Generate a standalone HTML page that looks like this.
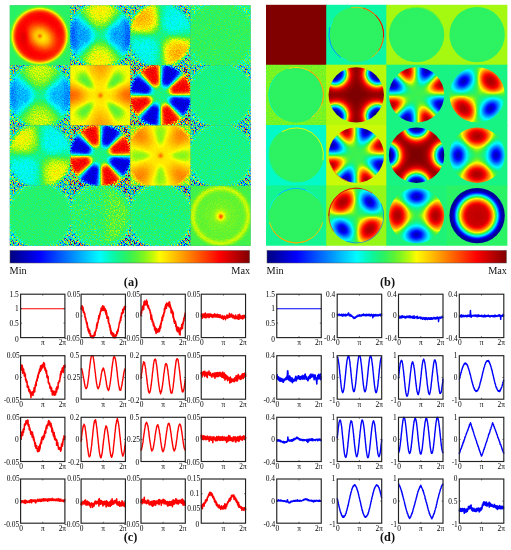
<!DOCTYPE html><html><head><meta charset="utf-8"><title>Mueller matrix</title><style>html,body{margin:0;padding:0;background:#fff}svg{display:block}</style></head><body><svg width="511" height="550" viewBox="0 0 511 550"><defs><filter id="fa" color-interpolation-filters="sRGB" x="0" y="0" width="1" height="1">
<feGaussianBlur in="SourceGraphic" stdDeviation="1.1" result="b"/>
<feColorMatrix in="b" type="matrix" values="0 1 0 0 0 0 0 0 0 0 0 0 0 0 0 0 0 0 0 1" result="a"/>
<feTurbulence type="fractalNoise" baseFrequency="0.8" numOctaves="2" seed="7"/>
<feColorMatrix type="matrix" values="2.4 0 0 0 -0.7 0 0 0 0 0 0 0 0 0 0 0 0 0 0 1" result="n"/>
<feComposite in="a" in2="n" operator="arithmetic" k1="1" k2="0" k3="0" k4="0" result="an"/>
<feComposite in="b" in2="an" operator="arithmetic" k1="0" k2="1" k3="1" k4="0"/>
<feColorMatrix type="matrix" values="1 0 0 0 0 1 0 0 0 0 1 0 0 0 0 0 0 0 0 1"/>
<feComponentTransfer><feFuncR type="table" tableValues="0 0 0 0 0 0 0 0 0 0 0 0 0 0 0 0 0 0 0 0 0 0 0 0 0 0.002 0.01 0.025 0.047 0.077 0.116 0.162 0.218 0.282 0.356 0.439 0.531 0.633 0.745 0.868 1 1 1 1 1 1 1 1 1 1 1 1 1 1 1 1 1 0.938 0.875 0.812 0.75 0.688 0.625 0.562 0.5"/><feFuncG type="table" tableValues="0 0 0 0 0 0 0 0 0 0.062 0.125 0.187 0.25 0.312 0.375 0.437 0.5 0.562 0.625 0.687 0.749 0.81 0.871 0.931 0.99 0.985 0.979 0.973 0.966 0.96 0.955 0.951 0.95 0.951 0.955 0.96 0.966 0.973 0.979 0.985 0.99 0.931 0.871 0.81 0.749 0.687 0.625 0.562 0.5 0.437 0.375 0.312 0.25 0.187 0.125 0.062 0 0 0 0 0 0 0 0 0"/><feFuncB type="table" tableValues="0.5 0.562 0.625 0.688 0.75 0.812 0.875 0.938 1 1 1 1 1 1 1 1 1 1 1 1 1 1 1 1 1 0.902 0.808 0.717 0.631 0.549 0.471 0.398 0.33 0.266 0.208 0.156 0.109 0.069 0.036 0.012 0 0 0 0 0 0 0 0 0 0 0 0 0 0 0 0 0 0 0 0 0 0 0 0 0"/></feComponentTransfer><feGaussianBlur stdDeviation="0.55"/>
</filter><filter id="fb" color-interpolation-filters="sRGB" x="0" y="0" width="1" height="1">
<feGaussianBlur in="SourceGraphic" stdDeviation="1.1" result="b"/>
<feColorMatrix in="b" type="matrix" values="0 1 0 0 0 0 0 0 0 0 0 0 0 0 0 0 0 0 0 1" result="a"/>
<feTurbulence type="fractalNoise" baseFrequency="0.8" numOctaves="2" seed="7"/>
<feColorMatrix type="matrix" values="2.4 0 0 0 -0.7 0 0 0 0 0 0 0 0 0 0 0 0 0 0 1" result="n"/>
<feComposite in="a" in2="n" operator="arithmetic" k1="1" k2="0" k3="0" k4="0" result="an"/>
<feComposite in="b" in2="an" operator="arithmetic" k1="0" k2="1" k3="1" k4="0"/>
<feColorMatrix type="matrix" values="1 0 0 0 0 1 0 0 0 0 1 0 0 0 0 0 0 0 0 1"/>
<feComponentTransfer><feFuncR type="table" tableValues="0 0 0 0 0 0 0 0 0 0 0 0 0 0 0 0 0 0 0 0 0 0 0 0 0 0.002 0.01 0.025 0.047 0.077 0.116 0.162 0.218 0.282 0.356 0.439 0.531 0.633 0.745 0.868 1 1 1 1 1 1 1 1 1 1 1 1 1 1 1 1 1 0.938 0.875 0.812 0.75 0.688 0.625 0.562 0.5"/><feFuncG type="table" tableValues="0 0 0 0 0 0 0 0 0 0.062 0.125 0.187 0.25 0.312 0.375 0.437 0.5 0.562 0.625 0.687 0.749 0.81 0.871 0.931 0.99 0.985 0.979 0.973 0.966 0.96 0.955 0.951 0.95 0.951 0.955 0.96 0.966 0.973 0.979 0.985 0.99 0.931 0.871 0.81 0.749 0.687 0.625 0.562 0.5 0.437 0.375 0.312 0.25 0.187 0.125 0.062 0 0 0 0 0 0 0 0 0"/><feFuncB type="table" tableValues="0.5 0.562 0.625 0.688 0.75 0.812 0.875 0.938 1 1 1 1 1 1 1 1 1 1 1 1 1 1 1 1 1 0.902 0.808 0.717 0.631 0.549 0.471 0.398 0.33 0.266 0.208 0.156 0.109 0.069 0.036 0.012 0 0 0 0 0 0 0 0 0 0 0 0 0 0 0 0 0 0 0 0 0 0 0 0 0"/></feComponentTransfer>
</filter><clipPath id="c1"><rect x="9.80" y="5.30" width="60.50" height="60.00"/></clipPath><clipPath id="c2"><rect x="70.30" y="5.30" width="60.10" height="60.00"/></clipPath><clipPath id="c3"><rect x="130.40" y="5.30" width="60.20" height="60.00"/></clipPath><clipPath id="c4"><rect x="190.60" y="5.30" width="60.00" height="60.00"/></clipPath><clipPath id="c5"><rect x="9.80" y="65.30" width="60.50" height="60.20"/></clipPath><clipPath id="c6"><rect x="70.30" y="65.30" width="60.10" height="60.20"/></clipPath><clipPath id="c7"><rect x="130.40" y="65.30" width="60.20" height="60.20"/></clipPath><clipPath id="c8"><rect x="190.60" y="65.30" width="60.00" height="60.20"/></clipPath><clipPath id="c9"><rect x="9.80" y="125.50" width="60.50" height="60.20"/></clipPath><clipPath id="c10"><rect x="70.30" y="125.50" width="60.10" height="60.20"/></clipPath><clipPath id="c11"><rect x="130.40" y="125.50" width="60.20" height="60.20"/></clipPath><clipPath id="c12"><rect x="190.60" y="125.50" width="60.00" height="60.20"/></clipPath><clipPath id="c13"><rect x="9.80" y="185.70" width="60.50" height="60.10"/></clipPath><clipPath id="c14"><rect x="70.30" y="185.70" width="60.10" height="60.10"/></clipPath><clipPath id="c15"><rect x="130.40" y="185.70" width="60.20" height="60.10"/></clipPath><clipPath id="c16"><rect x="190.60" y="185.70" width="60.00" height="60.10"/></clipPath><clipPath id="cpb"><rect x="266.00" y="4.60" width="241.40" height="241.20"/></clipPath><clipPath id="cb10"><rect x="266.00" y="64.70" width="61.00" height="61.10"/></clipPath><clipPath id="c17"><circle cx="356.25" cy="34.65" r="27.70"/></clipPath><clipPath id="c18"><circle cx="416.55" cy="34.65" r="27.70"/></clipPath><clipPath id="c19"><circle cx="477.10" cy="34.65" r="27.70"/></clipPath><clipPath id="c20"><circle cx="296.10" cy="94.85" r="27.70"/></clipPath><clipPath id="c21"><circle cx="356.25" cy="94.85" r="27.70"/></clipPath><clipPath id="c22"><circle cx="416.55" cy="94.85" r="27.70"/></clipPath><clipPath id="c23"><circle cx="477.10" cy="94.85" r="27.70"/></clipPath><clipPath id="c24"><circle cx="296.10" cy="155.20" r="27.70"/></clipPath><clipPath id="c25"><circle cx="356.25" cy="155.20" r="27.70"/></clipPath><clipPath id="c26"><circle cx="416.55" cy="155.20" r="27.70"/></clipPath><clipPath id="c27"><circle cx="477.10" cy="155.20" r="27.70"/></clipPath><clipPath id="c28"><circle cx="296.10" cy="215.60" r="27.70"/></clipPath><clipPath id="c29"><circle cx="356.25" cy="215.60" r="27.70"/></clipPath><clipPath id="c30"><circle cx="416.55" cy="215.60" r="27.70"/></clipPath><clipPath id="c31"><circle cx="477.10" cy="215.60" r="27.70"/></clipPath><linearGradient id="cb"><stop offset="0.0000" stop-color="#000080"/><stop offset="0.0312" stop-color="#00009f"/><stop offset="0.0625" stop-color="#0000bf"/><stop offset="0.0938" stop-color="#0000df"/><stop offset="0.1250" stop-color="#0000ff"/><stop offset="0.1562" stop-color="#0020ff"/><stop offset="0.1875" stop-color="#0040ff"/><stop offset="0.2188" stop-color="#0060ff"/><stop offset="0.2500" stop-color="#007fff"/><stop offset="0.2812" stop-color="#009fff"/><stop offset="0.3125" stop-color="#00bfff"/><stop offset="0.3438" stop-color="#00deff"/><stop offset="0.3750" stop-color="#00fcff"/><stop offset="0.4062" stop-color="#03face"/><stop offset="0.4375" stop-color="#0cf6a1"/><stop offset="0.4688" stop-color="#1df378"/><stop offset="0.5000" stop-color="#37f254"/><stop offset="0.5312" stop-color="#5bf335"/><stop offset="0.5625" stop-color="#87f61c"/><stop offset="0.5938" stop-color="#befa09"/><stop offset="0.6250" stop-color="#fffc00"/><stop offset="0.6562" stop-color="#ffde00"/><stop offset="0.6875" stop-color="#ffbf00"/><stop offset="0.7188" stop-color="#ff9f00"/><stop offset="0.7500" stop-color="#ff7f00"/><stop offset="0.7812" stop-color="#ff6000"/><stop offset="0.8125" stop-color="#ff4000"/><stop offset="0.8438" stop-color="#ff2000"/><stop offset="0.8750" stop-color="#ff0000"/><stop offset="0.9062" stop-color="#df0000"/><stop offset="0.9375" stop-color="#bf0000"/><stop offset="0.9688" stop-color="#9f0000"/><stop offset="1.0000" stop-color="#800000"/></linearGradient></defs><rect width="511" height="550" fill="#fff"/><rect x="9.80" y="5.30" width="240.80" height="240.50" fill="#4a9a8a"/><g clip-path="url(#c1)"><g transform="translate(7,3)" filter="url(#fa)"><rect width="66" height="66" fill="#7a0300"/><g transform="translate(0,-1) scale(2)"><path stroke="#7c0300" d="M14 2h5M10 3h1M21 3h1M8 4h1M25 5h1M26 6h1M27 7h1M28 8h1M3 9h1M29 10h1M2 11h1M30 12h1M1 14h1M1 15h1M1 19h1M1 20h1M30 22h1M2 23h1M29 24h1M3 25h1M4 26h1M28 26h1M27 27h1M26 28h1M7 29h1M25 29h1M23 30h1M21 31h1M14 32h4"/><path stroke="#7e0300" d="M11 3h1M23 4h1M7 5h1M4 8h1M1 16h1M1 17h1M1 18h1M30 21h1M5 27h1M6 28h1M9 30h1M11 31h1"/><path stroke="#830300" d="M12 3h1M24 5h1M29 11h1M30 14h1M30 20h1M29 23h1M22 30h1"/><path stroke="#890300" d="M13 3h1M8 5h1M25 6h1M26 7h1M4 9h1M10 30h1"/><path stroke="#8f0300" d="M14 3h1M7 6h1M29 12h1M28 24h1M6 27h1M15 31h3"/><path stroke="#930300" d="M15 3h2M21 4h1M23 5h1M6 7h1M2 15h1M2 19h1"/><path stroke="#910300" d="M17 3h1M5 8h1M28 10h1M23 29h1M21 30h1"/><path stroke="#8d0300" d="M18 3h1M3 11h1M2 14h1M2 20h1M29 22h1M5 26h1M7 28h1"/><path stroke="#870300" d="M19 3h1M22 4h1M27 8h1M30 15h1M30 19h1M4 25h1M26 27h1M13 31h1"/><path stroke="#810300" d="M20 3h1M28 9h1M3 10h1M28 25h1M24 29h1M12 31h1"/><path stroke="#800300" d="M9 4h1M6 6h1M5 7h1M2 12h1M30 13h1M2 22h1M3 24h1M20 31h1"/><path stroke="#8b0300" d="M10 4h1M30 16h1M30 17h1M30 18h1M3 23h1M14 31h1M18 31h1"/><path stroke="#990300" d="M11 4h1M2 17h1M29 21h1M3 22h1"/><path stroke="#a50300" d="M12 4h1M25 7h1M29 14h1M17 16h1M16 19h1M18 19h1M29 20h1M5 25h1"/><path stroke="#af0300" d="M13 4h1M10 5h1M6 8h1M14 15h1M18 15h1M15 17h1M20 17h1M14 19h1M15 20h1M4 23h1"/><path stroke="#b70300" d="M14 4h1M23 6h1M18 14h1M21 18h1M13 19h1M21 19h1M14 20h1M20 21h1M15 30h1"/><path stroke="#bb0300" d="M15 4h2M15 13h2M13 14h1M3 15h1M20 15h1M12 16h1M12 17h1M3 19h1M17 22h3M26 25h1M24 27h1M9 28h1M11 29h1"/><path stroke="#b90300" d="M17 4h1M21 5h1M21 17h1M21 20h1M15 21h1M16 30h1"/><path stroke="#b50300" d="M18 4h1M28 12h1M14 14h1M13 15h1M19 15h1M20 16h1M21 29h1M17 30h1"/><path stroke="#ad0300" d="M19 4h1M7 7h1M29 15h1M19 16h1M20 18h1M20 19h1M29 19h1M19 20h1"/><path stroke="#a10300" d="M20 4h1M28 23h1M26 26h1M25 27h1M12 30h1"/><path stroke="#9b0300" d="M9 5h1M3 12h1M29 13h1M4 24h1M27 25h1M24 28h1"/><path stroke="#bf0300" d="M11 5h1M24 7h1M5 10h1M14 13h1M3 16h1M3 18h1M22 19h1M13 20h1M14 21h1M28 21h1M4 22h1M16 22h1M20 22h1"/><path stroke="#cb0300" d="M12 5h1M13 12h1M18 12h1M21 14h1M28 14h1M4 21h1M21 23h1M10 28h1"/><path stroke="#d10300" d="M13 5h1M23 7h1M26 10h1M13 11h1M17 11h1M24 18h1M28 18h1M24 19h1M11 20h1M24 20h1M14 23h1M16 24h1M25 25h1M24 26h1M18 29h1"/><path stroke="#d50300" d="M14 5h1M18 5h1M21 6h1M9 7h1M24 8h1M25 9h1M6 10h1M10 13h1M10 17h1M10 18h1M11 21h1M27 21h1M12 22h1M24 22h1M13 23h1M24 23h1M26 23h1M6 24h1M15 24h1M22 24h2M18 25h2M9 27h1M11 28h1M15 29h3"/><path stroke="#d70300" d="M15 5h3M11 6h1M8 8h1M7 9h1M13 10h4M11 11h1M19 11h1M5 12h1M10 12h1M21 12h1M22 13h1M23 14h1M4 15h1M24 16h1M25 18h1M4 19h1M10 19h1M25 19h1M25 20h3M25 21h2M5 22h1M25 22h2M25 23h1M14 24h1M24 24h2M7 25h1M17 25h1M20 25h5M8 26h1M22 26h2M22 27h1M20 28h1"/><path stroke="#cf0300" d="M19 5h1M10 6h1M5 11h1M14 11h3M19 12h1M28 15h1M23 16h1M28 19h1M12 21h1M13 22h1M23 22h1M27 22h1M5 23h1M22 23h1M17 24h4M23 27h1M13 29h1"/><path stroke="#c70300" d="M20 5h1M8 7h1M6 9h1M27 11h1M14 12h3M12 13h1M19 13h1M11 15h1M22 16h1M11 17h1M12 20h1M13 21h1M17 23h1M20 23h1M7 26h1M12 29h1"/><path stroke="#a70300" d="M22 5h1M8 6h1M15 16h1M18 16h1M15 18h1M19 18h1M19 19h1M3 21h1"/><path stroke="#bd0300" d="M9 6h1M26 9h1M17 13h1M19 14h1M12 15h1M21 16h1M12 18h1M21 21h1M5 24h1M25 26h1"/><path stroke="#db0300" d="M12 6h4M17 6h3M10 7h2M21 7h1M9 8h2M23 8h1M8 9h1M13 9h4M24 9h1M7 10h1M11 10h1M19 10h1M25 10h1M6 11h2M10 11h1M6 12h1M9 12h1M22 12h1M26 12h1M5 13h1M9 13h1M23 13h1M26 13h1M5 14h1M9 14h1M24 14h1M27 14h1M5 15h1M27 15h1M25 16h3M26 17h1M5 20h1M5 21h1M10 21h1M6 23h1M7 24h1M13 24h1M8 25h1M14 25h2M9 26h1M17 26h3M10 27h2M18 27h2M13 28h6"/><path stroke="#dd0300" d="M16 6h1M12 7h3M19 7h2M11 8h2M21 8h2M9 9h4M17 9h2M23 9h1M8 10h3M20 10h1M24 10h1M8 11h2M21 11h1M25 11h1M7 12h1M23 12h1M25 12h1M6 13h1M24 13h2M6 14h1M25 14h2M9 15h1M25 15h2M5 16h1M5 17h1M5 18h1M5 19h1M6 21h1M6 22h1M10 22h1M7 23h1M11 23h1M8 24h1M12 24h1M9 25h1M13 25h1M10 26h1M15 26h2M12 27h6"/><path stroke="#d90300" d="M20 6h1M22 7h1M12 10h1M17 10h2M20 11h1M26 11h1M27 13h1M24 15h1M4 16h1M4 17h1M25 17h1M27 17h1M4 18h1M26 18h2M26 19h2M10 20h1M11 22h1M12 23h1M16 25h1M20 26h2M20 27h2M12 28h1M19 28h1"/><path stroke="#c90300" d="M22 6h1M7 8h1M17 12h1M11 14h1M11 18h1M23 18h1M23 19h1M23 20h1M28 20h1M14 22h1M22 22h1M16 23h1"/><path stroke="#9f0300" d="M24 6h1"/><path stroke="#df0300" d="M15 7h4M13 8h8M19 9h4M21 10h3M22 11h3M8 12h1M24 12h1M7 13h2M7 14h2M6 15h1M6 16h1M9 16h1M6 17h1M6 18h1M6 19h1M6 20h1M7 22h1M8 23h1M10 23h1M9 24h3M10 25h3M11 26h4"/><path stroke="#c10300" d="M25 8h1M4 12h1M18 13h1M28 13h1M12 14h1M3 17h1M22 18h1M12 19h1M22 20h1"/><path stroke="#a30300" d="M26 8h1M28 11h1M18 17h1M17 18h2M17 19h1M8 28h1M22 29h1"/><path stroke="#a90300" d="M5 9h1M3 13h1M16 15h1M14 17h1M19 17h1M15 19h1M17 20h2M19 30h1"/><path stroke="#9d0300" d="M27 9h1M4 10h1M20 30h1"/><path stroke="#b30300" d="M27 10h1M3 14h1M15 14h1M17 14h1M29 17h1M13 18h1M3 20h1M16 21h1M19 21h1M28 22h1M23 28h1M14 30h1"/><path stroke="#b10300" d="M4 11h1M16 14h1M13 16h1M29 16h1M13 17h1M16 18h1M29 18h1M20 20h1M17 21h2M27 24h1M18 30h1"/><path stroke="#d30300" d="M12 11h1M18 11h1M11 12h1M20 12h1M27 12h1M21 13h1M4 14h1M10 14h1M22 14h1M10 15h1M23 15h1M10 16h1M28 16h1M24 17h1M28 17h1M4 20h1M24 21h1M23 23h1M21 24h1M21 28h1M14 29h1"/><path stroke="#cd0300" d="M12 12h1M4 13h1M11 13h1M20 13h1M22 15h1M23 17h1M11 19h1M23 21h1M15 23h1M26 24h1M19 29h1"/><path stroke="#850300" d="M2 13h1M2 21h1M27 26h1M25 28h1M8 29h1M19 31h1"/><path stroke="#c30300" d="M13 13h1M22 17h1M15 22h1M27 23h1M8 27h1M20 29h1"/><path stroke="#c50300" d="M20 14h1M21 15h1M11 16h1M22 21h1M21 22h1M18 23h2M6 25h1M22 28h1"/><path stroke="#e10300" d="M7 15h2M9 17h1M9 18h1M9 19h1M9 20h1M7 21h1M9 21h1M8 22h2M9 23h1"/><path stroke="#ab0300" d="M15 15h1M17 15h1M14 16h1M16 16h1M17 17h1M14 18h1M16 20h1M6 26h1M7 27h1M10 29h1M13 30h1"/><path stroke="#970300" d="M2 16h1M2 18h1M9 29h1"/><path stroke="#e30300" d="M7 16h2M7 17h1M7 18h1M7 19h1M7 20h1M8 21h1"/><path stroke="#e50300" d="M8 17h1M8 19h1M8 20h1"/><path stroke="#e90300" d="M16 17h1"/><path stroke="#e70300" d="M8 18h1"/><path stroke="#950300" d="M11 30h1"/></g></g></g><g clip-path="url(#c2)"><g transform="translate(68,3)" filter="url(#fa)"><rect width="66" height="66" fill="#20a800"/><g transform="translate(0,-1) scale(2)"><path stroke="#20a200" d="M8 1h1M23 1h1M25 2h1M5 3h1M4 4h1M3 5h1M2 6h1M30 7h1M0 9h1M32 11h1M32 22h1M0 24h1M31 25h1M1 26h1M29 28h1M28 29h1M27 30h1M6 31h1M8 32h1M24 32h1M10 33h1M21 33h1"/><path stroke="#209c00" d="M9 1h1M7 2h1M26 3h1M29 6h1M1 8h1M31 9h1M0 10h1M31 24h1M30 26h1M2 27h1M3 28h1M4 29h1M5 30h1M25 31h1M23 32h1M11 33h1"/><path stroke="#308400" d="M10 1h1M31 23h1M30 25h1M24 31h1M22 32h1"/><path stroke="#407200" d="M11 1h1M15 33h2"/><path stroke="#505a00" d="M12 1h1M9 2h1M11 32h1"/><path stroke="#584800" d="M13 1h1M9 31h1"/><path stroke="#684200" d="M14 1h1"/><path stroke="#683c00" d="M15 1h1M17 1h1M10 2h1M8 3h1M22 31h1M19 32h1"/><path stroke="#703c00" d="M16 1h1"/><path stroke="#604800" d="M18 1h1"/><path stroke="#505400" d="M19 1h1M24 3h1"/><path stroke="#406600" d="M20 1h1M27 5h1M21 32h1"/><path stroke="#307e00" d="M21 1h1M8 2h1M25 3h1M5 4h1M4 5h1M3 6h1M1 9h1M32 14h1M32 19h1M0 22h1M2 26h1M6 30h1M13 33h1M18 33h1"/><path stroke="#209600" d="M22 1h1M27 4h1M28 5h1M32 12h1M32 21h1M0 23h1M1 25h1M29 27h1M26 30h1M20 33h1"/><path stroke="#802a00" d="M11 2h1M17 32h1"/><path stroke="#8b1800" d="M12 2h1M11 31h1"/><path stroke="#931600" d="M13 2h1"/><path stroke="#971300" d="M14 2h1M17 2h1"/><path stroke="#971200" d="M15 2h2M13 3h2M17 3h3M13 4h2M17 4h3M13 5h2M17 5h2M14 6h5M14 27h4M13 28h2M17 28h2M13 29h2M17 29h2M13 30h2M17 30h3M13 31h2M17 31h2"/><path stroke="#951400" d="M18 2h1"/><path stroke="#8f1800" d="M19 2h1M20 31h1"/><path stroke="#832400" d="M20 2h1"/><path stroke="#703600" d="M21 2h1M13 32h1"/><path stroke="#504e00" d="M22 2h1M6 4h1M7 30h1"/><path stroke="#307200" d="M23 2h1M31 11h1M0 12h1M32 16h1M32 18h1M3 27h1M10 32h1M17 33h1"/><path stroke="#209000" d="M24 2h1M28 28h1M27 29h1M7 31h1M12 33h1"/><path stroke="#208a00" d="M6 3h1M2 7h1M30 8h1M31 10h1M0 11h1M32 13h1M32 20h1M9 32h1M19 33h1"/><path stroke="#406000" d="M7 3h1M23 31h1"/><path stroke="#811e00" d="M9 3h1"/><path stroke="#8f1400" d="M10 3h1"/><path stroke="#951200" d="M11 3h2M20 3h1M12 4h1M20 4h1M12 5h1M19 5h1M12 6h2M19 6h1M13 7h6M14 26h5M13 27h1M18 27h2M12 28h1M19 28h1M12 29h1M19 29h2M11 30h2M20 30h1"/><path stroke="#991200" d="M15 3h2M15 4h2M15 5h2M15 28h2M15 29h2M15 30h2M15 31h2"/><path stroke="#931200" d="M21 3h1M11 4h1M11 5h1M20 5h1M20 6h1M12 7h1M19 7h1M14 8h5M14 25h4M13 26h1M19 26h1M12 27h1M11 28h1M20 28h1M11 29h1M21 30h1"/><path stroke="#891900" d="M22 3h1"/><path stroke="#703000" d="M23 3h1"/><path stroke="#722400" d="M7 4h1"/><path stroke="#871400" d="M8 4h1"/><path stroke="#8d1200" d="M9 4h1M22 5h1M10 6h1M20 8h1M19 9h1M14 10h4M13 24h1M12 25h1M11 26h1M21 27h1M9 29h1M22 29h1"/><path stroke="#911200" d="M10 4h1M21 4h1M21 5h1M11 6h1M20 7h1M13 8h1M19 8h1M14 9h4M13 25h1M18 25h1M12 26h1M11 27h1M20 27h1M10 29h1M21 29h1M10 30h1"/><path stroke="#8f1200" d="M22 4h1M10 5h1M21 6h1M11 7h1M12 8h1M13 9h1M18 9h1M14 24h5M19 25h1M20 26h1M10 28h1M21 28h1"/><path stroke="#891200" d="M23 4h1M22 6h1M10 7h1M13 23h1M12 24h1M11 25h1M10 26h1M22 27h1M9 28h1M23 29h1"/><path stroke="#7c1e00" d="M24 4h1"/><path stroke="#583c00" d="M25 4h1M6 29h1"/><path stroke="#306c00" d="M26 4h1M28 6h1M32 17h1M0 21h1M29 26h1M4 28h1M5 29h1"/><path stroke="#504200" d="M5 5h1"/><path stroke="#701e00" d="M6 5h1"/><path stroke="#801200" d="M7 5h1M22 8h1M11 10h1M12 11h1M14 12h4M19 22h1M20 23h1M8 27h1M24 28h1"/><path stroke="#851200" d="M8 5h1M22 7h1M10 8h1M11 9h1M12 10h1M13 11h1M18 11h1M14 22h4M12 23h1M20 24h1M21 25h1M9 27h1M23 28h1"/><path stroke="#8b1200" d="M9 5h1M21 7h1M11 8h1M12 9h1M13 10h1M18 10h1M14 23h5M19 24h1M20 25h1M21 26h1M10 27h1M22 28h1"/><path stroke="#871200" d="M23 5h1M9 6h1M21 8h1M20 9h1M19 10h1M14 11h4M19 23h1M8 29h1"/><path stroke="#811200" d="M24 5h1M8 6h1M21 9h1M20 10h1M19 11h1M9 26h1M23 27h1"/><path stroke="#781600" d="M25 5h1"/><path stroke="#583600" d="M26 5h1M5 28h1"/><path stroke="#484200" d="M4 6h1"/><path stroke="#641800" d="M5 6h1"/><path stroke="#721200" d="M6 6h1M7 7h1M15 14h3M12 21h1M11 22h1M10 23h1M9 24h1M25 27h1"/><path stroke="#7a1200" d="M7 6h1M20 11h1M19 12h1M13 21h1M9 25h1M24 27h1"/><path stroke="#831200" d="M23 6h1M9 7h1M13 22h1M18 22h1M11 24h1M10 25h1M22 26h1M8 28h1"/><path stroke="#7c1200" d="M24 6h1M8 7h1M9 8h1M18 21h1M11 23h1M10 24h1M23 26h1"/><path stroke="#741200" d="M25 6h1M8 8h1M9 9h1M13 13h1M18 20h1M23 25h1M24 26h1"/><path stroke="#6c1400" d="M26 6h1"/><path stroke="#503000" d="M27 6h1"/><path stroke="#404e00" d="M3 7h1"/><path stroke="#541e00" d="M4 7h1"/><path stroke="#601200" d="M5 7h1M6 8h1M7 9h1M8 10h1M21 12h1M20 13h1M13 16h1M13 17h1M13 18h1M23 23h1M24 24h1M25 25h1M26 26h1"/><path stroke="#6a1200" d="M6 7h1M7 8h1M8 9h1M9 10h1M10 11h1M11 12h1M12 13h1M13 14h1M14 15h1M15 16h2M15 17h2M17 18h1M18 19h1M19 20h1M20 21h1M21 22h1M22 23h1M23 24h1M24 25h1M25 26h1M26 27h1"/><path stroke="#7e1200" d="M23 7h1M10 9h1M13 12h1M18 12h1M14 21h4M12 22h1M21 24h1M22 25h1M7 28h1"/><path stroke="#761200" d="M24 7h1M23 8h1M10 10h1M11 11h1M12 12h1M18 13h1M14 20h4M19 21h1M20 22h1M21 23h1M22 24h1"/><path stroke="#6c1200" d="M25 7h1M18 14h1M15 15h3M15 18h2"/><path stroke="#641200" d="M26 7h1M25 8h1M24 9h1M23 10h1M18 15h1M18 16h1M18 17h1M18 18h1"/><path stroke="#5a1500" d="M27 7h1"/><path stroke="#483c00" d="M28 7h1"/><path stroke="#307800" d="M29 7h1M32 15h1M1 24h1M14 33h1"/><path stroke="#306600" d="M2 8h1M30 9h1M31 22h1"/><path stroke="#442400" d="M3 8h1"/><path stroke="#4e1200" d="M4 8h1M5 9h1M8 12h1M11 15h1M11 16h1M11 17h1M11 18h1M10 20h1M7 22h1M6 23h1M26 24h1M27 25h1"/><path stroke="#561200" d="M5 8h1M6 9h1M8 11h1M22 12h1M20 14h1M23 22h1M7 23h1M26 25h1"/><path stroke="#6e1200" d="M24 8h1M23 9h1M22 10h1M21 11h1M20 12h1M19 13h1M14 19h1"/><path stroke="#5a1200" d="M26 8h1M25 9h1M24 10h1M19 16h1M19 17h1M19 18h1M12 19h1"/><path stroke="#501200" d="M27 8h1M6 10h1M7 11h1M23 12h1M10 13h1M11 19h1M21 20h1M9 21h1M24 22h1M25 23h1"/><path stroke="#481900" d="M28 8h1"/><path stroke="#384e00" d="M29 8h1"/><path stroke="#383c00" d="M2 9h1M1 11h1M30 23h1"/><path stroke="#421400" d="M3 9h1"/><path stroke="#461200" d="M4 9h1M26 11h1M6 12h1M8 13h1M24 13h1M22 14h1M10 15h1M10 16h1M10 17h1M10 18h1M8 20h1M23 20h1M6 21h1M25 21h1M5 23h1M27 24h1"/><path stroke="#781200" d="M22 9h1M21 10h1M14 13h4M8 26h1M7 27h1"/><path stroke="#521200" d="M26 9h1M25 10h1M24 11h1M11 14h1M20 15h1M20 16h1M20 17h1M20 18h1M22 21h1"/><path stroke="#481200" d="M27 9h1M5 10h1M25 12h1M23 13h1M10 14h1M21 15h1M21 16h1M21 17h1M21 18h1M10 19h1M9 20h1M7 21h1M24 21h1M6 22h1M26 23h1"/><path stroke="#421200" d="M28 9h1M27 10h1M5 12h1M26 13h1M7 14h2M23 14h3M9 15h1M22 15h1M22 16h1M22 17h1M22 18h1M8 19h2M23 19h2M6 20h1M25 20h1M26 21h1M5 22h1M27 23h1"/><path stroke="#402400" d="M29 9h1"/><path stroke="#306000" d="M1 10h1"/><path stroke="#381e00" d="M2 10h1"/><path stroke="#3c1200" d="M3 10h1M28 10h1M4 11h1M27 13h1M27 14h1M27 15h1M27 16h1M27 17h1M27 18h1M27 19h1M27 20h1M27 21h1M4 22h1M28 23h1"/><path stroke="#401200" d="M4 10h1M27 11h1M5 13h1M6 14h1M26 14h1M6 15h3M23 15h4M9 16h1M9 17h1M6 18h4M23 18h3M6 19h2M25 19h2M5 20h1M26 20h1M5 21h1M4 23h1M3 24h1M28 24h1"/><path stroke="#581200" d="M7 10h1M23 11h1M12 15h1M12 16h1M12 17h1M12 18h1M11 20h1M10 21h1M24 23h1M25 24h1"/><path stroke="#4a1200" d="M26 10h1M6 11h1M7 12h1M24 12h1M9 13h1M21 19h1M22 20h1M25 22h1"/><path stroke="#3a1500" d="M29 10h1"/><path stroke="#384200" d="M30 10h1"/><path stroke="#361400" d="M2 11h1"/><path stroke="#381200" d="M3 11h1M28 22h1"/><path stroke="#441200" d="M5 11h1M26 12h1M6 13h2M25 13h1M9 14h1M22 19h1M7 20h1M24 20h1M26 22h1M4 24h1"/><path stroke="#5e1200" d="M9 11h1M12 14h1M19 19h1M22 22h1M8 23h1M7 24h1M6 25h1M5 26h1"/><path stroke="#621200" d="M22 11h1M19 14h1M13 15h1"/><path stroke="#4c1200" d="M25 11h1M22 13h1M21 14h1M8 21h1M23 21h1M5 24h1M4 25h1"/><path stroke="#3a1200" d="M28 11h1M4 12h1M4 13h1M4 14h1M4 15h1M4 16h1M4 17h1M4 18h1M4 19h1M4 20h1M4 21h1M3 23h1"/><path stroke="#361200" d="M29 11h1M3 12h1M28 12h1M28 13h1M28 14h1M28 15h1M28 16h1M28 17h1M28 18h1M28 19h1M28 20h1M28 21h1M3 22h1"/><path stroke="#382a00" d="M30 11h1"/><path stroke="#302a00" d="M1 12h1M31 15h1M31 18h1"/><path stroke="#321200" d="M2 12h1M29 12h1M29 13h1M2 21h1M29 21h1"/><path stroke="#541200" d="M9 12h1M21 13h1M20 19h1M8 22h1M6 24h1M5 25h1"/><path stroke="#5c1200" d="M10 12h1M11 13h1M19 15h1M20 20h1M21 21h1M9 22h1"/><path stroke="#3e1200" d="M27 12h1M5 14h1M5 15h1M5 16h4M23 16h4M5 17h4M23 17h4M5 18h1M26 18h1M5 19h1M27 22h1"/><path stroke="#321800" d="M30 12h1"/><path stroke="#305400" d="M31 12h1M0 20h1M1 23h1"/><path stroke="#305a00" d="M0 13h1M30 24h1"/><path stroke="#301e00" d="M1 13h1"/><path stroke="#301200" d="M2 13h1M2 14h1M29 14h1M29 15h1M29 16h1M29 17h1M29 18h1M2 19h1M29 19h1M2 20h1M29 20h1"/><path stroke="#341200" d="M3 13h1M3 14h1M3 15h1M3 16h1M3 17h1M3 18h1M3 19h1M3 20h1M3 21h1M29 22h1"/><path stroke="#301400" d="M30 13h1"/><path stroke="#304200" d="M31 13h1M0 15h1M0 18h1"/><path stroke="#304e00" d="M0 14h1M31 21h1"/><path stroke="#2e1600" d="M1 14h1"/><path stroke="#701200" d="M14 14h1M15 19h3M13 20h1M8 25h1M7 26h1M6 27h1"/><path stroke="#2e1200" d="M30 14h1M2 15h1M30 15h1M2 16h1M30 16h1M2 17h1M30 17h1M2 18h1M30 18h1M30 19h1"/><path stroke="#303000" d="M31 14h1M31 19h1"/><path stroke="#2e1300" d="M1 15h1M1 16h1M1 18h1"/><path stroke="#303c00" d="M0 16h1M0 17h1M31 20h1"/><path stroke="#681200" d="M14 16h1M17 16h1M14 17h1M17 17h1M14 18h1M8 24h1M7 25h1"/><path stroke="#302400" d="M31 16h1M31 17h1"/><path stroke="#2c1200" d="M1 17h1"/><path stroke="#304800" d="M0 19h1"/><path stroke="#2e1500" d="M1 19h1"/><path stroke="#661200" d="M13 19h1M12 20h1M11 21h1M10 22h1M9 23h1M6 26h1"/><path stroke="#301900" d="M1 20h1"/><path stroke="#301300" d="M30 20h1"/><path stroke="#322400" d="M1 21h1"/><path stroke="#321700" d="M30 21h1"/><path stroke="#383600" d="M1 22h1"/><path stroke="#341300" d="M2 22h1"/><path stroke="#342400" d="M30 22h1"/><path stroke="#381800" d="M2 23h1"/><path stroke="#381300" d="M29 23h1"/><path stroke="#383000" d="M2 24h1"/><path stroke="#3c1e00" d="M29 24h1"/><path stroke="#385400" d="M2 25h1"/><path stroke="#441e00" d="M3 25h1"/><path stroke="#481500" d="M28 25h1"/><path stroke="#403c00" d="M29 25h1"/><path stroke="#404200" d="M3 26h1"/><path stroke="#541700" d="M4 26h1"/><path stroke="#581300" d="M27 26h1"/><path stroke="#482a00" d="M28 26h1"/><path stroke="#503600" d="M4 27h1"/><path stroke="#661500" d="M5 27h1"/><path stroke="#582400" d="M27 27h1"/><path stroke="#405a00" d="M28 27h1M26 29h1"/><path stroke="#741600" d="M6 28h1"/><path stroke="#781300" d="M25 28h1"/><path stroke="#642400" d="M26 28h1"/><path stroke="#405400" d="M27 28h1"/><path stroke="#7a1800" d="M7 29h1"/><path stroke="#811500" d="M24 29h1"/><path stroke="#683000" d="M25 29h1"/><path stroke="#782a00" d="M8 30h1M10 31h1M14 32h1"/><path stroke="#8b1600" d="M9 30h1"/><path stroke="#8d1400" d="M22 30h1"/><path stroke="#7e1e00" d="M23 30h1"/><path stroke="#604200" d="M24 30h1M12 32h1"/><path stroke="#406c00" d="M25 30h1M8 31h1"/><path stroke="#931400" d="M12 31h1"/><path stroke="#951300" d="M19 31h1"/><path stroke="#812400" d="M21 31h1M16 32h1"/><path stroke="#802400" d="M15 32h1"/><path stroke="#783000" d="M18 32h1"/><path stroke="#584e00" d="M20 32h1"/></g></g></g><g clip-path="url(#c3)"><g transform="translate(128,3)" filter="url(#fa)"><rect width="66" height="66" fill="#20a800"/><g transform="translate(0,-1) scale(2)"><path stroke="#20a200" d="M8 1h1M23 1h1M25 2h1M5 3h1M4 4h1M3 5h1M2 6h1M30 7h1M0 9h1M32 11h1M32 23h1M0 24h1M31 25h1M1 26h1M2 27h1M29 28h1M28 29h1M27 30h1M6 31h1M8 32h1M24 32h1M10 33h1M21 33h2"/><path stroke="#209c00" d="M9 1h1M7 2h1M26 3h1M29 6h1M1 8h1M31 9h1M0 10h1M32 22h1M30 26h1M3 28h1M4 29h1M5 30h1M25 31h1M11 33h1"/><path stroke="#308a00" d="M10 1h1M19 33h1"/><path stroke="#407200" d="M11 1h1"/><path stroke="#505a00" d="M12 1h1M28 27h1M26 29h1M23 31h1"/><path stroke="#584e00" d="M13 1h1M20 32h1"/><path stroke="#584200" d="M14 1h1"/><path stroke="#583c00" d="M15 1h1"/><path stroke="#503c00" d="M16 1h2"/><path stroke="#484800" d="M18 1h1M3 26h1"/><path stroke="#405400" d="M19 1h1M7 30h1"/><path stroke="#306600" d="M20 1h1M27 5h1M28 6h1"/><path stroke="#307e00" d="M21 1h1M25 3h1M4 5h1M31 23h1M30 25h1M6 30h1M24 31h1M18 33h1"/><path stroke="#209000" d="M22 1h1M24 2h1M6 3h1M2 7h1M32 21h1M29 27h1M26 30h1M7 31h1M9 32h1M12 33h1"/><path stroke="#308400" d="M8 2h1M5 4h1M3 6h1M1 9h1M31 10h1M32 20h1M0 22h1M2 26h1M22 32h1M13 33h1"/><path stroke="#506000" d="M9 2h1"/><path stroke="#684200" d="M10 2h1M1 11h1"/><path stroke="#802a00" d="M11 2h1M1 12h1"/><path stroke="#8b1e00" d="M12 2h1"/><path stroke="#891600" d="M13 2h1"/><path stroke="#811300" d="M14 2h1"/><path stroke="#761200" d="M15 2h1M2 16h2M12 16h1M18 18h1M17 19h1"/><path stroke="#6c1200" d="M16 2h1M16 3h1M16 4h1M16 5h1M16 6h1M16 7h1M16 14h1M16 15h1M16 16h2M2 17h1M13 17h4M15 18h1"/><path stroke="#661300" d="M17 2h1"/><path stroke="#621400" d="M18 2h1"/><path stroke="#5e1800" d="M19 2h1"/><path stroke="#581e00" d="M20 2h1M11 31h1"/><path stroke="#503000" d="M21 2h1M26 5h1M27 6h1"/><path stroke="#404e00" d="M22 2h1M24 3h1M31 12h1"/><path stroke="#307200" d="M23 2h1M29 7h1M32 15h1M0 21h1M4 28h1M5 29h1M10 32h1M15 33h3"/><path stroke="#406600" d="M7 3h1M2 8h1M32 17h1M29 26h1M25 30h1M21 32h1"/><path stroke="#703c00" d="M8 3h1M24 30h1M22 31h1"/><path stroke="#911e00" d="M9 3h1"/><path stroke="#9f1400" d="M10 3h1"/><path stroke="#9d1200" d="M11 3h1M12 6h1M12 9h1M12 10h1M11 11h1M2 12h2M10 12h1M5 13h4M22 21h1M28 21h1M20 23h1M20 29h1"/><path stroke="#971200" d="M12 3h1M13 7h1M13 8h1M13 9h1M13 10h1M2 13h1M7 14h3M28 20h1M20 21h1"/><path stroke="#8f1200" d="M13 3h1M13 12h1M12 13h1M3 14h1M11 14h1M21 19h1M27 19h1M20 20h1M19 21h1M18 22h1M18 28h1"/><path stroke="#851200" d="M14 3h1M14 4h1M3 15h2M11 15h1M21 18h1M25 18h1M17 23h1M17 24h1M17 25h1"/><path stroke="#781200" d="M15 3h1M15 4h1M15 13h1M4 16h2"/><path stroke="#661200" d="M17 3h1M17 4h1M17 5h1M17 6h1M17 13h1M30 15h1M21 16h3M2 18h3M15 21h1M15 22h1M15 23h1M15 24h1M15 25h1M14 31h1"/><path stroke="#621200" d="M18 3h1M18 4h1M18 5h1M17 9h1M17 10h1M17 11h1M18 13h1M19 14h1M29 14h2M20 15h1M24 15h3M8 18h4M2 19h3M13 20h1M14 21h1M14 26h1M14 27h1M13 31h1"/><path stroke="#601200" d="M19 3h1M18 6h1M18 7h1M27 14h2M21 15h3M5 19h2M12 19h1M2 20h1M14 22h1M14 24h1M14 25h1M13 28h1M13 29h1M13 30h1"/><path stroke="#5e1200" d="M20 3h1M19 4h1M19 5h1M19 6h1M18 8h1M18 9h1M18 12h1M19 13h1M28 13h2M20 14h1M25 14h2M7 19h2M11 19h1M3 20h3M12 20h1M2 21h1M13 21h1M14 23h1M13 26h1M13 27h1M12 29h1M12 30h1"/><path stroke="#5c1200" d="M21 3h1M20 4h2M20 5h1M20 6h1M19 7h1M19 8h1M18 10h1M18 11h1M19 12h1M27 12h3M20 13h1M25 13h3M21 14h4M9 19h2M6 20h2M11 20h1M3 21h3M12 21h1M13 22h1M13 24h1M13 25h1M12 26h1M12 27h1M12 28h1M11 29h1M11 30h1"/><path stroke="#581800" d="M22 3h1"/><path stroke="#502a00" d="M23 3h1M1 21h1M8 30h1M10 31h1"/><path stroke="#585400" d="M6 4h1M3 7h1M27 28h1"/><path stroke="#882a00" d="M7 4h1M3 8h1M28 26h1M25 29h1"/><path stroke="#a31400" d="M8 4h1"/><path stroke="#a51200" d="M9 4h1M9 5h1M10 6h1M10 7h1M10 8h1M10 9h1M3 10h2M9 10h1M5 11h4M24 22h3M23 23h1M27 23h2M22 24h1M21 25h1M21 26h1M22 28h1M23 29h1"/><path stroke="#a31200" d="M10 4h1M10 5h1M11 7h1M11 8h1M10 10h1M4 11h1M9 11h1M6 12h2M23 22h1M27 22h1M22 23h1M21 24h1M21 27h1M21 28h1M22 29h1"/><path stroke="#9f1200" d="M11 4h1M12 7h1M12 8h1M11 10h1M4 12h1M9 12h1M23 21h1M27 21h1M21 22h1M20 24h1M20 28h1M21 30h1"/><path stroke="#991200" d="M12 4h1M3 13h1M10 13h1M22 20h1M27 20h1M19 23h1M19 27h1M19 28h1"/><path stroke="#911200" d="M13 4h1M4 14h1M26 19h1M18 26h1M18 27h1"/><path stroke="#5a1200" d="M22 4h2M21 5h3M21 6h2M20 7h2M20 8h2M19 9h2M28 9h1M19 10h1M27 10h2M19 11h1M25 11h5M20 12h1M24 12h3M21 13h4M8 20h3M6 21h3M11 21h1M3 22h5M12 22h1M3 23h3M12 23h2M4 24h1M12 24h1M11 25h2M10 26h2M10 27h2M9 28h3M9 29h2M10 30h1"/><path stroke="#561800" d="M24 4h1M28 8h1M4 26h1"/><path stroke="#483c00" d="M25 4h1M30 10h1M31 13h1M1 22h1M4 27h1"/><path stroke="#306c00" d="M26 4h1M31 11h1M32 16h1M8 31h1"/><path stroke="#209600" d="M27 4h1M28 5h1M32 12h1M0 23h1M31 24h1M1 25h1M23 32h1M20 33h1"/><path stroke="#604800" d="M5 5h1M4 6h1M31 21h1"/><path stroke="#971e00" d="M6 5h1M4 7h1M29 24h1"/><path stroke="#a71200" d="M7 5h2M8 6h2M9 7h1M4 8h1M9 8h1M4 9h2M9 9h1M5 10h4M24 23h3M23 24h1M26 24h3M22 25h1M27 25h1M22 26h1M27 26h1M22 27h2M23 28h3"/><path stroke="#a11200" d="M11 5h1M11 6h1M11 9h1M3 11h1M10 11h1M5 12h1M8 12h1M24 21h3M22 22h1M28 22h2M21 23h1M20 25h1M20 26h1M20 27h1M21 29h1"/><path stroke="#9b1200" d="M12 5h1M12 11h1M11 12h1M4 13h1M9 13h1M23 20h4M21 21h1M29 21h1M20 22h1M19 24h1M19 25h1M19 26h1M20 30h1"/><path stroke="#931200" d="M13 5h1M13 11h1M5 14h1M10 14h1M22 19h4M30 20h1M18 23h1M18 24h1M18 25h1M19 30h1"/><path stroke="#871200" d="M14 5h1M14 12h1M13 13h1M12 14h1M5 15h1M22 18h3"/><path stroke="#7a1200" d="M15 5h1M15 6h1M15 12h1M14 14h1M13 15h1M6 16h3M10 16h2"/><path stroke="#581200" d="M24 5h1M23 6h3M22 7h5M22 8h6M21 9h7M20 10h7M20 11h5M21 12h3M9 21h2M8 22h4M6 23h6M5 24h7M4 25h7M5 26h5M6 27h4M7 28h2M8 29h1"/><path stroke="#581500" d="M25 5h1"/><path stroke="#9b1e00" d="M5 6h1"/><path stroke="#a91200" d="M6 6h2M5 7h4M5 8h4M6 9h3M24 24h2M23 25h4M23 26h4M24 27h3"/><path stroke="#951200" d="M13 6h1M12 12h1M11 13h1M6 14h1M21 20h1M29 20h1M19 22h1M19 29h1"/><path stroke="#891200" d="M14 6h1M6 15h1M10 15h1M20 19h1M30 19h1M19 20h1M18 21h1M18 31h1"/><path stroke="#581400" d="M26 6h1M27 7h1M29 10h1"/><path stroke="#8b1200" d="M14 7h1M14 8h1M14 11h1M7 15h3M29 19h1M18 30h1"/><path stroke="#7c1200" d="M15 7h1M15 8h1M15 9h1M15 11h1M9 16h1M19 18h1M18 19h1M17 20h1"/><path stroke="#641200" d="M17 7h1M17 8h1M17 12h1M18 14h1M19 15h1M27 15h3M5 18h3M12 18h1M13 19h1M14 20h1M14 28h1M14 29h1M14 30h1"/><path stroke="#483600" d="M28 7h1M2 24h1M5 28h1"/><path stroke="#6a1200" d="M16 8h1M16 9h1M16 10h1M16 11h1M16 12h1M16 13h1M17 15h1M18 16h1M28 16h3M3 17h10M14 18h1M15 19h1M15 30h1M15 31h1"/><path stroke="#404800" d="M29 8h1M9 31h1"/><path stroke="#208a00" d="M30 8h1M0 11h1M28 28h1M27 29h1"/><path stroke="#704200" d="M2 9h1"/><path stroke="#a11500" d="M3 9h1"/><path stroke="#8d1200" d="M14 9h1M14 10h1M2 14h1M28 19h1M18 29h1"/><path stroke="#522400" d="M29 9h1"/><path stroke="#406000" d="M30 9h1M1 10h1M0 13h1M31 22h1"/><path stroke="#8f2400" d="M2 10h1"/><path stroke="#7e1200" d="M15 10h1M17 30h1M17 31h1"/><path stroke="#9d1500" d="M2 11h1"/><path stroke="#542400" d="M30 11h1"/><path stroke="#307800" d="M0 12h1M32 14h1M32 19h1M1 24h1M3 27h1M14 33h1"/><path stroke="#5a1800" d="M30 12h1"/><path stroke="#871e00" d="M1 13h1"/><path stroke="#811200" d="M14 13h1M13 14h1M12 15h1M20 18h1M28 18h1M19 19h1M18 20h1M17 28h1"/><path stroke="#5e1300" d="M30 13h1"/><path stroke="#208400" d="M32 13h1"/><path stroke="#505400" d="M0 14h1M30 24h1"/><path stroke="#871800" d="M1 14h1"/><path stroke="#741200" d="M15 14h1M14 15h1M13 16h1M20 17h7"/><path stroke="#681200" d="M17 14h1M18 15h1M19 16h2M24 16h4M13 18h1M14 19h1M15 20h1M15 26h1M15 27h1M15 28h1M15 29h1"/><path stroke="#583000" d="M31 14h1"/><path stroke="#584800" d="M0 15h1"/><path stroke="#801500" d="M1 15h1"/><path stroke="#831200" d="M2 15h1M26 18h2M17 22h1M17 26h1M17 27h1"/><path stroke="#701200" d="M15 15h1M14 16h1M18 17h1M17 18h1M16 20h1M16 29h1M16 30h1M16 31h1"/><path stroke="#5c2400" d="M31 15h1"/><path stroke="#504200" d="M0 16h1M0 17h1"/><path stroke="#741300" d="M1 16h1"/><path stroke="#6e1200" d="M15 16h1M17 17h1M16 18h1M16 19h1"/><path stroke="#602400" d="M31 16h1M15 32h1"/><path stroke="#6a1300" d="M1 17h1"/><path stroke="#721200" d="M19 17h1M27 17h4M16 21h1M16 22h1M16 23h1M16 24h1M16 25h1M16 26h1M16 27h1M16 28h1"/><path stroke="#681e00" d="M31 17h1"/><path stroke="#484200" d="M0 18h1M6 29h1M12 32h1"/><path stroke="#661400" d="M1 18h1"/><path stroke="#801200" d="M29 18h2M17 21h1M17 29h1"/><path stroke="#702400" d="M31 18h1"/><path stroke="#406c00" d="M32 18h1"/><path stroke="#484e00" d="M0 19h1"/><path stroke="#601600" d="M1 19h1"/><path stroke="#702a00" d="M31 19h1"/><path stroke="#405a00" d="M0 20h1M1 23h1M2 25h1M11 32h1"/><path stroke="#5c1e00" d="M1 20h1"/><path stroke="#683600" d="M31 20h1"/><path stroke="#951600" d="M30 21h1"/><path stroke="#5a1300" d="M2 22h1"/><path stroke="#8d1e00" d="M30 22h1"/><path stroke="#561e00" d="M2 23h1"/><path stroke="#a11300" d="M29 23h1M22 30h1"/><path stroke="#783600" d="M30 23h1"/><path stroke="#581300" d="M3 24h1"/><path stroke="#541e00" d="M3 25h1M7 29h1"/><path stroke="#a51400" d="M28 25h1"/><path stroke="#783c00" d="M29 25h1"/><path stroke="#561600" d="M5 27h1"/><path stroke="#932400" d="M27 27h1"/><path stroke="#561700" d="M6 28h1"/><path stroke="#912400" d="M26 28h1"/><path stroke="#a31500" d="M24 29h1"/><path stroke="#581700" d="M9 30h1"/><path stroke="#951e00" d="M23 30h1"/><path stroke="#5e1400" d="M12 31h1"/><path stroke="#911300" d="M19 31h1"/><path stroke="#931700" d="M20 31h1"/><path stroke="#8b2400" d="M21 31h1"/><path stroke="#503600" d="M13 32h1"/><path stroke="#582a00" d="M14 32h1"/><path stroke="#622400" d="M16 32h1"/><path stroke="#682a00" d="M17 32h1"/><path stroke="#683000" d="M18 32h1"/><path stroke="#683c00" d="M19 32h1"/></g></g></g><g clip-path="url(#c4)"><g transform="translate(188,3)" filter="url(#fa)"><rect width="66" height="66" fill="#741200"/><g transform="translate(0,-1) scale(2)"><path stroke="#584200" d="M0 1h9M24 1h9M0 2h7M26 2h7M0 3h6M27 3h6M0 4h4M28 4h5M0 5h3M29 5h4M0 6h3M30 6h3M0 7h2M31 7h2M0 8h1M31 8h2M0 9h1M32 9h1M32 10h1M32 23h1M0 24h1M32 24h1M0 25h1M32 25h1M0 26h2M31 26h2M0 27h2M30 27h3M0 28h3M29 28h4M0 29h4M28 29h5M0 30h5M27 30h6M0 31h7M26 31h7M0 32h8M24 32h9M0 33h10M22 33h11"/><path stroke="#583c00" d="M9 1h1M22 1h2M7 2h1M25 2h1M6 3h1M26 3h1M4 4h1M27 4h1M3 5h1M28 5h1M29 6h1M2 7h1M30 7h1M1 8h1M31 9h1M0 10h1M32 11h1M32 12h1M32 22h1M0 23h1M31 24h1M1 25h1M31 25h1M30 26h1M2 27h1M3 28h1M4 29h1M5 30h1M7 31h1M25 31h1M8 32h1M23 32h1M10 33h2M20 33h2"/><path stroke="#603600" d="M10 1h1M8 2h1M5 4h1M4 5h1M3 6h1M30 8h1M1 9h1M31 10h1M32 13h1M32 20h1M0 22h1M1 24h1M2 26h1M28 28h1M27 29h1M6 30h1M24 31h1M22 32h1M13 33h1M19 33h1"/><path stroke="#603000" d="M11 1h1M21 1h1M23 2h1M25 3h1M29 7h1M2 8h1M0 12h1M32 14h1M32 15h1M32 19h1M0 21h1M31 23h1M30 25h1M3 27h1M4 28h1M5 29h1M8 31h1M10 32h1M14 33h5"/><path stroke="#682a00" d="M12 1h1M9 2h1M27 5h1M3 7h1M30 9h1M0 20h1M31 22h1M1 23h1M2 25h1M23 31h1M11 32h1"/><path stroke="#682400" d="M13 1h1M19 1h1M22 2h1M24 3h1M6 4h1M5 5h1M4 6h1M31 12h1M0 14h1M0 15h1M0 19h1M30 24h1M28 27h1M27 28h1M26 29h1M7 30h1M20 32h1"/><path stroke="#6a1e00" d="M14 1h1M10 2h1M2 9h1M6 29h1"/><path stroke="#6c1e00" d="M15 1h3M8 3h1M25 4h1M30 10h1M31 13h1M1 22h1M2 24h1M29 25h1M4 27h1M5 28h1M24 30h1M22 31h1M19 32h1"/><path stroke="#6a2400" d="M18 1h1M29 8h1M1 11h1M0 16h1M0 17h1M0 18h1M31 21h1M3 26h1M9 31h1M12 32h1"/><path stroke="#602a00" d="M20 1h1M7 3h1M26 4h1M28 6h1M1 10h1M31 11h1M0 13h1M32 16h1M32 17h1M32 18h1M29 26h1M25 30h1M21 32h1"/><path stroke="#701900" d="M11 2h1M7 4h1M31 14h1M31 19h1M1 21h1M25 29h1M17 32h1"/><path stroke="#721500" d="M12 2h1M5 6h1M1 20h1M30 22h1M29 24h1M7 29h1M23 30h1M11 31h1"/><path stroke="#741300" d="M13 2h1M18 2h1M10 3h1M8 4h1M25 5h1M28 8h1M3 9h1M2 11h1M30 12h1M1 15h1M1 16h1M1 17h1M1 18h1M30 21h1M5 27h1M24 29h1M12 31h1M20 31h1"/><path stroke="#741400" d="M19 2h1M22 3h1M1 14h1M1 19h1M6 28h1M9 30h1"/><path stroke="#721600" d="M20 2h1M9 3h1M6 5h1M4 7h1M1 13h1M31 16h1M31 17h1M2 23h1M27 27h1"/><path stroke="#6e1e00" d="M21 2h1M28 7h1M1 12h1M31 20h1M30 23h1M13 32h1"/><path stroke="#583600" d="M24 2h1M0 11h1M32 21h1M29 27h1M26 30h1M9 32h1M12 33h1"/><path stroke="#701800" d="M23 3h1M27 6h1M3 8h1M2 10h1M28 26h1M8 30h1M14 32h3"/><path stroke="#721400" d="M24 4h1M4 26h1"/><path stroke="#6e1800" d="M26 5h1M10 31h1M18 32h1"/><path stroke="#721700" d="M29 9h1M30 11h1M31 15h1M31 18h1M3 25h1M26 28h1M21 31h1"/></g></g></g><g clip-path="url(#c5)"><g transform="translate(7,63)" filter="url(#fa)"><rect width="66" height="66" fill="#20a800"/><g transform="translate(0,-1) scale(2)"><path stroke="#20a200" d="M9 1h1M23 1h1M7 2h1M25 2h1M4 4h1M28 4h1M3 5h1M29 5h1M1 8h1M31 8h1M0 10h1M32 10h1M0 23h1M32 23h1M1 25h1M2 27h1M30 27h1M3 28h1M29 28h1M4 29h1M28 29h1M5 30h1M27 30h1M6 31h1M26 31h1M8 32h1M24 32h1M10 33h1M22 33h1"/><path stroke="#209000" d="M10 1h1M22 1h1M5 4h1M27 4h1M4 5h1M3 6h1M29 6h1M31 9h1M32 22h1M2 26h1M30 26h1M9 32h1M23 32h1M12 33h1M20 33h1"/><path stroke="#307800" d="M11 1h1M21 1h1M30 8h1M1 10h1M0 13h1M28 28h1M27 29h1M10 32h1M22 32h1M14 33h1M18 33h1"/><path stroke="#406600" d="M12 1h1M20 1h1"/><path stroke="#505400" d="M13 1h1M19 1h1"/><path stroke="#584800" d="M14 1h1M18 1h1M22 2h1M24 3h1M12 32h1"/><path stroke="#604200" d="M15 1h1M20 32h1"/><path stroke="#683c00" d="M16 1h1"/><path stroke="#603c00" d="M17 1h1"/><path stroke="#208a00" d="M8 2h1M24 2h1M28 5h1M0 12h1M1 24h1M31 24h1"/><path stroke="#406c00" d="M9 2h1M23 2h1M16 33h2"/><path stroke="#584e00" d="M10 2h1"/><path stroke="#703000" d="M11 2h1M21 2h1M10 31h1M22 31h1"/><path stroke="#801e00" d="M12 2h1M20 2h1"/><path stroke="#891800" d="M13 2h1M19 2h1"/><path stroke="#8d1500" d="M14 2h1"/><path stroke="#8f1300" d="M15 2h3"/><path stroke="#8d1400" d="M18 2h1"/><path stroke="#209600" d="M6 3h1M26 3h1M1 9h1M32 11h1M0 22h1M7 31h1M25 31h1"/><path stroke="#307200" d="M7 3h1M25 3h1M31 10h1M32 13h1M0 20h1M8 31h1M24 31h1"/><path stroke="#504800" d="M8 3h1M6 29h1M26 29h1"/><path stroke="#702a00" d="M9 3h1M23 3h1"/><path stroke="#851700" d="M10 3h1"/><path stroke="#8b1200" d="M11 3h1M11 4h1M21 4h1M11 5h1M21 5h1M12 6h1M20 6h1M12 7h1M20 7h1M13 8h3M17 8h3M14 25h5M13 26h1M19 26h1M12 27h1M20 27h1M11 29h1M21 29h1M11 30h1M21 30h1"/><path stroke="#8d1200" d="M12 3h1M20 3h2M12 4h1M20 4h1M12 5h1M20 5h1M13 6h1M19 6h1M13 7h3M17 7h3M16 8h1M14 26h5M13 27h1M19 27h1M12 28h1M20 28h1M12 29h1M20 29h1M12 30h1M20 30h1"/><path stroke="#8f1200" d="M13 3h7M13 4h7M13 5h7M14 6h5M16 7h1M14 27h5M13 28h7M13 29h7M13 30h7M13 31h7"/><path stroke="#851600" d="M22 3h1"/><path stroke="#406000" d="M6 4h1M26 4h1"/><path stroke="#603600" d="M7 4h1"/><path stroke="#7c1800" d="M8 4h1"/><path stroke="#851200" d="M9 4h1M23 4h1M10 6h1M22 6h1M20 9h1M19 10h1M14 23h5M13 24h1M11 26h1M21 26h1M22 27h1M9 29h1M23 29h1"/><path stroke="#891200" d="M10 4h1M22 4h1M11 6h1M21 6h1M14 9h5M15 24h4M13 25h1M19 25h1M12 26h1M20 26h1M11 27h1M21 27h1M11 28h1M21 28h1M10 29h1M22 29h1M10 30h1M22 30h1"/><path stroke="#7e1800" d="M24 4h1"/><path stroke="#603000" d="M25 4h1"/><path stroke="#405a00" d="M5 5h1M27 5h1M4 6h1M28 6h1M7 30h1M11 32h1"/><path stroke="#602a00" d="M6 5h1"/><path stroke="#781400" d="M7 5h1"/><path stroke="#801200" d="M8 5h1M24 5h1M11 9h1M21 9h1M12 10h1M20 10h1M13 11h1M19 11h1M14 22h5M9 27h1M23 27h1"/><path stroke="#831200" d="M9 5h1M23 5h1M10 7h1M22 7h1M11 8h1M21 8h1M12 9h1M13 10h1M15 11h3M13 23h1M19 23h1M12 24h1M20 24h1M10 27h1M9 28h1M23 28h1"/><path stroke="#871200" d="M10 5h1M22 5h1M11 7h1M21 7h1M12 8h1M20 8h1M13 9h1M19 9h1M14 10h5M14 24h1M19 24h1M12 25h1M20 25h1M10 28h1M22 28h1"/><path stroke="#781300" d="M25 5h1"/><path stroke="#682a00" d="M26 5h1"/><path stroke="#582400" d="M5 6h1"/><path stroke="#6e1300" d="M6 6h1"/><path stroke="#741200" d="M7 6h1M15 20h3M9 25h1M23 25h1M8 26h1M24 26h1"/><path stroke="#7c1200" d="M8 6h1M24 6h1M9 7h1M14 12h5M10 25h1M22 25h1M23 26h1"/><path stroke="#811200" d="M9 6h1M23 6h1M14 11h1M18 11h1M11 25h1M21 25h1M10 26h1M22 26h1"/><path stroke="#761200" d="M25 6h1M8 7h1M24 7h1M14 13h5M13 21h1M19 21h1M12 22h1M11 23h1M21 23h1M10 24h1M22 24h1"/><path stroke="#6e1200" d="M26 6h1M7 7h1M14 14h1M18 14h1M15 19h3M20 21h1M21 22h1M22 23h1M23 24h1"/><path stroke="#5e2400" d="M27 6h1"/><path stroke="#209c00" d="M2 7h1M30 7h1M0 11h1M31 25h1M11 33h1M21 33h1"/><path stroke="#306600" d="M3 7h1M29 7h1M0 14h1M32 14h1M0 19h1M31 23h1M30 25h1"/><path stroke="#502a00" d="M4 7h1M28 7h1"/><path stroke="#601300" d="M5 7h1M27 7h1"/><path stroke="#681200" d="M6 7h1M26 7h1M7 8h1M25 8h1M8 9h1M24 9h1M9 10h1M23 10h1M22 11h1M19 14h1M14 15h1M18 15h1"/><path stroke="#7e1200" d="M23 7h1M10 8h1M22 8h1M13 22h1M19 22h1M12 23h1M20 23h1M11 24h1M21 24h1M8 28h1M24 28h1"/><path stroke="#701200" d="M25 7h1M8 8h1M24 8h1M9 9h1M23 9h1M10 10h1M22 10h1M11 11h1M13 13h1M19 13h1M15 14h3"/><path stroke="#307e00" d="M2 8h1M32 21h1M29 27h1M4 28h1M5 29h1M19 33h1"/><path stroke="#403c00" d="M3 8h1"/><path stroke="#501400" d="M4 8h1"/><path stroke="#581200" d="M5 8h1M27 8h1M6 9h1M26 9h1M7 10h1M25 10h1M24 11h1M20 15h1M20 17h1M12 19h1M10 21h1M22 21h1"/><path stroke="#601200" d="M6 8h1M26 8h1M7 9h1M25 9h1M8 10h1M24 10h1M13 15h1M19 15h1M13 16h1M19 16h1M13 17h1M19 17h1M13 18h1M19 18h1"/><path stroke="#781200" d="M9 8h1M23 8h1M10 9h1M22 9h1M13 12h1M20 22h1M7 28h1M25 28h1"/><path stroke="#521400" d="M28 8h1"/><path stroke="#403600" d="M29 8h1"/><path stroke="#385400" d="M2 9h1M31 11h1M3 26h1"/><path stroke="#461e00" d="M3 9h1"/><path stroke="#4a1200" d="M4 9h1M6 12h1M26 12h1M8 13h1M24 13h1M10 19h1M22 19h1M9 20h1M23 20h1M5 23h1M27 23h1"/><path stroke="#501200" d="M5 9h1M27 9h1M8 12h1M24 12h1M21 15h1M11 19h1M21 19h1M7 22h1M25 22h1M6 23h1M26 23h1"/><path stroke="#4c1200" d="M28 9h1M5 10h1M27 10h1M6 11h1M26 11h1M7 12h1M25 12h1M10 14h1M22 14h1M7 21h1M25 21h1M6 22h1M26 22h1"/><path stroke="#461800" d="M29 9h1"/><path stroke="#384e00" d="M30 9h1M1 22h1"/><path stroke="#403000" d="M2 10h1M30 10h1"/><path stroke="#421200" d="M3 10h1M29 10h1M4 11h1M28 11h1M5 15h1M27 15h1M5 16h1M27 16h1M5 17h1M27 17h1M5 18h1M27 18h1M5 19h1M4 22h1M28 22h1M29 23h1"/><path stroke="#461200" d="M4 10h1M28 10h1M5 12h1M27 12h1M6 14h3M25 14h2M9 15h1M23 15h2M6 19h4M23 19h4M6 20h1M26 20h1M5 22h1M27 22h1"/><path stroke="#521200" d="M6 10h1M26 10h1M7 11h1M25 11h1M10 13h1M22 13h1M11 14h1M21 14h1M9 21h1M23 21h1"/><path stroke="#7a1200" d="M11 10h1M21 10h1M12 11h1M20 11h1M19 12h1M14 21h5M9 26h1M8 27h1M24 27h1"/><path stroke="#305a00" d="M1 11h1M32 15h1M0 16h1M0 18h1"/><path stroke="#3c1e00" d="M2 11h1"/><path stroke="#401200" d="M3 11h1M29 11h1M4 12h1M28 12h1M4 13h1M28 13h1M28 14h1M28 19h1M4 20h1M28 20h1M4 21h1M28 21h1M3 23h1"/><path stroke="#481200" d="M5 11h1M27 11h1M6 13h2M25 13h2M9 14h1M23 14h2M10 15h1M22 15h1M10 16h1M22 16h1M10 17h1M22 17h1M10 18h1M22 18h1M7 20h2M24 20h2M6 21h1M26 21h1M4 24h1M28 24h1"/><path stroke="#561200" d="M8 11h1M12 15h1M12 16h1M20 16h1M12 17h1M12 18h1M20 18h1M11 20h1M21 20h1M7 23h1M25 23h1M26 24h1"/><path stroke="#5e1200" d="M9 11h1M23 11h1"/><path stroke="#661200" d="M10 11h1M11 12h1M21 12h1M12 13h1M20 13h1M13 14h1M14 16h1M18 16h1M14 17h1M18 17h1M14 18h1M18 18h1"/><path stroke="#721200" d="M21 11h1M12 12h1M20 12h1M14 20h1M18 20h1M7 27h1M25 27h1"/><path stroke="#3e1800" d="M30 11h1"/><path stroke="#384200" d="M1 12h1M30 24h1"/><path stroke="#3c1400" d="M2 12h1"/><path stroke="#3c1200" d="M3 12h1M29 12h1M3 13h1M29 13h1M29 14h1M3 20h1M29 20h1M3 21h1M29 21h1"/><path stroke="#541200" d="M9 12h1M23 12h1M8 22h1M24 22h1M6 24h1M5 25h1M27 25h1"/><path stroke="#5c1200" d="M10 12h1M22 12h1M12 14h1M20 14h1M8 23h1M24 23h1M7 24h1M25 24h1M6 25h1M26 25h1M5 26h1M27 26h1"/><path stroke="#3c1300" d="M30 12h1"/><path stroke="#383c00" d="M31 12h1"/><path stroke="#208400" d="M32 12h1"/><path stroke="#383000" d="M1 13h1"/><path stroke="#3a1200" d="M2 13h1M30 13h1M3 14h1M3 15h1M29 15h1M3 16h1M29 16h1M3 17h1M29 17h1M3 18h1M29 18h1M3 19h1M29 19h1M2 20h1M30 20h1M2 21h1M30 21h1"/><path stroke="#441200" d="M5 13h1M27 13h1M5 14h1M27 14h1M6 15h3M25 15h2M6 16h4M23 16h4M6 17h4M23 17h4M6 18h4M23 18h4M27 19h1M5 20h1M27 20h1M5 21h1M27 21h1M4 23h1M28 23h1"/><path stroke="#4e1200" d="M9 13h1M23 13h1M11 15h1M11 16h1M21 16h1M11 17h1M21 17h1M11 18h1M21 18h1M10 20h1M22 20h1M8 21h1M24 21h1M5 24h1M27 24h1M4 25h1M28 25h1"/><path stroke="#5a1200" d="M11 13h1M21 13h1M20 19h1M9 22h1M23 22h1"/><path stroke="#382a00" d="M31 13h1M1 20h1"/><path stroke="#382400" d="M1 14h1M31 20h1"/><path stroke="#381200" d="M2 14h1M30 14h1M2 15h1M30 15h1M2 16h1M30 16h1M2 17h1M30 17h1M2 18h1M30 18h1M2 19h1M30 19h1"/><path stroke="#3e1200" d="M4 14h1M4 15h1M28 15h1M4 16h1M28 16h1M4 17h1M28 17h1M4 18h1M28 18h1M4 19h1M3 22h1M29 22h1"/><path stroke="#381e00" d="M31 14h1M1 15h1M1 19h1M31 19h1"/><path stroke="#306000" d="M0 15h1M32 19h1"/><path stroke="#6c1200" d="M15 15h3M14 19h1M18 19h1M13 20h1M19 20h1M12 21h1M11 22h1M10 23h1M9 24h1M8 25h1M24 25h1M7 26h1M25 26h1M6 27h1M26 27h1"/><path stroke="#381800" d="M31 15h1M31 16h1M1 18h1"/><path stroke="#381900" d="M1 16h1M1 17h1M31 18h1"/><path stroke="#6a1200" d="M15 16h3M15 17h3M15 18h3"/><path stroke="#305400" d="M32 16h1M0 17h1M32 17h1M32 18h1"/><path stroke="#381700" d="M31 17h1"/><path stroke="#641200" d="M13 19h1M19 19h1M9 23h1M23 23h1M8 24h1M24 24h1M7 25h1M25 25h1M6 26h1M26 26h1"/><path stroke="#621200" d="M12 20h1M20 20h1M11 21h1M21 21h1M10 22h1M22 22h1"/><path stroke="#306c00" d="M32 20h1M1 23h1M2 25h1"/><path stroke="#308400" d="M0 21h1M3 27h1M6 30h1M26 30h1M13 33h1"/><path stroke="#383600" d="M1 21h1M31 21h1"/><path stroke="#3c1800" d="M2 22h1"/><path stroke="#3c1700" d="M30 22h1"/><path stroke="#384800" d="M31 22h1M2 24h1"/><path stroke="#402a00" d="M2 23h1"/><path stroke="#3e2400" d="M30 23h1"/><path stroke="#441600" d="M3 24h1"/><path stroke="#441500" d="M29 24h1"/><path stroke="#482a00" d="M3 25h1M29 25h1"/><path stroke="#521e00" d="M4 26h1M28 26h1"/><path stroke="#405400" d="M29 26h1"/><path stroke="#484800" d="M4 27h1"/><path stroke="#601800" d="M5 27h1"/><path stroke="#621900" d="M27 27h1"/><path stroke="#484200" d="M28 27h1"/><path stroke="#504200" d="M5 28h1M27 28h1"/><path stroke="#6c1800" d="M6 28h1M26 28h1"/><path stroke="#702400" d="M7 29h1"/><path stroke="#801300" d="M8 29h1M24 29h1"/><path stroke="#721e00" d="M25 29h1"/><path stroke="#683000" d="M8 30h1M24 30h1"/><path stroke="#801900" d="M9 30h1"/><path stroke="#811800" d="M23 30h1"/><path stroke="#485a00" d="M25 30h1"/><path stroke="#504e00" d="M9 31h1M23 31h1"/><path stroke="#811e00" d="M11 31h1M21 31h1"/><path stroke="#8b1500" d="M12 31h1M20 31h1"/><path stroke="#683600" d="M13 32h1"/><path stroke="#782a00" d="M14 32h1M18 32h1"/><path stroke="#7c2400" d="M15 32h1"/><path stroke="#7e2400" d="M16 32h2"/><path stroke="#703600" d="M19 32h1"/><path stroke="#505a00" d="M21 32h1"/><path stroke="#407200" d="M15 33h1"/></g></g></g><g clip-path="url(#c6)"><g transform="translate(68,63)" filter="url(#fa)"><rect width="66" height="66" fill="#9b0500"/><g transform="translate(0,-1) scale(2)"><path stroke="#9d0500" d="M3 1h3M27 1h2M4 2h2M26 2h2M5 3h3M24 3h4M0 4h1M23 4h1M31 4h2M0 5h2M22 5h1M30 5h3M0 6h3M10 6h1M30 6h2M2 7h1M30 7h1M2 8h1M11 8h1M29 9h1M28 10h1M5 11h1M7 12h1M13 13h1M11 14h2M19 14h2M13 21h1M4 23h1M3 24h1M2 25h1M29 25h1M2 26h1M1 27h2M30 27h2M0 28h3M30 28h3M0 29h1M9 29h1M31 29h2M8 30h1M24 30h1M32 30h1M4 31h3M25 31h3M3 32h3M26 32h3M3 33h2M27 33h3"/><path stroke="#9f0500" d="M6 1h1M25 1h2M6 2h2M24 2h2M8 3h1M23 3h1M9 4h1M32 6h1M0 7h2M31 7h2M1 8h1M30 8h2M2 9h1M3 10h1M19 10h1M13 12h1M18 13h1M23 13h1M13 14h1M21 14h1M12 19h1M19 19h1M13 20h1M18 20h1M22 20h1M18 21h1M24 21h1M13 22h1M26 22h1M19 23h1M2 24h1M12 24h1M29 24h1M1 25h1M20 25h1M30 25h1M0 26h2M30 26h3M0 27h1M21 27h1M32 27h1M22 29h1M23 30h1M7 31h1M24 31h1M6 32h2M25 32h1M5 33h2M25 33h2"/><path stroke="#a10500" d="M7 1h1M24 1h1M8 2h1M23 2h1M22 4h1M10 5h1M21 6h1M11 7h1M0 8h1M20 8h1M32 8h1M1 9h1M12 9h1M30 9h2M29 10h1M13 11h1M27 11h1M6 12h1M14 12h1M18 12h1M25 12h1M8 13h1M14 13h4M10 14h1M18 14h1M12 15h1M19 15h2M12 18h1M11 19h1M13 19h1M18 19h1M20 19h1M9 20h1M14 20h1M7 21h1M14 21h4M5 22h1M18 22h1M3 23h1M28 23h1M30 24h1M0 25h1M31 25h2M11 26h1M10 28h1M9 30h1M8 31h1M23 31h1M8 32h1M24 32h1M7 33h1M24 33h1"/><path stroke="#a30500" d="M8 1h1M23 1h1M9 2h1M9 3h1M22 3h1M21 5h1M20 7h1M12 8h1M0 9h1M19 9h1M32 9h1M2 10h1M13 10h1M18 10h1M4 11h1M14 11h5M15 12h3M24 13h1M9 14h1M14 14h4M22 14h1M10 15h2M13 15h2M17 15h2M21 15h1M11 16h3M18 16h4M11 17h3M18 17h3M11 18h1M13 18h2M18 18h4M10 19h1M14 19h4M21 19h1M15 20h3M23 20h1M25 21h1M14 22h4M27 22h1M13 23h2M18 23h1M29 23h1M1 24h1M19 24h1M31 24h1M12 25h1M20 26h1M11 27h1M21 28h1M10 29h1M22 30h1M9 31h1M23 32h1M8 33h1"/><path stroke="#a50500" d="M9 1h1M22 2h1M10 3h1M10 4h1M21 4h1M11 6h1M20 6h1M19 8h1M13 9h1M18 9h1M1 10h1M14 10h4M30 10h1M3 11h1M28 11h1M5 12h1M26 12h1M7 13h1M23 14h1M15 15h2M22 15h1M10 16h1M14 16h1M17 16h1M10 17h1M14 17h1M21 17h1M10 18h1M17 18h1M9 19h1M22 19h1M8 20h1M6 21h1M4 22h1M2 23h1M15 23h3M0 24h1M13 24h2M18 24h1M32 24h1M19 25h1M12 26h1M20 27h1M11 28h1M21 29h1M10 30h1M22 31h1M9 32h1M23 33h1"/><path stroke="#a90500" d="M10 1h1M21 1h1M21 2h1M11 3h1M11 4h1M20 4h1M12 6h1M19 6h1M13 7h1M14 8h1M17 8h1M32 10h1M2 11h1M30 11h1M4 12h1M6 13h1M24 14h1M23 15h1M9 16h1M9 17h1M8 19h1M25 20h1M5 21h1M3 22h1M29 22h1M0 23h1M31 23h1M14 25h4M13 26h1M18 26h1M19 27h1M12 28h1M20 29h1M11 30h1M21 31h1M10 32h1M21 32h1M10 33h1"/><path stroke="#ab0500" d="M11 1h1M11 2h1M20 2h1M20 3h1M12 5h1M19 5h1M13 6h1M14 7h1M18 7h1M15 8h2M1 11h1M28 12h1M26 13h1M7 14h1M8 15h1M23 16h1M23 17h1M8 18h1M23 18h1M24 19h1M6 20h1M4 21h1M27 21h1M2 22h1M32 23h1M14 26h2M17 26h1M13 27h1M18 27h1M19 28h1M12 29h1M20 30h1M11 31h1M20 31h1M11 32h1M21 33h1"/><path stroke="#af0500" d="M12 1h1M19 1h1M19 2h1M13 3h1M19 3h1M13 4h1M14 5h1M18 5h1M15 6h3M32 11h1M2 12h1M30 12h1M4 13h1M27 13h1M6 14h1M7 15h1M24 16h1M24 18h1M25 19h1M5 20h1M3 21h1M0 22h1M31 22h1M15 27h2M14 28h1M17 28h1M13 29h1M18 29h1M13 30h1M19 31h1M12 32h1M19 32h1M12 33h1M19 33h1"/><path stroke="#b10500" d="M13 1h1M18 1h1M13 2h1M18 2h1M18 3h1M14 4h1M17 4h2M15 5h3M1 12h1M31 12h1M28 13h1M26 14h1M25 15h1M7 16h1M15 16h1M7 17h1M24 17h1M7 18h1M6 19h1M27 20h1M2 21h1M29 21h1M32 22h1M15 28h2M14 29h1M17 29h1M14 30h1M18 30h1M13 31h1M18 31h1M13 32h1M18 32h1M13 33h1M18 33h1"/><path stroke="#b30500" d="M14 1h4M14 2h4M14 3h4M15 4h2M0 12h1M32 12h1M3 13h1M5 14h1M6 15h1M25 18h1M26 19h1M4 20h1M1 21h1M30 21h1M15 29h2M15 30h3M14 31h4M14 32h4M14 33h4"/><path stroke="#ad0500" d="M20 1h1M12 2h1M12 3h1M12 4h1M19 4h1M13 5h1M14 6h1M18 6h1M15 7h3M0 11h1M31 11h1M3 12h1M29 12h1M5 13h1M25 14h1M24 15h1M8 16h1M8 17h1M7 19h1M26 20h1M28 21h1M1 22h1M30 22h1M16 26h1M14 27h1M17 27h1M13 28h1M18 28h1M19 29h1M12 30h1M19 30h1M12 31h1M20 32h1M11 33h1M20 33h1"/><path stroke="#a70500" d="M22 1h1M10 2h1M21 3h1M11 5h1M20 5h1M12 7h1M19 7h1M13 8h1M18 8h1M14 9h4M0 10h1M31 10h1M29 11h1M27 12h1M25 13h1M8 14h1M9 15h1M22 16h1M17 17h1M22 17h1M9 18h1M15 18h2M22 18h1M23 19h1M7 20h1M24 20h1M26 21h1M28 22h1M1 23h1M30 23h1M15 24h3M13 25h1M18 25h1M19 26h1M12 27h1M20 28h1M11 29h1M21 30h1M10 31h1M22 32h1M9 33h1M22 33h1"/><path stroke="#990500" d="M6 4h2M24 4h2M4 5h1M27 5h1M28 6h1M3 7h1M3 8h1M28 9h1M24 12h1M19 13h1M22 13h1M12 20h1M21 20h1M19 22h1M25 22h1M12 23h1M3 25h1M11 25h1M3 26h1M21 26h1M3 27h1M28 27h1M4 28h1M5 29h1M8 29h1M23 29h1M26 29h1"/><path stroke="#970500" d="M5 5h1M23 5h1M4 6h1M22 6h1M10 7h1M28 7h1M28 8h1M27 10h1M6 11h1M19 12h1M12 13h1M11 20h1M20 20h1M19 21h1M23 21h1M5 23h1M4 24h1M20 24h1M28 25h1M28 26h1M9 28h1M27 28h1M6 29h2M24 29h2"/><path stroke="#950500" d="M6 5h1M8 5h1M26 5h1M9 6h1M27 6h1M4 7h1M21 8h1M4 9h1M11 9h1M12 11h1M25 11h1M8 12h1M10 13h1M20 13h2M12 21h1M7 22h1M12 22h1M26 23h1M27 24h1M10 26h1M4 27h1M22 27h1M5 28h1"/><path stroke="#930500" d="M7 5h1M24 5h2M5 6h1M27 7h1M4 8h1M27 9h1M5 10h1M20 10h1M12 12h1M11 13h1M9 21h1M24 22h1M11 24h1M4 25h1M4 26h1M27 27h1M8 28h1M23 28h1M26 28h1"/><path stroke="#8f0500" d="M6 6h1M8 6h1M23 6h1M5 7h1M24 11h1M20 12h1M11 21h1M20 23h1M25 23h1M5 24h1M10 25h1M22 26h1M26 27h1"/><path stroke="#8d0500" d="M7 6h1M24 6h2M9 7h1M26 7h1M5 8h1M5 9h1M21 9h1M6 10h1M11 10h1M20 11h1M9 12h1M11 12h1M10 21h1M21 21h1M8 22h1M20 22h1M26 24h1M5 25h1M5 26h1M6 27h1M23 27h1"/><path stroke="#910500" d="M26 6h1M22 7h1M10 8h1M27 8h1M26 10h1M7 11h1M23 12h1M20 21h1M22 21h1M6 23h1M21 25h1M27 25h1M27 26h1M5 27h1M9 27h1M6 28h2M24 28h2"/><path stroke="#890500" d="M6 7h1M8 7h1M23 7h1M9 8h1M7 10h1M23 11h1M10 12h1M21 12h1M24 23h1M6 24h1M10 24h1M22 25h1M7 27h1"/><path stroke="#870500" d="M7 7h1M24 7h2M6 8h1M6 9h1M22 9h1M25 9h1M21 10h1M24 10h1M9 22h1M21 22h2M8 23h1M21 23h1M25 24h1M6 25h1M9 25h1M6 26h1M8 26h1M23 26h1M25 26h1"/><path stroke="#830500" d="M7 8h1M24 8h1M8 9h1M23 9h2M9 10h1M22 10h2M9 23h1M22 23h1M8 24h2M23 24h1M7 25h2M24 25h1"/><path stroke="#850500" d="M8 8h1M23 8h1M25 8h1M7 9h1M9 9h1M8 10h1M10 10h1M9 11h2M21 11h2M10 22h1M10 23h1M23 23h1M7 24h1M22 24h1M24 24h1M23 25h1M25 25h1M7 26h1M24 26h1"/><path stroke="#8b0500" d="M22 8h1M26 8h1M10 9h1M26 9h1M25 10h1M8 11h1M11 11h1M22 12h1M11 22h1M23 22h1M7 23h1M11 23h1M21 24h1M26 25h1M9 26h1M26 26h1M8 27h1M24 27h2"/><path stroke="#b70500" d="M0 13h2M30 13h2M4 14h1M5 15h1M26 15h1M6 16h1M6 17h1M26 18h1M27 19h1M2 20h1M29 20h1"/><path stroke="#b50500" d="M2 13h1M29 13h1M27 14h1M25 16h1M25 17h1M6 18h1M5 19h1M3 20h1M28 20h1M0 21h1M31 21h2"/><path stroke="#b90500" d="M32 13h1M3 14h1M28 14h1M26 16h1M26 17h1M5 18h1M4 19h1M0 20h2M30 20h2"/><path stroke="#bd0500" d="M0 14h1M31 14h2M28 15h1M16 16h1M27 16h1M27 17h1M4 18h1M1 19h2M29 19h2"/><path stroke="#bb0500" d="M1 14h2M29 14h2M4 15h1M27 15h1M5 16h1M5 17h1M27 18h1M3 19h1M28 19h1M32 20h1"/><path stroke="#c10500" d="M0 15h1M31 15h2M3 16h1M28 16h2M3 17h1M28 17h1M0 18h3M29 18h4"/><path stroke="#bf0500" d="M1 15h3M29 15h2M4 16h1M4 17h1M15 17h1M3 18h1M28 18h1M0 19h1M31 19h2"/><path stroke="#c30500" d="M0 16h3M30 16h3M0 17h3M29 17h4"/><path stroke="#d30500" d="M16 17h1"/></g></g></g><g clip-path="url(#c7)"><g transform="translate(128,63)" filter="url(#fa)"><rect width="66" height="66" fill="#10ea00"/><g transform="translate(0,-1) scale(2)"><path stroke="#10de00" d="M11 1h1M23 2h1M29 7h1M0 12h1M32 19h1M1 24h1M3 27h1M14 33h1M18 33h1"/><path stroke="#20cc00" d="M12 1h1M9 2h1M21 32h1"/><path stroke="#40b400" d="M13 1h1M31 12h1"/><path stroke="#509c00" d="M14 1h1M10 2h1M3 26h1"/><path stroke="#509000" d="M15 1h1"/><path stroke="#308a00" d="M16 1h1"/><path stroke="#209600" d="M17 1h1M0 16h1"/><path stroke="#10a800" d="M18 1h1"/><path stroke="#10c000" d="M19 1h1"/><path stroke="#10d800" d="M20 1h1M26 4h1M2 8h1M32 15h1M32 18h1M4 28h1M5 29h1M8 31h1M10 32h1M15 33h3"/><path stroke="#10e400" d="M21 1h1M8 2h1M25 3h1M5 4h1M4 5h1M3 6h1M1 9h1M31 10h1M32 14h1M32 20h1M0 22h1M31 23h1M30 25h1M2 26h1M28 28h1M27 29h1M6 30h1M24 31h1M22 32h1M13 33h1M19 33h1"/><path stroke="#906000" d="M11 2h1"/><path stroke="#b03c00" d="M12 2h1"/><path stroke="#bf2400" d="M13 2h1M1 19h1"/><path stroke="#bd1800" d="M14 2h1"/><path stroke="#a31600" d="M15 2h1"/><path stroke="#681500" d="M16 2h1"/><path stroke="#341800" d="M17 2h1"/><path stroke="#1c1e00" d="M18 2h1"/><path stroke="#103000" d="M19 2h1M22 3h1M11 31h1"/><path stroke="#104e00" d="M20 2h1M2 10h1"/><path stroke="#107e00" d="M21 2h1M31 20h1"/><path stroke="#10b400" d="M22 2h1"/><path stroke="#20d200" d="M7 3h1M30 9h1M32 16h1M25 30h1"/><path stroke="#609600" d="M8 3h1M30 10h1"/><path stroke="#a04800" d="M9 3h1"/><path stroke="#cb1e00" d="M10 3h1M29 10h1"/><path stroke="#d71000" d="M11 3h1"/><path stroke="#d70f00" d="M12 3h1M9 4h1M12 4h1M9 5h1M13 5h1M10 6h1M13 6h1M13 7h1M11 8h1M12 10h2M28 10h1M26 11h2M24 12h2M23 13h1M28 13h2M25 14h3M6 19h3M2 20h3M9 20h1M8 21h1M6 22h1M4 23h2M18 24h1M20 24h1M18 25h1M20 25h1M18 26h1M21 26h1M21 27h1M19 28h1M22 28h1M19 29h1M22 29h2M19 30h1"/><path stroke="#d50f00" d="M13 3h1M13 4h1M9 6h1M10 7h1M14 8h1M11 9h1M14 9h1M27 10h1M25 11h1M28 14h2M23 15h2M5 19h1M9 19h1M7 22h1M19 23h1M4 24h1M18 27h1M22 27h1M18 28h1"/><path stroke="#c90f00" d="M14 3h1M22 15h1M29 15h1"/><path stroke="#a90f00" d="M15 3h1M15 11h1M13 12h1M17 22h1M6 25h1"/><path stroke="#6a0f00" d="M16 3h1M19 18h1"/><path stroke="#320f00" d="M17 3h1M30 18h1M23 23h1"/><path stroke="#1a0f00" d="M18 3h1M23 7h1M23 18h1M30 19h1M11 23h1M8 27h1M14 27h1"/><path stroke="#120f00" d="M19 3h1M19 4h1M23 5h1M22 7h1M18 8h1M21 8h1M4 9h1M5 10h1M20 10h1M7 11h1M8 12h1M2 13h1M5 14h2M24 19h2M28 20h2M24 22h1M12 23h1M26 23h1M11 24h1M27 24h1M10 26h1M9 27h1M13 27h1M13 28h1"/><path stroke="#100f00" d="M20 3h1M20 4h3M19 5h4M19 6h4M19 7h3M19 8h2M18 9h3M3 10h2M19 10h1M3 11h4M3 12h5M3 13h7M7 14h3M23 19h1M23 20h5M23 21h7M25 22h5M27 23h2M12 24h2M28 24h1M11 25h3M11 26h3M10 27h3M9 28h4M9 29h4M11 30h2"/><path stroke="#101400" d="M21 3h1M29 23h1"/><path stroke="#106c00" d="M23 3h1"/><path stroke="#10ba00" d="M24 3h1M3 7h1M0 14h1M30 24h1M28 27h1M11 32h1"/><path stroke="#30ba00" d="M6 4h1M26 29h1"/><path stroke="#806000" d="M7 4h1"/><path stroke="#c71e00" d="M8 4h1"/><path stroke="#d90f00" d="M10 4h2M10 5h3M11 6h2M11 7h2M12 8h2M12 9h2M28 11h2M26 12h4M24 13h4M23 14h2M5 20h4M2 21h6M3 22h3M3 23h1M19 24h1M19 25h1M19 26h2M19 27h2M20 28h2M20 29h2M20 30h2"/><path stroke="#cb0f00" d="M14 4h1M8 6h1M25 10h1M12 11h1M6 18h1M10 20h1M7 23h1M21 24h1M17 26h1M24 28h1"/><path stroke="#ad0f00" d="M15 4h1M11 11h1M21 15h1M27 16h1M11 20h1"/><path stroke="#680f00" d="M16 4h1M16 5h1M12 13h1M21 22h1M22 23h1"/><path stroke="#300f00" d="M17 4h1M25 6h1M8 10h1M17 11h1M29 18h1M21 19h1M15 24h1"/><path stroke="#180f00" d="M18 4h1M8 11h1M10 13h1M6 15h1M22 19h1M29 19h1M23 22h1M27 25h1M9 26h1M14 26h1"/><path stroke="#101300" d="M23 4h1"/><path stroke="#103600" d="M24 4h1M29 24h1"/><path stroke="#109000" d="M25 4h1"/><path stroke="#30a800" d="M5 5h1"/><path stroke="#884200" d="M6 5h1"/><path stroke="#c51200" d="M7 5h1"/><path stroke="#d30f00" d="M8 5h1M14 7h1M10 8h1M26 10h1M23 12h1M22 13h1M25 15h1M3 19h2M9 21h1M6 23h1M21 25h1M23 28h1M18 29h1"/><path stroke="#cf0f00" d="M14 5h1M9 7h1M24 11h1M27 15h1M8 22h1M18 23h1M17 24h1M18 31h1"/><path stroke="#af0f00" d="M15 5h1M21 23h1M7 24h1"/><path stroke="#2c0f00" d="M17 5h1M24 7h1M9 11h1M28 18h1M21 21h1M22 22h1M7 27h1"/><path stroke="#160f00" d="M18 5h1M24 5h1M22 8h1M5 9h1M9 12h1M2 14h1M7 15h1M9 15h1M27 19h2M22 21h1M26 24h1"/><path stroke="#1e1e00" d="M25 5h1"/><path stroke="#207200" d="M26 5h1"/><path stroke="#10d200" d="M27 5h1M1 10h1M32 17h1"/><path stroke="#20a800" d="M4 6h1"/><path stroke="#503c00" d="M5 6h1"/><path stroke="#8f1000" d="M6 6h1"/><path stroke="#b50f00" d="M7 6h1M15 7h1M25 16h1M18 22h1"/><path stroke="#d10f00" d="M14 6h1M27 9h1M14 10h1M22 14h1M26 15h1M8 18h1M2 19h1M20 23h1M5 24h1M22 26h1M18 30h1"/><path stroke="#b30f00" d="M15 6h1M22 16h1M20 22h1"/><path stroke="#660f00" d="M16 6h1M16 12h1M12 16h1M20 17h1M29 17h2M14 20h1M23 24h1M24 25h1M25 26h1"/><path stroke="#280f00" d="M17 6h1M23 8h1M27 18h1M8 26h1"/><path stroke="#140f00" d="M18 6h1M23 6h1M18 7h1M21 9h1M6 10h1M18 10h1M3 14h2M8 15h1M26 19h1M22 20h1M13 23h1M25 23h1M14 24h1M10 25h1M14 25h1M8 28h1M13 29h1M13 30h1"/><path stroke="#1c0f00" d="M24 6h1M17 9h1M7 10h1M19 11h2M5 15h1M24 18h1M14 23h1M24 23h1M7 28h1M14 28h1"/><path stroke="#4e1800" d="M26 6h1M1 16h1"/><path stroke="#507200" d="M27 6h1"/><path stroke="#20d800" d="M28 6h1M31 11h1M0 21h1"/><path stroke="#204200" d="M4 7h1"/><path stroke="#3a1000" d="M5 7h1"/><path stroke="#620f00" d="M6 7h1M16 8h1M11 12h1M27 17h1M13 20h1"/><path stroke="#930f00" d="M7 7h1M21 12h1M5 17h1M16 26h1"/><path stroke="#bb0f00" d="M8 7h1M15 10h1M14 11h1M24 27h1"/><path stroke="#640f00" d="M16 7h1M17 13h1M28 17h1M19 19h1"/><path stroke="#240f00" d="M17 7h1M22 9h1M18 11h1M2 15h1M22 18h1M26 18h1M9 25h1M14 31h1"/><path stroke="#4e0f00" d="M25 7h1M2 16h1"/><path stroke="#7e0f00" d="M26 7h1M14 13h1"/><path stroke="#9d1e00" d="M27 7h1"/><path stroke="#607e00" d="M28 7h1"/><path stroke="#106000" d="M3 8h1M31 19h1M10 31h1"/><path stroke="#181300" d="M4 8h1"/><path stroke="#220f00" d="M5 8h1M3 15h1M12 22h1M26 25h1M14 30h1"/><path stroke="#380f00" d="M6 8h1M11 14h1"/><path stroke="#600f00" d="M7 8h1M8 9h1M9 10h1M10 11h1M16 11h1M26 17h1"/><path stroke="#970f00" d="M8 8h1M7 17h1M11 18h1M16 24h1"/><path stroke="#c10f00" d="M9 8h1M3 18h1M23 26h1M17 29h1"/><path stroke="#b90f00" d="M15 8h1M21 14h1M24 16h1"/><path stroke="#200f00" d="M17 8h1M10 14h1M25 18h1M10 24h1M14 29h1"/><path stroke="#4c0f00" d="M24 8h1M17 12h1M20 19h1M6 27h1M15 31h1"/><path stroke="#800f00" d="M25 8h1M12 20h1M8 24h1"/><path stroke="#ab0f00" d="M26 8h1M28 16h1"/><path stroke="#c30f00" d="M27 8h1M10 19h1M10 21h1M5 25h1"/><path stroke="#b82a00" d="M28 8h1"/><path stroke="#50a200" d="M29 8h1"/><path stroke="#109600" d="M2 9h1M12 32h1"/><path stroke="#101e00" d="M3 9h1M2 11h1M30 21h1M9 30h1"/><path stroke="#1e0f00" d="M6 9h1M17 10h1M21 10h1M4 15h1M25 24h1"/><path stroke="#340f00" d="M7 9h1M19 12h1M11 13h1M9 16h1M14 22h1M15 23h1M15 25h1"/><path stroke="#9d0f00" d="M9 9h1"/><path stroke="#c70f00" d="M10 9h1M26 9h1M30 15h1M5 18h1M6 24h1M17 27h1"/><path stroke="#bf0f00" d="M15 9h1M21 13h1M2 18h1M19 22h1M17 30h1"/><path stroke="#5e0f00" d="M16 9h1M12 15h1M21 17h1M25 17h1"/><path stroke="#4a0f00" d="M23 9h1M3 16h1M12 21h1M7 26h1M15 30h1"/><path stroke="#830f00" d="M24 9h1M9 23h1"/><path stroke="#b10f00" d="M25 9h1M26 16h1"/><path stroke="#d31000" d="M28 9h1M30 14h1"/><path stroke="#984e00" d="M29 9h1"/><path stroke="#a50f00" d="M10 10h1M12 12h1M30 16h1M5 26h1"/><path stroke="#cd0f00" d="M11 10h1M28 15h1M7 18h1M9 18h1M4 25h1M17 25h1M23 27h1"/><path stroke="#5c0f00" d="M16 10h1M15 21h1"/><path stroke="#480f00" d="M22 10h1M20 12h1M4 16h1M8 25h1"/><path stroke="#870f00" d="M23 10h1M13 13h1M16 22h1"/><path stroke="#b70f00" d="M24 10h1M10 18h1M8 23h1"/><path stroke="#109c00" d="M1 11h1M9 31h1"/><path stroke="#c50f00" d="M13 11h1M22 12h1M4 18h1M17 23h1M22 25h1M17 28h1"/><path stroke="#440f00" d="M21 11h1M5 16h1M20 20h1M13 21h1M9 24h1"/><path stroke="#8d0f00" d="M22 11h1M15 12h1M16 29h1"/><path stroke="#bd0f00" d="M23 11h1M23 16h1M9 22h1M17 31h1"/><path stroke="#985400" d="M30 11h1M1 21h1"/><path stroke="#106600" d="M1 12h1"/><path stroke="#101000" d="M2 12h1M10 30h1"/><path stroke="#260f00" d="M10 12h1M21 20h1"/><path stroke="#9b0f00" d="M14 12h1M21 16h1M8 17h2M19 21h1"/><path stroke="#400f00" d="M18 12h1M6 16h1M10 16h1M10 23h1"/><path stroke="#c02a00" d="M30 12h1"/><path stroke="#10cc00" d="M0 13h1M31 22h1M29 26h1"/><path stroke="#103c00" d="M1 13h1M30 22h1"/><path stroke="#760f00" d="M15 13h1M19 15h1"/><path stroke="#6c0f00" d="M16 13h1M13 14h1M18 14h1M13 15h1M15 20h1M20 21h1"/><path stroke="#5a0f00" d="M18 13h2M24 17h1"/><path stroke="#8b0f00" d="M20 13h1M20 15h1M16 30h1M16 31h1"/><path stroke="#d11600" d="M30 13h1"/><path stroke="#608a00" d="M31 13h1M1 22h1"/><path stroke="#182a00" d="M1 14h1"/><path stroke="#540f00" d="M12 14h1M11 16h1"/><path stroke="#700f00" d="M14 14h1M19 16h1M16 20h1"/><path stroke="#6e0f00" d="M15 14h3M14 15h5M13 16h6M13 17h7M13 18h6M14 19h5M19 20h1"/><path stroke="#7a0f00" d="M19 14h1M18 20h1M16 21h1M6 26h1"/><path stroke="#990f00" d="M20 14h1M24 26h1"/><path stroke="#806c00" d="M31 14h1"/><path stroke="#10a200" d="M0 15h1M31 21h1"/><path stroke="#261e00" d="M1 15h1"/><path stroke="#2a0f00" d="M10 15h1M13 22h1"/><path stroke="#460f00" d="M11 15h1M15 22h1M15 29h1"/><path stroke="#885400" d="M31 15h1"/><path stroke="#3a0f00" d="M7 16h1M25 25h1M15 26h1"/><path stroke="#360f00" d="M8 16h1M24 24h1"/><path stroke="#810f00" d="M20 16h1M11 17h1"/><path stroke="#a70f00" d="M29 16h1M22 24h1"/><path stroke="#804800" d="M31 16h1"/><path stroke="#409600" d="M0 17h1"/><path stroke="#891800" d="M1 17h1"/><path stroke="#8f0f00" d="M2 17h1M16 28h1"/><path stroke="#910f00" d="M3 17h2M10 17h1M16 23h1M16 27h1"/><path stroke="#950f00" d="M6 17h1M18 21h1M16 25h1M25 27h1"/><path stroke="#740f00" d="M12 17h1M17 20h1"/><path stroke="#580f00" d="M22 17h2"/><path stroke="#504800" d="M31 17h1"/><path stroke="#409c00" d="M0 18h1"/><path stroke="#b31800" d="M1 18h1"/><path stroke="#7c0f00" d="M12 18h1M7 25h1"/><path stroke="#560f00" d="M20 18h1"/><path stroke="#3c0f00" d="M21 18h1M26 26h1"/><path stroke="#284e00" d="M31 18h1"/><path stroke="#40ae00" d="M0 19h1"/><path stroke="#a30f00" d="M11 19h1"/><path stroke="#850f00" d="M12 19h1"/><path stroke="#720f00" d="M13 19h1"/><path stroke="#30c600" d="M0 20h1"/><path stroke="#b83600" d="M1 20h1M2 23h1"/><path stroke="#121200" d="M30 20h1"/><path stroke="#890f00" d="M11 21h1M17 21h1M10 22h1"/><path stroke="#520f00" d="M14 21h1"/><path stroke="#d11700" d="M2 22h1"/><path stroke="#3e0f00" d="M11 22h1M15 27h1"/><path stroke="#30c000" d="M1 23h1M2 25h1M23 31h1"/><path stroke="#107800" d="M30 23h1"/><path stroke="#707800" d="M2 24h1"/><path stroke="#d11500" d="M3 24h1"/><path stroke="#a84200" d="M3 25h1M21 31h1"/><path stroke="#9f0f00" d="M23 25h1"/><path stroke="#141900" d="M28 25h1"/><path stroke="#108400" d="M29 25h1"/><path stroke="#a82400" d="M4 26h1"/><path stroke="#261200" d="M27 26h1"/><path stroke="#185a00" d="M28 26h1"/><path stroke="#507e00" d="M4 27h1"/><path stroke="#701e00" d="M5 27h1"/><path stroke="#641100" d="M26 27h1"/><path stroke="#304800" d="M27 27h1"/><path stroke="#307e00" d="M5 28h1"/><path stroke="#2c2400" d="M6 28h1"/><path stroke="#420f00" d="M15 28h1"/><path stroke="#b31200" d="M25 28h1"/><path stroke="#704800" d="M26 28h1"/><path stroke="#20b400" d="M27 28h1"/><path stroke="#108a00" d="M6 29h1"/><path stroke="#183000" d="M7 29h1"/><path stroke="#121100" d="M8 29h1"/><path stroke="#c71800" d="M24 29h1"/><path stroke="#805a00" d="M25 29h1"/><path stroke="#10ae00" d="M7 30h1"/><path stroke="#105a00" d="M8 30h1"/><path stroke="#d31500" d="M22 30h1"/><path stroke="#b03600" d="M23 30h1"/><path stroke="#708400" d="M24 30h1M19 32h1"/><path stroke="#121900" d="M12 31h1"/><path stroke="#161100" d="M13 31h1"/><path stroke="#d11400" d="M19 31h1"/><path stroke="#c72400" d="M20 31h1"/><path stroke="#707e00" d="M22 31h1"/><path stroke="#107200" d="M13 32h1"/><path stroke="#205a00" d="M14 32h1"/><path stroke="#384e00" d="M15 32h1"/><path stroke="#684e00" d="M16 32h1"/><path stroke="#805400" d="M17 32h1"/><path stroke="#806600" d="M18 32h1"/><path stroke="#40a800" d="M20 32h1"/></g></g></g><g clip-path="url(#c8)"><g transform="translate(188,63)" filter="url(#fa)"><rect width="66" height="66" fill="#6e0f00"/><g transform="translate(0,-1) scale(2)"><path stroke="#209c00" d="M0 1h8M25 1h8M0 2h6M26 2h7M0 3h5M28 3h5M0 4h4M29 4h4M0 5h3M30 5h3M0 6h2M30 6h3M0 7h1M31 7h2M0 8h1M32 8h1M32 9h1M32 24h1M0 25h1M32 25h1M0 26h1M31 26h2M0 27h2M31 27h2M0 28h3M30 28h3M0 29h3M29 29h4M0 30h5M28 30h5M0 31h6M27 31h6M0 32h7M25 32h8M0 33h9M23 33h10"/><path stroke="#209600" d="M8 1h1M23 1h2M6 2h1M25 2h1M5 3h1M27 3h1M4 4h1M28 4h1M3 5h1M29 5h1M2 6h1M1 7h1M30 7h1M1 8h1M31 8h1M0 9h1M32 10h1M32 11h1M32 23h1M0 24h1M31 25h1M1 26h1M2 27h1M30 27h1M29 28h1M3 29h1M28 29h1M27 30h1M6 31h1M26 31h1M7 32h2M24 32h1M9 33h2M22 33h1"/><path stroke="#209000" d="M9 1h1M7 2h1M26 3h1M29 6h1M31 9h1M0 10h1M32 22h1M0 23h1M3 28h1M4 29h1M5 30h1M25 31h1M11 33h1M21 33h1"/><path stroke="#308400" d="M10 1h1M24 2h1M6 3h1M0 11h1M32 21h1M29 27h1M26 30h1M7 31h1M9 32h1M12 33h1M20 33h1"/><path stroke="#406c00" d="M11 1h1M29 7h1M32 14h1M0 21h1M31 23h1M30 25h1M3 27h1M14 33h1M18 33h1"/><path stroke="#485a00" d="M12 1h1M30 9h1M0 20h1M29 26h1M21 32h1"/><path stroke="#504800" d="M13 1h1M22 2h1M24 3h1M5 5h1M4 6h1M31 12h1M0 19h1M30 24h1M28 27h1M27 28h1M7 30h1"/><path stroke="#503c00" d="M14 1h1M10 2h1M29 8h1M2 9h1M0 17h1M31 21h1"/><path stroke="#583600" d="M15 1h2M25 4h1M30 10h1M31 13h1M1 22h1M4 27h1M6 29h1"/><path stroke="#583c00" d="M17 1h1M8 3h1M12 32h1"/><path stroke="#504200" d="M18 1h1M1 11h1M0 15h1M0 16h1M0 18h1M3 26h1M9 31h1M20 32h1"/><path stroke="#484e00" d="M19 1h1M6 4h1M0 14h1M26 29h1M23 31h1M11 32h1"/><path stroke="#406000" d="M20 1h1M7 3h1M26 4h1M28 6h1M1 10h1M31 11h1M0 13h1M32 15h1M32 16h1M32 18h1M8 31h1"/><path stroke="#307200" d="M21 1h1M25 3h1M0 12h1M32 20h1M1 24h1M6 30h1M24 31h1M22 32h1M13 33h1"/><path stroke="#308a00" d="M22 1h1M27 4h1M28 5h1M2 7h1M32 12h1M31 24h1M1 25h1M30 26h1M23 32h1"/><path stroke="#307e00" d="M8 2h1M5 4h1M3 6h1M30 8h1M1 9h1M0 22h1M2 26h1M27 29h1"/><path stroke="#405a00" d="M9 2h1M27 5h1M32 17h1M25 30h1"/><path stroke="#602a00" d="M11 2h1M23 3h1M7 4h1M26 5h1M27 6h1M3 8h1M1 12h1M30 23h1M18 32h1"/><path stroke="#681800" d="M12 2h1M1 20h1M2 23h1M7 29h1M23 30h1"/><path stroke="#6c1400" d="M13 2h1M28 8h1M30 12h1M1 19h1M6 28h1"/><path stroke="#6c1100" d="M14 2h1M27 7h1M29 10h1M1 16h1M1 17h1"/><path stroke="#6e1000" d="M15 2h2M21 3h1M23 4h1M7 5h1M4 8h1M30 13h1M29 23h1M3 24h1M27 26h1M25 28h1M8 29h1M22 30h1M19 31h1"/><path stroke="#6e1100" d="M17 2h1M26 6h1M2 22h1M28 25h1M24 29h1M12 31h1"/><path stroke="#6c1200" d="M18 2h1M10 3h1M25 5h1M1 18h1M30 21h1"/><path stroke="#6a1600" d="M19 2h1M22 3h1M1 14h1"/><path stroke="#661e00" d="M20 2h1M9 3h1M6 5h1M4 7h1M29 9h1M1 13h1M31 15h1M31 18h1M3 25h1M26 28h1"/><path stroke="#583000" d="M21 2h1M28 7h1M2 24h1M29 25h1M5 28h1M24 30h1M22 31h1M19 32h1"/><path stroke="#406600" d="M23 2h1M2 8h1M32 19h1M4 28h1M5 29h1M10 32h1M15 33h3"/><path stroke="#6c1300" d="M8 4h1M3 9h1M2 11h1M1 15h1M5 27h1M9 30h1M20 31h1"/><path stroke="#6a1800" d="M24 4h1"/><path stroke="#307800" d="M4 5h1M31 10h1M32 13h1M28 28h1M19 33h1"/><path stroke="#681e00" d="M5 6h1M31 16h1M31 17h1M27 27h1M21 31h1"/><path stroke="#485400" d="M3 7h1M31 22h1M1 23h1M2 25h1"/><path stroke="#642400" d="M2 10h1M28 26h1M25 29h1M17 32h1"/><path stroke="#641e00" d="M30 11h1M15 32h2"/><path stroke="#602400" d="M31 14h1"/><path stroke="#622400" d="M31 19h1M1 21h1M8 30h1M10 31h1M14 32h1"/><path stroke="#603000" d="M31 20h1M13 32h1"/><path stroke="#681900" d="M30 22h1"/><path stroke="#6a1700" d="M29 24h1M11 31h1"/><path stroke="#6a1500" d="M4 26h1"/></g></g></g><g clip-path="url(#c9)"><g transform="translate(7,123)" filter="url(#fa)"><rect width="66" height="66" fill="#20a800"/><g transform="translate(0,-1) scale(2)"><path stroke="#20a200" d="M9 1h1M23 1h1M7 2h1M25 2h1M28 4h1M1 8h1M31 8h1M0 10h1M32 10h1M0 23h1M2 27h1M30 27h1M3 28h1M5 30h1M27 30h1M6 31h1M26 31h1M8 32h1M24 32h1M10 33h1M22 33h1"/><path stroke="#209600" d="M10 1h1M22 1h1M5 4h1M27 4h1M3 6h1M29 6h1M1 9h1M31 9h1M11 33h1M21 33h1"/><path stroke="#308400" d="M11 1h1M31 24h1M6 30h1"/><path stroke="#406c00" d="M12 1h1M6 4h1M3 7h1M0 14h1M32 20h1M24 31h1"/><path stroke="#405a00" d="M13 1h1M19 1h1M1 11h1M31 11h1M32 15h1M0 16h1M0 18h1"/><path stroke="#504e00" d="M14 1h1"/><path stroke="#504800" d="M15 1h1"/><path stroke="#504200" d="M16 1h1"/><path stroke="#484800" d="M17 1h1"/><path stroke="#484e00" d="M18 1h1"/><path stroke="#306c00" d="M20 1h1M29 7h1M8 31h1M14 33h1M18 33h1"/><path stroke="#307e00" d="M21 1h1M7 3h1M2 8h1M30 8h1M1 10h1M0 21h1M32 21h1M3 27h1M29 27h1M26 30h1"/><path stroke="#209000" d="M8 2h1M24 2h1M4 5h1M28 5h1M0 22h1M32 22h1M2 26h1M7 31h1M25 31h1"/><path stroke="#307200" d="M9 2h1M23 2h1M0 20h1M28 28h1M10 32h1"/><path stroke="#505400" d="M10 2h1M8 3h1M25 30h1M21 32h1"/><path stroke="#683600" d="M11 2h1"/><path stroke="#782400" d="M12 2h1"/><path stroke="#7c1800" d="M13 2h1"/><path stroke="#7a1700" d="M14 2h1"/><path stroke="#741500" d="M15 2h1"/><path stroke="#6c1400" d="M16 2h1"/><path stroke="#661400" d="M17 2h1"/><path stroke="#601600" d="M18 2h1"/><path stroke="#5c1800" d="M19 2h1"/><path stroke="#562400" d="M20 2h1"/><path stroke="#483600" d="M21 2h1M25 4h1"/><path stroke="#404e00" d="M22 2h1M24 3h1M1 22h1M3 26h1"/><path stroke="#209c00" d="M6 3h1M26 3h1M2 7h1M30 7h1M0 11h1M32 11h1M32 23h1M1 25h1M31 25h1M29 28h1M4 29h1M28 29h1"/><path stroke="#783000" d="M9 3h1M6 5h1M4 7h1"/><path stroke="#891900" d="M10 3h1"/><path stroke="#8f1300" d="M11 3h1"/><path stroke="#8b1200" d="M12 3h1M13 6h1M13 7h1M13 8h1M13 9h1M13 10h1M12 12h1M3 13h1M11 13h1M7 14h3M22 20h2M27 20h1M21 21h1M30 21h1M20 22h1M19 23h1M19 24h1M19 25h1M19 26h1M19 27h1M20 30h1"/><path stroke="#851200" d="M13 3h1M14 8h1M14 9h1M14 10h1M13 12h1M12 13h1M3 14h1M11 14h1M22 19h1M25 19h2M18 23h1M18 24h1M18 25h1M19 31h1"/><path stroke="#801200" d="M14 3h1M14 4h1M4 15h1M11 15h1M30 19h1M18 29h1M18 30h1"/><path stroke="#761200" d="M15 3h1M15 4h1M15 13h1M4 16h3M11 16h1M17 29h1M17 30h1M17 31h1"/><path stroke="#6c1200" d="M16 3h1M16 4h1M16 5h1M16 6h1M16 7h1M16 8h1M16 9h1M16 10h1M16 11h1M16 12h1M16 13h1M16 14h1M16 15h1M15 16h3M15 17h4M16 18h1M16 19h1M16 20h1M16 21h1M16 22h1M16 23h1M16 24h1M16 25h1M16 26h1M16 27h1M16 28h1M16 29h1M16 30h1M16 31h1"/><path stroke="#661200" d="M17 3h1M17 4h1M17 5h1M17 6h1M17 7h1M20 16h1M24 16h4M2 18h3M13 18h1M14 19h1M15 20h1M15 28h1M15 29h1M15 30h1M15 31h1"/><path stroke="#621200" d="M18 3h1M18 4h1M18 5h1M17 10h1M17 11h1M27 15h3M8 18h2M11 18h1M2 19h2M13 19h1M14 20h1M15 22h1M15 23h1M15 24h1M14 29h1M14 30h1M14 31h1"/><path stroke="#601200" d="M19 3h1M18 6h1M18 7h1M18 13h1M19 14h1M29 14h2M20 15h1M25 15h2M10 18h1M4 19h2M12 19h1M13 20h1M14 21h1M14 27h1M14 28h1M13 31h1"/><path stroke="#5c1200" d="M20 3h1M20 4h1M20 5h1M19 6h1M19 7h1M19 8h1M18 10h1M18 11h1M27 13h3M25 14h2M9 19h3M5 20h2M12 20h1M2 21h2M13 21h1M14 23h1M14 24h1M13 26h1M13 27h1M12 29h1M12 30h1"/><path stroke="#5a1200" d="M21 3h1M21 4h2M21 5h1M20 6h2M20 7h1M20 8h1M19 9h1M19 10h1M19 11h1M29 11h1M19 12h1M27 12h3M20 13h1M25 13h2M21 14h4M7 20h3M11 20h1M4 21h4M12 21h1M3 22h2M13 22h1M13 23h1M13 24h1M13 25h1M12 26h1M12 27h1M11 28h2M11 29h1M10 30h2"/><path stroke="#561900" d="M22 3h1"/><path stroke="#502a00" d="M23 3h1M26 5h1M27 6h1M31 13h1M3 25h1M8 30h1M10 31h1"/><path stroke="#307800" d="M25 3h1M31 10h1M0 13h1M32 13h1M4 28h1M5 29h1M27 29h1M13 33h1M19 33h1"/><path stroke="#683c00" d="M7 4h1M3 8h1M30 24h1M28 27h1M27 28h1"/><path stroke="#8b1e00" d="M8 4h1M25 29h1"/><path stroke="#931200" d="M9 4h2M10 5h1M11 6h1M11 7h1M11 8h1M11 9h1M10 10h1M4 11h2M9 11h1M6 12h3M24 22h4M22 23h2M28 23h2M22 24h1M21 25h1M21 26h1M21 27h1M22 28h1M22 29h1M22 30h1"/><path stroke="#911200" d="M11 4h1M11 5h1M12 7h1M12 8h1M11 10h1M3 11h1M10 11h1M4 12h2M9 12h1M24 21h3M22 22h2M28 22h2M21 23h1M21 24h1M20 26h1M21 28h1M21 29h1"/><path stroke="#8d1200" d="M12 4h1M12 5h1M12 11h1M11 12h1M4 13h1M10 13h1M24 20h3M29 21h1M20 23h1M20 29h1"/><path stroke="#871200" d="M13 4h1M4 14h1M23 19h2M21 20h1M29 20h2M20 21h1M19 22h1M19 29h1M19 30h1"/><path stroke="#5e1200" d="M19 4h1M19 5h1M18 8h1M18 9h1M18 12h1M19 13h1M30 13h1M20 14h1M27 14h2M21 15h4M6 19h3M2 20h3M14 22h1M14 25h1M14 26h1M13 28h1M13 29h1M13 30h1"/><path stroke="#581200" d="M23 4h1M22 5h3M22 6h4M21 7h6M21 8h7M20 9h9M20 10h10M20 11h9M20 12h7M21 13h4M10 20h1M8 21h4M5 22h8M3 23h10M4 24h9M4 25h9M5 26h7M6 27h6M7 28h4M8 29h3"/><path stroke="#541800" d="M24 4h1M5 27h1"/><path stroke="#306600" d="M26 4h1M32 14h1M1 23h1M2 25h1"/><path stroke="#406000" d="M5 5h1M27 5h1M4 6h1M28 6h1M0 15h1M0 19h1M32 19h1"/><path stroke="#931500" d="M7 5h1"/><path stroke="#951200" d="M8 5h2M9 6h2M9 7h2M10 8h1M4 9h2M9 9h2M4 10h3M8 10h2M6 11h3M24 23h4M23 24h1M27 24h2M22 25h1M28 25h1M22 26h1M22 27h2M23 28h2M23 29h2"/><path stroke="#891200" d="M13 5h1M13 11h1M2 13h1M5 14h2M10 14h1M28 20h1M19 28h1"/><path stroke="#811200" d="M14 5h1M14 12h1M13 13h1M12 14h1M5 15h3M21 19h1M29 19h1M18 22h1M18 28h1"/><path stroke="#781200" d="M15 5h1M15 6h1M14 14h1M13 15h1M7 16h4M20 18h1M29 18h2M17 21h1M17 27h1M17 28h1"/><path stroke="#561400" d="M25 5h1"/><path stroke="#782a00" d="M5 6h1M24 30h1M22 31h1"/><path stroke="#951300" d="M6 6h1M5 7h1"/><path stroke="#971200" d="M7 6h2M6 7h3M5 8h5M6 9h3M7 10h1M24 24h3M23 25h5M23 26h5M24 27h3M25 28h1"/><path stroke="#8f1200" d="M12 6h1M12 9h1M12 10h1M11 11h1M3 12h1M10 12h1M5 13h5M22 21h2M27 21h2M21 22h1M20 24h1M20 25h1M20 27h1M20 28h1M21 30h1"/><path stroke="#831200" d="M14 6h1M14 7h1M14 11h1M2 14h1M8 15h3M27 19h2M20 20h1M19 21h1M18 26h1M18 27h1"/><path stroke="#561300" d="M26 6h1M27 7h1"/><path stroke="#7a1200" d="M15 7h1M15 8h1M15 9h1M15 11h1M15 12h1M27 18h2M19 19h1M18 20h1M17 22h1M17 23h1M17 24h1M17 25h1M17 26h1"/><path stroke="#503000" d="M28 7h1M30 10h1M13 32h1"/><path stroke="#911500" d="M4 8h1"/><path stroke="#641200" d="M17 8h1M17 9h1M17 12h1M17 13h1M18 14h1M19 15h1M30 15h1M21 16h3M5 18h3M12 18h1M15 21h1M15 25h1M15 26h1M15 27h1"/><path stroke="#561500" d="M28 8h1M3 24h1"/><path stroke="#483c00" d="M29 8h1M31 12h1M5 28h1M12 32h1"/><path stroke="#505a00" d="M2 9h1"/><path stroke="#871e00" d="M3 9h1"/><path stroke="#541e00" d="M29 9h1M4 26h1M7 29h1"/><path stroke="#405400" d="M30 9h1M32 16h1M0 17h1M7 30h1M11 32h1"/><path stroke="#703600" d="M2 10h1"/><path stroke="#931300" d="M3 10h1"/><path stroke="#7c1200" d="M15 10h1M14 13h1M13 14h1M12 15h1M21 18h1M24 18h3"/><path stroke="#851e00" d="M2 11h1"/><path stroke="#561e00" d="M30 11h1"/><path stroke="#208a00" d="M0 12h1M32 12h1M1 24h1M30 26h1M9 32h1M23 32h1M12 33h1M20 33h1"/><path stroke="#604200" d="M1 12h1M26 29h1"/><path stroke="#8b1400" d="M2 12h1"/><path stroke="#5a1400" d="M30 12h1"/><path stroke="#703000" d="M1 13h1"/><path stroke="#742400" d="M1 14h1"/><path stroke="#721200" d="M15 14h1M14 15h1M13 16h1"/><path stroke="#681200" d="M17 14h1M18 15h1M19 16h1M28 16h3M14 18h1M15 19h1"/><path stroke="#5a1e00" d="M31 14h1"/><path stroke="#741e00" d="M1 15h1"/><path stroke="#7e1200" d="M2 15h2M22 18h2M20 19h1M19 20h1M18 21h1M18 31h1"/><path stroke="#6e1200" d="M15 15h1M14 16h1M19 17h12M17 18h1"/><path stroke="#6a1200" d="M17 15h1M18 16h1M2 17h13M15 18h1"/><path stroke="#601800" d="M31 15h1"/><path stroke="#6e1900" d="M1 16h1"/><path stroke="#741200" d="M2 16h2M12 16h1M19 18h1M18 19h1M17 20h1"/><path stroke="#641800" d="M31 16h1"/><path stroke="#661900" d="M1 17h1"/><path stroke="#6a1700" d="M31 17h1"/><path stroke="#485400" d="M32 17h1M32 18h1"/><path stroke="#621800" d="M1 18h1"/><path stroke="#701200" d="M18 18h1M17 19h1"/><path stroke="#721900" d="M31 18h1"/><path stroke="#5c1e00" d="M1 19h1"/><path stroke="#761e00" d="M31 19h1"/><path stroke="#582400" d="M1 20h1"/><path stroke="#762400" d="M31 20h1"/><path stroke="#503600" d="M1 21h1"/><path stroke="#683000" d="M31 21h1M19 32h1"/><path stroke="#581700" d="M2 22h1"/><path stroke="#8b1600" d="M30 22h1"/><path stroke="#584800" d="M31 22h1"/><path stroke="#522400" d="M2 23h1"/><path stroke="#802400" d="M30 23h1M29 25h1"/><path stroke="#406600" d="M31 23h1M30 25h1M15 33h3"/><path stroke="#484200" d="M2 24h1M4 27h1M6 29h1"/><path stroke="#911400" d="M29 24h1"/><path stroke="#8d1800" d="M28 26h1"/><path stroke="#584e00" d="M29 26h1"/><path stroke="#911700" d="M27 27h1"/><path stroke="#541900" d="M6 28h1"/><path stroke="#8f1800" d="M26 28h1"/><path stroke="#561700" d="M9 30h1"/><path stroke="#8f1600" d="M23 30h1"/><path stroke="#404800" d="M9 31h1"/><path stroke="#581800" d="M11 31h1"/><path stroke="#5c1300" d="M12 31h1"/><path stroke="#891300" d="M20 31h1"/><path stroke="#871900" d="M21 31h1"/><path stroke="#604800" d="M23 31h1"/><path stroke="#5a2400" d="M14 32h1"/><path stroke="#601e00" d="M15 32h1"/><path stroke="#641e00" d="M16 32h1"/><path stroke="#6a1e00" d="M17 32h1"/><path stroke="#6e2400" d="M18 32h1"/><path stroke="#603c00" d="M20 32h1"/><path stroke="#407200" d="M22 32h1"/></g></g></g><g clip-path="url(#c10)"><g transform="translate(68,123)" filter="url(#fa)"><rect width="66" height="66" fill="#10ea00"/><g transform="translate(0,-1) scale(2)"><path stroke="#10e400" d="M11 1h1M8 2h1M23 2h1M25 3h1M5 4h1M4 5h1M3 6h1M29 7h1M1 9h1M32 14h1M32 19h1M32 20h1M0 22h1M31 23h1M30 25h1M2 26h1M28 28h1M27 29h1M7 31h1M24 31h1M9 32h1M22 32h1M12 33h1M19 33h1"/><path stroke="#20d200" d="M12 1h1M9 2h1M0 21h1M16 33h2"/><path stroke="#30c000" d="M13 1h1M6 4h1M31 12h1"/><path stroke="#40a800" d="M14 1h1"/><path stroke="#409c00" d="M15 1h1"/><path stroke="#309c00" d="M16 1h1"/><path stroke="#20a800" d="M17 1h1"/><path stroke="#10b400" d="M18 1h1"/><path stroke="#10cc00" d="M19 1h1M1 10h1M0 13h1M31 22h1M8 31h1"/><path stroke="#10de00" d="M20 1h1M26 4h1M27 5h1M28 6h1M31 11h1M0 12h1M32 15h1M32 18h1M1 24h1M6 30h1M13 33h1M18 33h1"/><path stroke="#50a200" d="M10 2h1M0 19h1"/><path stroke="#806c00" d="M11 2h1"/><path stroke="#a84200" d="M12 2h1"/><path stroke="#b82a00" d="M13 2h1"/><path stroke="#b71e00" d="M14 2h1"/><path stroke="#9b1800" d="M15 2h1"/><path stroke="#621800" d="M16 2h1"/><path stroke="#301e00" d="M17 2h1"/><path stroke="#182400" d="M18 2h1"/><path stroke="#103c00" d="M19 2h1M22 3h1"/><path stroke="#106000" d="M20 2h1M3 8h1M1 12h1M13 32h1"/><path stroke="#109000" d="M21 2h1"/><path stroke="#10c600" d="M22 2h1M24 3h1"/><path stroke="#20d800" d="M7 3h1M30 9h1M3 27h1"/><path stroke="#509c00" d="M8 3h1M31 13h1M20 32h1"/><path stroke="#984e00" d="M9 3h1"/><path stroke="#c72400" d="M10 3h1"/><path stroke="#d71100" d="M11 3h1M29 11h1"/><path stroke="#d70f00" d="M12 3h1M12 4h1M9 5h1M10 6h1M13 6h1M10 7h1M13 7h1M11 8h1M13 8h1M12 10h2M28 10h1M26 11h2M24 12h2M23 13h1M29 13h1M25 14h3M23 15h1M7 19h2M2 20h4M9 20h1M8 21h1M6 22h1M4 23h2M18 24h1M18 25h1M20 25h1M18 26h1M21 26h1M21 27h1M19 28h1M22 28h1M19 29h1M22 29h1M19 30h1"/><path stroke="#d30f00" d="M13 3h1M8 5h1M10 8h1M14 8h1M14 10h1M26 10h1M23 12h1M22 14h1M25 15h1M4 19h1M9 21h1M6 23h1M19 23h1M21 25h1M23 28h1M18 29h1M18 30h1"/><path stroke="#c90f00" d="M14 3h1M30 15h1M6 18h1M10 20h1M17 27h1M24 28h1"/><path stroke="#a50f00" d="M15 3h1M17 22h1M21 23h1M5 26h1"/><path stroke="#640f00" d="M16 3h1M16 4h1M21 17h1M23 17h1M13 20h1"/><path stroke="#300f00" d="M17 3h1M28 18h1M24 24h1"/><path stroke="#1a0f00" d="M18 3h1M23 7h1M17 9h1M8 11h1M19 11h1M10 13h1M5 15h1M29 19h1M24 23h1M8 27h1M14 27h1"/><path stroke="#120f00" d="M19 3h1M19 4h1M23 5h1M18 7h1M22 7h1M18 8h1M21 8h1M5 10h1M18 10h1M20 10h1M8 12h1M4 14h2M9 14h1M24 19h2M22 20h1M28 20h2M24 22h1M12 23h1M26 23h1M11 24h1M27 24h1M10 26h1M9 27h1M13 27h1M13 28h1M8 29h1"/><path stroke="#101000" d="M20 3h1M2 12h1"/><path stroke="#101900" d="M21 3h1M9 30h1"/><path stroke="#107e00" d="M23 3h1M30 23h1"/><path stroke="#806600" d="M7 4h1M2 24h1"/><path stroke="#c52400" d="M8 4h1"/><path stroke="#d71000" d="M9 4h1"/><path stroke="#d90f00" d="M10 4h2M10 5h3M11 6h2M11 7h2M12 8h1M12 9h2M28 11h1M26 12h4M24 13h5M23 14h2M6 20h3M2 21h6M3 22h3M3 23h1M19 24h1M19 25h1M19 26h2M19 27h2M20 28h2M20 29h2M20 30h2"/><path stroke="#d50f00" d="M13 4h1M13 5h1M9 6h1M11 9h1M14 9h1M27 10h1M25 11h1M22 13h1M28 14h2M24 15h1M5 19h2M9 19h1M7 22h1M4 24h1M20 24h1M18 27h1M22 27h1M18 28h1M23 29h1"/><path stroke="#cb0f00" d="M14 4h1M10 9h1M25 10h1M22 15h1M29 15h1M7 18h1M9 18h1"/><path stroke="#a70f00" d="M15 4h1M9 9h1"/><path stroke="#2c0f00" d="M17 4h1M24 7h1M17 11h1M10 12h1M27 18h1M13 22h1M23 23h1M7 27h1"/><path stroke="#180f00" d="M18 4h1M5 9h1M9 12h1M6 15h1M22 19h1M28 19h1M9 26h1M14 26h1"/><path stroke="#100f00" d="M20 4h3M19 5h4M19 6h4M19 7h3M19 8h2M18 9h3M3 10h2M19 10h1M3 11h4M3 12h5M2 13h8M6 14h3M23 19h1M23 20h5M23 21h7M25 22h5M27 23h2M12 24h2M28 24h1M11 25h3M11 26h3M10 27h3M9 28h4M9 29h4M10 30h3"/><path stroke="#101700" d="M23 4h1"/><path stroke="#104800" d="M24 4h1M2 10h1M8 30h1M10 31h1"/><path stroke="#10a200" d="M25 4h1"/><path stroke="#30ae00" d="M5 5h1"/><path stroke="#884800" d="M6 5h1"/><path stroke="#c71300" d="M7 5h1"/><path stroke="#cd0f00" d="M14 5h1M8 6h1M12 11h1M28 15h1M7 23h1M18 23h1M20 23h1M17 26h1M23 27h1"/><path stroke="#ab0f00" d="M15 5h1M12 12h2M30 16h1M11 20h1M6 25h1"/><path stroke="#620f00" d="M16 5h1M17 13h1M22 17h1M19 19h1"/><path stroke="#2a0f00" d="M17 5h1M10 15h1"/><path stroke="#160f00" d="M18 5h1M22 8h1M6 10h1M7 15h1M9 15h1M27 19h1M23 22h1M13 23h1M26 24h1M14 25h1M27 25h1M13 30h1M13 31h1"/><path stroke="#161000" d="M24 5h1"/><path stroke="#202a00" d="M25 5h1"/><path stroke="#208a00" d="M26 5h1M0 16h1"/><path stroke="#20ae00" d="M4 6h1M27 28h1"/><path stroke="#583c00" d="M5 6h1"/><path stroke="#951000" d="M6 6h1"/><path stroke="#bb0f00" d="M7 6h1M23 26h1"/><path stroke="#cf0f00" d="M14 6h1M27 9h1M11 10h1M24 11h1M27 15h1M8 18h1M4 25h1M17 25h1M22 26h1"/><path stroke="#ad0f00" d="M15 6h1M29 16h1"/><path stroke="#600f00" d="M16 6h1M16 12h1M12 15h1"/><path stroke="#260f00" d="M17 6h1M5 8h1M21 21h1M22 22h1M14 31h1"/><path stroke="#140f00" d="M18 6h1M23 6h1M4 9h1M21 9h1M7 11h1M2 14h2M8 15h1M26 19h1M22 21h1M25 23h1M14 24h1M10 25h1M8 28h1M13 29h1"/><path stroke="#1c0f00" d="M24 6h1M17 10h1M20 11h1M4 15h1M23 18h1M11 23h1M25 24h1M7 28h1"/><path stroke="#2e0f00" d="M25 6h1M8 16h2M21 19h1"/><path stroke="#4a2400" d="M26 6h1"/><path stroke="#408400" d="M27 6h1"/><path stroke="#10ba00" d="M3 7h1M28 27h1"/><path stroke="#204200" d="M4 7h1"/><path stroke="#401000" d="M5 7h1"/><path stroke="#6a0f00" d="M6 7h1M7 8h1M16 13h1M18 14h1M20 17h1M26 17h2M19 18h1"/><path stroke="#9b0f00" d="M7 7h1M16 25h1"/><path stroke="#bf0f00" d="M8 7h1M21 13h1M3 18h1M10 19h1M9 22h1M17 31h1"/><path stroke="#d10f00" d="M9 7h1M14 7h1M26 15h1M2 19h2M8 22h1M5 24h1M17 24h1M18 31h1"/><path stroke="#b10f00" d="M15 7h1M7 24h1"/><path stroke="#5c0f00" d="M16 7h1M22 23h1M23 24h1M24 25h1"/><path stroke="#220f00" d="M17 7h1M6 9h1M18 11h1M2 15h1"/><path stroke="#4e0f00" d="M25 7h1M15 30h1"/><path stroke="#7c0f00" d="M26 7h1M11 17h1M6 26h1"/><path stroke="#952400" d="M27 7h1"/><path stroke="#509600" d="M28 7h1"/><path stroke="#10d800" d="M2 8h1M32 16h1M32 17h1M14 33h1"/><path stroke="#1a1300" d="M4 8h1"/><path stroke="#3e0f00" d="M6 8h1M15 26h1"/><path stroke="#a10f00" d="M8 8h1M21 16h1"/><path stroke="#c50f00" d="M9 8h1M26 9h1M5 18h1M17 29h1"/><path stroke="#b50f00" d="M15 8h1M24 10h1"/><path stroke="#5a0f00" d="M16 8h1M21 22h1"/><path stroke="#1e0f00" d="M17 8h1M7 10h1M21 10h1M14 28h1"/><path stroke="#280f00" d="M23 8h1M26 18h1M8 26h1"/><path stroke="#4c0f00" d="M24 8h1M12 21h1M6 27h1"/><path stroke="#7e0f00" d="M25 8h1M7 25h1"/><path stroke="#a90f00" d="M26 8h1M15 11h1M20 22h1"/><path stroke="#c10f00" d="M27 8h1M23 16h1M4 18h1M22 25h1M17 30h1"/><path stroke="#a83600" d="M28 8h1"/><path stroke="#40b400" d="M29 8h1M2 25h1M23 31h1"/><path stroke="#109600" d="M2 9h1"/><path stroke="#101e00" d="M3 9h1M2 11h1"/><path stroke="#3a0f00" d="M7 9h1M11 14h1M21 18h1M15 23h1M15 25h1"/><path stroke="#6c0f00" d="M8 9h1M9 10h1M13 15h1M28 17h2M15 20h1"/><path stroke="#b90f00" d="M15 9h1M15 10h1M22 16h1M25 16h1"/><path stroke="#560f00" d="M16 9h1M18 13h2M12 14h1M20 18h1"/><path stroke="#240f00" d="M22 9h1M22 18h1M25 18h1M21 20h1M12 22h1M9 25h1M14 30h1"/><path stroke="#4a0f00" d="M23 9h1M20 19h1M15 22h1M7 26h1M15 29h1"/><path stroke="#810f00" d="M24 9h1M8 24h1"/><path stroke="#af0f00" d="M25 9h1M10 10h1M21 15h1M28 16h1"/><path stroke="#d11200" d="M28 9h1"/><path stroke="#906000" d="M29 9h1"/><path stroke="#360f00" d="M8 10h1M30 18h1M15 24h1"/><path stroke="#540f00" d="M16 10h1M14 21h1"/><path stroke="#460f00" d="M22 10h1M11 15h1M9 24h1M15 28h1"/><path stroke="#850f00" d="M23 10h1M20 16h1M9 23h1"/><path stroke="#c32400" d="M29 10h1"/><path stroke="#50a800" d="M30 10h1"/><path stroke="#109c00" d="M1 11h1M0 15h1M7 30h1"/><path stroke="#320f00" d="M9 11h1M19 12h1"/><path stroke="#6e0f00" d="M10 11h1M15 14h3M14 15h5M13 16h6M13 17h7M30 17h1M13 18h6M14 19h5"/><path stroke="#b70f00" d="M11 11h1M26 16h1M8 23h1M24 27h1"/><path stroke="#c70f00" d="M13 11h1M6 24h1M21 24h1M17 28h1"/><path stroke="#bd0f00" d="M14 11h1M23 11h1M21 14h1M24 16h1M2 18h1M19 22h1"/><path stroke="#580f00" d="M16 11h1"/><path stroke="#420f00" d="M21 11h1M10 23h1M15 27h1"/><path stroke="#8b0f00" d="M22 11h1M20 13h1M4 17h2M11 21h1M10 22h1"/><path stroke="#906600" d="M30 11h1"/><path stroke="#700f00" d="M11 12h1M12 13h1M13 14h2M13 19h1M16 20h1"/><path stroke="#9d0f00" d="M14 12h1M20 14h1M22 24h1"/><path stroke="#8f0f00" d="M15 12h1M20 15h1M7 17h1M9 17h1M16 31h1"/><path stroke="#480f00" d="M17 12h1M2 16h1M13 21h1M8 25h1"/><path stroke="#3c0f00" d="M18 12h1M5 16h1M10 16h1"/><path stroke="#440f00" d="M20 12h1M3 16h1"/><path stroke="#910f00" d="M21 12h1M8 17h1M24 26h1M16 30h1"/><path stroke="#c30f00" d="M22 12h1M10 21h1M17 23h1M5 25h1"/><path stroke="#b83000" d="M30 12h1M23 30h1"/><path stroke="#103600" d="M1 13h1M29 24h1"/><path stroke="#380f00" d="M11 13h1M6 16h1M14 22h1M26 26h1"/><path stroke="#890f00" d="M13 13h1M2 17h2M16 22h1"/><path stroke="#800f00" d="M14 13h1M12 20h1"/><path stroke="#780f00" d="M15 13h1M19 15h1M18 20h1"/><path stroke="#cd1e00" d="M30 13h1"/><path stroke="#10ae00" d="M0 14h1M11 32h1"/><path stroke="#162400" d="M1 14h1"/><path stroke="#200f00" d="M10 14h1M3 15h1M24 18h1M14 23h1M10 24h1M26 25h1M14 29h1"/><path stroke="#7a0f00" d="M19 14h1M12 18h1M16 21h1"/><path stroke="#d11100" d="M30 14h1"/><path stroke="#707800" d="M31 14h1M1 22h1M19 32h1"/><path stroke="#241900" d="M1 15h1"/><path stroke="#806000" d="M31 15h1"/><path stroke="#481500" d="M1 16h1"/><path stroke="#400f00" d="M4 16h1M20 20h1M11 22h1"/><path stroke="#340f00" d="M7 16h1M29 18h1M25 25h1"/><path stroke="#520f00" d="M11 16h1"/><path stroke="#660f00" d="M12 16h1M24 17h1"/><path stroke="#720f00" d="M19 16h1M12 17h1M17 20h1"/><path stroke="#b30f00" d="M27 16h1M10 18h1M18 22h1"/><path stroke="#785400" d="M31 16h1"/><path stroke="#408a00" d="M0 17h1"/><path stroke="#851400" d="M1 17h1"/><path stroke="#8d0f00" d="M6 17h1M25 27h1"/><path stroke="#870f00" d="M10 17h1M17 21h1"/><path stroke="#680f00" d="M25 17h1M14 20h1M19 20h1"/><path stroke="#504e00" d="M31 17h1"/><path stroke="#509000" d="M0 18h1"/><path stroke="#b31600" d="M1 18h1"/><path stroke="#930f00" d="M11 18h1M18 21h1M16 29h1"/><path stroke="#285400" d="M31 18h1"/><path stroke="#c31e00" d="M1 19h1"/><path stroke="#9f0f00" d="M11 19h1M16 24h1"/><path stroke="#830f00" d="M12 19h1"/><path stroke="#1c1000" d="M30 19h1"/><path stroke="#106600" d="M31 19h1"/><path stroke="#30ba00" d="M0 20h1M26 29h1"/><path stroke="#c02a00" d="M1 20h1M2 23h1"/><path stroke="#141400" d="M30 20h1"/><path stroke="#108400" d="M31 20h1M29 25h1M12 32h1"/><path stroke="#a04800" d="M1 21h1"/><path stroke="#5e0f00" d="M15 21h1M20 21h1M25 26h1"/><path stroke="#950f00" d="M19 21h1M16 28h1"/><path stroke="#102400" d="M30 21h1M11 31h1"/><path stroke="#10a800" d="M31 21h1"/><path stroke="#d51300" d="M2 22h1M22 30h1"/><path stroke="#104200" d="M30 22h1"/><path stroke="#40ae00" d="M1 23h1"/><path stroke="#990f00" d="M16 23h1M16 26h1"/><path stroke="#101500" d="M29 23h1"/><path stroke="#d51100" d="M3 24h1M19 31h1"/><path stroke="#10c000" d="M30 24h1"/><path stroke="#b03000" d="M3 25h1"/><path stroke="#970f00" d="M23 25h1M16 27h1"/><path stroke="#121900" d="M28 25h1"/><path stroke="#608400" d="M3 26h1"/><path stroke="#b31e00" d="M4 26h1"/><path stroke="#221200" d="M27 26h1"/><path stroke="#185a00" d="M28 26h1"/><path stroke="#10d200" d="M29 26h1M5 29h1M10 32h1M15 33h1"/><path stroke="#606c00" d="M4 27h1"/><path stroke="#741700" d="M5 27h1"/><path stroke="#5e1100" d="M26 27h1"/><path stroke="#304200" d="M27 27h1"/><path stroke="#20cc00" d="M4 28h1M25 30h1"/><path stroke="#306600" d="M5 28h1"/><path stroke="#2e1900" d="M6 28h1"/><path stroke="#af1200" d="M25 28h1"/><path stroke="#684200" d="M26 28h1"/><path stroke="#107800" d="M6 29h1"/><path stroke="#142400" d="M7 29h1"/><path stroke="#c91800" d="M24 29h1"/><path stroke="#885400" d="M25 29h1"/><path stroke="#707e00" d="M24 30h1"/><path stroke="#108a00" d="M9 31h1"/><path stroke="#121400" d="M12 31h1"/><path stroke="#500f00" d="M15 31h1"/><path stroke="#cb1e00" d="M20 31h1"/><path stroke="#b03c00" d="M21 31h1"/><path stroke="#807200" d="M22 31h1"/><path stroke="#204800" d="M14 32h1"/><path stroke="#404200" d="M15 32h1"/><path stroke="#703c00" d="M16 32h1"/><path stroke="#904800" d="M17 32h1"/><path stroke="#905a00" d="M18 32h1"/><path stroke="#30c600" d="M21 32h1"/></g></g></g><g clip-path="url(#c11)"><g transform="translate(128,123)" filter="url(#fa)"><rect width="66" height="66" fill="#704200"/><g transform="translate(0,-1) scale(2)"><path stroke="#783c00" d="M8 1h1M6 2h1M28 4h1M1 7h1M31 8h1M0 9h1M32 10h1M2 28h1M3 29h1M4 30h1M9 33h1"/><path stroke="#882a00" d="M9 1h1M0 10h1M10 33h1"/><path stroke="#951700" d="M10 1h1"/><path stroke="#9b0c00" d="M11 1h1"/><path stroke="#9d0700" d="M12 1h1"/><path stroke="#9d0500" d="M13 1h1M12 2h1M19 2h1M12 3h1M13 7h1M18 9h1M15 12h2M1 13h2M29 13h2M0 14h1M6 14h1M9 15h1M11 16h1M11 17h1M21 18h1M8 19h1M0 20h1M5 20h1M27 20h1M31 20h1M19 28h1M12 30h1M12 31h1M19 32h1"/><path stroke="#9b0500" d="M14 1h1M17 1h2M13 2h1M19 3h1M19 4h1M19 5h1M14 10h1M17 11h1M1 14h1M5 14h1M26 14h1M31 14h1M0 15h1M23 15h1M21 16h1M21 17h1M0 18h1M10 18h1M0 19h1M24 19h1M31 19h1M1 20h4M28 20h3M15 22h2M18 25h1M13 27h1M19 29h1M19 30h1M19 31h1M13 32h1M18 32h1"/><path stroke="#990500" d="M15 1h2M18 2h1M13 3h1M13 6h1M18 8h1M15 11h1M2 14h1M4 14h1M27 14h1M30 14h1M8 15h1M31 15h1M0 16h1M10 16h1M0 17h1M22 18h1M31 18h1M1 19h1M7 19h1M25 19h1M17 23h1M14 24h1M18 26h1M13 28h1M13 31h1M14 32h1M17 32h1"/><path stroke="#9d0600" d="M19 1h1M0 13h1"/><path stroke="#9d0900" d="M20 1h1"/><path stroke="#991000" d="M21 1h1"/><path stroke="#8f1e00" d="M22 1h1"/><path stroke="#803000" d="M23 1h1M32 23h1M0 24h1M1 26h1M22 33h1"/><path stroke="#902a00" d="M7 2h1M26 3h1M1 8h1M6 31h1"/><path stroke="#a11200" d="M8 2h1"/><path stroke="#a70700" d="M9 2h1"/><path stroke="#a50500" d="M10 2h1M21 3h1M11 4h1M20 6h1M12 7h1M12 8h1M19 9h1M19 10h1M1 11h1M19 11h1M3 12h1M12 12h1M28 12h1M6 13h2M11 13h1M20 13h2M25 13h1M15 15h2M14 16h1M14 17h1M17 18h1M8 20h3M21 20h3M5 21h1M11 21h2M20 21h1M26 21h2M2 22h1M12 22h1M19 22h1M29 22h1M19 23h1M19 24h1M12 26h1M20 28h1M11 29h1M21 31h1"/><path stroke="#a10500" d="M11 2h1M20 4h1M19 7h1M13 9h1M18 10h1M1 12h1M14 12h1M30 12h2M4 13h1M14 13h4M27 13h1M13 14h1M24 14h1M11 15h2M19 15h3M12 16h1M12 17h1M19 17h1M12 18h1M20 18h1M9 19h2M12 19h1M19 19h1M22 19h1M6 20h1M18 20h1M25 20h1M3 21h1M14 21h1M17 21h1M29 21h1M14 22h1M18 23h1M13 25h1M12 28h1M20 30h1M11 31h1M11 32h1"/><path stroke="#970500" d="M14 2h1M17 2h1M18 3h1M13 4h1M13 5h1M18 7h1M14 9h1M17 10h1M16 11h1M3 14h1M28 14h2M1 15h1M24 15h1M22 16h1M31 16h1M10 17h1M31 17h1M1 18h1M9 18h1M6 19h1M26 19h1M30 19h1M15 23h1M14 25h1M18 27h1M13 29h1M13 30h1M18 31h1M15 32h2"/><path stroke="#950500" d="M15 2h2M14 3h1M18 4h1M18 5h1M18 6h1M14 8h1M2 15h1M7 15h1M25 15h1M30 15h1M1 16h1M1 17h1M22 17h1M23 18h1M30 18h1M2 19h1M5 19h1M27 19h1M29 19h1M16 23h1M17 24h1M14 26h1M18 28h1M18 30h1M14 31h1M17 31h1"/><path stroke="#9f0500" d="M20 2h1M20 3h1M12 4h1M12 5h1M19 6h1M13 8h1M14 11h1M17 12h1M3 13h1M28 13h1M31 13h1M7 14h1M25 14h1M10 15h1M22 15h1M20 16h1M20 17h1M11 18h1M23 19h1M26 20h1M1 21h2M15 21h2M30 21h2M17 22h1M14 23h1M18 24h1M13 26h1M19 27h1M12 29h1M20 31h1M12 32h1M20 32h1"/><path stroke="#a30500" d="M21 2h1M11 3h1M20 5h1M12 6h1M19 8h1M13 10h1M13 11h1M18 11h1M2 12h1M13 12h1M18 12h2M29 12h1M5 13h1M12 13h2M18 13h2M26 13h1M8 14h5M14 14h10M13 15h2M17 15h2M13 16h1M18 16h2M13 17h1M18 17h1M13 18h2M18 18h2M11 19h1M13 19h6M20 19h2M7 20h1M11 20h7M19 20h2M24 20h1M4 21h1M13 21h1M18 21h2M28 21h1M1 22h1M13 22h1M18 22h1M30 22h1M13 23h1M13 24h1M19 25h1M19 26h1M12 27h1M20 29h1M11 30h1M21 32h1"/><path stroke="#a70500" d="M22 2h1M10 3h1M21 4h1M11 5h1M20 7h1M12 9h1M12 10h1M2 11h1M12 11h1M20 11h1M30 11h1M4 12h1M11 12h1M20 12h1M27 12h1M8 13h3M22 13h3M17 16h1M15 18h1M6 21h2M10 21h1M21 21h1M25 21h1M3 22h1M20 22h1M28 22h1M1 23h1M12 23h1M12 24h1M12 25h1M20 26h1M20 27h1M11 28h1M21 30h1M10 31h1"/><path stroke="#a70b00" d="M23 2h1"/><path stroke="#971e00" d="M24 2h1"/><path stroke="#803600" d="M25 2h1M5 3h1M2 6h1M30 27h1M26 31h1"/><path stroke="#9f1800" d="M6 3h1M2 7h1"/><path stroke="#b10800" d="M7 3h1M2 8h1"/><path stroke="#b10500" d="M8 3h1M23 4h1M9 5h1M22 6h1M22 7h1M2 9h1M22 9h1M29 9h1M4 10h1M9 10h1M22 10h1M7 11h1M24 11h2M5 23h2M8 23h1M23 23h2M26 23h1M3 24h1M22 24h1M28 24h1M2 25h1M22 27h1M23 29h1M8 30h1"/><path stroke="#ad0500" d="M9 3h1M22 4h1M10 6h1M21 7h1M21 8h1M21 9h1M2 10h1M21 10h1M29 10h1M4 11h1M10 11h1M22 11h1M27 11h1M15 16h1M6 22h4M23 22h3M10 23h1M28 23h1M21 24h1M30 24h1M21 25h1M21 26h1M21 27h1M10 28h1M22 29h1M9 30h1M23 31h1"/><path stroke="#910500" d="M15 3h2M14 4h1M14 5h1M14 6h1M17 8h1M16 10h1M3 15h2M27 15h2M2 16h1M23 16h1M2 17h1M9 17h1M7 18h1M24 18h1M29 18h1M15 24h1M17 25h1M17 26h1M14 28h1M14 29h1M17 30h1"/><path stroke="#930500" d="M17 3h1M14 7h1M17 9h1M15 10h1M5 15h2M26 15h1M29 15h1M9 16h1M30 16h1M30 17h1M2 18h1M8 18h1M3 19h2M28 19h1M14 27h1M18 29h1M14 30h1M15 31h2"/><path stroke="#a90500" d="M22 3h1M10 4h1M21 5h1M11 6h1M11 7h1M20 8h1M20 9h1M20 10h1M3 11h1M11 11h1M29 11h1M5 12h1M10 12h1M21 12h1M26 12h1M17 17h1M16 18h1M8 21h2M22 21h3M4 22h1M11 22h1M21 22h1M27 22h1M2 23h1M11 23h1M20 23h1M30 23h1M20 24h1M20 25h1M11 27h1M21 29h1M10 30h1M22 31h1"/><path stroke="#af0500" d="M23 3h1M9 4h1M22 5h1M10 7h1M10 8h1M10 9h1M3 10h1M10 10h1M28 10h1M5 11h2M8 11h2M23 11h1M26 11h1M4 23h1M9 23h1M22 23h1M27 23h1M2 24h1M10 24h1M29 24h1M10 25h1M10 26h1M10 27h1M22 28h1M9 29h1M23 30h1"/><path stroke="#b10600" d="M24 3h1"/><path stroke="#ab0f00" d="M25 3h1"/><path stroke="#784200" d="M27 3h1M29 5h1M0 25h1M23 33h1"/><path stroke="#883000" d="M4 4h1M3 5h1M30 7h1M31 25h1M29 28h1M28 29h1M27 30h1M24 32h1"/><path stroke="#a91300" d="M5 4h1M29 27h1M26 30h1"/><path stroke="#b70600" d="M6 4h1M3 7h1"/><path stroke="#b50500" d="M7 4h1M24 4h1M8 5h1M23 6h1M9 7h1M9 8h1M29 8h1M4 9h1M23 9h1M6 10h2M24 10h2M5 24h1M8 24h1M24 24h1M26 24h1M3 25h1M9 25h1M23 25h1M28 25h1M9 26h1M23 27h1M23 28h1M24 29h1M7 30h1"/><path stroke="#b30500" d="M8 4h1M23 5h1M9 6h1M22 8h1M3 9h1M9 9h1M28 9h1M5 10h1M8 10h1M23 10h1M26 10h2M7 23h1M25 23h1M4 24h1M9 24h1M23 24h1M27 24h1M22 25h1M29 25h1M22 26h1M9 27h1M9 28h1M8 29h1M24 30h1"/><path stroke="#8f0500" d="M15 4h1M17 4h1M17 5h1M17 6h1M17 7h1M15 9h1M3 16h1M8 16h1M24 16h1M29 16h1M23 17h1M29 17h1M3 18h4M25 18h4M16 24h1M15 25h1M17 27h1M17 28h1M17 29h1M15 30h2"/><path stroke="#8d0500" d="M16 4h1M15 5h2M15 6h2M15 7h2M15 8h2M16 9h1M4 16h4M25 16h4M3 17h1M5 17h4M24 17h3M28 17h1M16 25h1M15 26h2M15 27h2M15 28h2M15 29h2"/><path stroke="#b70500" d="M25 4h1M7 5h1M24 5h1M8 6h1M8 7h1M23 7h1M3 8h2M8 8h1M23 8h1M28 8h1M5 9h1M7 9h2M24 9h1M26 9h2M6 24h2M25 24h1M4 25h1M8 25h1M27 25h1M3 26h1M23 26h1M8 27h1M8 28h1M24 28h1M7 29h1"/><path stroke="#b50900" d="M26 4h1"/><path stroke="#992400" d="M27 4h1"/><path stroke="#ad1000" d="M4 5h1"/><path stroke="#bb0500" d="M5 5h1M26 5h1M4 6h3M25 6h3M5 7h3M25 7h3M6 8h1M25 8h2M5 26h3M25 26h2M4 27h4M25 27h3M5 28h2M26 28h2"/><path stroke="#b90500" d="M6 5h1M25 5h1M7 6h1M24 6h1M4 7h1M24 7h1M28 7h1M5 8h1M7 8h1M24 8h1M27 8h1M6 9h1M25 9h1M16 16h1M5 25h3M24 25h3M4 26h1M8 26h1M24 26h1M27 26h2M24 27h1M28 27h1M7 28h1M25 28h1M6 29h1M25 29h2"/><path stroke="#ab0500" d="M10 5h1M21 6h1M11 8h1M11 9h1M11 10h1M30 10h1M21 11h1M28 11h1M6 12h4M22 12h4M5 22h1M10 22h1M22 22h1M26 22h1M3 23h1M21 23h1M29 23h1M11 24h1M11 25h1M11 26h1M21 28h1M10 29h1M22 30h1M9 31h1"/><path stroke="#b90800" d="M27 5h1"/><path stroke="#9b1e00" d="M28 5h1M25 31h1"/><path stroke="#ab1200" d="M3 6h1"/><path stroke="#b70800" d="M28 6h1"/><path stroke="#952400" d="M29 6h1"/><path stroke="#b10b00" d="M29 7h1"/><path stroke="#a31400" d="M30 8h1"/><path stroke="#a31100" d="M1 9h1"/><path stroke="#ad0700" d="M30 9h1"/><path stroke="#8d2400" d="M31 9h1"/><path stroke="#a90700" d="M1 10h1"/><path stroke="#9d1200" d="M31 10h1"/><path stroke="#971500" d="M0 11h1"/><path stroke="#a30800" d="M31 11h1"/><path stroke="#802a00" d="M32 11h1"/><path stroke="#9d0b00" d="M0 12h1"/><path stroke="#8d1e00" d="M32 12h1"/><path stroke="#951200" d="M32 13h1"/><path stroke="#990b00" d="M32 14h1"/><path stroke="#990900" d="M32 15h1"/><path stroke="#990700" d="M32 16h1M32 17h1"/><path stroke="#8b0500" d="M4 17h1M27 17h1"/><path stroke="#bd0500" d="M15 17h1"/><path stroke="#db0500" d="M16 17h1"/><path stroke="#990800" d="M32 18h1"/><path stroke="#990a00" d="M32 19h1M13 33h1"/><path stroke="#970d00" d="M32 20h1"/><path stroke="#9d0800" d="M0 21h1"/><path stroke="#931500" d="M32 21h1"/><path stroke="#9b0e00" d="M0 22h1"/><path stroke="#a10600" d="M31 22h1"/><path stroke="#892400" d="M32 22h1"/><path stroke="#911e00" d="M0 23h1"/><path stroke="#a10b00" d="M31 23h1"/><path stroke="#a70a00" d="M1 24h1"/><path stroke="#991900" d="M31 24h1"/><path stroke="#9b1800" d="M1 25h1"/><path stroke="#ab0a00" d="M30 25h1"/><path stroke="#ad0d00" d="M2 26h1"/><path stroke="#b50600" d="M29 26h1M25 30h1"/><path stroke="#991e00" d="M30 26h1M5 30h1"/><path stroke="#932400" d="M2 27h1"/><path stroke="#b50800" d="M3 27h1"/><path stroke="#9d1e00" d="M3 28h1"/><path stroke="#b90700" d="M4 28h1M5 29h1"/><path stroke="#af0e00" d="M28 28h1M27 29h1"/><path stroke="#9f1e00" d="M4 29h1"/><path stroke="#b30900" d="M6 30h1"/><path stroke="#a51100" d="M7 31h1"/><path stroke="#af0600" d="M8 31h1"/><path stroke="#ad0a00" d="M24 31h1"/><path stroke="#783600" d="M7 32h1"/><path stroke="#912400" d="M8 32h1"/><path stroke="#9f1000" d="M9 32h1"/><path stroke="#a30700" d="M10 32h1"/><path stroke="#a30a00" d="M22 32h1"/><path stroke="#991800" d="M23 32h1"/><path stroke="#911800" d="M11 33h1"/><path stroke="#970f00" d="M12 33h1"/><path stroke="#9b0800" d="M14 33h1"/><path stroke="#9b0700" d="M15 33h1M17 33h1"/><path stroke="#9b0600" d="M16 33h1"/><path stroke="#9b0900" d="M18 33h1"/><path stroke="#990c00" d="M19 33h1"/><path stroke="#951400" d="M20 33h1"/><path stroke="#8b2400" d="M21 33h1"/></g></g></g><g clip-path="url(#c12)"><g transform="translate(188,123)" filter="url(#fa)"><rect width="66" height="66" fill="#6c1200"/><g transform="translate(0,-1) scale(2)"><path stroke="#10b400" d="M0 1h9M24 1h9M0 2h7M26 2h7M0 3h6M27 3h6M0 4h4M28 4h5M0 5h3M29 5h4M0 6h3M30 6h3M0 7h2M31 7h2M0 8h1M31 8h2M0 9h1M32 9h1M32 10h1M32 24h1M0 25h1M32 25h1M0 26h1M31 26h2M0 27h2M30 27h3M0 28h3M30 28h3M0 29h4M29 29h4M0 30h5M28 30h5M0 31h6M26 31h7M0 32h8M25 32h8M0 33h10M23 33h10"/><path stroke="#10ae00" d="M9 1h1M23 1h1M7 2h1M25 2h1M4 4h1M3 5h1M30 7h1M1 8h1M0 10h1M32 11h1M32 23h1M0 24h1M31 25h1M1 26h1M29 28h1M28 29h1M27 30h1M6 31h1M24 32h1M10 33h1M22 33h1"/><path stroke="#209c00" d="M10 1h1M0 11h1M31 24h1M23 32h1"/><path stroke="#308400" d="M11 1h1M23 2h1M0 12h1M32 20h1M1 24h1M19 33h1"/><path stroke="#307200" d="M12 1h1M9 2h1M27 5h1M28 6h1M1 10h1M31 11h1M0 13h1M32 15h1M32 18h1M4 28h1M5 29h1M10 32h1M14 33h1M17 33h1"/><path stroke="#406000" d="M13 1h1M22 2h1M24 3h1M0 14h1M31 22h1M1 23h1M2 25h1M29 26h1M25 30h1M21 32h1"/><path stroke="#485400" d="M14 1h1M18 1h1M31 12h1M0 15h1M0 19h1M30 24h1M28 27h1M26 29h1M23 31h1M11 32h1"/><path stroke="#504800" d="M15 1h2M25 4h1M0 16h1M0 17h1M31 21h1M3 26h1M20 32h1"/><path stroke="#484e00" d="M17 1h1M10 2h1M8 3h1M29 8h1M2 9h1M1 11h1M0 18h1M27 28h1M7 30h1"/><path stroke="#406600" d="M19 1h1M6 4h1M3 7h1M0 20h1"/><path stroke="#307800" d="M20 1h1M7 3h1M26 4h1M2 8h1M32 19h1M0 21h1M3 27h1M18 33h1"/><path stroke="#209000" d="M21 1h1M31 10h1M32 13h1M0 22h1M29 27h1M26 30h1M9 32h1M12 33h1"/><path stroke="#20a200" d="M22 1h1M24 2h1M6 3h1M28 5h1M2 7h1M32 12h1M0 23h1M1 25h1M30 26h1M4 29h1M25 31h1M11 33h1"/><path stroke="#209600" d="M8 2h1M5 4h1M4 5h1M3 6h1M30 8h1M1 9h1M32 21h1M7 31h1M20 33h1"/><path stroke="#583600" d="M11 2h1M23 3h1M7 4h1M26 5h1M27 6h1M3 8h1M1 12h1M31 20h1M2 24h1M29 25h1M4 27h1M5 28h1M24 30h1M19 32h1"/><path stroke="#622400" d="M12 2h1M5 6h1M1 13h1M31 18h1M28 26h1M25 29h1M17 32h1"/><path stroke="#661800" d="M13 2h1M1 14h1"/><path stroke="#6a1600" d="M14 2h1M1 15h1"/><path stroke="#6a1400" d="M15 2h2M1 16h1M1 17h1M30 21h1M20 31h1"/><path stroke="#6a1500" d="M17 2h1M26 6h1M27 7h1M29 10h1M1 18h1M5 27h1M6 28h1M9 30h1"/><path stroke="#681800" d="M18 2h1M8 4h1M28 8h1M3 9h1M30 12h1M1 19h1M7 29h1M11 31h1"/><path stroke="#661e00" d="M19 2h1M22 3h1M1 20h1M30 22h1M2 23h1M27 27h1M26 28h1M21 31h1"/><path stroke="#602a00" d="M20 2h1M9 3h1M2 10h1M31 19h1M1 21h1M18 32h1"/><path stroke="#504200" d="M21 2h1M30 10h1M1 22h1M9 31h1"/><path stroke="#681700" d="M10 3h1M25 5h1M2 11h1M4 26h1"/><path stroke="#6a1300" d="M21 3h1M7 5h1M4 8h1M2 22h1M28 25h1M24 29h1"/><path stroke="#308a00" d="M25 3h1M2 26h1M28 28h1M27 29h1"/><path stroke="#20ae00" d="M26 3h1M2 27h1"/><path stroke="#6c1300" d="M23 4h1M30 13h1M3 24h1M12 31h1"/><path stroke="#641e00" d="M24 4h1M31 16h1M31 17h1M3 25h1M15 32h2"/><path stroke="#20a800" d="M27 4h1M29 6h1M31 9h1M32 22h1M3 28h1M5 30h1M8 32h1M21 33h1"/><path stroke="#405a00" d="M5 5h1M4 6h1"/><path stroke="#602400" d="M6 5h1M4 7h1M29 9h1M30 11h1M31 15h1M8 30h1M10 31h1M14 32h1"/><path stroke="#503c00" d="M28 7h1M31 13h1M6 29h1M12 32h1"/><path stroke="#307e00" d="M29 7h1M32 14h1M31 23h1M30 25h1M6 30h1M24 31h1M22 32h1M13 33h1"/><path stroke="#406c00" d="M30 9h1M32 16h1M32 17h1M8 31h1M15 33h2"/><path stroke="#583000" d="M31 14h1M30 23h1M22 31h1M13 32h1"/><path stroke="#681900" d="M29 24h1M23 30h1"/></g></g></g><g clip-path="url(#c13)"><g transform="translate(7,183)" filter="url(#fa)"><rect width="66" height="66" fill="#720f00"/><g transform="translate(0,-1) scale(2)"><path stroke="#209c00" d="M0 1h9M24 1h9M0 2h7M26 2h7M0 3h5M28 3h5M0 4h4M29 4h4M0 5h3M30 5h3M0 6h2M31 6h2M0 7h2M31 7h2M0 8h1M32 8h1M0 9h1M32 9h1M0 25h1M32 25h1M0 26h1M32 26h1M0 27h2M31 27h2M0 28h3M30 28h3M0 29h4M29 29h4M0 30h5M28 30h5M0 31h6M27 31h6M0 32h7M26 32h7M0 33h9M24 33h9"/><path stroke="#209600" d="M9 1h1M23 1h1M7 2h1M25 2h1M5 3h1M27 3h1M4 4h1M28 4h1M3 5h1M29 5h1M2 6h1M30 6h1M1 8h1M31 8h1M0 10h1M32 10h1M0 24h1M32 24h1M1 26h1M31 26h1M2 27h1M30 27h1M6 31h1M26 31h1M7 32h1M25 32h1M9 33h2M22 33h2"/><path stroke="#308a00" d="M10 1h1M22 1h1M8 2h1M24 2h1M5 4h1M27 4h1M4 5h1M28 5h1M3 6h1M29 6h1M1 9h1M31 9h1M11 33h1M21 33h1"/><path stroke="#307e00" d="M11 1h1M21 1h1M32 12h1M2 26h1M30 26h1M9 32h1M23 32h1"/><path stroke="#406c00" d="M12 1h1M9 2h1M23 2h1M32 13h1M4 28h1M5 29h1M13 33h1M19 33h1"/><path stroke="#405a00" d="M13 1h1M5 5h1M27 5h1M28 6h1M0 19h1M31 23h1M2 25h1M30 25h1"/><path stroke="#504e00" d="M14 1h1M18 1h1M24 3h1M32 16h1M32 17h1M32 18h1"/><path stroke="#504800" d="M15 1h1M17 1h1M3 26h1M7 30h1M25 30h1M11 32h1M21 32h1"/><path stroke="#504200" d="M16 1h1M1 22h1M29 26h1"/><path stroke="#485a00" d="M19 1h1M1 11h1M0 15h1M15 33h1M17 33h1"/><path stroke="#406600" d="M20 1h1M6 4h1M3 7h1M29 7h1M0 20h1M28 28h1M27 29h1"/><path stroke="#484e00" d="M10 2h1M22 2h1M8 3h1M30 9h1M0 16h1M0 17h1"/><path stroke="#583600" d="M11 2h1M21 2h1M7 4h1M25 4h1M29 8h1M30 24h1M4 27h1M28 27h1M5 28h1M26 29h1M12 32h1"/><path stroke="#662400" d="M12 2h1M20 2h1M1 20h1M3 25h1M8 30h1M24 30h1M10 31h1"/><path stroke="#6c1800" d="M13 2h1M19 2h1M10 3h1M22 3h1M8 4h1M29 9h1M30 11h1M1 19h1M31 19h1M7 29h1M15 32h2"/><path stroke="#6e1500" d="M14 2h1M18 2h1M31 16h1M31 18h1M11 31h1"/><path stroke="#701300" d="M15 2h1M17 2h1M7 5h1M4 8h1M28 8h1M2 22h1M30 22h1M27 27h1M26 28h1"/><path stroke="#701200" d="M16 2h1M25 5h1M2 12h1M3 24h1M9 30h1M23 30h1"/><path stroke="#209000" d="M6 3h1M26 3h1M2 7h1M30 7h1M0 11h1M32 11h1M0 23h1M32 23h1M1 25h1M31 25h1M3 28h1M29 28h1M4 29h1M28 29h1M5 30h1M27 30h1M8 32h1M24 32h1"/><path stroke="#307800" d="M7 3h1M2 8h1M30 8h1M0 21h1M1 24h1M31 24h1M12 33h1M20 33h1"/><path stroke="#603000" d="M9 3h1M4 7h1M2 10h1M30 10h1M1 21h1M27 28h1M20 32h1"/><path stroke="#721100" d="M11 3h1M26 6h1M27 7h1"/><path stroke="#721000" d="M21 3h1M9 4h1M23 4h1M3 10h1M29 10h1M2 21h1M12 31h1M20 31h1"/><path stroke="#602a00" d="M23 3h1M6 5h1M26 5h1M5 6h1M27 6h1M28 7h1M1 13h1M31 13h1M31 21h1"/><path stroke="#307200" d="M25 3h1M1 10h1M32 21h1M3 27h1M6 30h1"/><path stroke="#6c1900" d="M24 4h1M1 15h1M17 32h1"/><path stroke="#406000" d="M26 4h1M4 6h1M0 14h1M32 14h1M32 20h1M1 23h1M8 31h1M24 31h1M10 32h1M22 32h1M14 33h1M18 33h1"/><path stroke="#701100" d="M6 6h1M5 7h1M30 12h1M29 24h1"/><path stroke="#583c00" d="M3 8h1M1 12h1M31 12h1M2 24h1M6 29h1M9 31h1M23 31h1"/><path stroke="#485400" d="M2 9h1M31 11h1M32 15h1M0 18h1M32 19h1M16 33h1"/><path stroke="#6a1e00" d="M3 9h1M2 11h1M31 14h1M30 23h1M14 32h1M18 32h1"/><path stroke="#407200" d="M31 10h1M0 13h1M29 27h1M26 30h1"/><path stroke="#308400" d="M0 12h1M0 22h1M32 22h1M7 31h1M25 31h1"/><path stroke="#681e00" d="M1 14h1M31 20h1M2 23h1M29 25h1"/><path stroke="#6e1700" d="M31 15h1M1 18h1M4 26h1M25 29h1"/><path stroke="#6e1600" d="M1 16h1M1 17h1M28 26h1"/><path stroke="#6e1400" d="M31 17h1M21 31h1"/><path stroke="#584200" d="M31 22h1"/><path stroke="#701400" d="M5 27h1M6 28h1"/><path stroke="#682400" d="M22 31h1"/><path stroke="#642400" d="M13 32h1M19 32h1"/></g></g></g><g clip-path="url(#c14)"><g transform="translate(68,183)" filter="url(#fa)"><rect width="66" height="66" fill="#682400"/><g transform="translate(0,-1) scale(2)"><path stroke="#00cc00" d="M0 1h9M24 1h9M0 2h7M25 2h8M0 3h5M27 3h6M0 4h4M28 4h5M0 5h3M29 5h4M0 6h2M30 6h3M0 7h2M31 7h2M0 8h1M31 8h2M0 9h1M32 9h1M32 10h1M32 24h1M0 25h1M32 25h1M0 26h1M31 26h2M0 27h2M31 27h2M0 28h3M30 28h3M0 29h3M29 29h4M0 30h5M28 30h5M0 31h6M27 31h6M0 32h7M25 32h8M0 33h9M23 33h10"/><path stroke="#10c600" d="M9 1h1M7 2h1M26 3h1M27 4h1M29 6h1M1 8h1M31 9h1M32 11h1M0 24h1M31 25h1M1 26h1M28 29h1M27 30h1M6 31h1M24 32h1M22 33h1"/><path stroke="#10b400" d="M10 1h1M2 7h1M30 8h1M31 10h1M32 13h1M32 21h1M0 23h1M3 28h1M4 29h1M23 32h1M11 33h1"/><path stroke="#20a200" d="M11 1h1M23 2h1M29 7h1M32 14h1M28 28h1M27 29h1M7 31h1M12 33h1"/><path stroke="#308a00" d="M12 1h1M9 2h1M2 8h1M32 17h1M1 24h1M6 30h1M18 33h1"/><path stroke="#307800" d="M13 1h1M6 4h1M31 12h1M4 28h1M25 30h1M15 33h2"/><path stroke="#406c00" d="M14 1h1M5 5h1M4 6h1M29 8h1M0 20h1M30 24h1M28 27h1"/><path stroke="#406600" d="M15 1h1M17 1h1M10 2h1M25 4h1M30 10h1M0 14h1M1 23h1M2 25h1M26 29h1M23 31h1"/><path stroke="#406000" d="M16 1h1M8 3h1M31 21h1M27 28h1M11 32h1"/><path stroke="#407200" d="M18 1h1M21 32h1"/><path stroke="#308400" d="M19 1h1M1 10h1M0 21h1M3 27h1M14 33h1"/><path stroke="#209600" d="M20 1h1M27 5h1M28 6h1M31 11h1M0 12h1M32 15h1M32 19h1M2 26h1M19 33h1"/><path stroke="#10ae00" d="M21 1h1M8 2h1M5 4h1M0 11h1M1 25h1M29 27h1"/><path stroke="#10c000" d="M22 1h1M24 2h1M28 5h1M0 10h1M32 12h1M32 22h1M30 26h1M2 27h1M10 33h1M21 33h1"/><path stroke="#10cc00" d="M23 1h1M5 3h1M4 4h1M3 5h1M2 6h1M30 7h1M32 23h1M30 27h1M29 28h1M3 29h1M26 31h1M7 32h1M9 33h1"/><path stroke="#504800" d="M11 2h1M31 14h1M1 22h1M30 23h1M29 25h1M24 30h1M12 32h1"/><path stroke="#583600" d="M12 2h1M24 4h1M6 5h1M4 7h1M2 10h1M31 16h1M31 17h1M28 26h1M25 29h1M13 32h1M18 32h1"/><path stroke="#602a00" d="M13 2h2M18 2h1M10 3h1M8 4h1M25 5h1M26 6h1M27 7h1M29 10h1M30 12h1M1 20h1M2 23h1M29 24h1M3 25h1M23 30h1M21 31h1M16 32h1"/><path stroke="#642400" d="M15 2h1M3 9h1M2 11h1M7 29h1M11 31h1"/><path stroke="#662400" d="M16 2h1M11 3h1M21 3h1M23 4h1M7 5h1M4 8h1M30 13h1M1 15h1M1 16h1M1 17h1M1 18h1M1 19h1M30 21h1M2 22h1M4 26h1M5 27h1M6 28h1M9 30h1M20 31h1"/><path stroke="#602400" d="M17 2h1M1 14h1"/><path stroke="#603000" d="M19 2h1M22 3h1M5 6h1M28 8h1M1 13h1M1 21h1M30 22h1M27 27h1M26 28h1M8 30h1M10 31h1M14 32h2M17 32h1"/><path stroke="#584200" d="M20 2h1M3 8h1M29 9h1M30 11h1M1 12h1M31 19h1M4 27h1M22 31h1M19 32h1"/><path stroke="#405a00" d="M21 2h1M28 7h1M2 9h1M1 11h1M31 13h1M0 15h1M0 19h1"/><path stroke="#307e00" d="M22 2h1M24 3h1M0 13h1M31 22h1M29 26h1M5 29h1M10 32h1M17 33h1"/><path stroke="#10ba00" d="M6 3h1M31 24h1M5 30h1M25 31h1M8 32h1"/><path stroke="#309000" d="M7 3h1M30 9h1M32 16h1M32 18h1M13 33h1"/><path stroke="#583c00" d="M9 3h1M31 15h1M31 18h1M2 24h1M5 28h1"/><path stroke="#6a2400" d="M17 3h3M16 4h1M22 4h1M16 5h1M24 5h1M16 6h1M25 6h1M16 7h1M26 7h1M16 8h1M27 8h1M16 9h1M16 10h1M16 11h1M16 12h1M29 12h1M16 13h1M16 14h1M16 15h1M30 15h1M16 16h1M30 16h1M16 17h1M30 17h1M16 18h1M30 18h1M16 19h1M30 19h1M16 20h1M16 21h1M16 22h1M29 22h1M16 23h1M16 24h1M28 24h1M16 25h1M16 26h1M16 27h1M26 27h1M16 28h1M25 28h1M16 29h1M16 30h1M18 31h1"/><path stroke="#485400" d="M23 3h1M26 5h1M27 6h1M0 16h1M0 18h1M7 30h1M20 32h1"/><path stroke="#20ae00" d="M25 3h1M3 6h1M26 30h1M20 33h1"/><path stroke="#504200" d="M7 4h1M6 29h1"/><path stroke="#6c2400" d="M17 4h1M21 4h1M17 5h1M23 5h1M17 6h1M17 7h1M17 8h1M17 9h1M17 10h1M28 10h1M17 11h1M17 12h1M17 13h1M29 13h1M17 14h1M17 15h1M17 16h1M17 17h1M17 18h1M17 19h1M17 20h1M17 21h1M29 21h1M17 22h1M17 23h1M17 24h1M17 25h1M27 25h1M17 26h1M17 27h1M17 28h1M24 28h1M17 29h1M23 29h1M17 30h2M20 30h2"/><path stroke="#6e2400" d="M18 4h3M18 5h1M18 6h1M24 6h1M18 7h1M25 7h1M18 8h1M26 8h1M18 9h1M27 9h1M18 10h1M18 11h1M28 11h1M18 12h1M18 13h1M18 14h1M29 14h1M18 15h1M18 16h1M18 17h1M18 18h1M18 19h1M18 20h1M29 20h1M18 21h1M18 22h1M18 23h1M28 23h1M18 24h1M18 25h1M18 26h1M26 26h1M18 27h1M25 27h1M18 28h1M18 29h1M22 29h1M19 30h1"/><path stroke="#209c00" d="M26 4h1M0 22h1M31 23h1M30 25h1M9 32h1"/><path stroke="#20a800" d="M4 5h1M1 9h1M32 20h1"/><path stroke="#702400" d="M19 5h1M22 5h1M19 6h1M19 7h1M19 8h1M19 9h1M19 10h1M27 10h1M19 11h1M19 12h1M28 12h1M19 13h1M19 14h1M19 15h1M29 15h1M19 16h1M29 16h1M19 17h1M29 17h1M19 18h1M29 18h1M19 19h1M29 19h1M19 20h1M19 21h1M19 22h1M28 22h1M19 23h1M19 24h1M27 24h1M19 25h1M19 26h1M19 27h1M19 28h1M23 28h1M19 29h1M21 29h1"/><path stroke="#722400" d="M20 5h2M20 6h1M23 6h1M20 7h1M24 7h1M20 8h1M25 8h1M20 9h1M26 9h1M20 10h1M20 11h1M27 11h1M20 12h1M20 13h1M28 13h1M20 14h1M20 15h1M20 16h1M20 17h1M20 18h1M20 19h1M20 20h1M20 21h1M28 21h1M20 22h1M20 23h1M27 23h1M20 24h1M20 25h1M26 25h1M20 26h1M25 26h1M20 27h1M24 27h1M20 28h1M22 28h1M20 29h1"/><path stroke="#742400" d="M21 6h2M21 7h3M21 8h4M21 9h5M21 10h6M21 11h6M21 12h7M21 13h7M21 14h8M21 15h8M21 16h8M21 17h8M21 18h8M21 19h8M21 20h8M21 21h7M21 22h7M21 23h6M21 24h6M21 25h5M21 26h4M21 27h3M21 28h1"/><path stroke="#307200" d="M3 7h1M8 31h1"/><path stroke="#484e00" d="M0 17h1"/><path stroke="#504e00" d="M31 20h1M3 26h1M9 31h1"/><path stroke="#209000" d="M24 31h1M22 32h1"/></g></g></g><g clip-path="url(#c15)"><g transform="translate(128,183)" filter="url(#fa)"><rect width="66" height="66" fill="#6c1700"/><g transform="translate(0,-1) scale(2)"><path stroke="#00cc00" d="M0 1h9M24 1h9M0 2h7M26 2h7M0 3h5M27 3h6M0 4h4M28 4h5M0 5h3M29 5h4M0 6h2M30 6h3M0 7h2M31 7h2M0 8h1M31 8h2M0 9h1M32 9h1M32 10h1M32 24h1M0 25h1M32 25h1M0 26h1M31 26h2M0 27h2M31 27h2M0 28h3M30 28h3M0 29h4M29 29h4M0 30h5M28 30h5M0 31h6M27 31h6M0 32h7M25 32h8M0 33h9M23 33h10"/><path stroke="#10c600" d="M9 1h1M7 2h1M26 3h1M29 6h1M30 7h1M1 8h1M31 9h1M0 10h1M32 11h1M0 24h1M31 25h1M1 26h1M29 28h1M28 29h1M27 30h1M6 31h1M24 32h1M22 33h1"/><path stroke="#10b400" d="M10 1h1M0 11h1M31 24h1M1 25h1M4 29h1M25 31h1M11 33h1"/><path stroke="#20a200" d="M11 1h1M7 31h1"/><path stroke="#308a00" d="M12 1h1M9 2h1M27 5h1M2 8h1M31 11h1M32 15h1M6 30h1M24 31h1M22 32h1M13 33h1"/><path stroke="#407200" d="M13 1h1M31 22h1M29 26h1M8 31h1"/><path stroke="#406600" d="M14 1h1M1 23h1M2 25h1"/><path stroke="#406000" d="M15 1h1M17 1h1M10 2h1M8 3h1M29 8h1M0 19h1M30 24h1M28 27h1"/><path stroke="#405a00" d="M16 1h1M25 4h1M1 11h1M0 15h1M26 29h1M23 31h1M11 32h1"/><path stroke="#406c00" d="M18 1h1M5 5h1M4 6h1M31 12h1M0 14h1M0 20h1M25 30h1M21 32h1"/><path stroke="#307e00" d="M19 1h1M0 13h1M5 29h1M14 33h1"/><path stroke="#209000" d="M20 1h1M31 23h1"/><path stroke="#20ae00" d="M21 1h1M1 9h1M31 10h1"/><path stroke="#10c000" d="M22 1h1M24 2h1M27 4h1M28 5h1M32 22h1M2 27h1M10 33h1"/><path stroke="#10cc00" d="M23 1h1M25 2h1M5 3h1M4 4h1M3 5h1M2 6h1M32 23h1M30 27h1M26 31h1M7 32h1M9 33h1"/><path stroke="#10ae00" d="M8 2h1M5 4h1M3 6h1M30 8h1M32 21h1M23 32h1"/><path stroke="#504200" d="M11 2h1M1 22h1"/><path stroke="#603000" d="M12 2h1M6 5h1M4 7h1M2 10h1M31 15h1M31 19h1M1 21h1M13 32h1"/><path stroke="#662400" d="M13 2h1M28 8h1M30 22h1M3 25h1M27 27h1M26 28h1M15 32h2"/><path stroke="#681e00" d="M14 2h1M18 2h1M10 3h1M8 4h1M25 5h1M3 9h1M30 12h1M1 14h1M2 23h1M29 24h1M23 30h1M21 31h1"/><path stroke="#6a1e00" d="M15 2h3M26 6h1M27 7h1M29 10h1M2 11h1M1 19h1M7 29h1M11 31h1"/><path stroke="#602a00" d="M19 2h1M22 3h1M24 4h1M5 6h1M1 13h1M31 16h1M31 17h1M31 18h1M28 26h1M25 29h1M8 30h1M10 31h1M14 32h1M18 32h1"/><path stroke="#583600" d="M20 2h1M9 3h1M29 9h1M30 11h1M5 28h1M22 31h1M19 32h1"/><path stroke="#485400" d="M21 2h1M30 10h1M0 16h1M0 18h1M31 21h1M27 28h1M7 30h1"/><path stroke="#307800" d="M22 2h1M24 3h1M6 4h1M4 28h1M10 32h1M15 33h1M17 33h1"/><path stroke="#209c00" d="M23 2h1M29 7h1M32 14h1M32 20h1M0 22h1M2 26h1M28 28h1M27 29h1M9 32h1M12 33h1"/><path stroke="#10ba00" d="M6 3h1M2 7h1M32 12h1M0 23h1M30 26h1M3 28h1M5 30h1M8 32h1M21 33h1"/><path stroke="#309000" d="M7 3h1M28 6h1M32 19h1M1 24h1M30 25h1"/><path stroke="#6c1800" d="M11 3h1M4 8h1M2 22h1M28 25h1M24 29h1"/><path stroke="#6a1800" d="M21 3h1M1 15h1M30 21h1M4 26h1"/><path stroke="#504800" d="M23 3h1M26 5h1M27 6h1M3 26h1M9 31h1"/><path stroke="#20a800" d="M25 3h1M4 5h1M32 13h1M29 27h1M26 30h1M20 33h1"/><path stroke="#584200" d="M7 4h1M31 20h1M6 29h1M12 32h1"/><path stroke="#6c1900" d="M23 4h1M7 5h1M30 13h1M1 16h1M1 17h1M1 18h1M5 27h1M6 28h1M9 30h1M20 31h1"/><path stroke="#209600" d="M26 4h1M0 12h1M19 33h1"/><path stroke="#307200" d="M3 7h1M16 33h1"/><path stroke="#504e00" d="M28 7h1M31 13h1M20 32h1"/><path stroke="#583c00" d="M3 8h1M1 12h1M31 14h1M30 23h1M2 24h1M29 25h1M4 27h1M24 30h1"/><path stroke="#485a00" d="M2 9h1"/><path stroke="#308400" d="M30 9h1M1 10h1M32 16h1M32 17h1M32 18h1M0 21h1M3 27h1M18 33h1"/><path stroke="#681700" d="M16 16h1"/><path stroke="#484e00" d="M0 17h1"/><path stroke="#661700" d="M15 17h1"/><path stroke="#581700" d="M16 17h1"/><path stroke="#682400" d="M1 20h1"/><path stroke="#642400" d="M17 32h1"/></g></g></g><g clip-path="url(#c16)"><g transform="translate(188,183)" filter="url(#fa)"><rect width="66" height="66" fill="#7e0800"/><g transform="translate(0,-1) scale(2)"><path stroke="#800800" d="M14 1h4M10 2h1M21 2h1M8 3h1M23 3h1M25 4h1M26 5h1M28 7h1M29 8h1M2 9h1M30 10h1M1 11h1M31 12h1M31 13h1M0 15h1M0 16h1M0 17h1M0 18h1M0 19h1M31 21h1M1 22h1M30 24h1M3 26h1M28 27h1M27 28h1M26 29h1M7 30h1M9 31h1M23 31h1M11 32h1M20 32h1"/><path stroke="#810800" d="M11 2h1M20 2h1M9 3h1M7 4h1M27 6h1M3 8h1M1 12h1M31 14h1M31 20h1M30 23h1M2 24h1M29 25h1M4 27h1M5 28h1M6 29h1M24 30h1M12 32h1M19 32h1"/><path stroke="#830800" d="M12 2h1M6 5h1M5 6h1M4 7h1M29 9h1M2 10h1M30 11h1M1 13h1M31 15h1M31 19h1M1 21h1M22 31h1M13 32h1"/><path stroke="#870800" d="M13 2h1M13 5h6M11 6h1M21 6h1M9 7h1M23 7h1M24 8h1M28 8h1M15 9h3M25 9h1M6 10h1M12 10h9M11 11h11M5 12h1M10 12h5M18 12h5M27 12h1M9 13h4M20 13h3M27 13h1M1 14h1M4 14h1M9 14h3M21 14h3M4 15h1M8 15h4M21 15h3M4 16h1M8 16h3M21 16h3M28 16h1M8 17h3M21 17h3M28 17h1M4 18h1M8 18h3M21 18h3M4 19h1M9 19h3M21 19h3M1 20h1M4 20h1M9 20h3M20 20h4M9 21h4M19 21h4M27 21h1M5 22h1M10 22h6M17 22h6M30 22h1M2 23h1M11 23h11M26 23h1M6 24h1M13 24h7M3 25h1M7 25h1M8 26h1M9 27h1M22 27h1M27 27h1M11 28h1M20 28h1M26 28h1M15 29h3M15 32h2"/><path stroke="#890800" d="M14 2h1M18 2h1M10 3h1M8 4h1M12 5h1M19 5h1M25 5h1M10 6h1M3 9h1M26 10h1M2 11h1M5 11h1M15 12h3M30 12h1M4 13h1M13 13h2M18 13h2M12 14h1M19 14h2M12 15h1M20 15h1M28 15h1M11 16h1M20 16h1M11 17h1M20 17h1M11 18h1M20 18h1M28 18h1M1 19h1M12 19h1M20 19h1M28 19h1M12 20h2M19 20h1M13 21h6M16 22h1M27 22h1M5 23h1M26 24h1M29 24h1M25 25h1M24 26h1M23 27h1M21 28h1M7 29h1M13 29h2M18 29h1M23 30h1M21 31h1"/><path stroke="#8b0800" d="M15 2h3M20 5h1M22 6h1M26 6h1M8 7h1M27 7h1M7 8h1M6 9h1M29 10h1M27 11h1M15 13h3M13 14h1M18 14h1M28 14h1M1 15h1M19 15h1M12 16h1M12 17h1M12 18h1M19 19h1M14 20h1M18 20h1M28 20h1M4 21h1M4 26h1M10 28h1M19 29h1M11 31h1"/><path stroke="#850800" d="M19 2h1M22 3h1M24 4h1M12 6h9M10 7h13M8 8h16M7 9h8M18 9h7M7 10h5M21 10h5M6 11h5M22 11h5M6 12h4M23 12h4M5 13h4M23 13h4M5 14h4M24 14h4M5 15h3M24 15h4M5 16h3M24 16h4M31 16h1M4 17h4M24 17h4M31 17h1M5 18h3M24 18h4M31 18h1M5 19h4M24 19h4M5 20h4M24 20h4M5 21h4M23 21h4M6 22h4M23 22h4M6 23h5M22 23h4M7 24h6M20 24h6M8 25h17M9 26h15M28 26h1M10 27h12M12 28h8M25 29h1M8 30h1M10 31h1M14 32h1M17 32h2"/><path stroke="#8f0800" d="M11 3h1M15 4h3M23 4h1M11 5h1M9 6h1M24 7h1M26 9h1M5 10h1M28 13h1M30 13h1M15 14h3M18 15h1M3 16h1M13 16h1M3 17h1M3 18h1M13 18h1M18 19h1M16 20h1M28 21h1M2 22h1M4 22h1M28 25h1M20 29h1M20 31h1"/><path stroke="#950800" d="M12 3h1M19 4h1M10 5h1M24 5h1M7 7h1M6 8h1M2 13h1M17 15h1M29 15h2M29 16h1M18 17h1M29 17h1M14 18h1M29 18h1M15 19h1M30 19h1M2 21h1M28 22h1M4 23h1M27 24h1M4 25h1M26 27h1M23 28h1M25 28h1M8 29h1M10 30h1M14 30h1M18 30h1M13 31h1"/><path stroke="#970800" d="M13 3h1M19 3h1M12 4h1M22 4h1M8 5h1M22 5h1M8 6h1M25 6h1M25 7h2M27 8h1M4 9h2M3 13h1M29 14h1M15 15h2M14 16h1M30 16h1M30 17h1M30 18h1M16 19h1M29 19h1M3 21h1M29 22h1M3 23h1M5 25h1M6 26h1M7 27h1M7 28h1M10 29h1M13 30h1M19 30h1M14 31h1M17 31h2"/><path stroke="#990800" d="M14 3h5M10 4h2M20 4h2M9 5h1M23 5h1M7 6h1M24 6h1M6 7h1M5 8h1M26 8h1M27 9h1M4 10h1M28 10h1M3 11h1M28 11h1M3 12h1M29 12h1M29 13h1M2 14h1M2 15h1M2 16h1M2 17h1M14 17h1M2 18h1M2 19h1M2 20h1M29 20h1M29 21h1M3 22h1M28 23h1M4 24h1M28 24h1M27 25h1M5 26h1M26 26h1M6 27h1M25 27h1M8 28h1M24 28h1M9 29h1M22 29h2M11 30h2M20 30h2M15 31h2"/><path stroke="#930800" d="M20 3h1M13 4h1M28 9h1M3 10h1M27 10h1M4 11h1M29 11h1M28 12h1M3 14h1M30 14h1M18 16h1M18 18h1M17 19h1M3 20h1M30 20h1M27 26h1M21 29h1M15 30h3M22 30h1M19 31h1"/><path stroke="#8d0800" d="M21 3h1M7 5h1M4 8h1M25 8h1M4 12h1M14 14h1M13 15h1M1 16h1M19 16h1M1 17h1M19 17h1M1 18h1M19 18h1M13 19h1M15 20h1M17 20h1M30 21h1M27 23h1M6 25h1M7 26h1M5 27h1M8 27h1M6 28h1M22 28h1M12 29h1M9 30h1"/><path stroke="#910800" d="M9 4h1M14 4h1M18 4h1M21 5h1M6 6h1M23 6h1M5 7h1M2 12h1M3 15h1M14 15h1M13 17h1M3 19h1M14 19h1M29 23h1M3 24h1M5 24h1M26 25h1M25 26h1M24 27h1M9 28h1M11 29h1M24 29h1M12 31h1"/><path stroke="#9f0800" d="M15 16h1"/><path stroke="#a30800" d="M16 16h1"/><path stroke="#9b0800" d="M17 16h1"/><path stroke="#af0800" d="M15 17h1"/><path stroke="#ed0800" d="M16 17h1"/><path stroke="#a90800" d="M17 17h1"/><path stroke="#a50800" d="M15 18h1"/><path stroke="#cf0800" d="M16 18h1"/><path stroke="#a10800" d="M17 18h1"/></g></g></g><g clip-path="url(#cpb)"><rect x="266.00" y="4.60" width="61.00" height="60.90" fill="#800000"/><rect x="326.20" y="4.60" width="60.90" height="60.90" fill="#0bf7a4"/><rect x="386.30" y="4.60" width="61.30" height="60.90" fill="#a5f810"/><rect x="446.80" y="4.60" width="61.40" height="60.90" fill="#a5f810"/><g clip-path="url(#cb10)"><g filter="url(#fb)"><rect x="263.00" y="61.70" width="66.20" height="66.30" fill="#880900"/></g></g><rect x="326.20" y="64.70" width="60.90" height="61.10" fill="#b7f90b"/><rect x="386.30" y="64.70" width="61.30" height="61.10" fill="#18f483"/><rect x="446.80" y="64.70" width="61.40" height="61.10" fill="#18f483"/><rect x="266.00" y="125.00" width="61.00" height="61.20" fill="#03f9c8"/><rect x="326.20" y="125.00" width="60.90" height="61.20" fill="#cafa06"/><rect x="386.30" y="125.00" width="61.30" height="61.20" fill="#18f483"/><rect x="446.80" y="125.00" width="61.40" height="61.20" fill="#18f483"/><rect x="266.00" y="185.40" width="61.00" height="61.20" fill="#12f590"/><rect x="326.20" y="185.40" width="60.90" height="61.20" fill="#94f717"/><rect x="386.30" y="185.40" width="61.30" height="61.20" fill="#1ef377"/><rect x="446.80" y="185.40" width="61.40" height="61.20" fill="#2af365"/><g clip-path="url(#c17)"><g transform="translate(325,3)" filter="url(#fb)"><rect width="62" height="64" fill="#7c0100"/><g transform="translate(0,-1) scale(2)"></g></g></g><path d="M332.48 20.93A27.45 27.45 0 0 0 346.86 60.44" fill="none" stroke="#00eeff" stroke-width="0.80" stroke-linecap="round"/><path d="M329.74 27.55A27.45 27.45 0 0 0 340.51 57.14" fill="none" stroke="#007fff" stroke-width="0.80" stroke-linecap="round"/><path d="M371.99 57.14A27.45 27.45 0 0 0 351.48 7.62" fill="none" stroke="#ffb200" stroke-width="0.80" stroke-linecap="round"/><path d="M378.74 50.39A27.45 27.45 0 0 0 363.35 8.14" fill="none" stroke="#ff3800" stroke-width="0.80" stroke-linecap="round"/><path d="M383.60 37.04A27.45 27.45 0 0 0 375.66 15.24" fill="none" stroke="#d10000" stroke-width="0.80" stroke-linecap="round"/><g clip-path="url(#c18)"><g transform="translate(385,3)" filter="url(#fb)"><rect width="64" height="64" fill="#7c0100"/><g transform="translate(0,-1) scale(2)"></g></g></g><path d="M442.34 25.26A27.45 27.45 0 0 0 407.16 8.86" fill="none" stroke="#83f61e" stroke-width="0.80" stroke-linecap="round"/><g clip-path="url(#c19)"><g transform="translate(446,3)" filter="url(#fb)"><rect width="62" height="64" fill="#7c0100"/><g transform="translate(0,-1) scale(2)"></g></g></g><g clip-path="url(#c20)"><g transform="translate(265,64)" filter="url(#fb)"><rect width="62" height="62" fill="#7c0100"/><g transform="translate(0,-1) scale(2)"></g></g></g><path d="M278.46 73.82A27.45 27.45 0 0 0 280.36 117.34" fill="none" stroke="#06f8ba" stroke-width="0.80" stroke-linecap="round"/><path d="M311.82 117.29A27.40 27.40 0 0 0 289.01 68.38" fill="none" stroke="#ffda00" stroke-width="0.90" stroke-linecap="round"/><path d="M321.85 104.22A27.40 27.40 0 0 0 309.80 71.12" fill="none" stroke="#ff9400" stroke-width="0.90" stroke-linecap="round"/><g clip-path="url(#c21)"><g transform="translate(325,64)" filter="url(#fb)"><rect width="62" height="62" fill="#f70100"/><g transform="translate(0,-1) scale(2)"><path stroke="#d50100" d="M0 1h1M10 1h1M12 6h1M19 9h1M22 12h1M30 21h1M12 26h1"/><path stroke="#bf0100" d="M1 1h1M19 7h1M3 20h1M7 20h1M11 24h1M19 25h1M10 30h1M9 31h1M29 31h1"/><path stroke="#a70100" d="M2 1h1M22 31h1M28 31h1"/><path stroke="#8f0100" d="M3 1h1M24 11h1M21 23h1M20 25h1"/><path stroke="#7c0100" d="M4 1h1M0 6h1M4 21h1M25 21h1M30 24h1M0 25h1M0 26h1M24 31h1"/><path stroke="#700100" d="M5 1h2M25 1h1M7 10h1M23 22h1"/><path stroke="#7e0100" d="M7 1h1M0 7h1M29 29h1"/><path stroke="#970100" d="M8 1h1M10 8h1M30 23h1M0 28h1"/><path stroke="#b90100" d="M9 1h1M29 1h1M30 2h1M11 4h1M19 6h1M26 12h1M30 22h1M19 26h1"/><path stroke="#e50100" d="M11 1h1M12 9h1M28 13h1M2 19h1M8 19h1M22 19h1M30 20h1"/><path stroke="#f10100" d="M12 1h1M13 3h1M17 4h1M17 8h1M3 14h1M7 14h1M23 14h1M27 14h1M28 18h1M30 19h1M11 20h1M17 24h1M17 28h1M13 29h1"/><path stroke="#fb0100" d="M14 1h1M16 1h1M15 3h1M15 4h1M15 8h1M15 9h1M16 10h1M14 11h1M13 12h1M17 12h1M12 13h1M18 13h1M11 14h1M19 14h1M0 15h2M10 15h1M21 15h1M30 15h1M2 16h2M7 16h2M22 16h2M27 16h2M0 17h1M10 17h1M20 17h1M30 17h1M11 18h1M19 18h1M18 19h1M17 20h1M14 21h1M16 22h1M15 23h1M15 24h1M15 28h1M15 29h1M16 30h1M14 31h1"/><path stroke="#fd0100" d="M15 1h1M15 2h1M15 10h1M16 11h1M14 12h1M13 13h1M17 13h1M12 14h1M18 14h1M11 15h1M20 15h1M1 16h1M9 16h1M21 16h1M29 16h2M11 17h1M19 17h1M12 18h1M18 18h1M13 19h1M17 19h1M14 20h1M16 20h1M16 21h1M15 22h1M15 30h1M16 31h1"/><path stroke="#f90100" d="M17 1h1M14 2h1M16 2h1M16 3h1M15 5h1M15 6h1M15 7h1M14 9h1M16 9h1M14 10h1M17 11h1M0 14h1M10 14h1M20 14h1M2 15h1M8 15h2M22 15h1M28 15h2M4 16h3M24 16h3M1 17h2M9 17h1M21 17h2M29 17h1M20 18h1M12 19h1M13 20h1M17 21h1M14 22h1M16 23h1M15 25h1M15 26h1M15 27h1M16 29h1M14 30h1M17 31h1"/><path stroke="#f30100" d="M18 1h1M17 3h1M13 9h1M12 11h1M11 12h1M30 13h1M8 14h1M28 14h1M2 18h1M8 18h1M22 18h1M0 19h1M10 19h1M19 20h1M12 21h1M13 23h1M12 31h1"/><path stroke="#e90100" d="M19 1h1M12 2h1M13 6h1M18 9h1M11 11h1M0 12h1M10 12h1M22 13h1M20 20h1M13 26h1M19 31h1"/><path stroke="#d90100" d="M20 1h1M11 2h1M4 19h1M6 19h1M24 19h1M29 20h1M0 21h1M0 31h1"/><path stroke="#c10100" d="M21 1h1M0 2h1M11 8h1M29 11h1M27 12h1M1 21h1M0 22h1"/><path stroke="#9f0100" d="M22 1h1M30 3h1M1 10h1M20 24h1M10 29h1M21 30h1M8 31h1"/><path stroke="#830100" d="M23 1h1M0 5h1M10 7h1M4 11h1M25 11h1M6 21h1M27 21h1M4 31h1"/><path stroke="#720100" d="M24 1h1M21 3h1M21 24h1"/><path stroke="#780100" d="M26 1h1M10 5h1M10 6h1M10 26h1M10 27h1M25 31h1"/><path stroke="#890100" d="M27 1h1M30 4h1M9 9h1M3 21h1M0 24h1"/><path stroke="#a10100" d="M28 1h1M1 2h1M23 11h1"/><path stroke="#d10100" d="M30 1h1M19 3h1M8 12h1M22 20h1"/><path stroke="#810100" d="M2 2h1M1 3h1M10 4h1M5 11h1M26 11h1M10 25h1"/><path stroke="#640100" d="M3 2h1M9 3h1M28 22h1M27 30h1"/><path stroke="#4c0100" d="M4 2h1M21 5h1M5 10h1M27 22h1M9 28h1"/><path stroke="#3e0100" d="M5 2h1M3 3h1M28 9h1M8 29h1"/><path stroke="#3a0100" d="M6 2h1M29 6h1M29 7h1M28 28h1"/><path stroke="#460100" d="M7 2h1M29 5h1M1 6h1M1 7h1M8 8h1M2 9h1M5 22h1M1 26h1M22 29h1"/><path stroke="#620100" d="M8 2h1M2 29h1"/><path stroke="#8d0100" d="M9 2h1M0 8h1M27 11h1M22 22h1M29 22h1"/><path stroke="#bb0100" d="M10 2h1M19 5h1M4 12h1M6 12h1M27 20h1M29 21h1M11 28h1"/><path stroke="#f50100" d="M13 2h1M14 5h1M14 6h1M17 9h1M13 10h1M18 11h1M19 12h1M0 13h1M10 13h1M20 13h1M2 14h1M22 14h1M29 14h1M1 18h1M9 18h1M29 18h1M20 19h1M18 21h1M13 22h1M17 23h1M14 26h1M17 29h1M13 30h1M18 31h1"/><path stroke="#ed0100" d="M18 2h1M13 4h1M12 10h1M9 13h1M29 13h1M5 14h1M25 14h2M24 18h1M1 19h1M21 19h1M13 28h1"/><path stroke="#df0100" d="M19 2h1M20 11h1M1 12h1M9 12h1M27 13h1M23 19h1M21 20h1M19 22h1M19 30h1"/><path stroke="#c30100" d="M20 2h1M23 20h1M9 21h1M10 22h1M1 31h1"/><path stroke="#990100" d="M21 2h1M29 2h1M1 22h1"/><path stroke="#6c0100" d="M22 2h1M30 6h1M9 8h1M28 10h1"/><path stroke="#4a0100" d="M23 2h1M9 4h1M4 10h1M26 10h1M22 24h1M29 27h1"/><path stroke="#3c0100" d="M24 2h2M29 26h1M27 29h1"/><path stroke="#480100" d="M26 2h1M29 8h1M7 9h1M25 22h1M23 23h1"/><path stroke="#5c0100" d="M27 2h1M2 3h1M29 4h1M21 25h1"/><path stroke="#7a0100" d="M28 2h1M29 3h1M5 21h1M26 21h1M30 27h1M5 31h2"/><path stroke="#a90100" d="M0 3h1M20 3h1M0 9h1M9 10h1"/><path stroke="#260100" d="M4 3h1M22 6h1M7 8h1M27 9h1M3 23h1M2 24h1M26 29h1"/><path stroke="#1a0100" d="M5 3h1M27 4h1M8 5h1M8 27h1M6 29h1"/><path stroke="#180100" d="M6 3h1M24 3h2M28 6h1M23 7h1M28 26h1"/><path stroke="#1e0100" d="M7 3h1M2 6h1M8 6h1M5 23h1M28 24h1M2 26h1M27 28h1M5 29h1"/><path stroke="#380100" d="M8 3h1M28 23h1M29 25h1"/><path stroke="#9b0100" d="M10 3h1M30 9h1M23 21h1M28 21h1"/><path stroke="#c90100" d="M11 3h1M19 8h1M23 12h1M28 20h1M21 21h1M20 22h1"/><path stroke="#e30100" d="M12 3h1M18 8h1M23 13h1M28 19h1M12 23h1M12 29h1"/><path stroke="#e70100" d="M18 3h1M30 12h1M2 13h1M8 13h1M0 20h1M10 20h1M11 21h1M18 23h1M18 29h1M11 31h1"/><path stroke="#420100" d="M22 3h1M26 22h1M7 23h1M8 24h1M3 29h1M6 30h1M25 30h1"/><path stroke="#240100" d="M23 3h1M25 9h1M22 26h1M28 27h1M3 28h1M7 29h1"/><path stroke="#220100" d="M26 3h1M22 5h1M5 9h1M27 23h1M7 24h1M22 27h1M8 28h1"/><path stroke="#360100" d="M27 3h1M28 4h1M22 7h1"/><path stroke="#540100" d="M28 3h1M9 7h1M1 8h1M1 27h1"/><path stroke="#950100" d="M0 4h1M7 21h1M10 24h1M3 31h1"/><path stroke="#660100" d="M1 4h1M8 9h1M29 9h1"/><path stroke="#400100" d="M2 4h1M9 5h1M2 23h1M9 27h1"/><path stroke="#200100" d="M3 4h1M8 4h1M28 5h1M28 8h1M4 9h1M26 9h1M25 23h1"/><path stroke="#0e0100" d="M4 4h1M7 4h1M23 6h1M27 24h1M26 28h1"/><path stroke="#060100" d="M5 4h2M25 4h1M27 6h1M6 7h1M24 7h1M27 7h1M24 25h1M27 25h1M27 26h1"/><path stroke="#db0100" d="M12 4h1M18 6h1M10 11h1M5 13h1M25 13h2M9 20h1M11 22h1M18 26h1M11 30h1"/><path stroke="#e10100" d="M18 4h1M19 10h1M21 12h1M3 13h1M7 13h1M18 24h1M18 28h1"/><path stroke="#c50100" d="M19 4h1M0 10h1M3 12h1M7 12h1M0 30h1M21 31h1"/><path stroke="#910100" d="M20 4h1M20 7h1M3 11h1M27 31h1"/><path stroke="#560100" d="M21 4h1"/><path stroke="#280100" d="M22 4h1M2 5h1M2 8h1M23 24h1M23 29h1"/><path stroke="#120100" d="M23 4h1M7 7h1M3 24h1M3 27h1M4 28h1"/><path stroke="#080100" d="M24 4h1M7 5h1M3 6h1M7 6h1M4 24h2M26 24h1M3 25h1M7 26h1M7 27h1M5 28h2M25 28h1"/><path stroke="#0c0100" d="M26 4h1M27 5h1M25 8h1M23 26h1M23 27h1M27 27h1"/><path stroke="#520100" d="M1 5h1M27 10h1M6 22h1M9 25h1M4 30h1M23 30h1"/><path stroke="#100100" d="M3 5h1M27 8h1M6 24h1M7 25h1M7 28h1"/><path stroke="#040100" d="M4 5h1M24 5h1M26 5h1M24 6h1M4 7h1M4 25h1M6 25h1M4 27h1M24 27h1M26 27h1"/><path stroke="#020100" d="M5 5h2M25 5h1M4 6h1M6 6h1M26 6h1M5 7h1M25 7h2M5 25h1M25 25h2M4 26h1M6 26h1M24 26h1M26 26h1M5 27h2M25 27h1"/><path stroke="#b10100" d="M11 5h1M21 10h1M8 11h1M5 20h1M25 20h1M22 21h1M11 27h1"/><path stroke="#d70100" d="M12 5h1M12 7h1M30 11h1M5 19h1M25 19h2M10 21h1M12 25h1M12 27h1M10 31h1"/><path stroke="#eb0100" d="M13 5h1M13 7h1M19 11h1M20 12h1M4 18h3M25 18h2M9 19h1M29 19h1M19 21h1M12 22h1M13 25h1M13 27h1M12 30h1"/><path stroke="#ef0100" d="M17 5h1M17 6h1M17 7h1M13 8h1M18 10h1M1 13h1M21 13h1M4 14h1M6 14h1M24 14h1M3 18h1M7 18h1M23 18h1M27 18h1M18 22h1M13 24h1M17 25h1M17 26h1M17 27h1M18 30h1"/><path stroke="#dd0100" d="M18 5h1M18 7h1M12 8h1M11 10h1M0 11h1M29 12h1M4 13h1M6 13h1M24 13h1M3 19h1M7 19h1M27 19h1M1 20h1M20 21h1M12 24h1M18 25h1M18 27h1M12 28h1M20 31h1"/><path stroke="#850100" d="M20 5h1M20 6h1M8 22h1M9 23h1M20 26h1M0 27h1M10 28h1M7 31h1"/><path stroke="#0a0100" d="M23 5h1M3 7h1M4 8h2M26 8h1M25 24h1M3 26h1M24 28h1"/><path stroke="#760100" d="M30 5h1M21 8h1M2 10h1M23 10h1M21 29h1"/><path stroke="#000100" d="M5 6h1M25 6h1M5 26h1M25 26h1"/><path stroke="#440100" d="M9 6h1M4 22h1M29 24h1M1 25h1M9 26h1M2 28h1M5 30h1M24 30h1"/><path stroke="#af0100" d="M11 6h1M10 9h1M11 26h1"/><path stroke="#500100" d="M21 6h1M3 22h1M1 24h1M21 26h1"/><path stroke="#1c0100" d="M2 7h1M4 23h1M26 23h1M2 25h1M8 26h1M24 29h2"/><path stroke="#2c0100" d="M8 7h1M23 8h1M2 27h1M22 28h1"/><path stroke="#b50100" d="M11 7h1M6 20h1M20 23h1"/><path stroke="#600100" d="M21 7h1M8 23h1M29 23h1M29 28h1"/><path stroke="#160100" d="M28 7h1M24 8h1M23 25h1M28 25h1"/><path stroke="#6e0100" d="M30 7h1M22 9h1M2 22h1M1 23h1M30 25h1M30 26h1"/><path stroke="#140100" d="M3 8h1M6 8h1M24 24h1M23 28h1"/><path stroke="#a30100" d="M20 8h1M2 21h1M30 29h1"/><path stroke="#4e0100" d="M22 8h1M23 9h1M25 10h1M21 27h1M7 30h1M26 30h1"/><path stroke="#800100" d="M30 8h1M28 30h1M26 31h1"/><path stroke="#740100" d="M1 9h1M22 30h1"/><path stroke="#2a0100" d="M3 9h1M6 23h1M8 25h1M4 29h1"/><path stroke="#300100" d="M6 9h1M24 23h1"/><path stroke="#cf0100" d="M11 9h1M28 12h1"/><path stroke="#b70100" d="M20 9h1M22 11h1M5 12h1M25 12h1M24 20h1"/><path stroke="#930100" d="M21 9h1M22 10h1M29 10h1M20 28h1M9 30h1"/><path stroke="#340100" d="M24 9h1"/><path stroke="#580100" d="M3 10h1M24 22h1"/><path stroke="#5a0100" d="M6 10h1M21 28h1M28 29h1"/><path stroke="#8b0100" d="M8 10h1M6 11h1M30 28h1M23 31h1"/><path stroke="#c70100" d="M10 10h1M1 11h1M9 11h1M19 24h1M19 28h1M20 30h1"/><path stroke="#cd0100" d="M20 10h1M21 11h1M2 20h1M8 20h1M11 23h1"/><path stroke="#5e0100" d="M24 10h1"/><path stroke="#bd0100" d="M30 10h1M24 12h1M19 27h1M30 30h1"/><path stroke="#ab0100" d="M2 11h1M8 21h1M10 23h1"/><path stroke="#9d0100" d="M7 11h1M29 30h1"/><path stroke="#ff0100" d="M15 11h1M15 12h2M14 13h3M13 14h5M12 15h8M0 16h1M10 16h11M12 17h7M13 18h5M14 19h3M15 20h1M15 21h1M15 31h1"/><path stroke="#a50100" d="M28 11h1M9 22h1M0 23h1M1 30h1"/><path stroke="#d30100" d="M2 12h1M19 23h1M19 29h1M30 31h1"/><path stroke="#b30100" d="M4 20h1M26 20h1M11 25h1"/><path stroke="#870100" d="M24 21h1M20 27h1M1 29h1M2 30h1"/><path stroke="#680100" d="M7 22h1M22 23h1M9 24h1"/><path stroke="#ad0100" d="M21 22h1M0 29h1M20 29h1M2 31h1"/><path stroke="#320100" d="M22 25h1"/><path stroke="#6a0100" d="M1 28h1M9 29h1M3 30h1M8 30h1"/><path stroke="#cb0100" d="M11 29h1"/></g></g></g><g clip-path="url(#c22)"><g transform="translate(385,64)" filter="url(#fb)"><rect width="64" height="62" fill="#810100"/><g transform="translate(0,-1) scale(2)"><path stroke="#7a0100" d="M0 1h1M1 2h1M2 3h1M25 6h1M24 7h1M23 8h1M22 9h1M10 11h1M16 11h1M17 12h2M19 18h1M12 20h1M14 20h1M15 23h1"/><path stroke="#890100" d="M1 1h1M2 2h1M15 3h1M15 4h1M15 5h1M15 6h1M14 11h1M10 17h1M16 22h1"/><path stroke="#9b0100" d="M2 1h1M31 2h1M24 15h1M30 15h2M9 18h1M8 22h1M5 25h1M26 28h1"/><path stroke="#ab0100" d="M3 1h1M14 3h1M31 3h1M14 6h1M11 9h1M23 14h1M8 21h1M20 23h1M17 24h1M3 26h1"/><path stroke="#bd0100" d="M4 1h1M31 4h1M7 5h1M23 12h1M25 14h1M29 14h1M6 18h1M2 26h1M17 28h1"/><path stroke="#cd0100" d="M5 1h1M7 4h1M13 4h1M31 5h1M5 23h1M21 25h1M25 30h1M18 31h1"/><path stroke="#dd0100" d="M6 1h1M12 2h1M28 8h1M27 13h1M2 19h1M24 30h1"/><path stroke="#e90100" d="M7 1h1M11 1h1M26 12h1M29 12h1M1 20h1M19 27h1M22 28h1M19 29h1"/><path stroke="#f10100" d="M8 1h1M9 3h1M11 3h1M31 8h1M29 9h1M30 11h1M3 20h1M0 21h1M3 22h1M1 23h1M20 27h1M20 30h1"/><path stroke="#f50100" d="M9 1h1M9 2h2M10 3h1M10 4h1M31 9h1M29 10h3M27 11h2M2 21h2M0 22h2M20 28h1M21 29h1M21 30h1M21 31h2"/><path stroke="#f30100" d="M10 1h1M11 4h1M30 9h1M28 10h1M29 11h1M1 21h1M4 21h1M2 22h1M0 23h1M21 28h1M20 29h1M22 30h1"/><path stroke="#d90100" d="M12 1h1M7 3h1M6 21h1M1 25h1M18 28h1M23 28h1"/><path stroke="#c30100" d="M13 1h1M27 14h1M2 18h1M7 19h1M7 21h1M19 24h1"/><path stroke="#a70100" d="M14 1h1M9 8h1M13 9h1M3 17h2"/><path stroke="#870100" d="M15 1h1M15 2h1M15 7h1M11 11h1M20 12h1M11 18h1M11 19h1M18 20h1M22 23h1M23 24h1M24 25h1M25 26h1M26 27h1"/><path stroke="#680100" d="M16 1h1M1 3h1M27 3h1M16 7h1M21 20h1"/><path stroke="#4a0100" d="M17 1h1M4 7h1M8 12h1M13 24h1M28 26h1"/><path stroke="#300100" d="M18 1h1M6 10h1M6 13h1M24 21h1M27 24h1M30 26h1M7 28h1M13 28h1"/><path stroke="#1c0100" d="M19 1h1M23 3h1M2 8h1M0 12h1M12 27h1M12 29h1"/><path stroke="#100100" d="M20 1h1M23 1h1M22 3h1M0 8h1M2 9h1M4 10h1M3 12h1M28 20h1M27 22h1M29 23h1M11 27h1M9 28h1M8 30h1"/><path stroke="#0a0100" d="M21 1h2M20 3h2M20 4h1M0 9h1M0 10h1M2 10h1M2 11h1M27 21h1M29 21h1M29 22h1M31 22h1M31 23h1M10 28h1M9 30h2"/><path stroke="#1a0100" d="M24 1h1M20 6h1M0 7h1M31 20h1M29 24h1M10 26h1M7 30h1"/><path stroke="#280100" d="M25 1h1M18 3h1M18 5h1M0 6h1M25 19h1M30 19h1M8 27h1"/><path stroke="#380100" d="M26 1h1M18 7h1M26 18h1M28 18h1M13 30h1"/><path stroke="#480100" d="M27 1h1M17 2h1M0 4h1M23 6h1M22 7h1M23 21h1M5 29h1"/><path stroke="#5a0100" d="M28 1h1M25 17h1M29 17h1M10 23h1M5 28h1"/><path stroke="#6c0100" d="M29 1h1M16 8h1M20 10h1M10 13h1M22 17h1M9 23h1M6 26h1"/><path stroke="#7c0100" d="M30 1h1M29 2h1M28 3h1M27 4h1M26 5h1M21 10h1M20 11h1M11 12h1M16 12h1M12 14h1M11 15h2M25 16h5M19 17h1M14 19h1M19 19h1M15 21h1M15 22h1"/><path stroke="#8b0100" d="M31 1h1M30 2h1M3 3h1M4 4h1M10 10h1M20 14h1M21 15h1"/><path stroke="#6a0100" d="M0 2h1M28 2h1M17 10h1M8 15h1M21 18h1M8 24h1M7 25h1"/><path stroke="#9d0100" d="M3 2h1M30 3h1M12 10h1M7 17h1M18 22h2M7 23h1M21 23h1M25 27h1"/><path stroke="#af0100" d="M4 2h1M30 4h1M25 28h1"/><path stroke="#c10100" d="M5 2h1M30 5h1M8 6h1M11 8h1M26 8h1M24 10h1M26 14h1M28 14h1M20 24h1M3 25h1"/><path stroke="#d30100" d="M6 2h1M8 5h1M25 13h1M30 13h1M0 19h1M18 26h1M24 29h1"/><path stroke="#e30100" d="M7 2h1M11 6h1M27 9h1M0 25h1M19 26h1M23 29h1"/><path stroke="#ed0100" d="M8 2h1M11 2h1M9 4h1M11 5h1M26 11h1M31 11h1M28 12h1M2 20h1M2 23h1M0 24h1M21 27h1M19 28h1M20 31h1"/><path stroke="#c70100" d="M13 2h1M6 3h1M13 6h1M24 13h1M3 18h2M7 20h1M4 24h1"/><path stroke="#a90100" d="M14 2h1M7 6h1M8 7h1M26 7h1M23 10h1M22 12h1M22 13h1M8 18h1M2 27h1M27 30h1"/><path stroke="#660100" d="M16 2h1M16 3h1M2 4h1M26 4h1M16 6h1M21 9h1M9 11h1M7 15h1M23 17h1M21 19h1M14 23h1M31 30h1"/><path stroke="#2c0100" d="M18 2h1M18 6h1M2 7h1M19 7h1M31 19h1M10 25h1"/><path stroke="#180100" d="M19 2h1M1 12h1M5 12h1M26 22h1M31 25h1M11 26h1M9 27h1M12 28h1"/><path stroke="#0c0100" d="M20 2h1M22 2h1M21 4h1M1 9h1M3 10h1M1 11h1M4 11h1M30 21h1M28 22h1M30 23h1M11 28h1M9 29h1M8 31h1M10 31h1"/><path stroke="#080100" d="M21 2h1M1 10h1M3 11h1M28 21h1M30 22h1M10 29h1M9 31h1"/><path stroke="#140100" d="M23 2h1M19 3h1M1 8h1M2 12h1M26 20h1M30 24h1M7 31h1"/><path stroke="#220100" d="M24 2h1M21 6h1M1 7h1M4 13h1M12 26h1M12 30h1"/><path stroke="#320100" d="M25 2h1M1 6h1M22 6h1M13 27h1"/><path stroke="#440100" d="M26 2h1M17 3h1M1 5h1M18 8h1M6 9h1M6 14h1M31 18h1M23 19h1M6 28h1M31 28h1"/><path stroke="#580100" d="M27 2h1M0 3h1M8 14h1M26 17h3M23 22h1M14 25h1M26 25h1M14 31h1"/><path stroke="#9f0100" d="M4 3h1M29 4h1M14 8h1M22 14h1M25 15h1M29 15h1M0 17h1M9 20h1M6 24h1"/><path stroke="#b30100" d="M5 3h1M29 5h1M13 8h1M7 18h1M8 19h1M8 20h1M17 25h1M0 28h1M17 31h1"/><path stroke="#e70100" d="M8 3h1M31 7h1M26 10h1M5 20h1M5 21h1M1 24h1"/><path stroke="#e10100" d="M12 3h1M12 5h1M10 6h1M25 11h1M25 12h1M31 12h1M3 19h1M19 31h1"/><path stroke="#cb0100" d="M13 3h1M13 5h1M28 7h1M6 22h1M23 27h1"/><path stroke="#2e0100" d="M24 3h1M5 9h1M0 13h1M24 20h1M12 25h1M5 31h1"/><path stroke="#400100" d="M25 3h1M2 6h1M20 8h1M30 18h1M26 24h1M30 27h1M4 31h1"/><path stroke="#540100" d="M26 3h1M18 9h1M22 19h1M24 23h1M25 24h1M31 29h1"/><path stroke="#8d0100" d="M29 3h1M28 4h1M5 5h1M9 9h1M12 11h1M21 11h1M20 13h1M10 20h1M17 21h1M19 21h1M16 23h1"/><path stroke="#560100" d="M1 4h1M17 8h1M20 9h1M22 20h1M13 23h1M6 27h1M14 30h1"/><path stroke="#780100" d="M3 4h1M4 5h1M5 6h1M9 10h1M20 17h1M13 20h1M20 20h1M15 24h1"/><path stroke="#a10100" d="M5 4h1M10 9h1M22 11h1M26 15h3M1 17h1M6 17h1M9 19h1M17 23h1M22 24h1M24 26h1"/><path stroke="#b70100" d="M6 4h1M28 6h1M23 11h1M31 14h1M6 23h1M1 27h1M17 30h1M27 31h1"/><path stroke="#df0100" d="M8 4h1M30 7h1M4 19h1M5 22h1M2 24h1M21 26h1M22 27h1"/><path stroke="#e50100" d="M12 4h1M9 5h1M29 8h1M30 12h1M0 20h1M3 23h1M20 26h1M19 30h1M24 31h1"/><path stroke="#ad0100" d="M14 4h1M14 5h1M25 8h1M12 9h1M24 9h1M18 23h1M26 29h1"/><path stroke="#640100" d="M16 4h1M3 5h1M16 5h1M25 5h1M18 10h1M9 14h1M0 15h1M11 22h1M13 22h1M30 29h1"/><path stroke="#420100" d="M17 4h1M17 5h1M1 14h1M23 20h1M10 24h1"/><path stroke="#240100" d="M18 4h1M6 11h1M6 12h1M2 13h1M29 19h1M28 24h1M7 29h1"/><path stroke="#120100" d="M19 4h1M21 5h1M4 12h1M29 20h1M26 21h1M11 30h1"/><path stroke="#160100" d="M22 4h1M19 5h1M3 9h1M5 11h1M30 20h1M28 23h1M8 29h1M11 31h1"/><path stroke="#260100" d="M23 4h1M3 8h1M5 13h1M11 25h1M9 26h1M31 26h1M12 31h1"/><path stroke="#3a0100" d="M24 4h1M3 7h1M7 11h1M11 24h1M9 25h1M8 26h1M5 30h1"/><path stroke="#500100" d="M25 4h1M19 9h1M8 11h1M23 18h1M11 23h1M8 25h1M14 27h1M14 28h1M3 31h1"/><path stroke="#360100" d="M0 5h1M7 12h1M27 18h1M28 25h1M13 26h1M6 29h1"/><path stroke="#520100" d="M2 5h1M9 24h1M7 26h1M14 26h1M30 28h1M14 29h1"/><path stroke="#a50100" d="M6 5h1M27 6h1M14 7h1M2 17h1M5 17h1M1 28h1M28 31h1"/><path stroke="#ef0100" d="M10 5h1M27 10h1M27 12h1M4 20h1M22 29h1M23 31h1"/><path stroke="#0e0100" d="M20 5h1M0 11h1M27 20h1M31 21h1M31 24h1M10 27h1M11 29h1"/><path stroke="#200100" d="M22 5h1M4 9h1M3 13h1M26 19h1M28 19h1M30 25h1M6 31h1"/><path stroke="#340100" d="M23 5h1M21 7h1M4 8h1M24 19h1M31 27h1M13 29h1"/><path stroke="#4c0100" d="M24 5h1M17 7h1M21 8h1M8 13h1M4 30h1"/><path stroke="#8f0100" d="M27 5h1M6 6h1M7 7h1M8 8h1M14 10h1M13 11h1M22 15h1M9 17h1M18 21h1"/><path stroke="#a30100" d="M28 5h1M23 25h1M0 29h1"/><path stroke="#4e0100" d="M3 6h1M7 14h1M12 23h1M29 27h1"/><path stroke="#620100" d="M4 6h1M24 6h1M19 10h1M1 15h1M6 15h1M29 28h1M2 31h1"/><path stroke="#d50100" d="M9 6h1M11 7h1M3 24h1M19 25h1M0 26h1M18 29h1"/><path stroke="#db0100" d="M12 6h1M31 6h1M26 13h1M28 13h1M5 19h1M6 20h1M4 23h1"/><path stroke="#460100" d="M17 6h1M5 8h1M7 10h1M0 14h1M24 18h1M27 25h1"/><path stroke="#1e0100" d="M19 6h1M5 10h1M27 19h1M25 20h1M25 21h1M27 23h1M8 28h1"/><path stroke="#910100" d="M26 6h1M22 10h1M10 18h1M10 19h1M0 30h1"/><path stroke="#c50100" d="M29 6h1M25 9h1M5 18h1M0 27h1M24 28h1"/><path stroke="#d10100" d="M30 6h1M27 8h1M24 12h1M6 19h1M18 30h1"/><path stroke="#5e0100" d="M5 7h1M9 12h1M2 15h1M4 15h2M30 17h1M14 24h1"/><path stroke="#760100" d="M6 7h1M7 8h1M8 9h1M16 10h1M11 13h1M11 14h1M10 15h1M11 21h1M15 25h1M15 26h1M15 27h1M15 28h1M15 29h1M15 30h1M15 31h1M31 31h1"/><path stroke="#bf0100" d="M9 7h1M13 7h1M12 8h1M1 18h1M25 29h1"/><path stroke="#cf0100" d="M10 7h1M12 7h1M24 11h1M31 13h1M2 25h1M22 26h1"/><path stroke="#2a0100" d="M20 7h1M1 13h1M25 22h1M26 23h1M29 25h1M6 30h1"/><path stroke="#600100" d="M23 7h1M22 8h1M17 9h1M8 10h1M24 17h1M31 17h1M22 21h1M12 22h1M28 27h1M3 30h1"/><path stroke="#930100" d="M25 7h1M24 8h1M23 9h1M21 14h1M16 24h1M1 29h1"/><path stroke="#bb0100" d="M27 7h1M0 18h1M18 24h1M17 27h1M26 30h1"/><path stroke="#d70100" d="M29 7h1M26 9h1M25 10h1M29 13h1M1 19h1M20 25h1M18 27h1M25 31h1"/><path stroke="#5c0100" d="M6 8h1M7 9h1M9 13h1M3 15h1M22 18h1M27 26h1M4 29h1"/><path stroke="#b90100" d="M10 8h1M23 13h1M30 14h1M22 25h1M17 26h1M23 26h1M17 29h1"/><path stroke="#850100" d="M15 8h1M15 9h1M13 12h1M20 15h1M17 20h1M16 21h1M21 22h1M27 28h1M28 29h1M29 30h1M30 31h1"/><path stroke="#3e0100" d="M19 8h1M7 13h1M2 14h1M5 14h1M25 18h1M24 22h1M13 25h1M7 27h1"/><path stroke="#eb0100" d="M30 8h1M28 9h1M4 22h1M23 30h1"/><path stroke="#970100" d="M14 9h1M11 10h1M21 12h1M8 17h1M3 27h1M16 30h1M28 30h1"/><path stroke="#700100" d="M16 9h1M18 11h1M10 12h1M12 21h1M10 22h1M22 22h1M25 25h1M26 26h1M4 28h1M3 29h1"/><path stroke="#990100" d="M13 10h1M21 13h1M4 26h1M16 26h1M16 27h1M16 28h1M16 29h1M27 29h1"/><path stroke="#830100" d="M15 10h1M12 12h1M14 12h1M19 13h1M19 14h1M11 17h1M20 21h1M9 22h1M8 23h1M7 24h1M6 25h1M5 26h1M4 27h1M3 28h1M2 29h1"/><path stroke="#720100" d="M17 11h1M9 15h1M21 17h1M20 18h1M20 19h1M27 27h1M2 30h1M1 31h1"/><path stroke="#740100" d="M19 11h1M14 21h1M21 21h1M28 28h1M29 29h1M30 30h1"/><path stroke="#800100" d="M15 12h1M13 13h1M15 13h1M14 14h2M17 14h1M15 15h3M9 16h11M14 17h1M16 17h1M13 18h1M17 18h1M12 19h1M18 19h1"/><path stroke="#7e0100" d="M19 12h1M12 13h1M16 13h3M13 14h1M16 14h1M13 15h2M20 16h5M30 16h2M15 17h1M17 17h2M14 18h2M18 18h1M13 19h1M15 19h1M15 20h1"/><path stroke="#3c0100" d="M3 14h2M29 18h1M25 23h1M12 24h1M29 26h1M13 31h1"/><path stroke="#6e0100" d="M10 14h1M13 21h1M14 22h1M23 23h1M24 24h1M5 27h1"/><path stroke="#b50100" d="M24 14h1M7 22h1M5 24h1M21 24h1M24 27h1"/><path stroke="#950100" d="M23 15h1M9 21h1M17 22h1M20 22h1M16 25h1M2 28h1M16 31h1M29 31h1"/><path stroke="#b10100" d="M19 23h1M4 25h1"/><path stroke="#c90100" d="M18 25h1M1 26h1M26 31h1"/></g></g></g><g clip-path="url(#c23)"><g transform="translate(446,64)" filter="url(#fb)"><rect width="62" height="62" fill="#640100"/><g transform="translate(0,-1) scale(2)"><path stroke="#660100" d="M0 1h2M7 1h1M0 2h1M8 2h1M9 3h1M0 7h1M0 8h1M1 9h1M2 10h1M13 11h1M4 14h1M10 14h1M20 18h1M17 21h1M28 22h1M29 23h1M30 24h1M17 27h1M21 29h1M22 30h1M30 30h1M23 31h2M29 31h2"/><path stroke="#680100" d="M8 1h1M9 2h1M10 3h1M0 9h1M1 10h1M2 11h1M28 21h1M29 22h1M30 23h1M20 29h1M21 30h1M22 31h1"/><path stroke="#6a0100" d="M9 1h1M10 2h1M11 3h1M13 4h1M0 10h1M2 12h1M27 18h1M28 20h1M29 21h1M30 22h1M21 31h1"/><path stroke="#6c0100" d="M10 1h1M12 3h1M14 7h1M14 8h1M1 11h1M12 13h1M23 17h2M19 18h1M18 19h1M28 19h1M30 21h1M17 28h1M19 29h1M20 30h1"/><path stroke="#700100" d="M11 1h1M14 6h1M14 10h1M0 12h2M6 15h1M8 15h1M21 17h1M30 20h1M16 23h1M19 30h1M19 31h1"/><path stroke="#740100" d="M12 1h1M14 11h1M0 13h2M2 14h1M4 15h1M10 15h1M20 17h1M27 17h1M30 19h1M16 21h1M16 27h1M17 29h1M18 30h1M18 31h1"/><path stroke="#780100" d="M13 1h1M14 3h1M14 12h1M14 13h1M0 14h2M11 15h1M18 17h1M28 17h1M30 18h1M16 20h1M17 30h1M17 31h1"/><path stroke="#7c0100" d="M14 1h1M0 15h2M14 15h1M16 17h1M30 17h1M16 30h1M16 31h1"/><path stroke="#800100" d="M15 1h1M15 2h1M15 3h1M15 4h1M15 5h1M15 6h1M15 7h1M15 8h1M15 9h1M15 10h1M15 11h1M15 12h1M15 13h1M15 14h1M15 15h1M0 16h2M14 16h17M15 17h1M15 18h1M15 30h1M15 31h1"/><path stroke="#870100" d="M16 1h1M16 15h1M30 15h1M14 17h1M14 31h1"/><path stroke="#910100" d="M17 1h1M16 12h1M29 14h1M0 18h1M13 31h1"/><path stroke="#990100" d="M18 1h1M16 5h1M26 15h1M0 19h1M12 31h1"/><path stroke="#9f0100" d="M19 1h1M16 6h1M30 12h1M22 15h1M0 20h1M11 31h1"/><path stroke="#a50100" d="M20 1h1M18 3h1M30 11h1M28 13h1M8 17h1M2 19h1M0 21h1M14 23h1M14 25h1M12 29h1M10 31h1"/><path stroke="#ab0100" d="M21 1h1M19 3h1M30 10h1M28 12h1M12 19h1M2 20h1M0 22h1M9 31h1"/><path stroke="#af0100" d="M22 1h1M20 3h1M30 9h1M17 11h1M28 11h1M20 14h1M1 22h1M0 23h1M8 31h1"/><path stroke="#b10100" d="M23 1h1M30 1h1M22 2h1M21 3h1M30 8h1M29 9h1M28 10h1M26 14h1M2 22h1M1 23h1M0 24h1M9 29h1M8 30h1M0 31h1M7 31h1"/><path stroke="#b30100" d="M24 1h1M28 1h2M30 2h1M30 3h1M17 5h1M30 6h1M30 7h1M10 18h1M13 21h1M0 25h1M0 26h1M13 27h1M0 28h1M0 29h1M0 30h2M1 31h3M5 31h2"/><path stroke="#b50100" d="M25 1h3M23 2h1M28 2h2M22 3h1M29 3h1M30 4h1M30 5h1M29 7h1M29 8h1M28 9h1M27 13h1M4 18h1M3 19h1M2 23h1M1 24h1M1 25h1M0 27h1M12 28h1M1 29h1M8 29h1M2 30h1M6 30h2M4 31h1"/><path stroke="#620100" d="M3 2h4M2 3h2M7 3h1M1 4h2M12 4h1M1 5h1M1 6h1M2 7h1M2 8h1M27 19h1M28 24h1M29 25h1M29 26h1M29 27h1M28 28h2M23 29h2M27 29h2M25 30h3"/><path stroke="#6e0100" d="M11 2h1M14 9h1M0 11h1M13 12h1M2 13h1M3 14h1M11 14h1M7 15h1M22 17h1M25 17h1M17 20h1M29 20h1M16 24h1M16 25h1M18 29h1M20 31h1"/><path stroke="#720100" d="M12 2h1M13 3h1M14 5h1M13 13h1M12 14h1M5 15h1M9 15h1M26 17h1M18 18h1M28 18h1M17 19h1M29 19h1M16 22h1M16 26h1"/><path stroke="#760100" d="M13 2h1M14 4h1M13 14h1M3 15h1M19 17h1M17 18h1M29 18h1M16 28h1"/><path stroke="#7a0100" d="M14 2h1M14 14h1M2 15h1M12 15h2M17 17h1M29 17h1M16 18h1M16 19h1M16 29h1"/><path stroke="#890100" d="M16 2h1M16 14h1M17 15h1M29 15h1M0 17h2M14 30h1"/><path stroke="#930100" d="M17 2h1M16 4h1M17 14h1M27 15h1M11 17h1M1 18h1M14 20h1M13 30h1"/><path stroke="#9b0100" d="M18 2h1M17 3h1M17 13h1M29 13h1M18 14h1M28 14h1M21 15h1M10 17h1M2 18h1M1 19h1M14 21h1M14 27h1M13 29h1M12 30h1"/><path stroke="#a30100" d="M19 2h1M16 7h1M16 8h1M17 12h1M29 12h1M19 14h1M1 20h1M11 30h1"/><path stroke="#a90100" d="M20 2h1M29 11h1M3 18h1M1 21h1M11 29h1M10 30h1"/><path stroke="#ad0100" d="M21 2h1M29 10h1M2 21h1M10 29h1M9 30h1"/><path stroke="#b70100" d="M24 2h4M23 3h1M28 3h1M18 4h1M29 4h1M29 5h1M29 6h1M28 8h1M18 12h1M19 13h1M2 24h1M1 26h1M1 27h1M1 28h1M2 29h1M7 29h1M3 30h3"/><path stroke="#600100" d="M4 3h3M3 4h2M7 4h1M2 5h2M2 6h1M3 8h1M3 9h1M13 10h1M12 12h1M11 13h1M5 14h1M9 14h1M19 19h1M18 20h1M17 22h1M27 23h1M27 24h1M28 25h1M17 26h1M28 26h1M27 27h2M22 28h2M26 28h2M25 29h2"/><path stroke="#8d0100" d="M16 3h1M16 13h1M18 15h1M28 15h1"/><path stroke="#b90100" d="M24 3h4M28 4h1M28 5h1M28 6h1M28 7h1M17 10h1M21 14h1M25 14h1M2 25h1M2 26h1M2 27h1M2 28h2M3 29h4"/><path stroke="#5e0100" d="M5 4h2M8 4h1M4 5h2M3 6h2M13 6h1M3 7h1M3 12h1M21 18h1M25 18h1M27 25h1M26 26h2M25 27h2M19 28h1M21 28h1M24 28h2"/><path stroke="#5c0100" d="M9 4h1M11 4h1M6 5h1M5 6h1M4 7h1M3 10h1M3 11h1M6 14h1M8 14h1M27 20h1M27 22h1M26 25h1M25 26h1M24 27h1M20 28h1"/><path stroke="#5a0100" d="M10 4h1M4 13h1M7 14h1M27 21h1M17 23h1M17 24h1M17 25h1M18 27h1"/><path stroke="#a70100" d="M17 4h1M18 13h1M27 14h1M6 17h2M11 18h1M13 20h1M14 24h1M13 28h1"/><path stroke="#bf0100" d="M19 4h1M24 5h2M26 6h1M26 7h1M27 12h1M22 14h1M4 25h1M5 26h1M6 27h1M10 28h1"/><path stroke="#c30100" d="M20 4h1M17 8h1M27 11h1M13 23h1M4 24h1M13 25h1M7 27h1"/><path stroke="#c10100" d="M21 4h1M25 6h1M17 7h1M17 9h1M27 10h1M23 14h2M3 21h1"/><path stroke="#bd0100" d="M22 4h1M24 4h2M26 5h1M27 6h1M27 7h1M5 18h1M9 18h1M3 20h1M3 22h1M13 22h1M4 26h1M4 27h2M9 28h1M11 28h1"/><path stroke="#bb0100" d="M23 4h1M26 4h2M27 5h1M17 6h1M27 8h1M27 9h1M11 19h1M12 20h1M3 23h1M3 24h1M3 25h1M3 26h1M13 26h1M3 27h1M4 28h5"/><path stroke="#560100" d="M7 5h1M12 5h1M12 11h1M10 13h1M23 18h1M26 19h1M18 21h1"/><path stroke="#4e0100" d="M8 5h1M26 23h1"/><path stroke="#480100" d="M9 5h2M26 21h1M26 22h1"/><path stroke="#4c0100" d="M11 5h1M12 6h1M9 13h1M25 19h1M26 20h1M18 22h1"/><path stroke="#c50100" d="M18 5h1M18 11h1M20 13h1M26 13h1M6 18h3M4 19h1M13 24h1M12 27h1"/><path stroke="#cf0100" d="M19 5h1M18 6h1M18 10h1M26 12h1M21 13h1M25 13h1M5 19h1M4 20h1M12 26h1M11 27h1"/><path stroke="#d50100" d="M20 5h2M26 10h1M26 11h1"/><path stroke="#d10100" d="M22 5h1M26 9h1"/><path stroke="#c70100" d="M23 5h1M26 8h1"/><path stroke="#520100" d="M6 6h1M5 7h1M11 12h1M19 20h1M25 25h1"/><path stroke="#440100" d="M7 6h1M12 7h1M5 8h1M11 11h1M10 12h1M7 13h2M19 21h1M18 23h1M25 24h1M23 26h1"/><path stroke="#380100" d="M8 6h1M5 11h1M25 23h1M20 26h1"/><path stroke="#340100" d="M9 6h2M11 10h1M21 20h1M25 21h1M19 22h1M25 22h1"/><path stroke="#3e0100" d="M11 6h1M25 20h1"/><path stroke="#db0100" d="M19 6h1M25 12h1M7 19h2M5 20h1M10 20h1M12 23h1M12 24h1M11 26h1"/><path stroke="#e30100" d="M20 6h2M19 7h1M25 10h1M25 11h1M24 12h1M6 20h1M5 22h1M11 25h1"/><path stroke="#e10100" d="M22 6h1M25 9h1M19 10h1M21 12h1M5 21h1M9 26h2"/><path stroke="#d90100" d="M23 6h1M18 8h1M25 8h1M23 13h1M6 19h1M11 21h1M6 25h1"/><path stroke="#cd0100" d="M24 6h1M25 7h1M11 20h1M4 23h1M8 27h1"/><path stroke="#400100" d="M6 7h1M12 8h1M5 12h1M23 19h1M24 25h1M19 26h1"/><path stroke="#300100" d="M7 7h1M6 8h1M10 11h1M20 21h1M24 24h1"/><path stroke="#240100" d="M8 7h1M24 23h1"/><path stroke="#200100" d="M9 7h1M10 10h1M21 21h1M20 22h1M24 22h1M23 24h1"/><path stroke="#260100" d="M10 7h1M6 9h1M24 21h1M22 25h1"/><path stroke="#320100" d="M11 7h1M24 20h1M23 25h1"/><path stroke="#580100" d="M13 7h1M4 8h1M13 8h1M13 9h1M22 18h1M24 18h1M26 24h1M23 27h1"/><path stroke="#d70100" d="M18 7h1M18 9h1M19 11h1M20 12h1M22 13h1M24 13h1M5 24h1M12 25h1M7 26h1"/><path stroke="#eb0100" d="M20 7h1M24 9h1M6 23h1M8 25h1"/><path stroke="#ed0100" d="M21 7h2M20 10h1M24 10h1M21 11h1M9 21h1M6 22h1M10 22h1M7 24h1M9 25h1"/><path stroke="#e70100" d="M23 7h1M19 8h1M24 8h1M19 9h1M22 12h2M10 21h1M11 23h1"/><path stroke="#dd0100" d="M24 7h1"/><path stroke="#1e0100" d="M7 8h1"/><path stroke="#160100" d="M8 8h1M7 9h1M7 10h1M23 23h1M21 24h2"/><path stroke="#140100" d="M9 8h1M9 10h1M21 22h1M23 22h1"/><path stroke="#1a0100" d="M10 8h1M10 9h1M22 21h2"/><path stroke="#2a0100" d="M11 8h1M6 11h1M23 20h1M20 25h1"/><path stroke="#ef0100" d="M20 8h1M23 8h1M20 9h1M22 11h2M7 21h1M10 23h1M10 24h1"/><path stroke="#f10100" d="M21 8h2M23 9h1M21 10h1M23 10h1M8 21h1M7 22h1M7 23h1M8 24h2"/><path stroke="#500100" d="M4 9h1M4 12h1M5 13h1M18 26h1M19 27h1M22 27h1"/><path stroke="#3a0100" d="M5 9h1M22 26h1"/><path stroke="#0e0100" d="M8 9h1M8 10h1M21 23h2"/><path stroke="#0c0100" d="M9 9h1M22 22h1"/><path stroke="#2c0100" d="M11 9h1M22 20h1M19 24h1"/><path stroke="#420100" d="M12 9h1M22 19h1M24 19h1M20 20h1M18 24h1"/><path stroke="#a10100" d="M16 9h1M23 15h2M5 17h1M9 17h1M14 22h1M14 26h1"/><path stroke="#f30100" d="M21 9h1M22 10h1M9 22h1M8 23h1"/><path stroke="#f50100" d="M22 9h1M8 22h1M9 23h1"/><path stroke="#4a0100" d="M4 10h1M12 10h1M4 11h1M21 19h1M20 27h2"/><path stroke="#360100" d="M5 10h1M6 12h1M9 12h1M19 25h1M21 26h1"/><path stroke="#220100" d="M6 10h1M9 11h1M21 25h1"/><path stroke="#9d0100" d="M16 10h1M25 15h1M4 17h1M12 18h1M13 19h1"/><path stroke="#1c0100" d="M7 11h2M20 23h1M20 24h1"/><path stroke="#970100" d="M16 11h1M30 13h1M20 15h1"/><path stroke="#e50100" d="M20 11h1M9 20h1M11 22h1M6 24h1M7 25h1"/><path stroke="#e90100" d="M24 11h1M7 20h2M6 21h1M11 24h1M10 25h1"/><path stroke="#2e0100" d="M7 12h2M19 23h1"/><path stroke="#c90100" d="M19 12h1M10 19h1M12 21h1M5 25h1M6 26h1"/><path stroke="#460100" d="M6 13h1M18 25h1"/><path stroke="#8f0100" d="M30 14h1M19 15h1M2 17h1M12 17h1M14 19h1M14 29h1"/><path stroke="#810100" d="M2 16h2M10 16h4M15 19h1M15 20h1M15 21h1M15 27h1M15 28h1M15 29h1"/><path stroke="#830100" d="M4 16h6M15 22h1M15 23h1M15 24h1M15 25h1M15 26h1"/><path stroke="#950100" d="M3 17h1M13 18h1M14 28h1"/><path stroke="#8b0100" d="M13 17h1M14 18h1"/><path stroke="#d30100" d="M9 19h1M4 21h1M4 22h1M12 22h1M9 27h2"/><path stroke="#540100" d="M20 19h1M24 26h1"/><path stroke="#df0100" d="M5 23h1M8 26h1"/></g></g></g><g clip-path="url(#c24)"><g transform="translate(265,124)" filter="url(#fb)"><rect width="62" height="62" fill="#7c0100"/><g transform="translate(0,-1) scale(2)"></g></g></g><path d="M323.08 159.96A27.40 27.40 0 0 0 282.40 131.47" fill="none" stroke="#f4fc00" stroke-width="0.90" stroke-linecap="round"/><path d="M269.12 150.44A27.40 27.40 0 0 0 300.86 182.18" fill="none" stroke="#06f8ba" stroke-width="0.90" stroke-linecap="round"/><g clip-path="url(#c25)"><g transform="translate(325,124)" filter="url(#fb)"><rect width="62" height="62" fill="#800100"/><g transform="translate(0,-1) scale(2)"><path stroke="#8f0100" d="M1 1h1M2 2h1M27 5h1M26 6h1M14 10h1M12 11h2M10 18h1M16 23h1M29 31h1"/><path stroke="#9f0100" d="M2 1h1M29 4h1M12 10h1M24 15h1M2 17h1M4 17h2M9 19h1M9 20h1M7 23h1M6 24h1M16 27h1M16 28h1M16 29h1"/><path stroke="#b10100" d="M3 1h1M29 5h1M7 6h1M8 7h1M8 20h1M4 25h1"/><path stroke="#c10100" d="M4 1h1M13 2h1M12 8h1M29 14h1M4 18h1M7 21h1M19 24h1M17 27h1M17 28h1"/><path stroke="#d10100" d="M5 1h1M7 4h1M24 11h1M0 19h1M2 25h1M18 31h1"/><path stroke="#e10100" d="M6 1h1M27 9h1M25 11h1M27 13h1M2 24h1M19 26h1"/><path stroke="#eb0100" d="M7 1h1M11 2h1M8 3h1M30 8h1M26 12h1M29 12h1M2 20h1M4 20h1M21 27h1M19 29h1"/><path stroke="#f30100" d="M8 1h1M10 2h1M9 3h1M30 9h1M28 10h1M29 11h1M20 30h1M22 31h1"/><path stroke="#f50100" d="M9 1h1M9 2h1M10 3h1M10 4h1M29 10h2M27 11h2M2 21h2M0 22h3M0 23h1M20 28h1M20 29h2M21 30h1M21 31h1"/><path stroke="#f10100" d="M10 1h1M11 4h1M10 5h1M30 11h1M27 12h1M1 21h1M4 21h1M3 22h1M1 23h1M21 28h1M22 30h1"/><path stroke="#e70100" d="M11 1h1M26 10h1M30 12h1M1 20h1M3 23h1M19 30h1M23 30h1"/><path stroke="#d50100" d="M12 1h1M10 7h1M29 7h1M26 9h1M30 13h1M1 19h1M0 26h1M18 26h1M18 30h1"/><path stroke="#bd0100" d="M13 1h1M6 4h1M13 7h1M23 13h1M30 14h1M20 24h1M2 26h1M17 26h1"/><path stroke="#a10100" d="M14 1h1M3 2h1M28 5h1M14 7h1M22 11h1M30 15h1M3 17h1M17 23h1M28 31h1"/><path stroke="#830100" d="M15 1h1M15 2h1M15 3h1M15 4h1M15 5h1M15 6h1M15 7h1M14 12h1M19 13h1M25 16h4M11 17h1M17 20h1M9 22h1M5 26h1M4 27h1M3 28h1M2 29h1M1 30h1M0 31h1"/><path stroke="#640100" d="M16 1h1M25 5h1M16 7h1M6 8h1M7 9h1M21 9h1M9 14h1M24 17h1M30 17h1M21 19h1M21 20h1"/><path stroke="#480100" d="M17 1h1M1 5h1M23 6h1M17 7h1M24 18h1M29 27h1M5 29h1"/><path stroke="#2e0100" d="M18 1h1M24 3h1M6 13h1M10 25h1M7 28h1M5 31h1"/><path stroke="#1c0100" d="M19 1h1M3 13h1M25 20h1M25 21h1M30 25h1M10 26h1M8 28h1M12 28h1"/><path stroke="#0e0100" d="M20 1h1M1 9h1M3 10h1M3 12h1M30 21h1M27 22h1M29 23h1M8 30h1"/><path stroke="#0a0100" d="M21 1h2M20 3h2M0 9h1M2 10h1M1 11h2M28 21h1M28 22h1M30 23h1M9 30h2"/><path stroke="#100100" d="M23 1h1M22 3h1M19 4h1M2 12h1M4 12h1M27 20h1M26 21h1M10 27h1M9 28h1M11 29h1"/><path stroke="#1a0100" d="M24 1h1M19 6h1M3 9h1M5 11h1M30 20h1M27 23h1M11 26h1M7 30h1"/><path stroke="#280100" d="M25 1h1M23 4h1M18 6h1M19 7h2M6 11h1M29 19h1M9 26h1M8 27h1M6 30h1M12 31h1"/><path stroke="#380100" d="M26 1h1M24 22h1M13 29h1"/><path stroke="#4a0100" d="M27 1h1M21 8h1"/><path stroke="#5a0100" d="M28 1h1M17 9h1M22 21h1M13 23h1M5 28h1M14 30h1"/><path stroke="#6c0100" d="M29 1h1M2 4h1M16 9h1M9 11h1M8 24h1M6 26h1M27 27h1M28 28h1"/><path stroke="#7c0100" d="M30 1h1M29 2h1M28 3h1M27 4h1M20 11h1M16 12h1M11 15h2M0 16h8M19 17h1M14 19h1M14 20h1M15 23h1M15 24h1M15 25h1M15 26h1M15 30h1M15 31h1"/><path stroke="#6e0100" d="M0 2h1M1 3h1M18 11h1M10 13h1M10 14h1M22 17h1M21 21h1M9 23h1M5 27h1M29 29h1"/><path stroke="#b50100" d="M4 2h1M28 6h1M17 25h1M0 28h1"/><path stroke="#c70100" d="M5 2h1M13 5h1M9 7h1M26 14h1M28 14h1M21 25h1"/><path stroke="#d70100" d="M6 2h1M11 7h1M25 10h1M5 19h1M6 20h1M6 21h1M3 24h1"/><path stroke="#e50100" d="M7 2h1M10 6h2M29 8h1M5 21h1M22 28h1"/><path stroke="#ef0100" d="M8 2h1M9 4h1M29 9h1M27 10h1M26 11h1M28 12h1M3 20h1M0 21h1M20 27h1M19 28h1M20 31h1"/><path stroke="#d90100" d="M12 2h1M8 5h1M25 13h1M29 13h1M2 19h1M18 27h1M18 29h1M24 30h1"/><path stroke="#a30100" d="M14 2h1M22 14h1M29 15h1M8 18h1M0 29h1M27 30h1"/><path stroke="#620100" d="M16 2h1M24 6h1M9 12h1M7 15h1M29 17h1M12 22h1M14 24h1M2 31h1"/><path stroke="#440100" d="M17 2h1M2 6h1M23 19h1M10 24h1M13 25h1M28 26h1M6 28h1"/><path stroke="#2a0100" d="M18 2h1M0 13h1M25 19h1M27 24h1M11 25h1M30 26h1"/><path stroke="#180100" d="M19 2h1M22 4h1M20 6h1M1 8h1M0 12h1M5 12h1M29 24h1"/><path stroke="#0c0100" d="M20 2h1M22 2h1M21 4h1M20 5h1M0 11h1M4 11h1M29 21h1M11 28h1M9 29h1M8 31h1M10 31h1"/><path stroke="#080100" d="M21 2h1M20 4h1M0 10h2M3 11h1M27 21h1M29 22h2M10 28h1M10 29h1M9 31h1"/><path stroke="#160100" d="M23 2h1M29 20h1M9 27h1M11 31h1"/><path stroke="#220100" d="M24 2h1M18 4h1M5 10h1M7 29h1"/><path stroke="#340100" d="M25 2h1M21 7h1M5 9h1M13 28h1M6 29h1"/><path stroke="#460100" d="M26 2h1M22 7h1M30 18h1"/><path stroke="#580100" d="M27 2h1M2 5h1M8 14h1M2 15h1M4 15h2M14 26h1M28 27h1M14 29h1"/><path stroke="#6a0100" d="M28 2h1M3 5h1M20 10h1M21 18h1M22 22h1M14 23h1M7 25h1M26 26h1"/><path stroke="#8b0100" d="M30 2h1M11 11h1M9 17h1M16 22h1"/><path stroke="#5e0100" d="M0 3h1M16 4h1M9 13h1M0 15h1M26 17h3M22 18h1M14 25h1M30 29h1"/><path stroke="#910100" d="M3 3h1M25 7h1M10 10h1M22 10h1M8 17h1M10 19h1M20 22h1M28 30h1"/><path stroke="#a50100" d="M4 3h1M27 6h1M25 15h1M20 23h1"/><path stroke="#b90100" d="M5 3h1M23 11h1M24 14h1M1 27h1"/><path stroke="#cb0100" d="M6 3h1M24 13h1M6 22h1M1 26h1"/><path stroke="#dd0100" d="M7 3h1M3 19h1M5 22h1M4 23h1M18 28h1"/><path stroke="#ed0100" d="M11 3h1M11 5h1M4 22h1M2 23h1M0 24h1M22 29h1M23 31h1"/><path stroke="#df0100" d="M12 3h1M12 5h1M30 7h1M26 13h1M28 13h1M23 29h1"/><path stroke="#c50100" d="M13 3h1M13 6h1M11 8h1M25 9h1M7 20h1M0 27h1M23 27h1"/><path stroke="#a70100" d="M14 3h1M5 4h1M14 5h1M14 6h1M26 7h1M10 9h1M13 9h1M26 15h3M1 28h1M26 29h1"/><path stroke="#600100" d="M16 3h1M16 5h1M16 6h1M23 7h1M22 8h1M18 10h2M25 17h1M3 30h1"/><path stroke="#400100" d="M17 3h1M25 3h1M17 6h1M3 7h1M18 8h1M25 18h1M27 25h1M13 31h1"/><path stroke="#260100" d="M18 3h1M1 7h1M6 12h1M1 13h1M29 25h1M12 26h1"/><path stroke="#140100" d="M19 3h1M4 10h1M1 12h1M26 20h1M26 22h1M8 29h1M7 31h1"/><path stroke="#1e0100" d="M23 3h1M0 7h1M4 13h1M12 29h1"/><path stroke="#540100" d="M26 3h1M20 9h1M9 24h1"/><path stroke="#680100" d="M27 3h1M4 6h1M16 8h1M8 10h1M8 15h1M23 17h1M25 25h1"/><path stroke="#8d0100" d="M29 3h1M28 4h1M21 11h1M20 13h1M20 14h1M21 15h1M10 20h1M17 21h2"/><path stroke="#9d0100" d="M30 3h1M14 8h1M11 10h1M1 17h1M5 25h1M16 26h1M16 30h1"/><path stroke="#4c0100" d="M0 4h1M24 5h1M5 8h1M6 9h1M7 14h1M24 23h1M25 24h1M30 28h1M4 30h1"/><path stroke="#5c0100" d="M1 4h1M1 15h1M6 15h1M10 23h1M29 28h1M4 29h1M14 31h1"/><path stroke="#7e0100" d="M3 4h1M4 5h1M5 6h1M6 7h1M7 8h1M8 9h1M9 10h1M19 12h1M16 13h3M12 14h1M16 14h2M13 15h1M8 16h3M17 17h2M14 18h1M18 18h1M13 19h1M15 21h1M15 22h1"/><path stroke="#930100" d="M4 4h1M24 8h1M23 9h1M22 15h1M26 28h1M1 29h1M27 29h1M0 30h1"/><path stroke="#e30100" d="M8 4h1M12 4h1M25 12h1M0 20h1M5 20h1M0 25h1M20 26h1M19 31h1M24 31h1"/><path stroke="#c90100" d="M13 4h1M8 6h1M28 7h1M27 14h1M4 24h1M18 25h1M22 26h1M25 30h1"/><path stroke="#a90100" d="M14 4h1M23 10h1M2 27h1M25 28h1"/><path stroke="#3c0100" d="M17 4h1M24 4h1M0 5h1M27 18h1M9 25h1M30 27h1M13 30h1"/><path stroke="#500100" d="M25 4h1M17 8h1M18 9h1M23 22h1M3 31h1"/><path stroke="#660100" d="M26 4h1M5 7h1M17 10h1M11 22h1M13 22h1M23 23h1M24 24h1"/><path stroke="#ad0100" d="M30 4h1M24 9h1M22 13h1M19 23h1M3 26h1M24 27h1"/><path stroke="#950100" d="M5 5h1M9 9h1M14 9h1M9 21h1M17 22h1M21 23h1M16 24h1M25 27h1M2 28h1"/><path stroke="#ab0100" d="M6 5h1M25 8h1M22 12h1M8 21h1M18 23h1M17 24h1"/><path stroke="#c30100" d="M7 5h1M29 6h1M24 10h1M25 14h1M3 18h1M3 25h1M26 31h1"/><path stroke="#e90100" d="M9 5h1M28 9h1M1 24h1M19 27h1"/><path stroke="#3e0100" d="M17 5h1M20 8h1M7 11h1M7 13h1M1 14h1M26 18h1M28 18h1M23 20h1M11 24h1M7 27h1M4 31h1"/><path stroke="#240100" d="M18 5h1M4 9h1M5 13h1M26 19h1M28 19h1M25 22h1M26 23h1M12 30h1"/><path stroke="#120100" d="M19 5h1M21 5h1M0 8h1M2 9h1M28 20h1M28 23h1M30 24h1M11 27h1M11 30h1"/><path stroke="#200100" d="M22 5h1M21 6h1M2 8h1M2 13h1M27 19h1M28 24h1M12 27h1M6 31h1"/><path stroke="#360100" d="M23 5h1M1 6h1M6 10h1M3 14h2M24 19h1M25 23h1M29 26h1M13 27h1"/><path stroke="#7a0100" d="M26 5h1M25 6h1M24 7h1M23 8h1M22 9h1M21 10h1M19 18h1M19 19h1M12 20h2M15 27h1M15 28h1M15 29h1"/><path stroke="#bf0100" d="M30 5h1M10 8h1M26 8h1M23 12h1M2 18h1M5 18h1M7 19h1M24 28h1M17 29h1"/><path stroke="#2c0100" d="M0 6h1M3 8h1M30 19h1M24 20h1M24 21h1"/><path stroke="#560100" d="M3 6h1M8 11h1M3 15h1M27 26h1M6 27h1M14 27h1M14 28h1"/><path stroke="#970100" d="M6 6h1M21 14h1M7 17h1M9 18h1M3 27h1"/><path stroke="#db0100" d="M9 6h1M12 6h1M28 8h1M4 19h1M1 25h1M21 26h1M22 27h1"/><path stroke="#300100" d="M22 6h1M28 25h1"/><path stroke="#cf0100" d="M30 6h1M12 7h1M27 8h1"/><path stroke="#320100" d="M2 7h1M18 7h1M12 25h1"/><path stroke="#520100" d="M4 7h1M23 18h1M22 19h1M22 20h1M11 23h2M8 25h1M26 25h1M7 26h1"/><path stroke="#990100" d="M7 7h1M8 8h1M13 10h1M21 12h1M19 22h1M22 24h1M16 25h1M23 25h1M4 26h1M24 26h1"/><path stroke="#bb0100" d="M27 7h1M1 18h1M18 24h1M25 29h1M17 30h1"/><path stroke="#3a0100" d="M4 8h1M19 8h1M7 12h1M2 14h1M5 14h1M26 24h1M8 26h1M13 26h1M5 30h1"/><path stroke="#af0100" d="M9 8h1M11 9h2M23 14h1M7 18h1M8 19h1M21 24h1"/><path stroke="#b30100" d="M13 8h1M7 22h1M22 25h1M23 26h1M27 31h1"/><path stroke="#810100" d="M15 8h1M15 9h1M15 10h1M13 13h2M14 14h1M18 14h1M18 15h2M22 16h3M29 16h2M12 17h2M12 18h1M16 18h1M16 19h2M11 20h1M16 20h1M10 21h1"/><path stroke="#4e0100" d="M19 9h1M7 10h1M8 12h1M8 13h1M13 24h1"/><path stroke="#720100" d="M16 10h1M19 11h1M10 12h1M20 18h1M10 22h1M2 30h1M1 31h1"/><path stroke="#890100" d="M14 11h1M19 21h1"/><path stroke="#780100" d="M16 11h1M17 12h2M11 13h1M11 14h1M20 17h1"/><path stroke="#700100" d="M17 11h1M9 15h1M20 19h1M12 21h2M14 22h1M4 28h1M3 29h1M30 30h1"/><path stroke="#850100" d="M12 12h2M19 14h1M11 18h1M18 20h1M16 21h1M8 23h1M7 24h1M6 25h1"/><path stroke="#870100" d="M20 12h1M20 15h1M10 17h1M11 19h1"/><path stroke="#d30100" d="M24 12h1M19 25h2M23 28h1M25 31h1"/><path stroke="#9b0100" d="M21 13h1M23 15h1M0 17h1M6 17h1M8 22h1M18 22h1M16 31h1"/><path stroke="#420100" d="M0 14h1M6 14h1M29 18h1M23 21h1M12 24h1"/><path stroke="#760100" d="M10 15h1M20 20h1M11 21h1M14 21h1"/><path stroke="#740100" d="M21 17h1"/><path stroke="#b70100" d="M0 18h1M6 18h1M6 23h1M5 24h1M26 30h1M17 31h1"/><path stroke="#cd0100" d="M6 19h1M5 23h1M24 29h1"/></g></g></g><path d="M330.46 164.59A27.45 27.45 0 0 0 346.86 180.99" fill="none" stroke="#ff7f00" stroke-width="0.80" stroke-linecap="round"/><g clip-path="url(#c26)"><g transform="translate(385,124)" filter="url(#fb)"><rect width="64" height="62" fill="#ff0100"/><g transform="translate(0,-1) scale(2)"><path stroke="#fd0100" d="M4 1h1M4 2h1M27 2h1M4 3h1M4 4h1M0 5h5M26 5h6M12 13h7M12 14h1M18 14h1M18 15h1M18 16h1M18 17h1M12 18h1M18 18h1M12 19h7M4 27h1M26 27h2M4 28h1M4 29h1M4 30h1M27 30h1M4 31h1"/><path stroke="#f90100" d="M5 1h1M5 2h1M5 3h1M5 4h1M25 5h1M0 6h5M6 6h1M25 6h1M27 6h5M6 7h1M24 7h2M10 11h2M20 11h1M13 12h6M20 12h1M11 13h1M11 14h1M19 16h1M19 17h1M11 18h1M11 19h1M14 20h4M20 20h1M10 21h2M19 21h2M6 25h1M24 25h1M3 26h2M6 26h1M25 26h3M25 27h1M5 28h1M5 29h1M5 30h1M5 31h1"/><path stroke="#f50100" d="M6 1h1M6 2h1M6 3h1M6 4h1M24 5h1M7 6h1M3 7h1M23 7h1M27 7h2M6 8h1M8 8h1M25 8h1M7 9h1M9 9h1M8 10h1M11 10h1M20 10h1M9 11h1M13 11h2M17 11h1M21 12h1M10 13h1M10 14h1M20 16h1M10 19h1M21 20h1M9 21h1M14 21h4M11 22h1M21 23h1M23 23h1M6 24h1M22 24h1M4 25h1M23 25h1M27 25h1M7 26h1M24 27h1M6 29h1M6 30h1M6 31h1"/><path stroke="#e70100" d="M7 1h1M7 2h1M28 8h1M31 8h1M14 10h1M16 10h1M24 10h1M23 11h1M9 14h1M9 18h1M19 23h1M25 23h1M10 24h1M27 24h1M9 25h1M7 30h1M7 31h1"/><path stroke="#d30100" d="M8 1h1M8 2h1M14 9h1M5 10h1M7 12h1M8 14h1M8 30h1M8 31h1"/><path stroke="#a90100" d="M9 1h1M28 10h1M7 15h1M10 27h1M9 31h1"/><path stroke="#6e0100" d="M10 1h1M18 6h1M31 11h1M3 21h1M13 26h1"/><path stroke="#3a0100" d="M11 1h1M26 17h1"/><path stroke="#180100" d="M12 1h1M0 13h1M27 15h1M27 17h1M31 19h1M12 31h1"/><path stroke="#0a0100" d="M13 1h1M3 16h1"/><path stroke="#040100" d="M14 1h1M17 1h1M17 2h1M14 3h1M16 3h1M1 14h1M0 15h1M2 15h1M28 16h1M31 16h1M0 17h1M2 17h1M1 18h1M29 18h2M15 29h2M17 30h1M17 31h1"/><path stroke="#020100" d="M15 1h2M14 2h1M16 2h1M15 3h1M1 15h1M29 15h2M0 16h1M2 16h1M29 16h1M1 17h1M29 17h2M14 30h1M16 30h1M14 31h3"/><path stroke="#100100" d="M18 1h1M16 4h1M28 14h1M1 19h1M29 19h2"/><path stroke="#240100" d="M19 1h1M18 4h1M27 14h1"/><path stroke="#4e0100" d="M20 1h1M5 15h1M5 17h1"/><path stroke="#890100" d="M21 1h1M20 5h1M19 6h1M5 20h1M15 25h1"/><path stroke="#bf0100" d="M22 1h1M10 6h1M11 7h1M7 19h1M22 31h1"/><path stroke="#df0100" d="M23 1h1M23 3h1M20 8h1M22 14h1M22 18h1M7 21h1M26 23h1M23 31h1"/><path stroke="#ef0100" d="M24 1h1M24 2h1M24 3h1M23 6h1M9 8h1M26 8h1M12 10h1M21 14h1M21 18h1M18 22h1M23 22h1M20 23h1M24 30h1M24 31h1"/><path stroke="#f70100" d="M25 1h1M25 2h1M25 3h1M25 4h1M6 5h1M24 6h1M4 7h2M7 7h1M26 7h1M7 8h1M23 8h2M8 9h1M22 9h2M9 10h2M21 10h2M12 11h1M18 11h2M21 11h1M10 12h1M20 13h1M20 14h1M11 15h1M20 15h1M11 16h1M11 17h1M20 17h1M20 18h1M20 19h1M10 20h1M12 21h2M18 21h1M21 21h1M9 22h2M20 22h3M8 23h2M22 23h1M7 24h2M23 24h2M5 25h1M7 25h1M25 25h2M0 26h3M24 26h1M28 26h4M6 27h1M6 28h1M25 28h1M25 29h1M25 30h1M25 31h1"/><path stroke="#fb0100" d="M26 1h1M26 2h1M26 3h1M26 4h1M5 5h1M5 6h1M26 6h1M11 12h2M19 12h1M19 13h1M19 14h1M12 15h1M19 15h1M12 16h1M12 17h1M19 18h1M19 19h1M11 20h3M18 20h2M5 26h1M0 27h4M5 27h1M28 27h4M26 28h1M26 29h1M26 30h1M26 31h1"/><path stroke="#a70100" d="M9 2h1M12 7h1M31 10h1M26 11h1M7 17h1M9 30h1"/><path stroke="#6a0100" d="M10 2h1M20 4h1M5 19h1M19 27h1M10 30h1"/><path stroke="#340100" d="M11 2h1M17 5h1M0 12h1M2 12h1M31 20h1"/><path stroke="#160100" d="M12 2h1M17 4h1M2 13h1M3 14h1M27 16h1M14 28h1M12 30h1"/><path stroke="#060100" d="M13 2h1M17 3h1M29 14h2M28 15h1M31 15h1M28 17h1M31 17h1M0 18h1M2 18h1M14 29h1M13 30h1"/><path stroke="#000100" d="M15 2h1M1 16h1M30 16h1M15 30h1"/><path stroke="#0c0100" d="M18 2h1M13 3h1M3 17h1M28 18h1M31 18h1M18 30h1"/><path stroke="#200100" d="M19 2h1M27 18h1M13 28h1M19 30h1"/><path stroke="#4a0100" d="M20 2h1M5 16h1M20 30h1"/><path stroke="#850100" d="M21 2h1M14 7h1M6 18h1M12 26h1M21 30h1"/><path stroke="#bd0100" d="M22 2h1M23 15h1M23 17h1M25 21h1M17 24h1M9 28h1M22 30h1"/><path stroke="#dd0100" d="M23 2h1M21 7h1M4 9h1M18 9h1M23 12h1M6 22h1M13 23h1M11 24h1M9 26h1M23 30h1"/><path stroke="#e90100" d="M7 3h1M23 5h1M8 6h1M3 8h1M21 8h1M11 9h1M25 9h1M17 10h1M7 22h1M15 22h2M23 27h1M7 29h1"/><path stroke="#d50100" d="M8 3h1M10 7h1M3 9h1M17 9h1M24 21h1M15 23h1M27 23h1M19 24h1"/><path stroke="#ad0100" d="M9 3h1M20 6h1M15 8h2M24 19h1M5 21h1"/><path stroke="#720100" d="M10 3h1"/><path stroke="#3e0100" d="M11 3h1M28 12h1"/><path stroke="#1c0100" d="M12 3h1M13 4h1M31 13h1"/><path stroke="#120100" d="M18 3h1M14 4h1M1 13h1M15 28h1"/><path stroke="#280100" d="M19 3h1M15 5h1M3 13h1M29 20h1"/><path stroke="#540100" d="M20 3h1M11 4h1M16 6h1M1 21h1M30 21h1"/><path stroke="#8d0100" d="M21 3h1M10 28h1"/><path stroke="#c30100" d="M22 3h1M25 11h1M24 20h1M13 24h1M10 26h1M22 29h1"/><path stroke="#eb0100" d="M7 4h1M22 7h1M27 8h1M7 10h1M13 10h1M9 13h1M21 16h1M9 19h1M22 20h1M8 21h1M14 22h1M17 22h1M6 23h1M11 23h1M4 24h1M21 24h1M8 26h1"/><path stroke="#db0100" d="M8 4h1M25 10h1M8 13h1M22 15h1M22 17h1M8 19h1M23 20h1M8 28h1"/><path stroke="#bb0100" d="M9 4h1M13 8h1M23 16h1M21 27h1"/><path stroke="#870100" d="M10 4h1M27 11h1M25 13h1M6 14h1M21 31h1"/><path stroke="#300100" d="M12 4h1M4 18h1M15 27h1"/><path stroke="#0e0100" d="M15 4h1M31 14h1M3 15h1M13 29h1M18 31h1"/><path stroke="#400100" d="M19 4h1M3 20h1"/><path stroke="#9f0100" d="M21 4h1M25 20h1M26 21h1"/><path stroke="#cb0100" d="M22 4h1M9 5h1M26 10h1M8 16h1M8 17h1M28 23h1M31 23h1"/><path stroke="#e30100" d="M23 4h1M9 16h1M9 17h1M8 20h1M5 23h1M12 23h1M0 24h1M2 24h1M28 24h1M31 24h1M22 26h1M8 27h1"/><path stroke="#f10100" d="M24 4h1M7 5h1M8 7h1M10 9h1M19 10h1M23 10h1M9 12h1M10 16h1M9 20h1M22 21h1M12 22h1M24 23h1M5 24h1M9 24h1M0 25h3M29 25h2M23 26h1M7 27h1M24 29h1"/><path stroke="#e10100" d="M8 5h1M22 6h1M12 9h1M26 9h1M6 10h1M7 11h1M18 23h1M1 24h1M20 24h1M29 24h2M21 25h1M23 29h1"/><path stroke="#a30100" d="M10 5h1M18 25h1M11 26h1M21 28h1"/><path stroke="#760100" d="M11 5h1M26 20h1M10 29h1"/><path stroke="#520100" d="M12 5h1M15 6h1M27 20h1"/><path stroke="#3c0100" d="M13 5h1M31 12h1M26 15h1M17 27h1"/><path stroke="#2e0100" d="M14 5h1M29 12h2"/><path stroke="#2a0100" d="M16 5h1M18 28h1"/><path stroke="#440100" d="M18 5h1M26 18h1M13 27h1"/><path stroke="#600100" d="M19 5h1M29 11h2M4 20h1M14 26h1"/><path stroke="#b70100" d="M21 5h1"/><path stroke="#d70100" d="M22 5h1M25 22h1M14 23h1M16 23h1M8 29h1"/><path stroke="#d90100" d="M9 6h1M11 8h1M13 9h1M27 9h1M24 11h1M22 16h1M4 23h1M17 23h1M10 25h1M22 27h1"/><path stroke="#9d0100" d="M11 6h1M29 10h2M24 18h1M28 22h1"/><path stroke="#7c0100" d="M12 6h1M6 15h1M6 17h1"/><path stroke="#660100" d="M13 6h1M0 11h1M2 11h1M25 17h1M17 26h1"/><path stroke="#580100" d="M14 6h1M27 12h1M5 18h1M26 19h1"/><path stroke="#5c0100" d="M17 6h1M26 13h1M15 26h2"/><path stroke="#cd0100" d="M21 6h1M1 9h1M29 9h2M8 15h1M5 22h1M9 27h1M22 28h1"/><path stroke="#f30100" d="M0 7h3M29 7h3M5 8h1M22 8h1M21 9h1M24 9h1M15 11h2M22 11h1M21 13h1M10 15h1M10 17h1M10 18h1M21 19h1M8 22h1M19 22h1M7 23h1M10 23h1M25 24h1M3 25h1M8 25h1M28 25h1M31 25h1M24 28h1"/><path stroke="#e50100" d="M9 7h1M0 8h3M10 8h1M29 8h2M5 9h1M19 9h1M15 10h1M8 12h1M22 13h1M9 15h1M22 19h1M23 21h1M24 22h1M3 24h1M23 28h1"/><path stroke="#930100" d="M13 7h1M24 17h1M17 25h1M19 26h1"/><path stroke="#800100" d="M15 7h1"/><path stroke="#810100" d="M16 7h1"/><path stroke="#8b0100" d="M17 7h1M4 21h1M16 25h1"/><path stroke="#9b0100" d="M18 7h1M1 10h1M6 13h1M31 22h1M13 25h1"/><path stroke="#b10100" d="M19 7h1M14 8h1M24 13h1M7 18h1M27 22h1"/><path stroke="#c90100" d="M20 7h1M12 8h1M6 21h1M0 23h1M2 23h1"/><path stroke="#ed0100" d="M4 8h1M6 9h1M20 9h1M18 10h1M8 11h1M22 12h1M21 15h1M21 17h1M13 22h1M26 24h1M22 25h1M7 28h1"/><path stroke="#b50100" d="M17 8h1M5 11h1M6 12h1M15 24h2"/><path stroke="#c10100" d="M18 8h1M4 10h1M7 13h1"/><path stroke="#d10100" d="M19 8h1M16 9h1M28 9h1M31 9h1M23 13h1M8 18h1M21 26h1"/><path stroke="#cf0100" d="M0 9h1M2 9h1M15 9h1M6 11h1M23 19h1M7 20h1M3 23h1M12 24h1M20 25h1"/><path stroke="#a10100" d="M0 10h1M2 10h1M24 14h1"/><path stroke="#af0100" d="M3 10h1M6 20h1M12 25h1M9 29h1"/><path stroke="#b90100" d="M27 10h1M4 22h1M14 24h1M19 25h1"/><path stroke="#5e0100" d="M1 11h1"/><path stroke="#7a0100" d="M3 11h1"/><path stroke="#950100" d="M4 11h1M24 15h1M0 22h1M2 22h1"/><path stroke="#700100" d="M28 11h1M5 13h1M25 18h1M20 28h1"/><path stroke="#2c0100" d="M1 12h1M0 20h1M2 20h1M19 29h1"/><path stroke="#480100" d="M3 12h1M4 13h1M26 14h1"/><path stroke="#680100" d="M4 12h1M25 15h1"/><path stroke="#8f0100" d="M5 12h1M1 22h1M14 25h1"/><path stroke="#c70100" d="M24 12h1M23 14h1M29 23h1M18 24h1"/><path stroke="#a50100" d="M25 12h1M7 16h1M3 22h1"/><path stroke="#7e0100" d="M26 12h1M27 21h1M11 27h1"/><path stroke="#380100" d="M27 13h1M26 16h1M12 28h1M11 31h1"/><path stroke="#1e0100" d="M28 13h1M12 29h1"/><path stroke="#140100" d="M29 13h2M3 18h1M0 19h1M2 19h1M16 28h1M18 29h1"/><path stroke="#080100" d="M0 14h1M2 14h1M17 29h1M13 31h1"/><path stroke="#320100" d="M4 14h1M27 19h1M16 27h1"/><path stroke="#5a0100" d="M5 14h1M0 21h1M2 21h1M12 27h1M11 28h1"/><path stroke="#b30100" d="M7 14h1M20 26h1"/><path stroke="#740100" d="M25 14h1"/><path stroke="#260100" d="M4 15h1M4 17h1M1 20h1M30 20h1"/><path stroke="#220100" d="M4 16h1M3 19h1M19 31h1"/><path stroke="#780100" d="M6 16h1M18 26h1"/><path stroke="#910100" d="M24 16h1M29 22h2M20 27h1M21 29h1"/><path stroke="#620100" d="M25 16h1M31 21h1"/><path stroke="#c50100" d="M23 18h1M26 22h1M1 23h1M30 23h1M11 25h1"/><path stroke="#420100" d="M4 19h1M11 29h1"/><path stroke="#970100" d="M6 19h1"/><path stroke="#830100" d="M25 19h1"/><path stroke="#1a0100" d="M28 19h1M17 28h1"/><path stroke="#360100" d="M28 20h1M14 27h1M11 30h1"/><path stroke="#640100" d="M28 21h1"/><path stroke="#560100" d="M29 21h1M20 29h1"/><path stroke="#4c0100" d="M18 27h1M20 31h1"/><path stroke="#460100" d="M19 28h1"/><path stroke="#6c0100" d="M10 31h1"/></g></g></g><g clip-path="url(#c27)"><g transform="translate(446,124)" filter="url(#fb)"><rect width="62" height="62" fill="#800100"/><g transform="translate(0,-1) scale(2)"><path stroke="#830100" d="M1 1h1M29 1h1M2 2h1M28 2h1M3 3h1M23 8h1M22 9h1M20 11h1M19 12h1M15 17h1M4 28h1M26 28h1M3 29h1M27 29h1M2 30h1M28 30h1M29 31h1"/><path stroke="#870100" d="M2 1h1M28 1h1M3 2h1M25 5h1M6 6h1M16 18h1M6 26h1M24 26h1M3 30h1M27 30h1M28 31h1"/><path stroke="#8b0100" d="M3 1h1M27 1h1M5 4h1M25 4h1M13 13h1M15 14h1M17 19h1M7 25h1M6 27h1M25 28h1M3 31h1M27 31h1"/><path stroke="#910100" d="M4 1h1M26 1h1M6 4h1M23 7h1M14 19h1M8 24h1M6 28h1M24 28h1M26 31h1"/><path stroke="#950100" d="M5 1h1M6 3h1M7 6h1M8 8h1M14 13h1M16 13h1M15 19h1M19 21h1M10 22h1M9 23h1M7 26h1M6 29h1M24 29h1M5 31h1M25 31h1"/><path stroke="#9b0100" d="M6 1h1M24 1h1M9 9h1M10 10h1M6 31h1M24 31h1"/><path stroke="#a10100" d="M7 1h1M23 1h1M8 4h1M15 20h1M8 25h1M7 31h1M23 31h1"/><path stroke="#a70100" d="M8 1h1M22 1h1M22 2h1M8 5h1M18 21h1M8 26h1M8 27h1M8 31h1M22 31h1"/><path stroke="#ad0100" d="M9 1h1M21 1h1M21 2h1M9 8h1M11 22h1M21 24h1M21 30h1M9 31h1M21 31h1"/><path stroke="#b10100" d="M10 1h1M20 1h1M10 2h1M20 2h1M10 3h1M13 21h1M17 21h1M20 23h1M9 28h1M10 30h1M20 30h1M10 31h1M20 31h1"/><path stroke="#b50100" d="M11 1h1M19 1h1M20 9h1M19 10h1M13 11h1M20 29h1M11 31h1"/><path stroke="#b90100" d="M12 1h1M18 1h1M9 5h1M9 7h1M15 21h1M21 25h1M12 31h1M18 31h1"/><path stroke="#bb0100" d="M13 1h1M17 1h1M12 2h1M18 2h1M11 3h1M19 3h1M21 5h1M21 7h1M14 11h1M9 27h1M12 30h1M18 30h1"/><path stroke="#bd0100" d="M14 1h3M13 2h1M17 2h1M9 6h1M15 11h2M12 22h1M9 26h1M21 27h1M11 29h1M13 31h2M16 31h2"/><path stroke="#970100" d="M25 1h1M24 3h1M7 5h1M23 5h1M23 6h1M22 8h1M11 11h1M15 13h1M21 23h1M23 26h1M7 27h1"/><path stroke="#7e0100" d="M0 2h1M30 2h1M1 3h1M29 3h1M2 4h1M28 4h1M3 5h1M27 5h1M26 6h1M14 16h1M16 16h1M27 27h1M2 28h1M28 28h1M1 29h1M29 29h1M0 30h1M30 30h1"/><path stroke="#8d0100" d="M4 2h1M26 2h1M6 5h1M24 5h1M17 13h1M12 20h1M23 25h1M24 27h1M4 30h1M26 30h1"/><path stroke="#930100" d="M5 2h1M25 2h1M24 4h1M12 12h1M18 12h1M16 19h1M11 21h1M22 24h1M5 30h1M25 30h1"/><path stroke="#990100" d="M6 2h1M24 2h1M7 4h1M23 4h1M19 11h1M13 20h1M17 20h1M20 22h1M23 27h1M7 28h1M23 28h1M6 30h1M24 30h1"/><path stroke="#9f0100" d="M7 2h1M23 2h1M17 12h1M14 20h1M16 20h1M7 30h1M23 30h1"/><path stroke="#a50100" d="M8 2h1M22 3h1M22 7h1M15 12h1M12 21h1M8 30h1M22 30h1"/><path stroke="#ab0100" d="M9 2h1M9 3h1M21 3h1M22 6h1M18 11h1M9 29h1M21 29h1M9 30h1"/><path stroke="#b70100" d="M11 2h1M19 2h1M17 11h1M14 21h1M16 21h1M9 25h1M11 30h1M19 30h1M19 31h1"/><path stroke="#bf0100" d="M14 2h3M10 4h1M20 4h1M21 6h1M18 22h1M21 26h1M19 29h1M13 30h1M17 30h1M15 31h1"/><path stroke="#890100" d="M27 2h1M4 3h1M26 3h1M24 6h1M14 14h1M16 14h1M15 18h1M13 19h1M5 28h1M4 29h1M26 29h1"/><path stroke="#7c0100" d="M0 3h1M30 3h1M1 4h1M29 4h1M2 5h1M28 5h1M4 6h1M5 7h1M25 7h1M18 14h1M13 15h1M17 15h1M13 17h1M17 17h1M5 25h1M25 25h1M4 26h1M26 26h1M3 27h1M1 28h1M29 28h1M0 29h1M30 29h1"/><path stroke="#8f0100" d="M5 3h1M25 3h1M7 7h1M18 20h1M5 29h1M25 29h1M4 31h1"/><path stroke="#9d0100" d="M7 3h1M23 3h1M21 9h1M20 10h1M13 12h1M7 29h1M23 29h1"/><path stroke="#a30100" d="M8 3h1M22 4h1M8 7h1M14 12h1M16 12h1M22 25h1M8 28h1M22 28h1M8 29h1M22 29h1"/><path stroke="#c50100" d="M12 3h1M18 3h1M10 8h1M11 23h1M20 24h1"/><path stroke="#cd0100" d="M13 3h1M17 3h1M11 4h1M19 4h1M10 7h1M13 10h1M17 10h1M14 22h1M20 25h1M20 27h1"/><path stroke="#d10100" d="M14 3h1M16 3h1M20 6h1M20 26h1M19 28h1M13 29h1M17 29h1"/><path stroke="#d30100" d="M15 3h1M14 10h3M12 23h1"/><path stroke="#b30100" d="M20 3h1M10 9h1M11 10h1M21 28h1M10 29h1"/><path stroke="#850100" d="M27 3h1M4 4h1M26 4h1M5 5h1M21 10h1M15 15h1M14 18h1M5 27h1M25 27h1M2 31h1"/><path stroke="#7a0100" d="M0 4h1M30 4h1M1 5h1M29 5h1M3 6h1M27 6h1M4 7h1M26 7h1M6 8h1M24 8h1M12 14h1M13 16h1M17 16h1M12 18h1M18 18h1M4 25h1M26 25h1M3 26h1M27 26h1M1 27h2M28 27h2M0 28h1M30 28h1"/><path stroke="#af0100" d="M9 4h1M21 4h1M21 8h1M19 22h1M10 23h1"/><path stroke="#d70100" d="M12 4h1M11 8h1M12 9h1M15 29h2"/><path stroke="#df0100" d="M13 4h1M17 4h1M11 6h1M19 6h1M19 7h1M11 26h1M19 26h1"/><path stroke="#e30100" d="M14 4h1M16 4h1M12 5h1M12 8h1M18 8h1M15 23h1M17 28h1"/><path stroke="#e50100" d="M15 4h1M18 5h1M14 9h3M12 27h1M18 27h1"/><path stroke="#d90100" d="M18 4h1M11 5h1M19 5h1M19 8h1M18 9h1"/><path stroke="#780100" d="M0 5h1M30 5h1M2 6h1M28 6h2M3 7h1M27 7h1M23 9h1M11 13h1M19 13h1M19 19h1M6 24h1M24 24h1M27 25h1M2 26h1M28 26h1M0 27h1M30 27h1"/><path stroke="#cb0100" d="M10 5h1M20 5h1M10 25h1M10 27h1"/><path stroke="#eb0100" d="M13 5h1M17 5h1M13 8h1M17 8h1M13 27h1"/><path stroke="#ef0100" d="M14 5h3M13 6h1M17 6h1M13 7h1M14 8h3M15 24h1M13 25h1M17 25h1M13 26h1M17 26h1M14 27h1M16 27h1"/><path stroke="#a90100" d="M22 5h1M8 6h1M12 11h1M9 24h1M22 26h1M22 27h1"/><path stroke="#760100" d="M0 6h2M30 6h1M2 7h1M28 7h1M4 8h2M25 8h2M7 9h1M22 10h1M21 11h1M10 12h1M20 12h1M12 15h1M18 15h1M18 16h1M12 17h1M18 17h1M11 19h1M23 23h1M3 25h1M28 25h1M0 26h2M29 26h2"/><path stroke="#cf0100" d="M10 6h1M20 7h1M15 22h2M10 26h1M11 28h1"/><path stroke="#e70100" d="M12 6h1M14 28h3"/><path stroke="#f10100" d="M14 6h1M17 7h1M15 27h1"/><path stroke="#f30100" d="M15 6h2M14 7h1M16 7h1M14 25h3M14 26h3"/><path stroke="#e90100" d="M18 6h1M12 7h1M18 7h1M13 24h1M17 24h1M12 25h1M18 25h1M12 26h1M18 26h1"/><path stroke="#720100" d="M0 7h1M30 7h1M2 8h1M28 8h1M11 14h1M11 18h1M19 18h1M9 21h1M21 21h1M8 22h1M22 22h1M2 24h1M28 24h1M0 25h1M30 25h1"/><path stroke="#740100" d="M1 7h1M29 7h1M3 8h1M27 8h1M8 10h1M9 11h1M19 14h1M12 16h1M10 20h1M20 20h1M7 23h1M3 24h3M25 24h3M1 25h2M29 25h1"/><path stroke="#dd0100" d="M11 7h1M13 23h1M17 23h1M11 25h1M19 25h1"/><path stroke="#f50100" d="M15 7h1"/><path stroke="#810100" d="M24 7h1M7 8h1M8 9h1M9 10h1M10 11h1M11 12h1M12 13h1M18 13h1M17 14h1M16 15h1M1 31h1"/><path stroke="#700100" d="M0 8h2M29 8h2M3 9h1M6 9h1M24 9h1M27 9h1M19 15h1M19 17h1M0 24h2M29 24h2"/><path stroke="#c70100" d="M20 8h1M11 9h1M19 23h1"/><path stroke="#6c0100" d="M0 9h1M4 9h2M25 9h2M30 9h1M10 13h1M20 19h1M0 23h2M6 23h1M29 23h2"/><path stroke="#6e0100" d="M1 9h2M28 9h2M20 13h1M11 15h1M11 16h1M19 16h1M11 17h1M2 23h2M24 23h1M27 23h2"/><path stroke="#e10100" d="M13 9h1M17 9h1M14 23h1M16 23h1M12 24h1M18 24h1M13 28h1"/><path stroke="#c90100" d="M19 9h1M13 22h1M17 22h1M12 29h1M18 29h1"/><path stroke="#6a0100" d="M0 10h3M7 10h1M23 10h1M28 10h3M10 19h1M1 22h2M28 22h2M4 23h2M25 23h2"/><path stroke="#680100" d="M3 10h1M27 10h1M22 11h1M21 12h1M0 22h1M23 22h1M30 22h1"/><path stroke="#620100" d="M4 10h1M6 10h1M24 10h1M1 12h1M29 12h1M20 15h1M0 20h2M29 20h2M8 21h1"/><path stroke="#5e0100" d="M5 10h1M25 10h1M28 12h1M0 14h2M29 14h2M0 15h1M30 15h1M0 16h1M10 16h1M30 16h1M0 17h1M30 17h1M0 18h2M29 18h2M2 20h1M4 22h1M6 22h1M26 22h1"/><path stroke="#c30100" d="M12 10h1M18 10h1M10 24h1M20 28h1M15 30h1"/><path stroke="#600100" d="M26 10h1M2 12h1M0 13h2M29 13h2M10 15h1M20 16h1M10 17h1M20 17h1M0 19h2M29 19h2M24 22h1"/><path stroke="#660100" d="M0 11h3M8 11h1M28 11h3M9 12h1M20 14h1M21 20h1M0 21h2M29 21h2M3 22h1M7 22h1M27 22h1"/><path stroke="#5c0100" d="M3 11h1M27 11h1M21 13h1M1 15h1M29 15h1M1 16h1M1 17h1M28 20h1M5 22h1M25 22h1"/><path stroke="#540100" d="M4 11h1M21 14h1M28 19h1M8 20h1M22 20h1"/><path stroke="#4e0100" d="M5 11h1M25 11h1M27 12h1M28 14h1M21 15h1M21 17h1M2 18h1M3 20h1M6 21h1M24 21h1"/><path stroke="#520100" d="M6 11h1M24 11h1M26 11h1M9 14h1M21 18h1"/><path stroke="#5a0100" d="M7 11h1M23 11h1M9 13h1M29 16h1M29 17h1M21 19h1M3 21h1M27 21h1"/><path stroke="#640100" d="M0 12h1M30 12h1M10 14h1M10 18h1M20 18h1M9 20h1M2 21h1M22 21h1M28 21h1"/><path stroke="#500100" d="M3 12h1M2 14h1M9 18h1M4 21h1M26 21h1"/><path stroke="#440100" d="M4 12h1M3 13h1M8 19h1M7 20h1M23 20h1"/><path stroke="#3c0100" d="M5 12h1M25 12h1M22 14h1M22 18h1M6 20h1M24 20h1"/><path stroke="#3e0100" d="M6 12h1"/><path stroke="#460100" d="M7 12h1M8 13h1M28 16h1M22 19h1"/><path stroke="#560100" d="M8 12h1M28 13h1M2 19h1M7 21h1M23 21h1"/><path stroke="#580100" d="M22 12h1M2 13h1M9 19h1"/><path stroke="#480100" d="M23 12h1M22 13h1M28 15h1M2 16h1M28 17h1"/><path stroke="#400100" d="M24 12h1M27 19h1M4 20h1M26 20h1"/><path stroke="#420100" d="M26 12h1M27 13h1M3 19h1"/><path stroke="#340100" d="M4 13h1M8 15h1M22 16h1M7 19h1"/><path stroke="#2c0100" d="M5 13h2M24 13h2"/><path stroke="#360100" d="M7 13h1M22 15h1M22 17h1M27 18h1M23 19h1"/><path stroke="#380100" d="M23 13h1M27 14h1M3 18h1M8 18h1"/><path stroke="#320100" d="M26 13h1M3 15h1M3 17h1M8 17h1M4 19h1"/><path stroke="#3a0100" d="M3 14h1M8 14h1M5 20h1M25 20h1"/><path stroke="#260100" d="M4 14h1M26 14h1M7 18h1"/><path stroke="#1e0100" d="M5 14h1M25 14h1M4 15h1M7 15h1M7 17h1M23 17h1"/><path stroke="#1c0100" d="M6 14h1M24 14h1M26 15h1M23 16h1M4 17h1M26 17h1M5 18h1M25 18h1"/><path stroke="#280100" d="M7 14h1M23 18h1M6 19h1M24 19h1"/><path stroke="#2a0100" d="M23 14h1M5 19h1M25 19h1"/><path stroke="#4a0100" d="M2 15h1M9 16h1M2 17h1M25 21h1"/><path stroke="#140100" d="M5 15h1M25 15h1"/><path stroke="#100100" d="M6 15h1M5 16h1M6 17h1M24 17h1"/><path stroke="#4c0100" d="M9 15h1M21 16h1M9 17h1M28 18h1M27 20h1M5 21h1"/><path stroke="#200100" d="M23 15h1"/><path stroke="#120100" d="M24 15h1M5 17h1M25 17h1"/><path stroke="#300100" d="M27 15h1M3 16h1M8 16h1M27 17h1M26 19h1"/><path stroke="#1a0100" d="M4 16h1M7 16h1M6 18h1M24 18h1"/><path stroke="#0c0100" d="M6 16h1"/><path stroke="#0e0100" d="M24 16h2"/><path stroke="#180100" d="M26 16h1"/><path stroke="#2e0100" d="M27 16h1"/><path stroke="#240100" d="M4 18h1M26 18h1"/><path stroke="#d50100" d="M18 23h1M11 24h1M19 24h1M14 29h1"/><path stroke="#ed0100" d="M14 24h1M16 24h1M17 27h1"/><path stroke="#db0100" d="M11 27h1M19 27h1M12 28h1M18 28h1"/><path stroke="#c10100" d="M10 28h1M14 30h1M16 30h1"/></g></g></g><g clip-path="url(#c28)"><g transform="translate(265,184)" filter="url(#fb)"><rect width="62" height="64" fill="#7c0100"/><g transform="translate(0,-1) scale(2)"></g></g></g><path d="M317.09 197.99A27.40 27.40 0 0 0 269.63 208.51" fill="none" stroke="#00eeff" stroke-width="0.90" stroke-linecap="round"/><path d="M305.47 189.85A27.40 27.40 0 0 0 278.49 194.61" fill="none" stroke="#00b2ff" stroke-width="0.90" stroke-linecap="round"/><path d="M269.63 222.69A27.40 27.40 0 0 0 322.57 222.69" fill="none" stroke="#ffc700" stroke-width="0.90" stroke-linecap="round"/><path d="M273.66 231.32A27.40 27.40 0 0 0 309.80 239.33" fill="none" stroke="#ff9e00" stroke-width="0.90" stroke-linecap="round"/><g clip-path="url(#c29)"><g transform="translate(325,184)" filter="url(#fb)"><rect width="62" height="64" fill="#640100"/><g transform="translate(0,-1) scale(2)"><path stroke="#b10100" d="M0 1h2M7 1h1M0 2h1M8 2h1M9 3h1M0 8h1M21 18h1M19 19h1M18 20h1M28 22h1M29 23h1M30 24h1M23 31h1M30 31h1M24 32h2M28 32h3"/><path stroke="#b30100" d="M2 1h5M1 2h1M7 2h1M0 3h1M0 4h1M12 4h1M0 5h1M13 5h1M0 6h1M0 7h1M1 9h1M2 10h1M27 19h1M30 25h1M30 26h1M17 27h1M20 29h2M30 29h1M22 30h1M30 30h1M24 31h1M29 31h1M26 32h2"/><path stroke="#ad0100" d="M8 1h1M9 2h1M10 3h1M2 11h1M11 14h1M6 15h1M8 15h1M26 18h1M29 22h1M30 23h1"/><path stroke="#a90100" d="M9 1h1M10 2h1M14 8h1M14 9h1M20 18h1M30 22h1M17 28h1M18 29h1M20 30h1"/><path stroke="#a50100" d="M10 1h1M13 4h1M1 12h1M2 13h1M28 19h1M30 21h1M20 31h1"/><path stroke="#9f0100" d="M11 1h1M13 13h1M17 20h1M16 25h1M19 31h1"/><path stroke="#990100" d="M12 1h1M13 3h1M13 14h1M3 15h1M11 15h1M23 17h2M28 18h1M17 19h1M29 19h1M16 22h1M16 27h1M18 31h1"/><path stroke="#910100" d="M13 1h1M14 13h1M2 15h1M20 17h1M17 18h1M29 18h1"/><path stroke="#890100" d="M14 1h1M14 2h1M14 15h1M5 16h2M8 16h2M18 17h1M28 17h1M16 30h1"/><path stroke="#800100" d="M15 1h1M15 16h1M15 17h1M15 18h1M15 19h1M15 20h1M15 21h1M15 22h1M15 27h1M15 28h1M15 29h1M15 30h1M15 31h1M15 32h1"/><path stroke="#7c0100" d="M16 1h1M16 2h1M16 15h1M20 16h2M25 16h3M0 17h3M13 17h2M14 31h1M14 32h1"/><path stroke="#780100" d="M17 1h1M17 2h1M16 4h1M16 12h1M18 15h1M10 17h1M1 18h1M14 19h1M14 29h1M13 31h1M13 32h1"/><path stroke="#740100" d="M18 1h1M18 2h1M16 11h1M19 15h1M6 17h3M12 18h1M1 19h1M14 21h1M14 28h1M12 31h1M12 32h1"/><path stroke="#720100" d="M19 1h1M16 6h1M16 10h1M17 13h1M29 13h2M18 14h1M27 15h1M13 19h1M0 20h1M12 30h1M11 32h1"/><path stroke="#6e0100" d="M20 1h1M29 12h1M26 15h1M12 19h1M13 20h1M0 21h1M14 26h1M11 30h1M10 32h1"/><path stroke="#6c0100" d="M21 1h1M20 2h1M19 3h1M30 11h1M17 12h1M21 15h1M2 20h1M1 21h1M0 22h1M14 23h1M14 25h1M10 31h1M9 32h1"/><path stroke="#680100" d="M22 1h2M18 4h1M17 5h1M30 9h1M29 10h1M28 12h1M27 14h1M23 15h2M2 22h1M0 23h1M0 24h1M13 28h1M9 30h1M8 31h1M7 32h1"/><path stroke="#660100" d="M24 1h2M28 1h3M22 2h2M30 2h1M21 3h1M30 8h1M17 11h1M28 11h1M3 19h1M13 21h1M1 23h1M0 25h1M10 29h2M0 30h1M0 31h2M7 31h1M0 32h7"/><path stroke="#b50100" d="M2 2h2M5 2h2M1 3h1M8 3h1M1 4h1M1 7h1M1 8h1M2 9h1M25 18h1M17 22h1M28 23h1M29 24h1M29 25h1M30 27h1M30 28h1M22 29h1M29 29h1M23 30h1M29 30h1M25 31h4"/><path stroke="#b70100" d="M4 2h1M2 3h2M7 3h1M2 4h1M1 5h1M1 6h1M2 8h1M13 11h1M3 13h1M4 14h1M28 24h1M29 26h1M29 27h1M29 28h1M28 29h1M24 30h5"/><path stroke="#a30100" d="M11 2h1M14 10h1M27 18h1M18 19h1M19 30h1M20 32h1"/><path stroke="#9b0100" d="M12 2h1M0 13h1M18 30h1"/><path stroke="#930100" d="M13 2h1M0 14h1M12 15h1M26 17h1M16 21h1M16 28h1M17 30h1"/><path stroke="#810100" d="M15 2h1M15 3h1M15 4h1M15 12h1M15 13h1M15 14h1M15 15h1M0 16h2M14 16h1"/><path stroke="#700100" d="M19 2h1M18 3h1M17 4h1M16 7h1M16 8h1M16 9h1M30 12h1M28 14h1M20 15h1M3 18h1M11 18h1M2 19h1M1 20h1M14 22h1M14 27h1M13 29h1M11 31h1"/><path stroke="#6a0100" d="M21 2h1M20 3h1M30 10h1M29 11h1M18 13h1M28 13h1M19 14h1M22 15h1M25 15h1M4 18h1M10 18h1M2 21h1M1 22h1M14 24h1M12 29h1M10 30h1M9 31h1M8 32h1"/><path stroke="#620100" d="M26 2h1M23 3h6M19 4h1M22 4h1M28 4h2M29 5h1M17 6h1M29 6h1M29 7h1M28 8h1M28 9h1M20 14h1M12 20h1M2 24h1M2 25h1M1 26h1M1 27h1M13 27h1M1 28h2M2 29h2M8 29h1M3 30h4"/><path stroke="#b90100" d="M4 3h3M3 4h1M8 4h2M11 4h1M2 5h1M2 6h1M2 7h1M3 9h1M10 14h1M22 18h1M28 25h1M28 26h1M28 27h1M18 28h1M28 28h1M23 29h2M26 29h2"/><path stroke="#a70100" d="M11 3h1M14 7h1M0 11h1M5 15h1M9 15h1M29 21h1M21 32h1"/><path stroke="#a10100" d="M12 3h1M14 6h1M0 12h1M12 14h1M4 15h1M10 15h1M29 20h1M16 24h1"/><path stroke="#8d0100" d="M14 3h1M14 14h1M30 18h1M16 20h1M16 29h1"/><path stroke="#7a0100" d="M16 3h1M16 13h1M16 14h1M17 15h1M29 15h2M22 16h3M3 17h1M11 17h2M0 18h1M14 18h1M14 30h1"/><path stroke="#760100" d="M17 3h1M16 5h1M17 14h1M29 14h2M28 15h1M4 17h2M9 17h1M2 18h1M13 18h1M0 19h1M14 20h1M13 30h1"/><path stroke="#bb0100" d="M4 4h4M10 4h1M3 5h1M3 6h1M13 6h1M3 7h1M3 8h1M3 10h1M23 18h2M27 24h1M17 26h1M27 27h1M26 28h2M25 29h1"/><path stroke="#950100" d="M14 4h1M14 12h1M1 14h1M21 17h1M18 32h1"/><path stroke="#600100" d="M20 4h2M23 4h5M27 5h2M28 6h1M28 7h1M17 10h1M27 13h1M26 14h1M6 18h1M8 18h1M3 20h1M13 22h1M3 23h1M3 24h1M3 25h1M2 26h1M2 27h2M3 28h1M4 29h4"/><path stroke="#bd0100" d="M4 5h3M4 6h1M3 12h1M17 23h1M27 25h1M27 26h1M26 27h1M23 28h3"/><path stroke="#bf0100" d="M7 5h1M5 6h1M4 7h1M3 11h1M20 19h1M27 20h1M27 23h1M17 25h1M26 26h1M25 27h1"/><path stroke="#c70100" d="M8 5h1M13 8h1M13 9h1M4 13h1M18 27h1M20 28h2"/><path stroke="#cd0100" d="M9 5h1M12 11h1M18 22h1M23 27h1"/><path stroke="#cf0100" d="M10 5h1M12 6h1M4 12h1M10 13h1M26 20h1M18 26h1"/><path stroke="#cb0100" d="M11 5h1M7 14h2M21 19h1M25 19h1M26 24h1"/><path stroke="#c10100" d="M12 5h1M4 8h1M13 10h1M12 12h1M11 13h1M5 14h1M26 19h1M18 21h1M17 24h1M26 25h1M24 27h1M22 28h1"/><path stroke="#9d0100" d="M14 5h1M14 11h1M1 13h1M2 14h1M19 18h1M30 20h1M16 23h1M16 26h1M17 29h1M19 32h1"/><path stroke="#830100" d="M15 5h1M15 6h1M15 10h1M15 11h1M2 16h1M12 16h2"/><path stroke="#5c0100" d="M18 5h1M23 5h1M25 6h1M26 7h1M17 8h1M17 9h1M27 10h1M4 19h1M3 21h1M4 25h1M5 27h2M8 28h1"/><path stroke="#540100" d="M19 5h1M22 5h1M25 7h1M18 11h1M22 14h1M5 19h1M11 20h1M7 27h1"/><path stroke="#4e0100" d="M20 5h2M26 9h1M4 23h1"/><path stroke="#5e0100" d="M24 5h3M26 6h2M17 7h1M27 7h1M27 8h1M27 9h1M18 12h1M19 13h1M7 18h1M3 22h1M3 26h2M4 27h1M4 28h4M12 28h1"/><path stroke="#c30100" d="M6 6h1M13 7h1M9 14h1M27 21h1M27 22h1M25 26h1M19 28h1"/><path stroke="#d10100" d="M7 6h1M4 10h1M11 12h1M20 20h1M25 25h1M24 26h1"/><path stroke="#db0100" d="M8 6h1M12 8h1M6 13h1"/><path stroke="#df0100" d="M9 6h2M10 12h1M7 13h2M19 22h1"/><path stroke="#d90100" d="M11 6h1M9 13h1M25 20h1M20 27h2"/><path stroke="#520100" d="M18 6h1M20 13h1M26 13h1M23 14h2M4 20h1M12 27h1"/><path stroke="#440100" d="M19 6h1M24 7h1M18 8h1M18 9h1M5 20h1M9 27h1"/><path stroke="#3c0100" d="M20 6h1M22 13h1"/><path stroke="#3a0100" d="M21 6h1M19 7h1M25 9h1M25 12h1M23 13h1M6 20h1M9 20h1M5 21h1M5 23h1M11 26h1"/><path stroke="#3e0100" d="M22 6h1M24 13h1M12 24h1M6 25h1"/><path stroke="#480100" d="M23 6h1M26 10h1M25 13h1M7 19h1M10 20h1M11 27h1"/><path stroke="#560100" d="M24 6h1M12 21h1M13 24h1M13 25h1M10 28h1"/><path stroke="#c50100" d="M5 7h1M19 20h1"/><path stroke="#d50100" d="M6 7h1M23 19h1M26 21h1M18 23h1M22 27h1"/><path stroke="#e10100" d="M7 7h1M6 8h1M5 10h1M5 11h1M24 20h1M20 21h1M24 25h1"/><path stroke="#e70100" d="M8 7h1M11 10h1M9 12h1M19 24h1M21 26h1"/><path stroke="#eb0100" d="M9 7h1M7 8h1M6 10h1M6 11h1M7 12h2M21 21h1M20 22h1M20 25h1"/><path stroke="#e90100" d="M10 7h1M11 8h1M6 9h1M11 9h1M10 11h1M24 21h1M24 24h1M23 25h1"/><path stroke="#e30100" d="M11 7h1M22 20h1M25 21h1M25 23h1"/><path stroke="#d70100" d="M12 7h1M12 10h1M26 22h1M18 24h1M18 25h1"/><path stroke="#850100" d="M15 7h1M15 8h1M15 9h1M3 16h1M11 16h1M16 17h1M30 17h1M16 32h1"/><path stroke="#4a0100" d="M18 7h1M18 10h1M26 12h1M8 19h1M4 22h1M12 26h1M8 27h1"/><path stroke="#2c0100" d="M20 7h1M20 11h1M6 21h1M11 23h1M7 25h1"/><path stroke="#260100" d="M21 7h1M24 9h1M23 12h1M6 23h1"/><path stroke="#2a0100" d="M22 7h1M11 24h1"/><path stroke="#340100" d="M23 7h1M19 10h1M10 21h1M8 26h1"/><path stroke="#d30100" d="M5 8h1M4 11h1M5 13h1M22 19h1M24 19h1M19 21h1M26 23h1M19 27h1"/><path stroke="#ef0100" d="M8 8h1M10 8h1M10 10h1M7 11h1M9 11h1M23 21h1M20 23h1M20 24h1M21 25h2"/><path stroke="#f10100" d="M9 8h1M7 9h1M10 9h1M7 10h1M8 11h1M21 22h1M23 22h1M23 23h1M23 24h1"/><path stroke="#2e0100" d="M19 8h1M19 9h1M24 12h1M6 24h1M11 25h1M9 26h1"/><path stroke="#200100" d="M20 8h1M20 10h1M24 10h1M7 21h2M8 25h1"/><path stroke="#1a0100" d="M21 8h1M10 23h1"/><path stroke="#180100" d="M22 8h1M23 11h1M7 22h1M10 24h1"/><path stroke="#220100" d="M23 8h1M10 22h1M10 25h1"/><path stroke="#320100" d="M24 8h1M25 10h1M25 11h1M7 20h2"/><path stroke="#460100" d="M25 8h1M26 11h1M21 13h1M11 21h1"/><path stroke="#580100" d="M26 8h1M27 11h1M25 14h1M13 23h1M4 24h1M9 28h1M11 28h1"/><path stroke="#af0100" d="M0 9h1M1 10h1M12 13h1M7 15h1M28 21h1M19 29h1M21 30h1M22 31h1M23 32h1"/><path stroke="#c90100" d="M4 9h1M6 14h1"/><path stroke="#dd0100" d="M5 9h1M12 9h1M11 11h1M5 12h1M21 20h1M25 24h1M19 26h1M23 26h1"/><path stroke="#f30100" d="M8 9h2M9 10h1M22 22h1M21 23h1M21 24h2"/><path stroke="#1c0100" d="M20 9h1M7 24h1"/><path stroke="#0e0100" d="M21 9h1M8 23h2"/><path stroke="#100100" d="M22 9h1M8 22h1"/><path stroke="#160100" d="M23 9h1M22 11h1M9 22h1M7 23h1"/><path stroke="#ab0100" d="M0 10h1M1 11h1M2 12h1M13 12h1M3 14h1M28 20h1M17 21h1M21 31h1M22 32h1"/><path stroke="#f50100" d="M8 10h1M22 23h1"/><path stroke="#120100" d="M21 10h1M9 24h1"/><path stroke="#0c0100" d="M22 10h1"/><path stroke="#140100" d="M23 10h1M8 24h1"/><path stroke="#420100" d="M19 11h1M12 23h1M5 24h1M10 27h1"/><path stroke="#1e0100" d="M21 11h1M9 25h1"/><path stroke="#240100" d="M24 11h1M9 21h1M6 22h1"/><path stroke="#e50100" d="M6 12h1M23 20h1M25 22h1M19 23h1M19 25h1M20 26h1M22 26h1"/><path stroke="#500100" d="M19 12h1M9 19h1M5 25h1M6 26h1"/><path stroke="#400100" d="M20 12h1M12 25h1M7 26h1"/><path stroke="#300100" d="M21 12h1M10 26h1"/><path stroke="#280100" d="M22 12h1"/><path stroke="#5a0100" d="M27 12h1M21 14h1M10 19h1M5 26h1M13 26h1"/><path stroke="#8b0100" d="M0 15h2M7 16h1M19 17h1M16 19h1"/><path stroke="#8f0100" d="M13 15h1M27 17h1M17 31h1M17 32h1"/><path stroke="#870100" d="M4 16h1M10 16h1M17 17h1M29 17h1M16 18h1M16 31h1"/><path stroke="#7e0100" d="M16 16h4M28 16h3M15 23h1M15 24h1M15 25h1M15 26h1"/><path stroke="#970100" d="M22 17h1M25 17h1M18 18h1M30 19h1"/><path stroke="#4c0100" d="M6 19h1M4 21h1M12 22h1"/><path stroke="#ed0100" d="M22 21h1M24 22h1M24 23h1"/><path stroke="#360100" d="M5 22h1M11 22h1"/></g></g></g><path d="M372.02 193.07A27.50 27.50 0 0 0 333.72 231.37" fill="none" stroke="#ff2400" stroke-width="0.70" stroke-linecap="round"/><path d="M361.03 188.52A27.50 27.50 0 0 0 328.75 215.60" fill="none" stroke="#c70000" stroke-width="0.70" stroke-linecap="round"/><path d="M346.84 241.44A27.50 27.50 0 0 0 381.17 203.98" fill="none" stroke="#007fff" stroke-width="0.70" stroke-linecap="round"/><g clip-path="url(#c30)"><g transform="translate(385,184)" filter="url(#fb)"><rect width="64" height="64" fill="#7c0100"/><g transform="translate(0,-1) scale(2)"><path stroke="#800100" d="M0 1h1M1 2h1M2 3h1M3 4h1M4 5h1M5 6h1M6 7h1M7 8h1M8 9h1M11 12h1M12 13h1M13 14h1M14 15h1M15 16h1M16 17h1M17 18h1M18 19h1M24 25h1M25 26h1M26 27h1M27 28h1M28 29h1M29 30h1M30 31h1M31 32h1"/><path stroke="#7e0100" d="M1 1h1M29 1h2M2 2h1M29 2h1M3 3h1M28 3h1M4 4h1M27 4h1M26 5h1M25 6h1M16 15h1M15 17h1M14 18h1M13 19h1M6 26h1M5 27h1M4 28h1M26 28h1M3 29h1M27 29h1M2 30h1M28 30h1M1 31h2M29 31h1M0 32h2M30 32h1"/><path stroke="#7a0100" d="M3 1h1M27 1h1M4 2h1M27 2h1M26 3h1M5 4h1M6 5h1M24 6h1M7 7h1M23 8h1M22 9h1M19 12h1M13 13h1M15 14h2M14 19h1M17 19h1M10 22h1M9 23h1M24 27h1M25 28h1M5 29h1M4 30h1M26 30h1M27 31h1M3 32h1M28 32h1"/><path stroke="#780100" d="M4 1h1M5 2h1M26 2h1M5 3h1M25 3h1M6 4h1M25 4h1M24 5h1M21 10h1M20 11h1M17 13h1M16 19h1M18 20h1M23 25h1M7 26h1M6 28h1M25 29h1M5 30h1M4 31h1M26 31h1M4 32h1M27 32h1"/><path stroke="#760100" d="M5 1h1M26 1h1M25 2h1M6 3h1M24 4h1M7 5h1M7 6h1M8 8h1M12 12h1M14 13h1M15 19h1M13 20h1M19 21h1M22 24h1M7 27h1M7 28h1M24 28h1M6 29h1M6 30h1M25 30h1M5 31h1M5 32h1M26 32h1"/><path stroke="#740100" d="M6 1h1M25 1h1M6 2h1M24 3h1M7 4h1M23 7h1M9 9h1M11 11h1M15 13h2M17 20h1M20 22h1M21 23h1M8 25h1M23 26h1M7 29h1M24 29h1M24 30h1M6 31h1M25 31h1M25 32h1"/><path stroke="#700100" d="M7 1h1M23 2h1M23 3h1M8 4h1M8 5h1M8 7h1M22 8h1M13 12h1M15 20h1M9 24h1M8 28h1M8 29h1M23 30h1M7 31h1M7 32h1"/><path stroke="#6e0100" d="M8 1h1M23 1h1M8 2h1M8 3h1M22 4h1M8 6h1M19 11h1M17 12h1M18 21h1M11 22h1M10 23h1M8 26h1M8 27h1M22 29h1M8 30h1M8 31h1M23 31h1M23 32h1"/><path stroke="#6a0100" d="M9 1h1M9 2h1M9 4h1M22 5h1M22 7h1M9 8h1M12 11h1M15 12h1M13 21h1M9 30h1M9 31h1M9 32h1"/><path stroke="#660100" d="M10 1h1M20 1h1M10 2h1M20 2h1M21 4h1M10 9h1M14 21h1M20 23h1M9 25h1M10 29h1M20 30h1M10 31h1M20 31h1M20 32h1"/><path stroke="#640100" d="M11 1h1M11 2h1M20 3h1M9 5h1M9 7h1M11 10h1M18 11h1M15 21h2M12 22h1M11 30h1M11 31h1M11 32h1"/><path stroke="#620100" d="M12 1h1M19 1h1M19 2h1M11 3h1M10 4h1M9 6h1M21 8h1M13 11h1M9 26h1M9 27h1M19 30h1M12 31h1M19 31h1M12 32h1M19 32h1"/><path stroke="#600100" d="M13 1h1M18 1h1M12 2h1M18 2h1M19 3h1M10 24h1M21 28h1M20 29h1M12 30h1M18 31h1M13 32h1M17 32h2"/><path stroke="#5e0100" d="M14 1h4M13 2h1M17 2h1M21 5h1M19 10h1M17 11h1M18 22h1M11 23h1M21 25h1M18 30h1M13 31h2M17 31h1M14 32h3"/><path stroke="#680100" d="M21 1h1M21 2h1M10 3h1M21 3h1M22 6h1M17 21h1M19 22h1M21 24h1M22 26h1M22 27h1M9 28h1M21 29h1M10 30h1M21 30h1M21 31h1M10 32h1M21 32h1"/><path stroke="#6c0100" d="M22 1h1M22 2h1M9 3h1M22 3h1M21 9h1M20 10h1M14 12h1M16 12h1M22 25h1M22 28h1M9 29h1M22 30h1M22 31h1M8 32h1M22 32h1"/><path stroke="#720100" d="M24 1h1M7 2h1M24 2h1M7 3h1M23 4h1M23 5h1M23 6h1M10 10h1M18 12h1M14 20h1M16 20h1M12 21h1M23 27h1M23 28h1M23 29h1M7 30h1M24 31h1M6 32h1M24 32h1"/><path stroke="#810100" d="M31 1h1M30 2h1M29 3h1M28 4h1M27 5h1M26 6h1M9 10h1M10 11h1M16 16h1M19 20h1M20 21h1M21 22h1M22 23h1M23 24h1M3 28h1M2 29h1M1 30h1M0 31h1"/><path stroke="#830100" d="M0 2h1M31 2h1M1 3h1M2 4h1M3 5h1M25 7h1M18 14h1M17 15h1M14 17h1M5 26h1M4 27h1M28 28h1M29 29h1M30 30h1M31 31h1"/><path stroke="#5c0100" d="M14 2h3M12 3h1M20 4h1M20 9h1M14 11h1M10 28h1M11 29h1M13 30h1M15 31h2"/><path stroke="#870100" d="M0 3h1M31 3h1M1 4h1M27 6h1M19 13h1M17 17h1M12 19h1M3 27h1M2 28h1M30 29h1"/><path stroke="#560100" d="M13 3h1M11 4h1M11 9h1M17 22h1M19 23h1M20 24h1M10 25h1M19 29h1M15 30h1"/><path stroke="#520100" d="M14 3h1M10 6h1M18 10h1M15 22h2M10 26h1M12 29h1"/><path stroke="#4e0100" d="M15 3h1M13 10h1M11 28h1M18 29h1"/><path stroke="#500100" d="M16 3h1M19 4h1M20 5h1M20 8h1M12 23h1M11 24h1"/><path stroke="#540100" d="M17 3h1M10 7h1M14 22h1M10 27h1M20 28h1"/><path stroke="#5a0100" d="M18 3h1M21 6h1M21 7h1M10 8h1M15 11h2M13 22h1M21 26h1M21 27h1M17 30h1"/><path stroke="#850100" d="M30 3h1M29 4h1M28 5h1M4 6h1M5 7h1M24 8h1M14 16h1M13 18h1M6 25h1M26 26h1M27 27h1M1 29h1M0 30h1M31 30h1"/><path stroke="#8b0100" d="M0 4h1M31 4h1M29 5h1M4 7h1M6 8h1M22 10h1M21 11h1M12 14h1M13 17h1M18 18h1M11 20h1M27 26h1M2 27h1M1 28h1M30 28h1M31 29h1"/><path stroke="#4a0100" d="M12 4h1M11 5h1M20 7h1M17 10h1M18 23h1M13 29h1"/><path stroke="#400100" d="M13 4h1M11 6h1M17 23h1M11 26h1M12 28h1M15 29h2"/><path stroke="#3a0100" d="M14 4h1M12 5h1M15 23h1M19 25h1M19 27h1M18 28h1"/><path stroke="#360100" d="M15 4h2M12 8h1M18 24h1M19 26h1"/><path stroke="#3c0100" d="M17 4h1M19 8h1M18 9h1M16 23h1"/><path stroke="#440100" d="M18 4h1M15 10h1M13 23h1M11 25h1M11 27h1"/><path stroke="#890100" d="M30 4h1M2 5h1M3 6h1M26 7h1M23 9h1M20 12h1M13 15h1M17 16h1M7 24h1M25 25h1M4 26h1M28 27h1M29 28h1M0 29h1"/><path stroke="#8f0100" d="M0 5h1M2 6h1M27 7h1M25 8h1M19 19h1M9 22h1M26 25h1M28 26h1M1 27h1M31 28h1"/><path stroke="#8d0100" d="M1 5h1M30 5h1M28 6h1M18 15h1M13 16h1M10 21h1M8 23h1M5 25h1M3 26h1M29 27h1M0 28h1"/><path stroke="#580100" d="M10 5h1M12 10h1M14 30h1M16 30h1"/><path stroke="#2e0100" d="M13 5h1M12 7h1M14 9h1M12 26h1"/><path stroke="#240100" d="M14 5h1M18 7h1M13 27h1"/><path stroke="#1e0100" d="M15 5h1M13 7h1M13 26h1M17 27h1"/><path stroke="#200100" d="M16 5h1M17 8h1M15 24h1M13 25h1"/><path stroke="#280100" d="M17 5h1M18 6h1M18 25h1M15 28h1"/><path stroke="#320100" d="M18 5h1M17 9h1M12 27h1"/><path stroke="#420100" d="M19 5h1M11 7h1M14 29h1"/><path stroke="#910100" d="M31 5h1M1 6h1M29 6h1M3 7h1M18 17h1M12 18h1M24 24h1M4 25h1M30 27h1"/><path stroke="#950100" d="M0 6h1M31 6h1M2 7h1M4 8h1M27 8h1M12 15h1M20 20h1M3 25h1M1 26h1"/><path stroke="#300100" d="M12 6h1M13 24h1M12 25h1M17 28h1"/><path stroke="#220100" d="M13 6h1M16 24h1"/><path stroke="#180100" d="M14 6h1M15 8h2M17 26h1M16 27h1"/><path stroke="#120100" d="M15 6h1M14 7h1M15 25h2M14 26h1"/><path stroke="#140100" d="M16 6h1"/><path stroke="#1c0100" d="M17 6h1M14 8h1"/><path stroke="#380100" d="M19 6h1M19 7h1M13 9h1"/><path stroke="#480100" d="M20 6h1M11 8h1M14 10h1M20 26h1"/><path stroke="#930100" d="M30 6h1M28 7h1M5 8h1M26 8h1M7 9h1M11 13h1M19 14h1M18 16h1M27 25h1M2 26h1M29 26h1M0 27h1M31 27h1"/><path stroke="#9b0100" d="M0 7h1M31 7h1M2 8h1M19 15h1M11 19h1M21 21h1M22 22h1M4 24h1M25 24h1M27 24h1M1 25h1M29 25h1"/><path stroke="#970100" d="M1 7h1M29 7h1M3 8h1M8 10h1M10 12h1M23 23h1M6 24h1M28 25h1M30 26h1"/><path stroke="#0c0100" d="M15 7h1M15 26h1"/><path stroke="#0e0100" d="M16 7h1M16 26h1"/><path stroke="#160100" d="M17 7h1M14 25h1M15 27h1"/><path stroke="#990100" d="M30 7h1M28 8h1M24 9h1M9 11h1M12 16h1M12 17h1M19 18h1M2 25h1M0 26h1M31 26h1"/><path stroke="#9f0100" d="M0 8h2M30 8h1M3 9h1M6 9h1M27 9h1M11 14h1M19 16h1M19 17h1M2 24h1M31 25h1"/><path stroke="#260100" d="M13 8h1M14 24h1M18 26h1"/><path stroke="#2c0100" d="M18 8h1M14 28h1"/><path stroke="#9d0100" d="M29 8h1M20 13h1M3 24h1M5 24h1M26 24h1M28 24h1M0 25h1M30 25h1"/><path stroke="#a10100" d="M31 8h1M4 9h1M28 9h1M23 10h1M7 23h1M1 24h1M29 24h1"/><path stroke="#a50100" d="M0 9h2M30 9h2M22 11h1M11 18h1M20 19h1M3 23h1M28 23h1"/><path stroke="#a30100" d="M2 9h1M5 9h1M25 9h2M29 9h1M21 12h1M10 20h1M0 24h1M30 24h2"/><path stroke="#460100" d="M12 9h1M16 10h1M19 24h1M19 28h1M17 29h1"/><path stroke="#2a0100" d="M15 9h2M17 24h1M18 27h1M16 28h1"/><path stroke="#4c0100" d="M19 9h1M20 25h1M20 27h1"/><path stroke="#ab0100" d="M0 10h2M30 10h2M10 13h1M20 14h1M4 23h1"/><path stroke="#a90100" d="M2 10h2M7 10h1M28 10h2M11 16h1M11 17h1M9 21h1M0 23h1M30 23h2"/><path stroke="#b30100" d="M4 10h1M31 12h1M20 17h1M10 19h1M0 21h3M22 21h1M29 21h3"/><path stroke="#b70100" d="M5 10h1M25 10h2M3 11h1M2 12h1M0 13h1M31 13h1M10 14h1M0 20h2M30 20h2M7 22h1"/><path stroke="#b50100" d="M6 10h1M0 12h2M29 12h2M21 13h1M20 16h1"/><path stroke="#af0100" d="M24 10h1M27 10h1M0 11h3M29 11h3M20 18h1M21 20h1M23 22h1M5 23h1M25 23h2"/><path stroke="#c50100" d="M4 11h1M24 11h1M29 16h1M29 17h1M28 20h1"/><path stroke="#cb0100" d="M5 11h1M25 11h1M21 17h1M2 18h1M9 19h1"/><path stroke="#c90100" d="M6 11h1M26 11h1M28 13h1M21 15h1M27 21h1"/><path stroke="#c10100" d="M7 11h1M21 14h1M10 16h1M10 17h1M3 21h1M6 22h1M26 22h1"/><path stroke="#b10100" d="M8 11h1M28 11h1M9 12h1M20 15h1M3 22h1"/><path stroke="#b90100" d="M23 11h1M1 13h1M29 13h2M0 19h1M31 19h1M29 20h1M28 21h1M27 22h1"/><path stroke="#bf0100" d="M27 11h1M28 12h1M2 13h1M29 14h1M1 15h1M10 15h1M1 16h1M30 16h1M1 17h1M30 17h1M8 21h1"/><path stroke="#c70100" d="M3 12h1M8 12h1M2 14h1M21 18h1M22 20h1M23 21h1"/><path stroke="#d30100" d="M4 12h1M3 13h1M28 14h1M9 18h1M6 21h1M26 21h1"/><path stroke="#db0100" d="M5 12h1M25 12h1M27 13h1M3 14h1M28 16h1M28 17h1M22 18h1M4 20h1"/><path stroke="#d90100" d="M6 12h1M26 12h1M28 15h1"/><path stroke="#d50100" d="M7 12h1M9 15h1M22 19h1M5 21h1M25 21h1"/><path stroke="#bd0100" d="M22 12h1M1 14h1M0 15h1M30 15h1M0 16h1M31 16h1M0 17h1M31 17h1M0 18h2M10 18h1M30 18h1M21 19h1M29 19h1M9 20h1M4 22h1M24 22h1"/><path stroke="#cd0100" d="M23 12h1M22 13h1M2 15h1M21 16h1M4 21h1M7 21h1"/><path stroke="#d70100" d="M24 12h1M8 13h1M22 14h1M9 16h1M9 17h1M28 18h1M3 19h1M23 20h1M27 20h1"/><path stroke="#cf0100" d="M27 12h1M9 14h1M2 16h1M2 17h1M28 19h1M3 20h1"/><path stroke="#df0100" d="M4 13h1M22 16h1M22 17h1M3 18h1M27 19h1M26 20h1"/><path stroke="#e50100" d="M5 13h1M24 13h1M23 14h1M8 18h1M27 18h1M4 19h1"/><path stroke="#e70100" d="M6 13h1M25 13h1M4 14h1M8 15h1M27 15h1M8 17h1M7 19h1"/><path stroke="#e30100" d="M7 13h1M26 13h1M27 14h1M3 16h1M23 19h1"/><path stroke="#c30100" d="M9 13h1M29 15h1M29 18h1M2 19h1M5 22h1M25 22h1"/><path stroke="#dd0100" d="M23 13h1M22 15h1M8 19h1M7 20h1"/><path stroke="#bb0100" d="M0 14h1M30 14h2M31 15h1M31 18h1M1 19h1M30 19h1M2 20h1"/><path stroke="#ed0100" d="M5 14h1M24 14h2M4 15h1M23 16h1M4 17h1M23 17h1M7 18h1"/><path stroke="#ef0100" d="M6 14h1M7 15h1M26 15h1M4 16h1M5 18h1M24 18h1M26 18h1"/><path stroke="#eb0100" d="M7 14h1M26 14h1M23 15h1M4 18h1M5 19h2M24 19h2"/><path stroke="#e10100" d="M8 14h1M3 15h1M3 17h1M5 20h2M24 20h2"/><path stroke="#f10100" d="M5 15h1M24 15h1M7 16h1M26 16h1M7 17h1M26 17h1M6 18h1M25 18h1"/><path stroke="#f30100" d="M6 15h1M25 15h1M5 16h1M24 16h1M5 17h1M24 17h2"/><path stroke="#a70100" d="M11 15h1M8 22h1M1 23h2M24 23h1M27 23h1M29 23h1"/><path stroke="#f50100" d="M6 16h1M25 16h1M6 17h1"/><path stroke="#e90100" d="M8 16h1M27 16h1M27 17h1M23 18h1M26 19h1"/><path stroke="#d10100" d="M8 20h1M24 21h1"/><path stroke="#ad0100" d="M0 22h3M28 22h4M6 23h1"/><path stroke="#3e0100" d="M14 23h1M12 24h1"/><path stroke="#1a0100" d="M17 25h1M14 27h1"/><path stroke="#340100" d="M13 28h1"/></g></g></g><g clip-path="url(#c31)"><g transform="translate(446,184)" filter="url(#fb)"><rect width="62" height="64" fill="#0a0100"/><g transform="translate(0,-1) scale(2)"><path stroke="#0c0100" d="M0 1h7M24 1h7M0 2h6M25 2h6M0 3h5M27 3h4M0 4h3M28 4h3M0 5h2M29 5h2M0 6h2M29 6h2M0 7h1M30 7h1M3 15h1M3 16h1M3 17h1M27 18h1M5 23h1M0 25h1M30 25h1M0 26h1M30 26h1M0 27h2M29 27h2M0 28h3M12 28h1M18 28h1M28 28h3M0 29h4M27 29h4M0 30h5M26 30h5M0 31h6M25 31h6M0 32h8M23 32h8"/><path stroke="#080100" d="M12 3h1M18 3h2M9 4h1M21 4h1M23 5h1M6 6h1M24 6h1M5 7h1M7 7h1M23 7h1M25 7h1M4 8h1M6 8h1M26 8h1M3 10h1M4 11h1M2 12h1M28 12h1M3 14h1M27 19h1M2 20h1M2 21h1M28 21h1M3 23h1M27 23h1M9 27h1M21 27h1M8 28h1M22 28h1M10 29h1M20 29h1M13 30h5"/><path stroke="#060100" d="M13 3h5M10 4h1M14 4h3M8 5h1M10 5h1M20 5h1M22 6h1M5 9h1M25 9h1M27 10h1M2 13h1M27 13h2M2 19h2M28 20h1M3 22h1M26 22h1M4 24h1M26 24h1M5 25h1M7 27h1M23 27h1M11 28h1M19 28h1M11 29h1M19 29h1"/><path stroke="#020100" d="M11 4h2M19 4h1M9 5h1M21 5h1M23 6h1M6 7h1M24 7h1M25 8h1M4 10h1M26 10h1M3 12h1M27 12h1M28 15h1M28 16h1M28 17h1M3 21h1M27 21h1M4 23h1M26 23h1M5 24h1M25 24h1M7 26h1M8 27h1M22 27h1M10 28h1M20 28h1M13 29h5"/><path stroke="#040100" d="M13 4h1M17 4h2M20 4h1M22 5h1M7 6h2M5 8h1M4 9h1M26 9h1M3 11h1M27 11h1M3 13h1M2 14h1M28 14h1M2 15h1M2 16h1M2 17h1M2 18h1M28 18h1M28 19h1M3 20h1M27 20h1M4 22h1M27 22h1M6 25h1M24 25h2M6 26h1M23 26h2M9 28h1M21 28h1M12 29h1M18 29h1"/><path stroke="#0e0100" d="M11 5h1M27 15h1M4 21h1M25 23h1M8 26h1"/><path stroke="#160100" d="M12 5h1M18 5h1M8 7h1M15 28h1"/><path stroke="#1e0100" d="M13 5h1M17 5h1M10 6h1M23 8h1M25 22h1"/><path stroke="#240100" d="M14 5h1M16 5h1"/><path stroke="#260100" d="M15 5h1M25 11h1M4 14h1M26 19h1"/><path stroke="#100100" d="M19 5h1M9 6h1M21 6h1M27 16h1M27 17h1M26 21h1M22 26h1"/><path stroke="#320100" d="M11 6h1M4 16h1M23 24h1"/><path stroke="#460100" d="M12 6h1M14 27h1M16 27h1"/><path stroke="#540100" d="M13 6h1M11 26h1"/><path stroke="#5c0100" d="M14 6h1M16 6h1M22 24h1"/><path stroke="#5e0100" d="M15 6h1M5 14h1M25 19h1"/><path stroke="#560100" d="M17 6h1M6 11h1M25 13h1M7 23h1M19 26h1"/><path stroke="#480100" d="M18 6h1M5 20h1"/><path stroke="#340100" d="M19 6h1M21 7h1M6 10h1M26 15h1"/><path stroke="#200100" d="M20 6h1M26 13h1M9 26h1M11 27h1M19 27h1"/><path stroke="#300100" d="M9 7h1M4 17h1M26 18h1M5 21h1M18 27h1"/><path stroke="#500100" d="M10 7h1M5 13h1M9 25h1"/><path stroke="#660100" d="M11 7h1M8 9h1M23 10h1M5 15h1M18 26h1"/><path stroke="#720100" d="M12 7h1M23 22h1M9 24h1"/><path stroke="#7c0100" d="M13 7h1M17 7h1M24 13h1"/><path stroke="#810100" d="M14 7h1M16 7h1M22 10h1M24 19h1"/><path stroke="#830100" d="M15 7h1M6 14h1M7 21h1"/><path stroke="#740100" d="M18 7h1M6 20h1M8 23h1M21 24h1M14 26h1M16 26h1"/><path stroke="#680100" d="M19 7h1M22 9h1M5 17h1M25 18h1M24 21h1"/><path stroke="#520100" d="M20 7h1M21 25h1"/><path stroke="#180100" d="M22 7h1M6 9h1M4 20h1"/><path stroke="#1a0100" d="M7 8h1M26 20h1M5 22h1"/><path stroke="#3c0100" d="M8 8h1M20 26h1M13 27h1"/><path stroke="#600100" d="M9 8h1"/><path stroke="#760100" d="M10 8h1M24 20h1M15 26h1"/><path stroke="#850100" d="M11 8h1M24 14h1M23 21h1"/><path stroke="#950100" d="M12 8h1M7 20h1"/><path stroke="#9f0100" d="M13 8h1"/><path stroke="#a70100" d="M14 8h1M16 8h1M11 9h1M7 14h1M20 23h1"/><path stroke="#a90100" d="M15 8h1M19 9h1M23 14h1M9 22h1M12 24h1"/><path stroke="#a10100" d="M17 8h1"/><path stroke="#970100" d="M18 8h1M20 9h1M8 11h1"/><path stroke="#870100" d="M19 8h1M6 18h1M10 24h1M12 25h1M18 25h1"/><path stroke="#780100" d="M20 8h1M7 11h1M6 13h1M22 23h1"/><path stroke="#620100" d="M21 8h1M7 10h1M25 14h1"/><path stroke="#420100" d="M22 8h1"/><path stroke="#3e0100" d="M7 9h1M17 27h1"/><path stroke="#7e0100" d="M9 9h1M8 10h1"/><path stroke="#930100" d="M10 9h1M17 25h1"/><path stroke="#b50100" d="M12 9h1M17 24h1"/><path stroke="#bf0100" d="M13 9h1M17 9h1M8 19h1M21 21h1M20 22h1"/><path stroke="#c30100" d="M14 9h1M19 10h1M9 12h1M8 14h1M12 23h1"/><path stroke="#c50100" d="M15 9h2M10 11h1M21 12h1M22 14h1M18 23h1"/><path stroke="#b70100" d="M18 9h1M22 20h1M11 23h1"/><path stroke="#800100" d="M21 9h1M6 19h1"/><path stroke="#440100" d="M23 9h1"/><path stroke="#1c0100" d="M24 9h1M4 13h1"/><path stroke="#120100" d="M5 10h1M4 12h1M6 24h1M7 25h1M10 27h1M13 28h1M17 28h1"/><path stroke="#990100" d="M9 10h1M22 11h1M23 20h1M14 25h1M16 25h1"/><path stroke="#af0100" d="M10 10h1M7 17h1M23 18h1"/><path stroke="#c10100" d="M11 10h1M22 19h1"/><path stroke="#cd0100" d="M12 10h1M18 10h1M22 16h1M22 17h1M21 20h1M11 22h1M19 22h1M13 23h1M17 23h1"/><path stroke="#d50100" d="M13 10h1M17 10h1M19 11h1M10 12h1M9 19h1"/><path stroke="#d90100" d="M14 10h1M9 14h1M12 22h1M18 22h1"/><path stroke="#db0100" d="M15 10h2M21 14h1"/><path stroke="#b10100" d="M20 10h1M9 11h1M23 15h1M7 16h1"/><path stroke="#9b0100" d="M21 10h1M7 13h1M11 24h1M15 25h1"/><path stroke="#3a0100" d="M24 10h1M5 12h1M10 26h1"/><path stroke="#140100" d="M25 10h1M26 12h1M24 24h1M23 25h1M20 27h1M14 28h1M16 28h1"/><path stroke="#220100" d="M5 11h1M4 19h1M21 26h1"/><path stroke="#d30100" d="M11 11h1M15 23h1"/><path stroke="#e10100" d="M12 11h1M18 11h1M10 13h1M21 15h1M9 16h1M9 17h1M13 22h1"/><path stroke="#e70100" d="M13 11h1M17 11h1M10 19h1M15 22h2"/><path stroke="#eb0100" d="M14 11h3M12 12h7M11 13h4M17 13h3M11 14h2M18 14h2M10 15h2M19 15h2M10 16h2M19 16h2M10 17h2M19 17h2M10 18h3M19 18h2M11 19h2M18 19h2M12 20h7M13 21h5"/><path stroke="#c70100" d="M20 11h1M8 18h1"/><path stroke="#b30100" d="M21 11h1M23 16h1M23 17h1M8 20h1M13 24h1"/><path stroke="#7a0100" d="M23 11h1M11 25h1M19 25h1"/><path stroke="#5a0100" d="M24 11h1M5 19h1M23 23h1"/><path stroke="#6a0100" d="M6 12h1M25 15h1M5 16h1M10 25h1"/><path stroke="#8b0100" d="M7 12h1M24 18h1"/><path stroke="#ab0100" d="M8 12h1M7 18h1M21 22h1M18 24h1"/><path stroke="#e50100" d="M11 12h1M19 12h1M14 22h1"/><path stroke="#d70100" d="M20 12h1M21 19h1"/><path stroke="#ad0100" d="M22 12h1M7 15h1"/><path stroke="#8d0100" d="M23 12h1M24 15h1M6 16h1M6 17h1M8 22h1M9 23h1"/><path stroke="#6e0100" d="M24 12h1M13 26h1"/><path stroke="#400100" d="M25 12h1"/><path stroke="#b90100" d="M8 13h1M19 23h1M14 24h1M16 24h1"/><path stroke="#cf0100" d="M9 13h1M10 21h1"/><path stroke="#ed0100" d="M15 13h2M13 14h5M12 15h7M12 16h2M17 16h2M12 17h3M17 17h2M13 18h6M13 19h5"/><path stroke="#e30100" d="M20 13h1M21 16h1M21 17h1M17 22h1"/><path stroke="#d10100" d="M21 13h1M20 21h1M14 23h1M16 23h1"/><path stroke="#bb0100" d="M22 13h1M15 24h1"/><path stroke="#9d0100" d="M23 13h1M19 24h1"/><path stroke="#e90100" d="M10 14h1M20 14h1M20 19h1M11 20h1M19 20h1M12 21h1M18 21h1"/><path stroke="#2a0100" d="M26 14h1M8 25h1"/><path stroke="#2e0100" d="M4 15h1M7 24h1M22 25h1M12 27h1"/><path stroke="#890100" d="M6 15h1M20 24h1"/><path stroke="#c90100" d="M8 15h1M22 18h1"/><path stroke="#df0100" d="M9 15h1M21 18h1M20 20h1M11 21h1M19 21h1"/><path stroke="#cb0100" d="M22 15h1M8 16h1M8 17h1M9 20h1"/><path stroke="#ef0100" d="M14 16h3M15 17h2"/><path stroke="#910100" d="M24 16h1M21 23h1M13 25h1"/><path stroke="#6c0100" d="M25 16h1M25 17h1M20 25h1"/><path stroke="#380100" d="M26 16h1M26 17h1"/><path stroke="#8f0100" d="M24 17h1M22 22h1"/><path stroke="#2c0100" d="M4 18h1M24 23h1"/><path stroke="#640100" d="M5 18h1M6 21h1M12 26h1"/><path stroke="#dd0100" d="M9 18h1M10 20h1"/><path stroke="#a30100" d="M7 19h1M8 21h1"/><path stroke="#a50100" d="M23 19h1M22 21h1M10 23h1"/><path stroke="#4e0100" d="M25 20h1M24 22h1"/><path stroke="#bd0100" d="M9 21h1M10 22h1"/><path stroke="#360100" d="M25 21h1"/><path stroke="#4a0100" d="M6 22h1M15 27h1"/><path stroke="#700100" d="M7 22h1M17 26h1"/><path stroke="#280100" d="M6 23h1"/><path stroke="#580100" d="M8 24h1"/></g></g></g></g><rect x="10" y="250.4" width="239.6" height="12.6" fill="url(#cb)" stroke="#555" stroke-width="0.5"/><rect x="267" y="250.4" width="239.4" height="12.6" fill="url(#cb)" stroke="#555" stroke-width="0.5"/><g font-family="'Liberation Serif',serif" font-size="10.3" fill="#111"><text x="9.6" y="274.3">Min</text><text x="250.2" y="274.3" text-anchor="end">Max</text><text x="266.6" y="274.3">Min</text><text x="507" y="274.3" text-anchor="end">Max</text></g><g font-family="'Liberation Serif',serif" font-size="12.3" font-weight="bold" fill="#111" text-anchor="middle"><text x="131" y="285.6">(a)</text><text x="387.5" y="285.6">(b)</text><text x="130.6" y="540.8">(c)</text><text x="387.5" y="540.8">(d)</text></g><g font-family="'Liberation Serif',serif" font-size="7.4" fill="#000"><polyline points="20.6,308.7 20.7,308.7 20.9,308.7 21.0,308.7 21.2,308.7 21.3,308.7 21.5,308.7 21.6,308.7 21.8,308.7 21.9,308.7 22.1,308.7 22.2,308.7 22.4,308.7 22.5,308.7 22.7,308.7 22.8,308.7 23.0,308.7 23.1,308.7 23.3,308.7 23.4,308.7 23.6,308.7 23.7,308.7 23.9,308.7 24.0,308.7 24.2,308.7 24.3,308.7 24.5,308.7 24.6,308.7 24.7,308.7 24.9,308.7 25.0,308.7 25.2,308.7 25.3,308.7 25.5,308.7 25.6,308.7 25.8,308.7 25.9,308.7 26.1,308.7 26.2,308.7 26.4,308.7 26.5,308.7 26.7,308.7 26.8,308.7 27.0,308.7 27.1,308.7 27.3,308.7 27.4,308.7 27.6,308.7 27.7,308.7 27.9,308.7 28.0,308.7 28.2,308.7 28.3,308.7 28.5,308.7 28.6,308.7 28.7,308.7 28.9,308.7 29.0,308.7 29.2,308.7 29.3,308.7 29.5,308.7 29.6,308.7 29.8,308.7 29.9,308.7 30.1,308.7 30.2,308.7 30.4,308.7 30.5,308.7 30.7,308.7 30.8,308.7 31.0,308.7 31.1,308.7 31.3,308.7 31.4,308.7 31.6,308.7 31.7,308.7 31.9,308.7 32.0,308.7 32.2,308.7 32.3,308.7 32.5,308.7 32.6,308.7 32.7,308.7 32.9,308.7 33.0,308.7 33.2,308.7 33.3,308.7 33.5,308.7 33.6,308.7 33.8,308.7 33.9,308.7 34.1,308.7 34.2,308.7 34.4,308.7 34.5,308.7 34.7,308.7 34.8,308.7 35.0,308.7 35.1,308.7 35.3,308.7 35.4,308.7 35.6,308.7 35.7,308.7 35.9,308.7 36.0,308.7 36.2,308.7 36.3,308.7 36.5,308.7 36.6,308.7 36.7,308.7 36.9,308.7 37.0,308.7 37.2,308.7 37.3,308.7 37.5,308.7 37.6,308.7 37.8,308.7 37.9,308.7 38.1,308.7 38.2,308.7 38.4,308.7 38.5,308.7 38.7,308.7 38.8,308.7 39.0,308.7 39.1,308.7 39.3,308.7 39.4,308.7 39.6,308.7 39.7,308.7 39.9,308.7 40.0,308.7 40.2,308.7 40.3,308.7 40.5,308.7 40.6,308.7 40.7,308.7 40.9,308.7 41.0,308.7 41.2,308.7 41.3,308.7 41.5,308.7 41.6,308.7 41.8,308.7 41.9,308.7 42.1,308.7 42.2,308.7 42.4,308.7 42.5,308.7 42.7,308.7 42.8,308.7 43.0,308.7 43.1,308.7 43.3,308.7 43.4,308.7 43.6,308.7 43.7,308.7 43.9,308.7 44.0,308.7 44.2,308.7 44.3,308.7 44.5,308.7 44.6,308.7 44.8,308.7 44.9,308.7 45.0,308.7 45.2,308.7 45.3,308.7 45.5,308.7 45.6,308.7 45.8,308.7 45.9,308.7 46.1,308.7 46.2,308.7 46.4,308.7 46.5,308.7 46.7,308.7 46.8,308.7 47.0,308.7 47.1,308.7 47.3,308.7 47.4,308.7 47.6,308.7 47.7,308.7 47.9,308.7 48.0,308.7 48.2,308.7 48.3,308.7 48.5,308.7 48.6,308.7 48.8,308.7 48.9,308.7 49.0,308.7 49.2,308.7 49.3,308.7 49.5,308.7 49.6,308.7 49.8,308.7 49.9,308.7 50.1,308.7 50.2,308.7 50.4,308.7 50.5,308.7 50.7,308.7 50.8,308.7 51.0,308.7 51.1,308.7 51.3,308.7 51.4,308.7 51.6,308.7 51.7,308.7 51.9,308.7 52.0,308.7 52.2,308.7 52.3,308.7 52.5,308.7 52.6,308.7 52.8,308.7 52.9,308.7 53.0,308.7 53.2,308.7 53.3,308.7 53.5,308.7 53.6,308.7 53.8,308.7 53.9,308.7 54.1,308.7 54.2,308.7 54.4,308.7 54.5,308.7 54.7,308.7 54.8,308.7 55.0,308.7 55.1,308.7 55.3,308.7 55.4,308.7 55.6,308.7 55.7,308.7 55.9,308.7 56.0,308.7 56.2,308.7 56.3,308.7 56.5,308.7 56.6,308.7 56.8,308.7 56.9,308.7 57.0,308.7 57.2,308.7 57.3,308.7 57.5,308.7 57.6,308.7 57.8,308.7 57.9,308.7 58.1,308.7 58.2,308.7 58.4,308.7 58.5,308.7 58.7,308.7 58.8,308.7 59.0,308.7 59.1,308.7 59.3,308.7 59.4,308.7 59.6,308.7 59.7,308.7 59.9,308.7 60.0,308.7 60.2,308.7 60.3,308.7 60.5,308.7 60.6,308.7 60.8,308.7 60.9,308.7 61.0,308.7 61.2,308.7 61.3,308.7 61.5,308.7 61.6,308.7 61.8,308.7 61.9,308.7 62.1,308.7 62.2,308.7 62.4,308.7 62.5,308.7 62.7,308.7 62.8,308.7 63.0,308.7 63.1,308.7 63.3,308.7 63.4,308.7 63.6,308.7 63.7,308.7 63.9,308.7 64.0,308.7 64.2,308.7 64.3,308.7 64.5,308.7 64.6,308.7 64.8,308.7 64.9,308.7" fill="none" stroke="#ff0000" stroke-width="1.15" stroke-linejoin="round"/><rect x="20.60" y="294.20" width="44.30" height="43.40" fill="none" stroke="#222" stroke-width="1.15"/><path d="M42.75 337.60v-1.4M42.75 294.20v1.4M20.60 308.67h1.4M64.90 308.67h-1.4M20.60 323.13h1.4M64.90 323.13h-1.4" stroke="#2a2a2a" stroke-width="0.7" fill="none"/><text x="18.7" y="296.6" text-anchor="end">1.5</text><text x="18.7" y="311.1" text-anchor="end">1</text><text x="18.7" y="325.5" text-anchor="end">0.5</text><text x="18.7" y="341.5" text-anchor="end">0</text><text x="42.8" y="345.3" text-anchor="middle">π</text><text x="66.1" y="345.3" text-anchor="end">2π</text><polyline points="81.1,308.3 81.2,309.0 81.4,307.6 81.5,306.8 81.7,306.0 81.8,307.4 82.0,308.4 82.1,308.9 82.3,307.1 82.4,306.1 82.6,308.2 82.7,310.4 82.9,310.3 83.0,307.3 83.2,309.5 83.3,312.3 83.5,310.6 83.6,312.4 83.8,312.1 83.9,312.3 84.1,313.1 84.2,311.9 84.4,313.2 84.5,314.4 84.7,313.6 84.8,313.6 85.0,317.4 85.1,316.1 85.2,317.7 85.4,317.2 85.5,319.2 85.7,318.1 85.8,318.8 86.0,319.8 86.1,321.4 86.3,321.1 86.4,322.7 86.6,323.6 86.7,322.2 86.9,324.6 87.0,322.2 87.2,323.4 87.3,327.6 87.5,325.2 87.6,327.6 87.8,326.8 87.9,327.3 88.1,330.6 88.2,328.9 88.4,329.4 88.5,328.4 88.7,331.7 88.8,329.8 89.0,332.7 89.1,332.1 89.2,333.3 89.4,330.8 89.5,332.3 89.7,330.3 89.8,333.1 90.0,333.2 90.1,333.6 90.3,335.8 90.4,335.4 90.6,333.8 90.7,336.4 90.9,335.9 91.0,336.3 91.2,335.7 91.3,337.2 91.5,337.0 91.6,336.6 91.8,336.9 91.9,337.6 92.1,336.0 92.2,337.6 92.4,337.6 92.5,337.6 92.7,335.8 92.8,337.4 93.0,337.6 93.1,337.6 93.2,336.0 93.4,337.6 93.5,337.6 93.7,335.1 93.8,337.2 94.0,335.8 94.1,335.1 94.3,335.3 94.4,334.4 94.6,332.3 94.7,334.3 94.9,334.8 95.0,335.2 95.2,332.6 95.3,332.3 95.5,331.0 95.6,331.5 95.8,331.0 95.9,330.8 96.1,330.0 96.2,328.5 96.4,328.7 96.5,327.5 96.7,324.5 96.8,325.8 97.0,327.9 97.1,323.0 97.2,324.2 97.4,325.2 97.5,322.2 97.7,322.8 97.8,323.0 98.0,322.4 98.1,322.2 98.3,320.3 98.4,318.4 98.6,319.6 98.7,318.0 98.9,315.5 99.0,319.0 99.2,316.5 99.3,316.7 99.5,317.1 99.6,316.5 99.8,314.7 99.9,313.6 100.1,314.4 100.2,313.1 100.4,311.8 100.5,311.9 100.7,310.7 100.8,310.9 101.0,310.5 101.1,308.3 101.2,309.6 101.4,309.9 101.5,308.8 101.7,310.7 101.8,309.7 102.0,308.0 102.1,308.0 102.3,306.6 102.4,308.5 102.6,310.3 102.7,305.7 102.9,306.7 103.0,309.5 103.2,306.3 103.3,308.0 103.5,310.5 103.6,308.7 103.8,308.9 103.9,306.3 104.1,309.5 104.2,309.0 104.4,309.2 104.5,309.5 104.7,310.4 104.8,309.2 105.0,308.4 105.1,309.3 105.3,311.6 105.4,312.2 105.5,310.9 105.7,312.4 105.8,312.7 106.0,314.5 106.1,310.2 106.3,312.0 106.4,314.9 106.6,313.0 106.7,312.9 106.9,318.3 107.0,316.4 107.2,316.8 107.3,316.0 107.5,317.5 107.6,318.3 107.8,318.6 107.9,316.7 108.1,316.9 108.2,321.0 108.4,322.2 108.5,318.1 108.7,323.5 108.8,323.5 109.0,323.4 109.1,323.4 109.3,323.3 109.4,324.7 109.5,327.0 109.7,325.8 109.8,326.7 110.0,325.2 110.1,328.2 110.3,330.5 110.4,330.6 110.6,327.9 110.7,331.1 110.9,333.6 111.0,332.1 111.2,331.8 111.3,330.8 111.5,334.1 111.6,332.3 111.8,332.6 111.9,334.9 112.1,334.6 112.2,332.4 112.4,332.8 112.5,334.2 112.7,335.2 112.8,334.4 113.0,336.3 113.1,336.5 113.3,337.6 113.4,336.7 113.5,337.0 113.7,333.4 113.8,337.3 114.0,335.5 114.1,335.4 114.3,337.4 114.4,335.6 114.6,337.6 114.7,336.9 114.9,335.8 115.0,337.6 115.2,337.6 115.3,335.1 115.5,336.7 115.6,337.5 115.8,336.3 115.9,336.3 116.1,334.4 116.2,334.4 116.4,335.0 116.5,335.2 116.7,334.0 116.8,331.8 117.0,332.6 117.1,331.8 117.3,332.4 117.4,333.4 117.5,332.2 117.7,329.9 117.8,330.1 118.0,330.8 118.1,331.2 118.3,328.4 118.4,328.4 118.6,327.9 118.7,327.2 118.9,325.8 119.0,325.2 119.2,323.7 119.3,323.2 119.5,322.0 119.6,322.1 119.8,322.9 119.9,321.9 120.1,320.6 120.2,321.0 120.4,319.3 120.5,317.9 120.7,319.8 120.8,320.5 121.0,316.0 121.1,316.9 121.3,315.5 121.4,317.5 121.5,313.0 121.7,313.7 121.8,314.3 122.0,314.1 122.1,313.0 122.3,312.9 122.4,312.5 122.6,313.2 122.7,309.6 122.9,310.9 123.0,310.4 123.2,310.0 123.3,312.8 123.5,308.7 123.6,309.5 123.8,309.2 123.9,308.4 124.1,309.5 124.2,307.0 124.4,308.8 124.5,308.9 124.7,308.7 124.8,307.2 125.0,306.4 125.1,308.0 125.3,309.2 125.4,305.8" fill="none" stroke="#ff0000" stroke-width="1.55" stroke-linejoin="round"/><rect x="81.10" y="294.20" width="44.30" height="43.40" fill="none" stroke="#222" stroke-width="1.15"/><path d="M103.25 337.60v-1.4M103.25 294.20v1.4M81.10 315.90h1.4M125.40 315.90h-1.4" stroke="#2a2a2a" stroke-width="0.7" fill="none"/><text x="80.1" y="296.6" text-anchor="end">0.05</text><text x="79.2" y="318.3" text-anchor="end">0</text><text x="79.6" y="341.3" text-anchor="end">-0.05</text><text x="81.7" y="345.3" text-anchor="middle">0</text><text x="103.2" y="345.3" text-anchor="middle">π</text><text x="126.6" y="345.3" text-anchor="end">2π</text><polyline points="141.0,315.9 141.1,311.9 141.3,313.2 141.4,313.6 141.6,313.0 141.7,310.7 141.9,309.6 142.0,310.7 142.2,308.4 142.3,306.2 142.5,309.2 142.6,310.1 142.8,309.5 142.9,309.6 143.1,308.0 143.2,307.7 143.4,308.2 143.5,305.0 143.7,309.4 143.8,307.1 144.0,301.7 144.1,302.9 144.3,303.4 144.4,303.3 144.6,301.0 144.7,302.7 144.9,303.2 145.0,305.0 145.1,303.1 145.3,304.0 145.4,303.9 145.6,303.8 145.7,302.7 145.9,303.2 146.0,301.3 146.2,304.7 146.3,303.0 146.5,300.0 146.6,302.9 146.8,301.2 146.9,301.5 147.1,301.4 147.2,302.5 147.4,305.9 147.5,304.5 147.7,304.9 147.8,307.0 148.0,305.6 148.1,307.1 148.3,308.1 148.4,305.7 148.6,306.4 148.7,307.8 148.9,308.7 149.0,308.5 149.1,308.7 149.3,309.2 149.4,309.2 149.6,310.3 149.7,309.5 149.9,309.9 150.0,310.6 150.2,312.8 150.3,313.2 150.5,312.2 150.6,313.8 150.8,314.1 150.9,318.4 151.1,319.3 151.2,315.3 151.4,315.9 151.5,314.9 151.7,316.5 151.8,317.9 152.0,318.8 152.1,321.6 152.3,318.7 152.4,321.5 152.6,320.4 152.7,321.5 152.9,321.9 153.0,321.5 153.1,324.2 153.3,324.6 153.4,325.8 153.6,325.6 153.7,323.0 153.9,326.5 154.0,324.7 154.2,325.7 154.3,326.2 154.5,326.5 154.6,329.7 154.8,328.0 154.9,326.5 155.1,330.3 155.2,329.6 155.4,330.9 155.5,329.7 155.7,332.0 155.8,328.2 156.0,331.4 156.1,333.4 156.3,328.5 156.4,329.9 156.6,330.7 156.7,330.7 156.9,332.1 157.0,332.0 157.1,330.6 157.3,330.3 157.4,330.2 157.6,331.2 157.7,332.2 157.9,331.7 158.0,329.5 158.2,328.9 158.3,331.4 158.5,331.4 158.6,328.6 158.8,329.1 158.9,328.9 159.1,331.7 159.2,329.9 159.4,329.8 159.5,328.3 159.7,330.8 159.8,326.0 160.0,327.0 160.1,326.4 160.3,328.4 160.4,326.2 160.6,323.7 160.7,327.6 160.9,324.2 161.0,323.1 161.1,324.7 161.3,321.9 161.4,323.1 161.6,320.2 161.7,320.7 161.9,320.6 162.0,317.3 162.2,318.5 162.3,317.2 162.5,320.4 162.6,319.0 162.8,316.2 162.9,315.5 163.1,316.4 163.2,314.5 163.4,316.7 163.5,314.2 163.7,315.7 163.8,312.9 164.0,313.6 164.1,313.3 164.3,311.7 164.4,308.5 164.6,312.3 164.7,311.2 164.9,308.2 165.0,310.0 165.2,306.2 165.3,308.1 165.4,307.9 165.6,307.1 165.7,304.6 165.9,305.9 166.0,305.8 166.2,305.8 166.3,308.3 166.5,307.0 166.6,303.1 166.8,303.9 166.9,304.1 167.1,303.7 167.2,305.4 167.4,303.9 167.5,305.6 167.7,303.5 167.8,305.1 168.0,304.3 168.1,303.3 168.3,304.5 168.4,303.0 168.6,303.3 168.7,303.5 168.9,302.2 169.0,306.5 169.2,306.9 169.3,303.7 169.4,303.3 169.6,301.9 169.7,304.1 169.9,304.2 170.0,307.1 170.2,304.9 170.3,305.3 170.5,308.3 170.6,308.4 170.8,307.6 170.9,307.3 171.1,312.7 171.2,308.5 171.4,308.7 171.5,309.8 171.7,309.6 171.8,309.7 172.0,312.5 172.1,310.8 172.3,312.3 172.4,313.9 172.6,312.7 172.7,311.3 172.9,316.3 173.0,317.1 173.2,317.7 173.3,312.8 173.4,316.7 173.6,317.0 173.7,318.6 173.9,319.4 174.0,321.7 174.2,318.9 174.3,319.3 174.5,323.3 174.6,322.4 174.8,322.5 174.9,321.9 175.1,322.0 175.2,321.2 175.4,321.3 175.5,322.3 175.7,322.4 175.8,326.6 176.0,326.2 176.1,324.0 176.3,325.8 176.4,326.6 176.6,330.0 176.7,330.2 176.9,326.6 177.0,327.5 177.2,328.8 177.3,329.3 177.4,331.6 177.6,328.7 177.7,327.9 177.9,327.2 178.0,329.8 178.2,330.3 178.3,331.8 178.5,328.4 178.6,327.8 178.8,331.4 178.9,330.1 179.1,330.4 179.2,331.4 179.4,334.3 179.5,331.0 179.7,329.5 179.8,332.5 180.0,331.4 180.1,335.0 180.3,327.9 180.4,328.9 180.6,329.4 180.7,329.6 180.9,329.9 181.0,328.8 181.2,328.8 181.3,328.4 181.4,327.7 181.6,327.1 181.7,324.6 181.9,328.8 182.0,325.7 182.2,326.7 182.3,327.0 182.5,328.4 182.6,323.4 182.8,325.3 182.9,324.5 183.1,322.1 183.2,323.9 183.4,321.7 183.5,321.3 183.7,319.4 183.8,318.5 184.0,320.8 184.1,317.5 184.3,318.5 184.4,317.6 184.6,317.5 184.7,315.4 184.9,317.9 185.0,315.0 185.2,313.1 185.3,314.7" fill="none" stroke="#ff0000" stroke-width="1.55" stroke-linejoin="round"/><rect x="141.00" y="294.20" width="44.30" height="43.40" fill="none" stroke="#222" stroke-width="1.15"/><path d="M163.15 337.60v-1.4M163.15 294.20v1.4M141.00 315.90h1.4M185.30 315.90h-1.4" stroke="#2a2a2a" stroke-width="0.7" fill="none"/><text x="140.0" y="296.6" text-anchor="end">0.05</text><text x="139.1" y="318.3" text-anchor="end">0</text><text x="139.5" y="341.3" text-anchor="end">-0.05</text><text x="141.6" y="345.3" text-anchor="middle">0</text><text x="163.2" y="345.3" text-anchor="middle">π</text><text x="186.5" y="345.3" text-anchor="end">2π</text><polyline points="201.2,315.4 201.4,316.0 201.5,315.9 201.7,313.8 201.8,315.0 202.0,315.8 202.1,316.0 202.3,318.2 202.4,315.4 202.6,316.8 202.7,315.9 202.9,316.0 203.0,315.2 203.2,314.1 203.3,315.1 203.5,314.8 203.6,316.3 203.8,315.6 203.9,315.3 204.1,317.4 204.2,314.1 204.4,316.7 204.5,317.2 204.7,314.4 204.8,314.0 205.0,316.6 205.1,316.5 205.3,313.0 205.4,315.8 205.5,317.8 205.7,316.5 205.8,314.0 206.0,315.3 206.1,315.2 206.3,314.7 206.4,315.2 206.6,316.2 206.7,317.4 206.9,315.4 207.0,316.9 207.2,315.9 207.3,314.1 207.5,315.3 207.6,315.7 207.8,315.7 207.9,315.0 208.1,314.8 208.2,317.0 208.4,315.5 208.5,314.0 208.7,314.9 208.8,316.4 209.0,316.3 209.1,317.6 209.3,316.4 209.4,314.1 209.5,315.7 209.7,316.4 209.8,316.1 210.0,315.7 210.1,315.6 210.3,315.9 210.4,316.3 210.6,314.9 210.7,314.0 210.9,316.0 211.0,316.0 211.2,314.3 211.3,316.9 211.5,316.0 211.6,315.8 211.8,315.3 211.9,315.7 212.1,316.3 212.2,315.1 212.4,316.6 212.5,317.1 212.7,317.4 212.8,314.7 213.0,317.1 213.1,315.0 213.3,314.8 213.4,314.7 213.5,315.6 213.7,316.0 213.8,315.4 214.0,316.0 214.1,316.7 214.3,314.3 214.4,316.3 214.6,313.8 214.7,315.0 214.9,316.0 215.0,315.1 215.2,314.4 215.3,316.9 215.5,316.5 215.6,316.6 215.8,315.5 215.9,315.3 216.1,315.6 216.2,316.4 216.4,316.2 216.5,314.6 216.7,314.7 216.8,315.7 217.0,317.1 217.1,315.3 217.3,315.6 217.4,315.7 217.5,314.3 217.7,315.2 217.8,317.0 218.0,317.0 218.1,314.8 218.3,316.0 218.4,315.4 218.6,316.4 218.7,317.2 218.9,316.1 219.0,314.9 219.2,316.1 219.3,317.5 219.5,316.8 219.6,317.0 219.8,316.4 219.9,315.7 220.1,314.8 220.2,316.5 220.4,317.2 220.5,316.7 220.7,316.8 220.8,317.3 221.0,316.9 221.1,317.0 221.3,318.2 221.4,316.6 221.5,317.5 221.7,318.1 221.8,316.7 222.0,317.7 222.1,315.6 222.3,316.8 222.4,317.2 222.6,318.0 222.7,317.7 222.9,316.5 223.0,318.0 223.2,316.6 223.3,319.4 223.5,317.2 223.6,316.6 223.8,317.0 223.9,317.3 224.1,316.4 224.2,318.1 224.4,318.2 224.5,317.2 224.7,316.1 224.8,316.8 225.0,317.4 225.1,316.9 225.3,316.7 225.4,318.3 225.5,319.7 225.7,318.0 225.8,318.4 226.0,317.5 226.1,318.0 226.3,317.7 226.4,316.4 226.6,316.7 226.7,316.8 226.9,315.1 227.0,317.1 227.2,317.0 227.3,315.4 227.5,317.6 227.6,318.1 227.8,315.2 227.9,316.1 228.1,315.8 228.2,315.8 228.4,315.5 228.5,316.8 228.7,316.4 228.8,317.4 229.0,316.2 229.1,316.0 229.3,316.7 229.4,315.6 229.5,313.4 229.7,317.3 229.8,315.4 230.0,315.3 230.1,315.2 230.3,317.0 230.4,315.1 230.6,315.6 230.7,316.4 230.9,316.6 231.0,316.0 231.2,315.4 231.3,315.4 231.5,314.1 231.6,316.6 231.8,315.7 231.9,316.7 232.1,315.6 232.2,316.2 232.4,316.9 232.5,317.7 232.7,317.2 232.8,316.2 233.0,315.1 233.1,315.7 233.3,317.6 233.4,317.0 233.5,316.5 233.7,316.7 233.8,316.6 234.0,315.9 234.1,316.5 234.3,317.4 234.4,318.6 234.6,317.1 234.7,318.4 234.9,317.0 235.0,316.5 235.2,318.2 235.3,317.0 235.5,317.3 235.6,315.1 235.8,316.6 235.9,318.8 236.1,316.6 236.2,316.7 236.4,317.3 236.5,317.4 236.7,316.5 236.8,316.5 237.0,316.7 237.1,318.1 237.3,317.4 237.4,318.7 237.5,318.6 237.7,317.7 237.8,318.2 238.0,317.6 238.1,314.8 238.3,316.7 238.4,318.1 238.6,319.3 238.7,318.0 238.9,318.6 239.0,319.3 239.2,316.5 239.3,317.7 239.5,316.8 239.6,314.3 239.8,317.0 239.9,317.1 240.1,316.9 240.2,317.5 240.4,318.0 240.5,317.4 240.7,316.1 240.8,317.5 241.0,318.5 241.1,318.4 241.3,318.2 241.4,317.2 241.5,316.7 241.7,316.7 241.8,316.0 242.0,317.3 242.1,316.3 242.3,316.8 242.4,316.4 242.6,318.9 242.7,315.9 242.9,318.6 243.0,318.1 243.2,316.3 243.3,317.4 243.5,315.4 243.6,316.9 243.8,318.0 243.9,316.9 244.1,317.4 244.2,315.6 244.4,315.5 244.5,316.4 244.7,317.4 244.8,317.0 245.0,316.1 245.1,317.8 245.3,317.8 245.4,316.3 245.6,316.4" fill="none" stroke="#ff0000" stroke-width="1.55" stroke-linejoin="round"/><rect x="201.25" y="294.20" width="44.30" height="43.40" fill="none" stroke="#222" stroke-width="1.15"/><path d="M223.40 337.60v-1.4M223.40 294.20v1.4M201.25 315.90h1.4M245.55 315.90h-1.4" stroke="#2a2a2a" stroke-width="0.7" fill="none"/><text x="200.2" y="296.6" text-anchor="end">0.05</text><text x="199.3" y="318.3" text-anchor="end">0</text><text x="199.8" y="341.3" text-anchor="end">-0.05</text><text x="201.8" y="345.3" text-anchor="middle">0</text><text x="223.4" y="345.3" text-anchor="middle">π</text><text x="246.8" y="345.3" text-anchor="end">2π</text><polyline points="20.6,367.4 20.7,367.4 20.9,370.0 21.0,365.3 21.2,367.3 21.3,369.4 21.5,369.1 21.6,368.9 21.8,365.1 21.9,366.8 22.1,370.1 22.2,365.5 22.4,366.5 22.5,370.5 22.7,373.2 22.8,368.0 23.0,370.7 23.1,370.4 23.3,371.4 23.4,369.0 23.6,369.1 23.7,370.6 23.9,372.5 24.0,372.3 24.2,372.2 24.3,376.1 24.5,372.3 24.6,375.2 24.7,374.8 24.9,375.5 25.0,374.9 25.2,375.2 25.3,374.0 25.5,378.5 25.6,379.9 25.8,378.9 25.9,380.6 26.1,378.9 26.2,382.0 26.4,381.1 26.5,380.5 26.7,380.9 26.8,382.7 27.0,381.4 27.1,382.2 27.3,387.3 27.4,384.7 27.6,385.5 27.7,386.7 27.9,387.7 28.0,387.2 28.2,387.2 28.3,387.8 28.5,386.6 28.6,387.6 28.7,390.5 28.9,391.1 29.0,389.1 29.2,391.8 29.3,390.8 29.5,390.7 29.6,390.2 29.8,391.3 29.9,390.1 30.1,393.3 30.2,391.8 30.4,394.0 30.5,392.9 30.7,393.2 30.8,394.9 31.0,397.6 31.1,392.3 31.3,393.2 31.4,393.6 31.6,394.9 31.7,394.4 31.9,393.1 32.0,393.7 32.2,391.9 32.3,393.4 32.5,394.7 32.6,392.4 32.7,394.1 32.9,392.6 33.0,395.5 33.2,393.0 33.3,391.4 33.5,393.0 33.6,391.7 33.8,390.4 33.9,390.9 34.1,387.9 34.2,390.6 34.4,390.1 34.5,389.6 34.7,392.0 34.8,390.8 35.0,387.2 35.1,388.1 35.3,384.9 35.4,386.7 35.6,386.3 35.7,383.9 35.9,384.5 36.0,381.9 36.2,385.4 36.3,382.6 36.5,381.7 36.6,381.3 36.7,379.8 36.9,379.4 37.0,380.3 37.2,380.6 37.3,377.7 37.5,378.5 37.6,376.5 37.8,375.3 37.9,376.5 38.1,377.6 38.2,376.0 38.4,373.9 38.5,374.9 38.7,372.2 38.8,373.3 39.0,372.7 39.1,373.3 39.3,372.0 39.4,369.7 39.6,371.4 39.7,371.0 39.9,371.2 40.0,368.4 40.2,371.5 40.3,369.8 40.5,367.1 40.6,365.9 40.7,368.1 40.9,366.0 41.0,370.2 41.2,365.8 41.3,366.3 41.5,368.4 41.6,369.0 41.8,366.9 41.9,365.6 42.1,365.3 42.2,365.6 42.4,364.5 42.5,364.6 42.7,367.7 42.8,366.2 43.0,366.4 43.1,364.1 43.3,366.5 43.4,364.3 43.6,365.9 43.7,362.6 43.9,366.4 44.0,366.5 44.2,366.9 44.3,366.7 44.5,363.5 44.6,368.3 44.8,369.1 44.9,368.4 45.0,367.5 45.2,370.4 45.3,368.0 45.5,368.5 45.6,370.3 45.8,370.9 45.9,372.2 46.1,371.9 46.2,373.1 46.4,370.5 46.5,370.5 46.7,373.9 46.8,374.1 47.0,377.4 47.1,375.9 47.3,375.2 47.4,375.8 47.6,376.6 47.7,376.1 47.9,377.8 48.0,379.2 48.2,376.7 48.3,382.7 48.5,382.1 48.6,382.1 48.8,382.6 48.9,383.3 49.0,383.0 49.2,384.3 49.3,383.9 49.5,383.5 49.6,384.9 49.8,385.3 49.9,387.5 50.1,388.3 50.2,387.5 50.4,386.2 50.5,387.5 50.7,386.9 50.8,387.5 51.0,387.7 51.1,391.1 51.3,388.4 51.4,389.5 51.6,387.9 51.7,390.5 51.9,391.2 52.0,392.2 52.2,392.0 52.3,395.0 52.5,393.2 52.6,393.1 52.8,391.7 52.9,394.4 53.0,393.3 53.2,390.9 53.3,394.5 53.5,392.5 53.6,394.7 53.8,394.1 53.9,393.2 54.1,392.6 54.2,394.6 54.4,395.3 54.5,391.4 54.7,393.3 54.8,392.2 55.0,391.9 55.1,391.9 55.3,393.2 55.4,392.8 55.6,394.7 55.7,391.8 55.9,392.5 56.0,391.5 56.2,388.3 56.3,389.7 56.5,390.3 56.6,392.1 56.8,388.5 56.9,386.9 57.0,390.0 57.2,387.6 57.3,388.6 57.5,387.5 57.6,387.4 57.8,388.7 57.9,386.5 58.1,387.7 58.2,382.6 58.4,382.6 58.5,383.5 58.7,382.6 58.8,382.4 59.0,381.6 59.1,381.0 59.3,381.1 59.4,380.4 59.6,381.6 59.7,380.6 59.9,379.4 60.0,377.6 60.2,377.9 60.3,374.0 60.5,376.5 60.6,376.3 60.8,374.5 60.9,373.1 61.0,371.4 61.2,372.2 61.3,374.0 61.5,372.9 61.6,370.7 61.8,371.4 61.9,370.2 62.1,371.0 62.2,368.1 62.4,368.0 62.5,368.1 62.7,369.2 62.8,371.5 63.0,370.8 63.1,368.1 63.3,367.3 63.4,372.4 63.6,368.5 63.7,365.9 63.9,366.1 64.0,368.1 64.2,366.3 64.3,367.1 64.5,367.4 64.6,365.3 64.8,365.3 64.9,367.7" fill="none" stroke="#ff0000" stroke-width="1.55" stroke-linejoin="round"/><rect x="20.60" y="355.70" width="44.30" height="43.50" fill="none" stroke="#222" stroke-width="1.15"/><path d="M42.75 399.20v-1.4M42.75 355.70v1.4M20.60 377.45h1.4M64.90 377.45h-1.4" stroke="#2a2a2a" stroke-width="0.7" fill="none"/><text x="19.6" y="358.1" text-anchor="end">0.05</text><text x="18.7" y="379.8" text-anchor="end">0</text><text x="19.1" y="402.9" text-anchor="end">-0.05</text><text x="21.2" y="406.9" text-anchor="middle">0</text><text x="42.8" y="406.9" text-anchor="middle">π</text><text x="66.1" y="406.9" text-anchor="end">2π</text><polyline points="81.1,369.1 81.2,369.2 81.4,369.3 81.5,368.6 81.7,368.7 81.8,369.6 82.0,369.7 82.1,370.8 82.3,371.1 82.4,371.4 82.6,372.3 82.7,373.1 82.9,374.4 83.0,375.2 83.2,375.7 83.3,376.6 83.5,377.3 83.6,378.4 83.8,379.1 83.9,380.0 84.1,380.7 84.2,381.7 84.4,382.8 84.5,383.5 84.7,383.9 84.8,385.0 85.0,385.9 85.1,386.6 85.2,386.7 85.4,387.1 85.5,387.2 85.7,388.1 85.8,387.8 86.0,388.5 86.1,388.5 86.3,388.6 86.4,388.1 86.6,387.8 86.7,387.8 86.9,387.6 87.0,387.5 87.2,386.3 87.3,385.8 87.5,385.0 87.6,384.3 87.8,383.5 87.9,382.4 88.1,381.1 88.2,379.8 88.4,379.0 88.5,377.6 88.7,376.6 88.8,375.3 89.0,374.4 89.1,372.3 89.2,371.1 89.4,369.5 89.5,368.9 89.7,367.3 89.8,366.4 90.0,364.8 90.1,363.7 90.3,362.3 90.4,361.5 90.6,360.2 90.7,359.6 90.9,358.3 91.0,357.8 91.2,357.1 91.3,356.3 91.5,355.7 91.6,355.9 91.8,355.7 91.9,355.7 92.1,355.7 92.2,355.7 92.4,355.7 92.5,355.7 92.7,355.7 92.8,355.7 93.0,355.7 93.1,356.3 93.2,356.5 93.4,358.6 93.5,359.0 93.7,359.5 93.8,361.3 94.0,362.4 94.1,363.0 94.3,363.9 94.4,365.1 94.6,367.3 94.7,368.4 94.9,369.4 95.0,370.8 95.2,371.9 95.3,373.2 95.5,374.0 95.6,375.9 95.8,377.1 95.9,378.3 96.1,379.2 96.2,381.0 96.4,381.6 96.5,383.0 96.7,384.2 96.8,384.1 97.0,385.2 97.1,385.6 97.2,386.6 97.4,387.0 97.5,387.6 97.7,387.8 97.8,388.4 98.0,387.8 98.1,388.8 98.3,387.9 98.4,388.4 98.6,387.8 98.7,387.8 98.9,387.3 99.0,386.5 99.2,386.4 99.3,386.2 99.5,385.2 99.6,384.3 99.8,384.6 99.9,382.7 100.1,381.8 100.2,381.9 100.4,380.5 100.5,379.2 100.7,379.0 100.8,377.9 101.0,376.9 101.1,375.7 101.2,374.7 101.4,374.3 101.5,373.4 101.7,372.4 101.8,371.8 102.0,371.4 102.1,370.3 102.3,370.8 102.4,369.8 102.6,369.6 102.7,369.3 102.9,368.9 103.0,368.8 103.2,367.9 103.3,368.5 103.5,368.7 103.6,368.5 103.8,369.0 103.9,370.3 104.1,370.0 104.2,370.3 104.4,371.3 104.5,371.7 104.7,372.6 104.8,373.0 105.0,374.5 105.1,375.5 105.3,375.9 105.4,376.5 105.5,377.0 105.7,378.5 105.8,379.6 106.0,380.0 106.1,381.2 106.3,381.6 106.4,383.1 106.6,384.6 106.7,385.1 106.9,385.9 107.0,386.8 107.2,387.3 107.3,387.9 107.5,388.3 107.6,388.9 107.8,388.9 107.9,389.3 108.1,389.6 108.2,389.7 108.4,390.5 108.5,390.4 108.7,390.0 108.8,389.4 109.0,389.6 109.1,388.9 109.3,388.1 109.4,387.0 109.5,386.9 109.7,386.4 109.8,385.0 110.0,384.4 110.1,383.6 110.3,382.0 110.4,381.6 110.6,380.1 110.7,378.9 110.9,377.4 111.0,376.9 111.2,375.6 111.3,374.0 111.5,372.7 111.6,371.3 111.8,370.1 111.9,368.6 112.1,367.2 112.2,366.2 112.4,365.5 112.5,363.6 112.7,363.5 112.8,362.0 113.0,360.7 113.1,360.4 113.3,359.0 113.4,358.1 113.5,357.6 113.7,357.5 113.8,357.0 114.0,357.2 114.1,356.7 114.3,356.6 114.4,356.7 114.6,356.9 114.7,357.2 114.9,358.2 115.0,357.8 115.2,358.3 115.3,358.4 115.5,359.5 115.6,360.6 115.8,361.2 115.9,362.2 116.1,363.5 116.2,364.7 116.4,366.2 116.5,366.8 116.7,367.5 116.8,370.0 117.0,371.0 117.1,371.7 117.3,373.2 117.4,374.4 117.5,376.5 117.7,377.3 117.8,378.2 118.0,379.4 118.1,380.6 118.3,382.2 118.4,382.8 118.6,384.4 118.7,385.2 118.9,386.2 119.0,386.1 119.2,387.5 119.3,387.9 119.5,389.3 119.6,388.6 119.8,389.2 119.9,390.2 120.1,390.3 120.2,389.3 120.4,390.2 120.5,389.1 120.7,389.7 120.8,390.1 121.0,388.5 121.1,388.3 121.3,387.7 121.4,387.5 121.5,386.8 121.7,385.6 121.8,385.5 122.0,385.1 122.1,383.2 122.3,382.9 122.4,381.3 122.6,381.0 122.7,380.0 122.9,379.0 123.0,378.8 123.2,376.6 123.3,376.4 123.5,375.3 123.6,373.9 123.8,373.5 123.9,372.5 124.1,372.0 124.2,371.2 124.4,370.8 124.5,369.9 124.7,369.9 124.8,369.3 125.0,369.4 125.1,368.6 125.3,369.6 125.4,368.7" fill="none" stroke="#ff0000" stroke-width="1.4" stroke-linejoin="round"/><rect x="81.10" y="355.70" width="44.30" height="43.50" fill="none" stroke="#222" stroke-width="1.15"/><path d="M103.25 399.20v-1.4M103.25 355.70v1.4M81.10 377.45h1.4M125.40 377.45h-1.4" stroke="#2a2a2a" stroke-width="0.7" fill="none"/><text x="79.2" y="358.1" text-anchor="end">0.5</text><text x="80.1" y="379.8" text-anchor="end">0.25</text><text x="79.2" y="403.1" text-anchor="end">0</text><text x="103.2" y="406.9" text-anchor="middle">π</text><text x="126.6" y="406.9" text-anchor="end">2π</text><polyline points="141.0,378.8 141.1,377.5 141.3,376.4 141.4,374.6 141.6,373.0 141.7,373.0 141.9,372.4 142.0,370.9 142.2,369.7 142.3,368.4 142.5,367.4 142.6,366.0 142.8,365.8 142.9,364.9 143.1,364.3 143.2,364.1 143.4,363.5 143.5,361.8 143.7,362.8 143.8,363.0 144.0,363.5 144.1,362.2 144.3,363.0 144.4,363.4 144.6,362.5 144.7,363.5 144.9,365.4 145.0,365.5 145.1,365.7 145.3,366.7 145.4,368.5 145.6,368.2 145.7,369.3 145.9,371.7 146.0,373.1 146.2,374.2 146.3,374.6 146.5,375.6 146.6,377.3 146.8,378.9 146.9,380.0 147.1,381.0 147.2,383.0 147.4,384.4 147.5,384.8 147.7,385.4 147.8,386.9 148.0,387.8 148.1,389.1 148.3,389.2 148.4,391.1 148.6,391.0 148.7,391.8 148.9,392.1 149.0,392.7 149.1,392.2 149.3,392.7 149.4,393.0 149.6,392.4 149.7,392.4 149.9,392.3 150.0,391.9 150.2,390.7 150.3,390.8 150.5,389.8 150.6,389.0 150.8,387.8 150.9,387.0 151.1,384.9 151.2,385.5 151.4,383.2 151.5,382.2 151.7,380.4 151.8,380.3 152.0,377.7 152.1,377.4 152.3,375.2 152.4,373.9 152.6,372.7 152.7,371.7 152.9,370.4 153.0,368.7 153.1,367.9 153.3,367.2 153.4,366.0 153.6,363.9 153.7,362.9 153.9,362.2 154.0,361.6 154.2,360.8 154.3,360.2 154.5,359.8 154.6,359.9 154.8,359.6 154.9,359.7 155.1,359.1 155.2,359.7 155.4,359.5 155.5,359.2 155.7,360.4 155.8,360.4 156.0,360.8 156.1,363.0 156.3,363.6 156.4,363.7 156.6,365.3 156.7,365.8 156.9,366.9 157.0,368.6 157.1,369.3 157.3,370.2 157.4,371.9 157.6,374.1 157.7,375.1 157.9,376.7 158.0,377.2 158.2,379.3 158.3,380.9 158.5,381.9 158.6,382.9 158.8,384.6 158.9,385.5 159.1,386.7 159.2,387.4 159.4,388.2 159.5,389.4 159.7,390.5 159.8,390.8 160.0,392.0 160.1,391.6 160.3,392.3 160.4,392.6 160.6,393.9 160.7,391.8 160.9,392.2 161.0,392.1 161.1,392.3 161.3,391.6 161.4,390.2 161.6,391.1 161.7,389.8 161.9,389.1 162.0,388.5 162.2,387.4 162.3,387.0 162.5,385.2 162.6,385.0 162.8,382.4 162.9,381.7 163.1,381.2 163.2,380.5 163.4,378.3 163.5,376.8 163.7,376.3 163.8,373.9 164.0,373.3 164.1,372.4 164.3,371.7 164.4,370.1 164.6,369.2 164.7,367.9 164.9,366.8 165.0,366.5 165.2,365.6 165.3,364.6 165.4,364.5 165.6,364.4 165.7,363.8 165.9,364.1 166.0,363.5 166.2,363.7 166.3,364.4 166.5,363.9 166.6,364.4 166.8,364.6 166.9,366.0 167.1,365.6 167.2,366.3 167.4,367.8 167.5,368.6 167.7,369.5 167.8,370.5 168.0,371.2 168.1,373.0 168.3,374.4 168.4,375.2 168.6,375.6 168.7,377.8 168.9,379.3 169.0,380.6 169.2,381.3 169.3,382.1 169.4,384.1 169.6,384.9 169.7,386.0 169.9,386.9 170.0,388.1 170.2,388.6 170.3,389.6 170.5,390.9 170.6,390.3 170.8,392.5 170.9,392.9 171.1,392.3 171.2,392.9 171.4,393.2 171.5,393.1 171.7,392.8 171.8,393.1 172.0,392.9 172.1,392.7 172.3,392.1 172.4,391.4 172.6,389.8 172.7,389.4 172.9,388.4 173.0,387.9 173.2,386.1 173.3,386.1 173.4,384.0 173.6,382.6 173.7,381.9 173.9,380.7 174.0,378.7 174.2,377.8 174.3,376.5 174.5,374.7 174.6,373.8 174.8,372.0 174.9,369.7 175.1,369.4 175.2,367.5 175.4,367.2 175.5,365.5 175.7,364.6 175.8,363.5 176.0,362.2 176.1,360.7 176.3,360.9 176.4,359.7 176.6,359.5 176.7,358.9 176.9,359.1 177.0,359.0 177.2,358.7 177.3,359.0 177.4,358.8 177.6,359.5 177.7,359.4 177.9,359.8 178.0,359.6 178.2,360.3 178.3,361.6 178.5,362.9 178.6,363.4 178.8,364.3 178.9,365.9 179.1,367.3 179.2,369.0 179.4,369.5 179.5,369.9 179.7,372.2 179.8,373.3 180.0,374.7 180.1,376.0 180.3,377.2 180.4,379.8 180.6,380.3 180.7,381.3 180.9,382.8 181.0,383.4 181.2,385.2 181.3,385.7 181.4,386.3 181.6,388.1 181.7,388.8 181.9,389.6 182.0,389.8 182.2,391.6 182.3,391.7 182.5,391.5 182.6,391.2 182.8,391.4 182.9,392.0 183.1,390.8 183.2,391.2 183.4,391.2 183.5,390.2 183.7,389.3 183.8,389.3 184.0,389.2 184.1,387.9 184.3,386.7 184.4,385.4 184.6,385.2 184.7,383.5 184.9,383.0 185.0,381.3 185.2,380.7 185.3,379.1" fill="none" stroke="#ff0000" stroke-width="1.4" stroke-linejoin="round"/><rect x="141.00" y="355.70" width="44.30" height="43.50" fill="none" stroke="#222" stroke-width="1.15"/><path d="M163.15 399.20v-1.4M163.15 355.70v1.4M141.00 377.45h1.4M185.30 377.45h-1.4" stroke="#2a2a2a" stroke-width="0.7" fill="none"/><text x="139.1" y="358.1" text-anchor="end">0.2</text><text x="139.1" y="379.8" text-anchor="end">0</text><text x="139.5" y="402.9" text-anchor="end">-0.2</text><text x="141.6" y="406.9" text-anchor="middle">0</text><text x="163.2" y="406.9" text-anchor="middle">π</text><text x="186.5" y="406.9" text-anchor="end">2π</text><polyline points="201.2,374.1 201.4,372.4 201.5,374.5 201.7,374.4 201.8,374.0 202.0,375.7 202.1,375.5 202.3,373.1 202.4,376.3 202.6,372.5 202.7,373.6 202.9,372.4 203.0,372.9 203.2,373.1 203.3,371.6 203.5,373.9 203.6,374.0 203.8,372.3 203.9,374.7 204.1,372.3 204.2,372.9 204.4,374.4 204.5,375.4 204.7,376.4 204.8,371.3 205.0,375.7 205.1,375.4 205.3,372.7 205.4,373.2 205.5,373.5 205.7,373.7 205.8,374.4 206.0,375.1 206.1,374.8 206.3,373.1 206.4,372.5 206.6,372.4 206.7,374.0 206.9,376.9 207.0,373.3 207.2,374.2 207.3,377.6 207.5,372.3 207.6,373.8 207.8,374.2 207.9,373.9 208.1,374.0 208.2,373.9 208.4,374.1 208.5,374.2 208.7,373.5 208.8,373.8 209.0,371.1 209.1,374.1 209.3,375.0 209.4,375.1 209.5,373.9 209.7,374.2 209.8,374.1 210.0,374.7 210.1,374.7 210.3,373.5 210.4,372.7 210.6,374.0 210.7,374.6 210.9,376.0 211.0,376.0 211.2,374.5 211.3,374.9 211.5,374.7 211.6,376.0 211.8,374.7 211.9,377.1 212.1,376.1 212.2,375.6 212.4,373.8 212.5,375.4 212.7,375.8 212.8,374.3 213.0,374.7 213.1,373.4 213.3,374.2 213.4,374.3 213.5,374.9 213.7,373.7 213.8,375.6 214.0,376.6 214.1,373.4 214.3,375.2 214.4,374.5 214.6,373.7 214.7,373.2 214.9,378.3 215.0,375.9 215.2,372.9 215.3,376.7 215.5,373.9 215.6,375.0 215.8,375.6 215.9,374.6 216.1,376.7 216.2,373.9 216.4,372.9 216.5,376.3 216.7,375.3 216.8,372.8 217.0,373.9 217.1,374.8 217.3,372.5 217.4,376.6 217.5,374.7 217.7,374.2 217.8,374.8 218.0,373.3 218.1,376.6 218.3,374.3 218.4,375.4 218.6,372.8 218.7,373.0 218.9,375.4 219.0,375.9 219.2,374.5 219.3,375.6 219.5,375.2 219.6,373.9 219.8,375.1 219.9,372.2 220.1,374.5 220.2,375.3 220.4,376.1 220.5,375.3 220.7,373.2 220.8,374.0 221.0,372.9 221.1,373.1 221.3,374.1 221.4,375.8 221.5,375.2 221.7,374.9 221.8,377.2 222.0,374.7 222.1,376.6 222.3,375.4 222.4,376.0 222.6,374.6 222.7,372.0 222.9,377.1 223.0,375.6 223.2,373.0 223.3,377.0 223.5,376.1 223.6,376.1 223.8,375.6 223.9,378.2 224.1,375.8 224.2,375.5 224.4,373.0 224.5,376.5 224.7,377.3 224.8,376.4 225.0,380.1 225.1,376.4 225.3,374.8 225.4,377.0 225.5,377.1 225.7,377.5 225.8,377.1 226.0,379.0 226.1,375.4 226.3,378.2 226.4,378.2 226.6,375.6 226.7,377.8 226.9,378.5 227.0,375.9 227.2,377.9 227.3,377.0 227.5,379.0 227.6,380.7 227.8,378.2 227.9,376.7 228.1,379.3 228.2,378.3 228.4,377.9 228.5,378.5 228.7,378.9 228.8,378.0 229.0,378.8 229.1,379.9 229.3,377.9 229.4,378.3 229.5,378.9 229.7,378.5 229.8,383.0 230.0,379.2 230.1,379.6 230.3,382.3 230.4,377.0 230.6,379.3 230.7,380.4 230.9,380.4 231.0,379.5 231.2,379.9 231.3,382.1 231.5,380.5 231.6,379.4 231.8,379.2 231.9,378.9 232.1,381.4 232.2,380.9 232.4,379.6 232.5,380.9 232.7,379.8 232.8,381.1 233.0,379.3 233.1,380.0 233.3,379.3 233.4,379.9 233.5,381.0 233.7,381.5 233.8,379.9 234.0,380.7 234.1,381.8 234.3,380.5 234.4,378.7 234.6,378.1 234.7,378.7 234.9,377.8 235.0,380.0 235.2,379.7 235.3,380.7 235.5,380.4 235.6,377.2 235.8,378.7 235.9,378.3 236.1,375.7 236.2,376.5 236.4,380.1 236.5,377.6 236.7,379.8 236.8,377.4 237.0,381.1 237.1,379.8 237.3,379.6 237.4,375.7 237.5,380.6 237.7,376.7 237.8,376.7 238.0,377.8 238.1,376.8 238.3,374.4 238.4,377.4 238.6,378.0 238.7,375.7 238.9,376.4 239.0,378.8 239.2,377.0 239.3,376.8 239.5,378.5 239.6,378.2 239.8,377.7 239.9,378.3 240.1,376.0 240.2,376.2 240.4,379.4 240.5,377.0 240.7,376.1 240.8,378.0 241.0,376.5 241.1,375.7 241.3,378.2 241.4,376.3 241.5,378.9 241.7,374.7 241.8,376.6 242.0,377.5 242.1,378.0 242.3,377.6 242.4,373.7 242.6,376.4 242.7,376.0 242.9,375.7 243.0,377.1 243.2,374.1 243.3,378.4 243.5,373.8 243.6,375.9 243.8,374.8 243.9,374.5 244.1,373.7 244.2,376.4 244.4,373.9 244.5,374.8 244.7,374.9 244.8,375.0 245.0,373.1 245.1,373.9 245.3,372.9 245.4,373.3 245.6,377.1" fill="none" stroke="#ff0000" stroke-width="1.55" stroke-linejoin="round"/><rect x="201.25" y="355.70" width="44.30" height="43.50" fill="none" stroke="#222" stroke-width="1.15"/><path d="M223.40 399.20v-1.4M223.40 355.70v1.4M201.25 377.45h1.4M245.55 377.45h-1.4" stroke="#2a2a2a" stroke-width="0.7" fill="none"/><text x="200.2" y="358.1" text-anchor="end">0.05</text><text x="199.3" y="379.8" text-anchor="end">0</text><text x="199.8" y="402.9" text-anchor="end">-0.05</text><text x="201.8" y="406.9" text-anchor="middle">0</text><text x="223.4" y="406.9" text-anchor="middle">π</text><text x="246.8" y="406.9" text-anchor="end">2π</text><polyline points="20.6,436.9 20.7,435.1 20.9,437.4 21.0,438.2 21.2,438.7 21.3,432.7 21.5,436.3 21.6,434.6 21.8,436.0 21.9,433.7 22.1,431.7 22.2,435.6 22.4,433.4 22.5,434.0 22.7,435.1 22.8,433.4 23.0,431.7 23.1,429.7 23.3,429.2 23.4,430.5 23.6,432.2 23.7,428.6 23.9,429.0 24.0,428.5 24.2,429.5 24.3,427.7 24.5,424.3 24.6,424.4 24.7,424.2 24.9,424.5 25.0,425.5 25.2,424.5 25.3,423.8 25.5,423.1 25.6,423.7 25.8,424.1 25.9,421.1 26.1,422.9 26.2,421.0 26.4,422.2 26.5,420.9 26.7,421.1 26.8,420.7 27.0,420.8 27.1,423.1 27.3,423.8 27.4,422.2 27.6,420.1 27.7,423.8 27.9,424.2 28.0,420.2 28.2,425.8 28.3,424.8 28.5,425.1 28.6,425.9 28.7,426.3 28.9,424.5 29.0,426.2 29.2,426.8 29.3,429.8 29.5,427.0 29.6,428.4 29.8,428.9 29.9,428.5 30.1,429.7 30.2,430.7 30.4,430.5 30.5,432.5 30.7,433.2 30.8,434.2 31.0,431.5 31.1,434.1 31.3,433.3 31.4,432.4 31.6,431.8 31.7,435.1 31.9,434.6 32.0,435.0 32.2,437.2 32.3,436.4 32.5,432.3 32.6,436.4 32.7,434.2 32.9,435.9 33.0,434.9 33.2,435.8 33.3,437.6 33.5,439.9 33.6,436.7 33.8,438.0 33.9,438.7 34.1,438.6 34.2,441.3 34.4,440.5 34.5,441.2 34.7,443.7 34.8,443.8 35.0,442.8 35.1,446.2 35.3,442.7 35.4,443.2 35.6,444.9 35.7,444.9 35.9,448.3 36.0,446.1 36.2,445.8 36.3,446.6 36.5,446.5 36.6,448.2 36.7,445.8 36.9,448.3 37.0,448.1 37.2,448.0 37.3,450.7 37.5,451.3 37.6,448.9 37.8,451.7 37.9,450.8 38.1,448.7 38.2,451.4 38.4,451.1 38.5,451.3 38.7,450.8 38.8,446.6 39.0,448.1 39.1,447.2 39.3,450.8 39.4,451.0 39.6,448.9 39.7,445.4 39.9,444.8 40.0,448.6 40.2,447.7 40.3,444.0 40.5,444.0 40.6,443.2 40.7,442.4 40.9,444.2 41.0,442.1 41.2,442.2 41.3,439.7 41.5,441.3 41.6,443.0 41.8,438.3 41.9,437.2 42.1,437.9 42.2,439.3 42.4,439.8 42.5,436.8 42.7,438.6 42.8,436.9 43.0,436.2 43.1,437.2 43.3,439.4 43.4,435.7 43.6,437.5 43.7,438.0 43.9,435.6 44.0,435.1 44.2,435.1 44.3,433.8 44.5,436.9 44.6,433.2 44.8,431.4 44.9,433.4 45.0,433.5 45.2,432.7 45.3,430.3 45.5,431.8 45.6,432.1 45.8,432.9 45.9,428.2 46.1,427.6 46.2,429.0 46.4,425.7 46.5,428.5 46.7,426.5 46.8,428.7 47.0,427.8 47.1,425.9 47.3,424.8 47.4,424.2 47.6,425.8 47.7,424.9 47.9,423.9 48.0,423.8 48.2,423.5 48.3,421.8 48.5,421.1 48.6,425.0 48.8,420.6 48.9,422.1 49.0,421.9 49.2,421.9 49.3,421.2 49.5,421.7 49.6,424.8 49.8,421.8 49.9,424.8 50.1,423.1 50.2,423.6 50.4,426.4 50.5,424.7 50.7,425.5 50.8,426.5 51.0,423.3 51.1,426.4 51.3,427.6 51.4,425.2 51.6,428.1 51.7,428.8 51.9,431.8 52.0,428.8 52.2,428.8 52.3,428.0 52.5,432.4 52.6,430.1 52.8,430.0 52.9,431.4 53.0,432.7 53.2,435.3 53.3,433.2 53.5,434.5 53.6,436.5 53.8,433.6 53.9,434.9 54.1,435.3 54.2,432.6 54.4,436.3 54.5,438.6 54.7,439.1 54.8,435.7 55.0,436.9 55.1,438.0 55.3,440.1 55.4,438.7 55.6,439.4 55.7,438.4 55.9,439.7 56.0,440.1 56.2,439.4 56.3,440.8 56.5,439.7 56.6,445.2 56.8,442.8 56.9,439.9 57.0,441.8 57.2,444.0 57.3,443.3 57.5,444.4 57.6,444.6 57.8,442.7 57.9,445.7 58.1,445.3 58.2,447.2 58.4,447.6 58.5,449.1 58.7,448.3 58.8,448.3 59.0,448.6 59.1,448.4 59.3,448.6 59.4,448.1 59.6,449.4 59.7,447.5 59.9,448.5 60.0,447.5 60.2,449.4 60.3,447.7 60.5,449.1 60.6,451.3 60.8,448.9 60.9,448.8 61.0,450.3 61.2,449.3 61.3,448.4 61.5,444.1 61.6,446.3 61.8,443.9 61.9,444.6 62.1,443.9 62.2,443.7 62.4,446.3 62.5,442.1 62.7,444.6 62.8,442.1 63.0,442.3 63.1,439.5 63.3,439.6 63.4,438.3 63.6,439.6 63.7,439.8 63.9,438.3 64.0,435.7 64.2,437.8 64.3,438.1 64.5,439.4 64.6,438.4 64.8,437.2 64.9,435.9" fill="none" stroke="#ff0000" stroke-width="1.55" stroke-linejoin="round"/><rect x="20.60" y="417.30" width="44.30" height="44.20" fill="none" stroke="#222" stroke-width="1.15"/><path d="M42.75 461.50v-1.4M42.75 417.30v1.4M20.60 439.40h1.4M64.90 439.40h-1.4" stroke="#2a2a2a" stroke-width="0.7" fill="none"/><text x="19.6" y="419.7" text-anchor="end">0.05</text><text x="18.7" y="441.8" text-anchor="end">0</text><text x="19.1" y="465.2" text-anchor="end">-0.05</text><text x="21.2" y="469.2" text-anchor="middle">0</text><text x="42.8" y="469.2" text-anchor="middle">π</text><text x="66.1" y="469.2" text-anchor="end">2π</text><polyline points="81.1,441.7 81.2,440.7 81.4,439.3 81.5,437.4 81.7,435.9 81.8,434.9 82.0,433.5 82.1,432.4 82.3,431.0 82.4,431.3 82.6,430.0 82.7,428.7 82.9,427.8 83.0,426.6 83.2,427.3 83.3,425.8 83.5,425.3 83.6,425.4 83.8,424.9 83.9,424.2 84.1,424.5 84.2,424.8 84.4,424.9 84.5,425.3 84.7,425.3 84.8,426.3 85.0,426.4 85.1,427.8 85.2,428.4 85.4,429.8 85.5,430.4 85.7,431.0 85.8,433.0 86.0,433.9 86.1,434.9 86.3,436.4 86.4,437.2 86.6,439.5 86.7,439.9 86.9,441.0 87.0,442.2 87.2,444.3 87.3,446.0 87.5,447.6 87.6,447.8 87.8,448.9 87.9,450.2 88.1,451.2 88.2,452.0 88.4,453.4 88.5,454.6 88.7,455.3 88.8,455.6 89.0,456.1 89.1,456.7 89.2,456.4 89.4,456.8 89.5,456.1 89.7,456.3 89.8,455.6 90.0,456.2 90.1,455.6 90.3,455.3 90.4,453.8 90.6,451.7 90.7,452.1 90.9,451.4 91.0,450.0 91.2,449.0 91.3,447.3 91.5,446.4 91.6,445.5 91.8,444.5 91.9,442.1 92.1,440.4 92.2,439.3 92.4,438.2 92.5,436.6 92.7,435.1 92.8,433.2 93.0,432.1 93.1,430.2 93.2,429.5 93.4,428.4 93.5,426.2 93.7,426.3 93.8,425.2 94.0,423.0 94.1,423.0 94.3,421.6 94.4,422.9 94.6,420.8 94.7,420.9 94.9,420.6 95.0,420.3 95.2,421.8 95.3,421.1 95.5,420.7 95.6,419.8 95.8,422.1 95.9,421.3 96.1,422.7 96.2,423.4 96.4,425.2 96.5,425.5 96.7,427.2 96.8,428.5 97.0,428.7 97.1,430.9 97.2,432.1 97.4,433.0 97.5,435.1 97.7,436.8 97.8,437.6 98.0,439.1 98.1,440.0 98.3,442.7 98.4,443.3 98.6,444.8 98.7,446.7 98.9,447.9 99.0,449.0 99.2,450.7 99.3,452.0 99.5,452.1 99.6,453.8 99.8,454.6 99.9,454.6 100.1,455.8 100.2,456.3 100.4,457.1 100.5,457.4 100.7,457.6 100.8,457.7 101.0,456.4 101.1,457.2 101.2,457.6 101.4,456.6 101.5,455.3 101.7,455.5 101.8,454.3 102.0,453.9 102.1,453.3 102.3,451.8 102.4,451.0 102.6,449.3 102.7,447.9 102.9,447.0 103.0,444.6 103.2,444.9 103.3,442.5 103.5,441.6 103.6,439.9 103.8,438.9 103.9,438.9 104.1,436.7 104.2,434.9 104.4,434.2 104.5,433.6 104.7,432.2 104.8,430.9 105.0,429.5 105.1,429.5 105.3,428.5 105.4,428.3 105.5,427.9 105.7,427.2 105.8,426.0 106.0,426.1 106.1,426.4 106.3,426.3 106.4,426.2 106.6,426.8 106.7,427.3 106.9,427.7 107.0,427.8 107.2,428.9 107.3,429.2 107.5,431.2 107.6,431.6 107.8,432.5 107.9,433.1 108.1,435.0 108.2,436.0 108.4,436.9 108.5,438.3 108.7,439.9 108.8,441.1 109.0,442.6 109.1,443.2 109.3,444.7 109.4,445.8 109.5,446.4 109.7,448.1 109.8,449.6 110.0,450.9 110.1,450.9 110.3,452.8 110.4,453.8 110.6,453.9 110.7,455.0 110.9,455.9 111.0,456.1 111.2,455.8 111.3,456.8 111.5,456.8 111.6,457.4 111.8,457.1 111.9,456.3 112.1,456.4 112.2,455.9 112.4,454.9 112.5,454.8 112.7,453.2 112.8,453.3 113.0,452.3 113.1,451.3 113.3,450.4 113.4,448.3 113.5,447.2 113.7,445.3 113.8,444.8 114.0,442.7 114.1,441.0 114.3,440.2 114.4,438.6 114.6,438.1 114.7,434.7 114.9,434.1 115.0,432.3 115.2,431.4 115.3,429.6 115.5,429.0 115.6,426.9 115.8,426.0 115.9,425.1 116.1,423.8 116.2,423.8 116.4,422.2 116.5,421.7 116.7,420.3 116.8,420.2 117.0,420.2 117.1,420.0 117.3,418.5 117.4,420.3 117.5,419.1 117.7,419.8 117.8,420.3 118.0,422.0 118.1,421.4 118.3,422.7 118.4,423.7 118.6,424.0 118.7,425.6 118.9,426.1 119.0,427.9 119.2,428.5 119.3,429.9 119.5,431.8 119.6,433.3 119.8,434.6 119.9,436.0 120.1,437.5 120.2,437.9 120.4,440.0 120.5,441.7 120.7,443.2 120.8,444.7 121.0,445.6 121.1,447.0 121.3,448.5 121.4,449.7 121.5,450.6 121.7,451.8 121.8,452.2 122.0,453.4 122.1,453.5 122.3,454.4 122.4,454.5 122.6,455.3 122.7,456.1 122.9,456.0 123.0,455.5 123.2,455.1 123.3,454.8 123.5,454.4 123.6,453.9 123.8,453.4 123.9,452.7 124.1,452.2 124.2,451.0 124.4,450.4 124.5,449.3 124.7,448.1 124.8,446.0 125.0,446.5 125.1,444.8 125.3,443.4 125.4,441.8" fill="none" stroke="#ff0000" stroke-width="1.4" stroke-linejoin="round"/><rect x="81.10" y="417.30" width="44.30" height="44.20" fill="none" stroke="#222" stroke-width="1.15"/><path d="M103.25 461.50v-1.4M103.25 417.30v1.4M81.10 439.40h1.4M125.40 439.40h-1.4" stroke="#2a2a2a" stroke-width="0.7" fill="none"/><text x="79.2" y="419.7" text-anchor="end">0.2</text><text x="79.2" y="441.8" text-anchor="end">0</text><text x="79.6" y="465.2" text-anchor="end">-0.2</text><text x="81.7" y="469.2" text-anchor="middle">0</text><text x="103.2" y="469.2" text-anchor="middle">π</text><text x="126.6" y="469.2" text-anchor="end">2π</text><polyline points="141.0,449.7 141.1,449.1 141.3,450.0 141.4,448.6 141.6,449.3 141.7,448.7 141.9,447.7 142.0,447.2 142.2,446.6 142.3,445.8 142.5,444.8 142.6,443.7 142.8,443.0 142.9,442.6 143.1,441.4 143.2,439.5 143.4,438.3 143.5,437.5 143.7,436.3 143.8,435.4 144.0,433.7 144.1,433.5 144.3,432.3 144.4,431.4 144.6,429.5 144.7,429.3 144.9,428.0 145.0,427.7 145.1,426.9 145.3,425.3 145.4,424.7 145.6,424.1 145.7,423.8 145.9,423.5 146.0,423.2 146.2,423.2 146.3,422.7 146.5,422.1 146.6,422.6 146.8,423.1 146.9,423.0 147.1,423.5 147.2,424.0 147.4,424.1 147.5,424.9 147.7,425.7 147.8,425.5 148.0,426.2 148.1,427.6 148.3,428.1 148.4,429.8 148.6,430.6 148.7,431.2 148.9,432.7 149.0,433.6 149.1,436.0 149.3,436.1 149.4,437.5 149.6,438.6 149.7,440.2 149.9,441.0 150.0,441.6 150.2,442.7 150.3,443.6 150.5,444.5 150.6,445.4 150.8,446.4 150.9,447.4 151.1,448.2 151.2,448.8 151.4,449.5 151.5,450.0 151.7,450.0 151.8,451.0 152.0,450.8 152.1,450.7 152.3,450.3 152.4,449.9 152.6,450.0 152.7,449.8 152.9,449.6 153.0,448.6 153.1,448.2 153.3,448.0 153.4,447.1 153.6,446.2 153.7,445.2 153.9,444.7 154.0,443.2 154.2,442.3 154.3,441.9 154.5,440.7 154.6,439.9 154.8,438.9 154.9,437.4 155.1,435.9 155.2,434.8 155.4,434.2 155.5,433.4 155.7,432.5 155.8,431.2 156.0,430.6 156.1,429.4 156.3,428.9 156.4,428.0 156.6,427.7 156.7,426.2 156.9,426.0 157.0,426.0 157.1,426.0 157.3,425.3 157.4,425.1 157.6,425.7 157.7,425.3 157.9,424.7 158.0,425.6 158.2,426.2 158.3,426.2 158.5,426.3 158.6,427.6 158.8,428.3 158.9,428.9 159.1,429.6 159.2,430.0 159.4,431.2 159.5,433.1 159.7,433.1 159.8,434.2 160.0,435.2 160.1,436.4 160.3,437.6 160.4,438.5 160.6,440.0 160.7,441.4 160.9,442.0 161.0,443.3 161.1,443.3 161.3,444.9 161.4,445.2 161.6,447.1 161.7,447.9 161.9,448.0 162.0,449.5 162.2,449.7 162.3,450.6 162.5,450.2 162.6,451.3 162.8,451.0 162.9,451.7 163.1,451.0 163.2,450.7 163.4,450.9 163.5,451.1 163.7,450.3 163.8,449.7 164.0,449.3 164.1,448.5 164.3,447.6 164.4,447.5 164.6,446.9 164.7,446.1 164.9,445.0 165.0,444.1 165.2,443.2 165.3,441.8 165.4,440.1 165.6,440.0 165.7,438.7 165.9,437.6 166.0,436.6 166.2,434.8 166.3,434.1 166.5,432.7 166.6,432.4 166.8,430.6 166.9,429.9 167.1,429.4 167.2,427.7 167.4,426.9 167.5,426.4 167.7,425.6 167.8,425.5 168.0,424.3 168.1,424.4 168.3,423.8 168.4,423.5 168.6,423.4 168.7,423.8 168.9,423.5 169.0,423.7 169.2,423.6 169.3,424.6 169.4,424.4 169.6,425.1 169.7,425.8 169.9,425.8 170.0,426.9 170.2,428.2 170.3,428.8 170.5,430.1 170.6,431.2 170.8,432.0 170.9,433.1 171.1,433.4 171.2,434.8 171.4,437.1 171.5,437.4 171.7,438.7 171.8,439.6 172.0,440.6 172.1,441.7 172.3,442.6 172.4,444.0 172.6,444.2 172.7,445.7 172.9,446.0 173.0,447.2 173.2,447.7 173.3,448.9 173.4,448.7 173.6,449.4 173.7,450.0 173.9,450.0 174.0,450.2 174.2,451.0 174.3,450.7 174.5,450.7 174.6,449.9 174.8,449.8 174.9,449.7 175.1,449.3 175.2,448.5 175.4,448.7 175.5,447.3 175.7,445.9 175.8,446.1 176.0,445.2 176.1,444.2 176.3,442.7 176.4,442.1 176.6,440.1 176.7,439.7 176.9,438.8 177.0,437.9 177.2,436.1 177.3,434.9 177.4,434.1 177.6,432.7 177.7,431.7 177.9,431.0 178.0,430.2 178.2,429.5 178.3,428.4 178.5,427.8 178.6,426.5 178.8,426.1 178.9,425.9 179.1,425.5 179.2,424.8 179.4,424.3 179.5,424.3 179.7,424.0 179.8,424.5 180.0,424.3 180.1,424.3 180.3,424.7 180.4,425.0 180.6,425.2 180.7,426.1 180.9,426.3 181.0,427.5 181.2,427.9 181.3,429.0 181.4,429.8 181.6,430.4 181.7,431.1 181.9,432.6 182.0,433.6 182.2,434.2 182.3,436.0 182.5,436.5 182.6,438.3 182.8,439.6 182.9,439.9 183.1,441.2 183.2,442.2 183.4,443.9 183.5,443.8 183.7,445.0 183.8,446.1 184.0,446.5 184.1,447.6 184.3,448.0 184.4,448.6 184.6,448.4 184.7,449.2 184.9,449.0 185.0,449.9 185.2,450.1 185.3,449.1" fill="none" stroke="#ff0000" stroke-width="1.4" stroke-linejoin="round"/><rect x="141.00" y="417.30" width="44.30" height="44.20" fill="none" stroke="#222" stroke-width="1.15"/><path d="M163.15 461.50v-1.4M163.15 417.30v1.4M141.00 439.40h1.4M185.30 439.40h-1.4" stroke="#2a2a2a" stroke-width="0.7" fill="none"/><text x="139.1" y="419.7" text-anchor="end">0.5</text><text x="140.0" y="441.8" text-anchor="end">0.25</text><text x="139.1" y="465.4" text-anchor="end">0</text><text x="163.2" y="469.2" text-anchor="middle">π</text><text x="186.5" y="469.2" text-anchor="end">2π</text><polyline points="201.2,434.8 201.4,437.9 201.5,438.8 201.7,435.2 201.8,437.7 202.0,436.5 202.1,437.2 202.3,437.1 202.4,437.8 202.6,437.6 202.7,439.5 202.9,438.2 203.0,438.6 203.2,436.1 203.3,437.9 203.5,437.4 203.6,439.6 203.8,437.5 203.9,435.7 204.1,437.4 204.2,436.6 204.4,438.0 204.5,438.4 204.7,436.5 204.8,438.3 205.0,439.0 205.1,437.9 205.3,438.3 205.4,436.5 205.5,436.9 205.7,439.6 205.8,437.2 206.0,439.5 206.1,437.7 206.3,437.2 206.4,438.6 206.6,438.6 206.7,437.1 206.9,438.4 207.0,439.4 207.2,436.1 207.3,437.0 207.5,437.5 207.6,437.7 207.8,436.9 207.9,438.1 208.1,437.2 208.2,437.8 208.4,439.1 208.5,436.9 208.7,438.1 208.8,439.3 209.0,438.9 209.1,441.3 209.3,440.4 209.4,440.2 209.5,437.5 209.7,437.6 209.8,437.0 210.0,438.0 210.1,436.4 210.3,439.1 210.4,439.5 210.6,439.7 210.7,438.3 210.9,439.4 211.0,439.8 211.2,439.3 211.3,438.5 211.5,440.3 211.6,438.7 211.8,438.7 211.9,436.7 212.1,438.6 212.2,440.3 212.4,438.4 212.5,438.5 212.7,440.3 212.8,442.6 213.0,437.9 213.1,439.0 213.3,439.7 213.4,439.0 213.5,437.2 213.7,436.7 213.8,439.4 214.0,436.9 214.1,438.9 214.3,438.8 214.4,438.9 214.6,438.9 214.7,439.0 214.9,439.7 215.0,438.8 215.2,440.1 215.3,438.1 215.5,439.6 215.6,438.2 215.8,438.9 215.9,441.0 216.1,437.3 216.2,438.4 216.4,438.8 216.5,439.2 216.7,436.5 216.8,439.0 217.0,437.5 217.1,438.5 217.3,440.4 217.4,437.8 217.5,440.6 217.7,438.1 217.8,438.2 218.0,438.4 218.1,439.6 218.3,436.9 218.4,436.5 218.6,439.8 218.7,439.1 218.9,436.6 219.0,439.2 219.2,437.4 219.3,439.8 219.5,439.4 219.6,438.3 219.8,438.0 219.9,440.4 220.1,439.9 220.2,437.9 220.4,437.0 220.5,437.9 220.7,438.1 220.8,438.0 221.0,440.1 221.1,438.1 221.3,437.4 221.4,437.8 221.5,440.0 221.7,439.7 221.8,437.1 222.0,440.2 222.1,439.9 222.3,436.6 222.4,439.6 222.6,439.4 222.7,437.7 222.9,437.6 223.0,438.7 223.2,440.3 223.3,439.2 223.5,438.3 223.6,439.7 223.8,439.8 223.9,437.0 224.1,437.9 224.2,437.6 224.4,437.5 224.5,439.8 224.7,438.0 224.8,437.1 225.0,437.7 225.1,440.0 225.3,440.5 225.4,439.6 225.5,437.9 225.7,438.8 225.8,438.3 226.0,440.2 226.1,437.6 226.3,439.6 226.4,437.3 226.6,438.7 226.7,442.4 226.9,438.9 227.0,439.8 227.2,439.7 227.3,438.9 227.5,437.4 227.6,437.7 227.8,437.0 227.9,438.7 228.1,441.1 228.2,439.4 228.4,439.9 228.5,439.6 228.7,435.5 228.8,437.8 229.0,440.0 229.1,437.3 229.3,439.1 229.4,440.5 229.5,437.3 229.7,439.4 229.8,438.6 230.0,436.0 230.1,440.1 230.3,437.5 230.4,439.2 230.6,440.2 230.7,439.1 230.9,438.6 231.0,438.6 231.2,440.7 231.3,437.8 231.5,439.9 231.6,438.5 231.8,438.6 231.9,439.5 232.1,438.1 232.2,439.7 232.4,440.0 232.5,440.6 232.7,441.1 232.8,439.7 233.0,441.5 233.1,439.3 233.3,439.5 233.4,436.8 233.5,440.3 233.7,437.4 233.8,438.4 234.0,438.5 234.1,439.6 234.3,439.8 234.4,439.2 234.6,438.9 234.7,438.1 234.9,439.4 235.0,436.9 235.2,436.7 235.3,441.8 235.5,438.6 235.6,438.9 235.8,440.0 235.9,442.1 236.1,440.9 236.2,439.0 236.4,437.9 236.5,438.2 236.7,438.1 236.8,439.0 237.0,437.4 237.1,438.1 237.3,437.3 237.4,438.8 237.5,439.5 237.7,440.5 237.8,436.7 238.0,439.3 238.1,439.9 238.3,441.2 238.4,437.9 238.6,440.3 238.7,438.5 238.9,438.2 239.0,436.8 239.2,439.4 239.3,440.9 239.5,437.4 239.6,438.2 239.8,439.3 239.9,438.5 240.1,436.1 240.2,438.4 240.4,439.2 240.5,438.5 240.7,437.7 240.8,437.9 241.0,437.9 241.1,437.9 241.3,439.8 241.4,437.6 241.5,437.0 241.7,437.5 241.8,438.3 242.0,438.3 242.1,438.0 242.3,438.1 242.4,440.2 242.6,438.3 242.7,436.6 242.9,438.6 243.0,438.8 243.2,437.4 243.3,438.0 243.5,439.0 243.6,437.9 243.8,435.9 243.9,435.8 244.1,437.8 244.2,438.2 244.4,436.5 244.5,437.4 244.7,437.3 244.8,438.0 245.0,439.6 245.1,439.7 245.3,438.0 245.4,439.3 245.6,436.9" fill="none" stroke="#ff0000" stroke-width="1.55" stroke-linejoin="round"/><rect x="201.25" y="417.30" width="44.30" height="44.20" fill="none" stroke="#222" stroke-width="1.15"/><path d="M223.40 461.50v-1.4M223.40 417.30v1.4M201.25 439.40h1.4M245.55 439.40h-1.4" stroke="#2a2a2a" stroke-width="0.7" fill="none"/><text x="200.2" y="419.7" text-anchor="end">0.05</text><text x="199.3" y="441.8" text-anchor="end">0</text><text x="199.8" y="465.2" text-anchor="end">-0.05</text><text x="201.8" y="469.2" text-anchor="middle">0</text><text x="223.4" y="469.2" text-anchor="middle">π</text><text x="246.8" y="469.2" text-anchor="end">2π</text><polyline points="20.6,500.7 20.7,501.2 20.9,501.4 21.0,501.5 21.2,501.0 21.3,502.4 21.5,502.0 21.6,500.6 21.8,502.7 21.9,502.4 22.1,501.7 22.2,501.6 22.4,501.3 22.5,500.8 22.7,501.2 22.8,501.0 23.0,501.8 23.1,501.4 23.3,502.0 23.4,501.6 23.6,501.1 23.7,501.2 23.9,502.9 24.0,502.4 24.2,500.2 24.3,503.1 24.5,501.6 24.6,502.5 24.7,501.8 24.9,502.1 25.0,501.6 25.2,502.5 25.3,501.0 25.5,500.2 25.6,503.5 25.8,502.3 25.9,502.8 26.1,501.7 26.2,500.8 26.4,500.8 26.5,500.8 26.7,501.6 26.8,502.2 27.0,501.0 27.1,502.2 27.3,502.3 27.4,501.7 27.6,502.6 27.7,501.9 27.9,502.4 28.0,501.7 28.2,501.1 28.3,502.1 28.5,501.4 28.6,501.0 28.7,502.3 28.9,501.7 29.0,501.9 29.2,500.4 29.3,502.0 29.5,501.6 29.6,502.6 29.8,502.3 29.9,501.2 30.1,501.8 30.2,501.1 30.4,501.5 30.5,499.7 30.7,501.7 30.8,500.8 31.0,502.0 31.1,501.8 31.3,502.5 31.4,499.6 31.6,502.9 31.7,501.3 31.9,501.7 32.0,500.8 32.2,501.7 32.3,500.0 32.5,500.5 32.6,500.9 32.7,500.9 32.9,500.5 33.0,500.9 33.2,500.0 33.3,500.5 33.5,501.2 33.6,500.8 33.8,500.9 33.9,500.2 34.1,501.2 34.2,500.9 34.4,501.9 34.5,500.5 34.7,500.8 34.8,501.4 35.0,499.7 35.1,500.9 35.3,501.7 35.4,500.0 35.6,500.9 35.7,503.0 35.9,500.5 36.0,500.8 36.2,500.7 36.3,500.9 36.5,501.3 36.6,500.6 36.7,501.9 36.9,500.8 37.0,500.0 37.2,499.9 37.3,501.0 37.5,499.2 37.6,500.4 37.8,500.9 37.9,500.5 38.1,501.0 38.2,499.9 38.4,501.2 38.5,501.0 38.7,501.3 38.8,501.1 39.0,500.7 39.1,499.2 39.3,500.3 39.4,499.6 39.6,500.4 39.7,499.8 39.9,501.2 40.0,501.2 40.2,499.1 40.3,500.1 40.5,501.5 40.6,499.9 40.7,500.5 40.9,500.5 41.0,499.7 41.2,501.2 41.3,499.4 41.5,500.1 41.6,500.6 41.8,501.2 41.9,499.0 42.1,500.5 42.2,501.2 42.4,500.4 42.5,499.9 42.7,499.8 42.8,499.2 43.0,499.8 43.1,500.2 43.3,498.6 43.4,498.7 43.6,501.0 43.7,499.4 43.9,500.5 44.0,499.0 44.2,500.8 44.3,499.9 44.5,498.9 44.6,499.8 44.8,499.3 44.9,500.5 45.0,500.9 45.2,500.8 45.3,499.6 45.5,500.4 45.6,498.9 45.8,500.2 45.9,499.0 46.1,499.7 46.2,500.7 46.4,499.9 46.5,499.5 46.7,499.5 46.8,499.9 47.0,499.0 47.1,499.1 47.3,499.1 47.4,500.3 47.6,501.3 47.7,499.3 47.9,500.3 48.0,500.1 48.2,499.9 48.3,499.5 48.5,500.9 48.6,499.8 48.8,498.7 48.9,500.7 49.0,499.9 49.2,498.6 49.3,499.0 49.5,499.2 49.6,499.5 49.8,500.6 49.9,499.5 50.1,500.3 50.2,499.5 50.4,500.1 50.5,500.4 50.7,499.6 50.8,498.8 51.0,499.9 51.1,499.4 51.3,499.0 51.4,499.2 51.6,500.5 51.7,499.9 51.9,499.3 52.0,499.5 52.2,498.3 52.3,499.1 52.5,500.2 52.6,499.1 52.8,498.8 52.9,499.1 53.0,499.2 53.2,500.6 53.3,499.6 53.5,499.2 53.6,499.9 53.8,499.9 53.9,499.3 54.1,500.1 54.2,500.3 54.4,499.8 54.5,499.7 54.7,499.1 54.8,499.8 55.0,500.5 55.1,499.4 55.3,500.3 55.4,499.2 55.6,500.2 55.7,499.4 55.9,499.6 56.0,500.0 56.2,500.7 56.3,500.1 56.5,498.9 56.6,499.8 56.8,499.1 56.9,499.9 57.0,499.9 57.2,500.6 57.3,499.7 57.5,500.6 57.6,500.6 57.8,499.3 57.9,500.7 58.1,498.4 58.2,500.1 58.4,500.5 58.5,499.2 58.7,500.8 58.8,500.0 59.0,500.1 59.1,499.5 59.3,499.0 59.4,500.0 59.6,501.1 59.7,501.2 59.9,500.6 60.0,499.7 60.2,500.2 60.3,500.1 60.5,500.5 60.6,499.4 60.8,501.1 60.9,499.0 61.0,499.5 61.2,499.9 61.3,500.4 61.5,500.6 61.6,500.4 61.8,500.8 61.9,500.7 62.1,501.0 62.2,499.9 62.4,500.4 62.5,500.1 62.7,501.0 62.8,501.3 63.0,501.1 63.1,500.3 63.3,501.3 63.4,500.1 63.6,501.2 63.7,500.8 63.9,500.3 64.0,501.3 64.2,502.0 64.3,499.7 64.5,500.6 64.6,501.0 64.8,499.4 64.9,499.0" fill="none" stroke="#ff0000" stroke-width="1.4" stroke-linejoin="round"/><rect x="20.60" y="479.00" width="44.30" height="44.20" fill="none" stroke="#222" stroke-width="1.15"/><path d="M42.75 523.20v-1.4M42.75 479.00v1.4M20.60 501.10h1.4M64.90 501.10h-1.4" stroke="#2a2a2a" stroke-width="0.7" fill="none"/><text x="19.6" y="481.4" text-anchor="end">0.05</text><text x="18.7" y="503.5" text-anchor="end">0</text><text x="19.1" y="526.9" text-anchor="end">-0.05</text><text x="21.2" y="530.9" text-anchor="middle">0</text><text x="42.8" y="530.9" text-anchor="middle">π</text><text x="66.1" y="530.9" text-anchor="end">2π</text><polyline points="81.1,505.1 81.2,503.4 81.4,504.6 81.5,502.4 81.7,502.9 81.8,505.1 82.0,503.9 82.1,503.2 82.3,502.2 82.4,502.4 82.6,502.2 82.7,503.0 82.9,502.2 83.0,502.8 83.2,501.6 83.3,502.1 83.5,504.0 83.6,502.8 83.8,503.7 83.9,502.8 84.1,501.9 84.2,502.5 84.4,502.8 84.5,503.4 84.7,500.6 84.8,502.6 85.0,503.9 85.1,503.2 85.2,501.3 85.4,499.9 85.5,500.9 85.7,503.1 85.8,501.5 86.0,504.9 86.1,501.6 86.3,503.1 86.4,502.4 86.6,504.5 86.7,502.4 86.9,504.6 87.0,505.1 87.2,501.1 87.3,504.7 87.5,501.9 87.6,503.9 87.8,503.4 87.9,503.3 88.1,501.9 88.2,502.9 88.4,504.7 88.5,504.3 88.7,501.9 88.8,501.9 89.0,504.4 89.1,502.6 89.2,504.0 89.4,502.6 89.5,505.3 89.7,503.0 89.8,504.8 90.0,505.8 90.1,503.4 90.3,503.5 90.4,506.3 90.6,507.4 90.7,504.5 90.9,503.8 91.0,505.1 91.2,504.3 91.3,505.0 91.5,505.2 91.6,504.0 91.8,502.9 91.9,503.9 92.1,504.9 92.2,505.4 92.4,504.2 92.5,507.4 92.7,504.3 92.8,504.6 93.0,504.4 93.1,504.7 93.2,504.6 93.4,506.2 93.5,503.4 93.7,504.6 93.8,504.1 94.0,504.8 94.1,506.0 94.3,503.2 94.4,504.2 94.6,504.2 94.7,503.3 94.9,501.5 95.0,503.7 95.2,502.9 95.3,501.1 95.5,503.8 95.6,501.7 95.8,503.2 95.9,501.9 96.1,503.0 96.2,501.8 96.4,503.9 96.5,503.5 96.7,503.6 96.8,503.1 97.0,501.2 97.1,502.0 97.2,501.7 97.4,502.8 97.5,502.3 97.7,501.8 97.8,501.8 98.0,503.0 98.1,502.7 98.3,503.6 98.4,501.1 98.6,500.7 98.7,499.6 98.9,506.1 99.0,500.9 99.2,501.3 99.3,498.5 99.5,502.6 99.6,503.0 99.8,501.7 99.9,503.9 100.1,503.9 100.2,501.3 100.4,504.3 100.5,503.6 100.7,500.5 100.8,501.4 101.0,503.9 101.1,500.4 101.2,502.2 101.4,502.8 101.5,502.2 101.7,502.5 101.8,500.9 102.0,501.7 102.1,503.7 102.3,503.3 102.4,501.7 102.6,503.6 102.7,504.1 102.9,506.0 103.0,501.8 103.2,503.0 103.3,503.4 103.5,504.3 103.6,504.0 103.8,503.3 103.9,504.8 104.1,503.3 104.2,501.2 104.4,504.2 104.5,503.6 104.7,501.5 104.8,503.6 105.0,501.6 105.1,502.4 105.3,502.6 105.4,504.1 105.5,504.5 105.7,502.2 105.8,503.8 106.0,504.1 106.1,506.9 106.3,504.2 106.4,500.7 106.6,503.2 106.7,501.7 106.9,503.7 107.0,505.9 107.2,503.8 107.3,501.6 107.5,503.7 107.6,504.3 107.8,504.1 107.9,505.4 108.1,504.3 108.2,503.6 108.4,502.5 108.5,502.7 108.7,505.1 108.8,506.2 109.0,504.1 109.1,504.5 109.3,502.4 109.4,504.8 109.5,502.6 109.7,503.9 109.8,501.7 110.0,503.1 110.1,505.7 110.3,506.2 110.4,502.6 110.6,504.3 110.7,501.6 110.9,502.9 111.0,500.4 111.2,502.7 111.3,503.6 111.5,505.2 111.6,501.9 111.8,502.7 111.9,502.8 112.1,498.8 112.2,501.2 112.4,503.5 112.5,501.3 112.7,504.2 112.8,503.0 113.0,501.0 113.1,503.8 113.3,502.0 113.4,501.9 113.5,501.8 113.7,503.3 113.8,503.9 114.0,502.0 114.1,501.1 114.3,503.3 114.4,500.9 114.6,500.5 114.7,501.6 114.9,500.7 115.0,500.7 115.2,500.5 115.3,501.7 115.5,501.7 115.6,501.7 115.8,500.6 115.9,502.9 116.1,500.3 116.2,503.6 116.4,499.8 116.5,501.6 116.7,498.9 116.8,502.2 117.0,501.8 117.1,504.8 117.3,503.2 117.4,502.6 117.5,502.4 117.7,502.1 117.8,502.9 118.0,503.2 118.1,502.0 118.3,505.3 118.4,504.0 118.6,502.5 118.7,503.6 118.9,502.0 119.0,504.6 119.2,504.2 119.3,503.0 119.5,501.5 119.6,505.7 119.8,506.3 119.9,505.6 120.1,505.8 120.2,503.8 120.4,502.9 120.5,504.3 120.7,503.9 120.8,503.5 121.0,503.8 121.1,504.0 121.3,504.1 121.4,502.9 121.5,505.9 121.7,505.1 121.8,504.0 122.0,500.8 122.1,505.5 122.3,503.3 122.4,505.4 122.6,504.6 122.7,505.4 122.9,501.8 123.0,503.8 123.2,504.9 123.3,502.9 123.5,505.1 123.6,503.8 123.8,505.9 123.9,504.4 124.1,503.5 124.2,503.5 124.4,505.0 124.5,504.8 124.7,506.1 124.8,506.5 125.0,504.0 125.1,502.1 125.3,502.9 125.4,502.7" fill="none" stroke="#ff0000" stroke-width="1.55" stroke-linejoin="round"/><rect x="81.10" y="479.00" width="44.30" height="44.20" fill="none" stroke="#222" stroke-width="1.15"/><path d="M103.25 523.20v-1.4M103.25 479.00v1.4M81.10 501.10h1.4M125.40 501.10h-1.4" stroke="#2a2a2a" stroke-width="0.7" fill="none"/><text x="80.1" y="481.4" text-anchor="end">0.05</text><text x="79.2" y="503.5" text-anchor="end">0</text><text x="79.6" y="526.9" text-anchor="end">-0.05</text><text x="81.7" y="530.9" text-anchor="middle">0</text><text x="103.2" y="530.9" text-anchor="middle">π</text><text x="126.6" y="530.9" text-anchor="end">2π</text><polyline points="141.0,501.3 141.1,502.5 141.3,501.1 141.4,502.7 141.6,499.8 141.7,499.8 141.9,502.6 142.0,502.9 142.2,503.7 142.3,503.7 142.5,499.8 142.6,500.4 142.8,499.3 142.9,500.8 143.1,500.2 143.2,500.5 143.4,502.2 143.5,501.2 143.7,500.1 143.8,501.3 144.0,502.8 144.1,502.9 144.3,497.3 144.4,502.8 144.6,502.5 144.7,501.5 144.9,501.7 145.0,500.2 145.1,502.2 145.3,500.7 145.4,501.6 145.6,501.6 145.7,502.0 145.9,503.0 146.0,502.5 146.2,503.5 146.3,502.5 146.5,501.7 146.6,501.6 146.8,503.6 146.9,503.1 147.1,502.6 147.2,500.3 147.4,501.9 147.5,501.7 147.7,500.5 147.8,501.6 148.0,503.0 148.1,500.0 148.3,502.6 148.4,500.8 148.6,501.9 148.7,501.6 148.9,500.7 149.0,503.2 149.1,504.7 149.3,502.2 149.4,502.8 149.6,503.1 149.7,502.8 149.9,505.0 150.0,502.9 150.2,503.3 150.3,502.5 150.5,503.1 150.6,503.5 150.8,502.1 150.9,501.5 151.1,503.2 151.2,504.3 151.4,504.0 151.5,501.4 151.7,505.5 151.8,503.1 152.0,502.8 152.1,502.5 152.3,506.0 152.4,502.9 152.6,506.3 152.7,504.0 152.9,504.6 153.0,506.1 153.1,500.8 153.3,503.8 153.4,505.6 153.6,504.9 153.7,503.5 153.9,502.3 154.0,503.2 154.2,504.9 154.3,500.9 154.5,502.6 154.6,500.7 154.8,501.0 154.9,502.5 155.1,500.9 155.2,503.0 155.4,501.3 155.5,505.0 155.7,505.2 155.8,504.2 156.0,501.8 156.1,502.3 156.3,503.5 156.4,503.3 156.6,503.2 156.7,502.2 156.9,500.8 157.0,500.9 157.1,502.5 157.3,502.2 157.4,501.3 157.6,503.6 157.7,502.0 157.9,501.2 158.0,501.3 158.2,502.6 158.3,503.0 158.5,503.1 158.6,499.8 158.8,501.7 158.9,503.5 159.1,504.6 159.2,501.7 159.4,499.6 159.5,502.0 159.7,502.9 159.8,500.5 160.0,502.1 160.1,501.8 160.3,501.2 160.4,502.1 160.6,500.6 160.7,500.4 160.9,501.7 161.0,502.4 161.1,501.2 161.3,505.2 161.4,502.2 161.6,502.5 161.7,500.7 161.9,503.2 162.0,500.2 162.2,502.0 162.3,501.2 162.5,500.0 162.6,501.6 162.8,502.7 162.9,501.5 163.1,501.5 163.2,499.3 163.4,502.1 163.5,500.8 163.7,500.2 163.8,500.6 164.0,502.5 164.1,503.9 164.3,500.8 164.4,499.9 164.6,501.4 164.7,500.7 164.9,502.2 165.0,501.2 165.2,500.6 165.3,502.5 165.4,500.8 165.6,502.6 165.7,503.9 165.9,502.1 166.0,502.9 166.2,502.1 166.3,502.0 166.5,503.1 166.6,502.3 166.8,503.5 166.9,501.8 167.1,504.3 167.2,504.9 167.4,501.6 167.5,505.9 167.7,503.5 167.8,503.4 168.0,502.0 168.1,503.5 168.3,503.6 168.4,505.8 168.6,501.9 168.7,504.8 168.9,503.3 169.0,504.4 169.2,501.7 169.3,504.6 169.4,505.2 169.6,501.5 169.7,504.2 169.9,503.0 170.0,502.7 170.2,505.4 170.3,501.8 170.5,504.7 170.6,503.1 170.8,502.6 170.9,503.3 171.1,504.4 171.2,501.8 171.4,504.3 171.5,504.9 171.7,501.3 171.8,501.2 172.0,505.5 172.1,503.2 172.3,502.8 172.4,506.8 172.6,503.5 172.7,501.0 172.9,504.0 173.0,500.7 173.2,499.7 173.3,502.7 173.4,503.5 173.6,502.3 173.7,504.4 173.9,500.4 174.0,501.5 174.2,504.2 174.3,503.2 174.5,502.5 174.6,500.5 174.8,500.8 174.9,502.8 175.1,501.6 175.2,502.5 175.4,501.1 175.5,502.1 175.7,498.7 175.8,501.0 176.0,502.0 176.1,503.1 176.3,503.6 176.4,500.5 176.6,500.4 176.7,499.3 176.9,503.0 177.0,500.4 177.2,503.2 177.3,500.5 177.4,500.7 177.6,501.1 177.7,501.9 177.9,502.1 178.0,502.0 178.2,504.2 178.3,500.5 178.5,503.1 178.6,501.3 178.8,501.6 178.9,500.5 179.1,501.5 179.2,501.6 179.4,501.2 179.5,500.2 179.7,502.2 179.8,502.9 180.0,501.7 180.1,501.9 180.3,500.7 180.4,501.3 180.6,501.6 180.7,500.3 180.9,501.5 181.0,501.1 181.2,502.6 181.3,499.9 181.4,501.2 181.6,503.5 181.7,503.5 181.9,499.7 182.0,502.0 182.2,499.9 182.3,499.1 182.5,502.3 182.6,502.1 182.8,501.4 182.9,503.9 183.1,505.2 183.2,500.0 183.4,503.9 183.5,503.0 183.7,500.7 183.8,502.7 184.0,501.6 184.1,502.5 184.3,504.8 184.4,504.1 184.6,502.9 184.7,504.4 184.9,501.7 185.0,502.6 185.2,505.4 185.3,502.5" fill="none" stroke="#ff0000" stroke-width="1.55" stroke-linejoin="round"/><rect x="141.00" y="479.00" width="44.30" height="44.20" fill="none" stroke="#222" stroke-width="1.15"/><path d="M163.15 523.20v-1.4M163.15 479.00v1.4M141.00 501.10h1.4M185.30 501.10h-1.4" stroke="#2a2a2a" stroke-width="0.7" fill="none"/><text x="140.0" y="481.4" text-anchor="end">0.05</text><text x="139.1" y="503.5" text-anchor="end">0</text><text x="139.5" y="526.9" text-anchor="end">-0.05</text><text x="141.6" y="530.9" text-anchor="middle">0</text><text x="163.2" y="530.9" text-anchor="middle">π</text><text x="186.5" y="530.9" text-anchor="end">2π</text><polyline points="201.2,506.7 201.4,506.5 201.5,505.5 201.7,507.8 201.8,506.9 202.0,505.8 202.1,507.3 202.3,504.7 202.4,508.7 202.6,504.8 202.7,505.0 202.9,506.1 203.0,505.4 203.2,506.0 203.3,503.5 203.5,505.1 203.6,504.5 203.8,504.5 203.9,505.8 204.1,506.1 204.2,504.1 204.4,502.7 204.5,503.2 204.7,503.7 204.8,503.0 205.0,503.4 205.1,501.7 205.3,502.0 205.4,502.0 205.5,500.1 205.7,502.2 205.8,502.2 206.0,501.3 206.1,501.2 206.3,501.0 206.4,499.6 206.6,499.3 206.7,501.0 206.9,499.7 207.0,499.2 207.2,500.1 207.3,497.5 207.5,497.6 207.6,497.0 207.8,497.6 207.9,497.2 208.1,496.2 208.2,496.0 208.4,496.2 208.5,495.1 208.7,495.8 208.8,494.1 209.0,494.3 209.1,495.0 209.3,495.4 209.4,493.8 209.5,493.0 209.7,493.8 209.8,492.4 210.0,492.9 210.1,492.3 210.3,494.8 210.4,494.0 210.6,493.3 210.7,493.2 210.9,493.6 211.0,493.9 211.2,495.6 211.3,492.8 211.5,493.3 211.6,494.5 211.8,494.3 211.9,495.1 212.1,493.8 212.2,495.2 212.4,494.2 212.5,496.0 212.7,496.6 212.8,497.6 213.0,496.1 213.1,497.4 213.3,496.6 213.4,496.5 213.5,497.6 213.7,496.9 213.8,498.9 214.0,499.6 214.1,499.0 214.3,499.8 214.4,498.6 214.6,501.9 214.7,501.7 214.9,499.9 215.0,502.1 215.2,501.9 215.3,502.5 215.5,502.4 215.6,500.8 215.8,502.0 215.9,503.3 216.1,501.8 216.2,504.6 216.4,503.9 216.5,502.6 216.7,505.6 216.8,505.6 217.0,505.8 217.1,505.5 217.3,504.6 217.4,504.2 217.5,504.7 217.7,504.7 217.8,505.7 218.0,506.6 218.1,507.0 218.3,506.4 218.4,507.3 218.6,507.7 218.7,506.2 218.9,507.5 219.0,507.1 219.2,505.1 219.3,506.6 219.5,506.6 219.6,507.3 219.8,508.0 219.9,506.7 220.1,507.6 220.2,507.5 220.4,507.9 220.5,507.0 220.7,507.2 220.8,509.4 221.0,508.3 221.1,507.6 221.3,505.8 221.4,508.4 221.5,507.2 221.7,506.5 221.8,506.5 222.0,508.0 222.1,506.7 222.3,507.3 222.4,507.4 222.6,507.9 222.7,509.0 222.9,507.9 223.0,508.8 223.2,506.6 223.3,507.0 223.5,505.7 223.6,508.6 223.8,508.6 223.9,507.3 224.1,506.9 224.2,506.3 224.4,508.0 224.5,508.5 224.7,507.7 224.8,503.7 225.0,507.5 225.1,507.1 225.3,505.6 225.4,505.7 225.5,506.5 225.7,508.7 225.8,505.3 226.0,506.2 226.1,504.3 226.3,505.3 226.4,504.6 226.6,506.6 226.7,504.6 226.9,504.6 227.0,504.7 227.2,503.7 227.3,503.3 227.5,503.9 227.6,502.7 227.8,501.7 227.9,502.3 228.1,502.6 228.2,502.0 228.4,502.1 228.5,501.4 228.7,500.7 228.8,501.4 229.0,500.2 229.1,499.0 229.3,500.4 229.4,500.6 229.5,500.0 229.7,498.8 229.8,498.8 230.0,499.4 230.1,500.9 230.3,497.9 230.4,497.7 230.6,497.5 230.7,498.3 230.9,499.4 231.0,497.6 231.2,497.8 231.3,496.4 231.5,495.4 231.6,495.9 231.8,496.8 231.9,495.7 232.1,496.8 232.2,495.6 232.4,496.2 232.5,496.6 232.7,495.8 232.8,496.1 233.0,495.0 233.1,496.3 233.3,496.5 233.4,495.2 233.5,496.2 233.7,496.4 233.8,495.0 234.0,499.1 234.1,498.4 234.3,497.8 234.4,496.3 234.6,496.3 234.7,497.6 234.9,498.7 235.0,499.6 235.2,498.1 235.3,498.5 235.5,499.6 235.6,498.5 235.8,498.2 235.9,500.8 236.1,500.0 236.2,501.7 236.4,500.7 236.5,502.3 236.7,501.4 236.8,500.1 237.0,502.6 237.1,501.1 237.3,501.5 237.4,501.9 237.5,503.6 237.7,504.8 237.8,503.8 238.0,503.5 238.1,504.8 238.3,505.4 238.4,506.0 238.6,502.4 238.7,507.1 238.9,504.8 239.0,506.2 239.2,504.9 239.3,505.0 239.5,507.3 239.6,506.6 239.8,507.0 239.9,506.4 240.1,507.1 240.2,506.4 240.4,506.8 240.5,507.9 240.7,506.6 240.8,507.2 241.0,507.3 241.1,508.2 241.3,507.3 241.4,508.4 241.5,506.9 241.7,507.8 241.8,510.3 242.0,507.7 242.1,507.9 242.3,508.4 242.4,507.7 242.6,509.8 242.7,508.2 242.9,509.2 243.0,508.4 243.2,509.3 243.3,509.8 243.5,509.0 243.6,510.2 243.8,508.7 243.9,508.1 244.1,507.6 244.2,508.5 244.4,509.2 244.5,509.0 244.7,509.0 244.8,507.8 245.0,509.7 245.1,509.3 245.3,510.7 245.4,507.8 245.6,510.0" fill="none" stroke="#ff0000" stroke-width="1.55" stroke-linejoin="round"/><rect x="201.25" y="479.00" width="44.30" height="44.20" fill="none" stroke="#222" stroke-width="1.15"/><path d="M223.40 523.20v-1.4M223.40 479.00v1.4M201.25 493.73h1.4M245.55 493.73h-1.4M201.25 508.47h1.4M245.55 508.47h-1.4" stroke="#2a2a2a" stroke-width="0.7" fill="none"/><text x="200.2" y="481.4" text-anchor="end">0.15</text><text x="199.3" y="496.1" text-anchor="end">0.1</text><text x="200.2" y="510.9" text-anchor="end">0.05</text><text x="199.3" y="527.1" text-anchor="end">0</text><text x="223.4" y="530.9" text-anchor="middle">π</text><text x="246.8" y="530.9" text-anchor="end">2π</text><polyline points="276.8,308.7 276.9,308.7 277.0,308.7 277.2,308.7 277.3,308.7 277.5,308.7 277.6,308.7 277.8,308.7 277.9,308.7 278.1,308.7 278.2,308.7 278.4,308.7 278.5,308.7 278.7,308.7 278.8,308.7 279.0,308.7 279.1,308.7 279.3,308.7 279.4,308.7 279.6,308.7 279.7,308.7 279.9,308.7 280.0,308.7 280.2,308.7 280.3,308.7 280.5,308.7 280.6,308.7 280.8,308.7 280.9,308.7 281.1,308.7 281.2,308.7 281.4,308.7 281.5,308.7 281.7,308.7 281.8,308.7 282.0,308.7 282.1,308.7 282.3,308.7 282.4,308.7 282.6,308.7 282.7,308.7 282.9,308.7 283.0,308.7 283.1,308.7 283.3,308.7 283.4,308.7 283.6,308.7 283.7,308.7 283.9,308.7 284.0,308.7 284.2,308.7 284.3,308.7 284.5,308.7 284.6,308.7 284.8,308.7 284.9,308.7 285.1,308.7 285.2,308.7 285.4,308.7 285.5,308.7 285.7,308.7 285.8,308.7 286.0,308.7 286.1,308.7 286.3,308.7 286.4,308.7 286.6,308.7 286.7,308.7 286.9,308.7 287.0,308.7 287.2,308.7 287.3,308.7 287.5,308.7 287.6,308.7 287.8,308.7 287.9,308.7 288.1,308.7 288.2,308.7 288.4,308.7 288.5,308.7 288.7,308.7 288.8,308.7 289.0,308.7 289.1,308.7 289.3,308.7 289.4,308.7 289.5,308.7 289.7,308.7 289.8,308.7 290.0,308.7 290.1,308.7 290.3,308.7 290.4,308.7 290.6,308.7 290.7,308.7 290.9,308.7 291.0,308.7 291.2,308.7 291.3,308.7 291.5,308.7 291.6,308.7 291.8,308.7 291.9,308.7 292.1,308.7 292.2,308.7 292.4,308.7 292.5,308.7 292.7,308.7 292.8,308.7 293.0,308.7 293.1,308.7 293.3,308.7 293.4,308.7 293.6,308.7 293.7,308.7 293.9,308.7 294.0,308.7 294.2,308.7 294.3,308.7 294.5,308.7 294.6,308.7 294.8,308.7 294.9,308.7 295.1,308.7 295.2,308.7 295.4,308.7 295.5,308.7 295.7,308.7 295.8,308.7 295.9,308.7 296.1,308.7 296.2,308.7 296.4,308.7 296.5,308.7 296.7,308.7 296.8,308.7 297.0,308.7 297.1,308.7 297.3,308.7 297.4,308.7 297.6,308.7 297.7,308.7 297.9,308.7 298.0,308.7 298.2,308.7 298.3,308.7 298.5,308.7 298.6,308.7 298.8,308.7 298.9,308.7 299.1,308.7 299.2,308.7 299.4,308.7 299.5,308.7 299.7,308.7 299.8,308.7 300.0,308.7 300.1,308.7 300.3,308.7 300.4,308.7 300.6,308.7 300.7,308.7 300.9,308.7 301.0,308.7 301.2,308.7 301.3,308.7 301.5,308.7 301.6,308.7 301.8,308.7 301.9,308.7 302.1,308.7 302.2,308.7 302.3,308.7 302.5,308.7 302.6,308.7 302.8,308.7 302.9,308.7 303.1,308.7 303.2,308.7 303.4,308.7 303.5,308.7 303.7,308.7 303.8,308.7 304.0,308.7 304.1,308.7 304.3,308.7 304.4,308.7 304.6,308.7 304.7,308.7 304.9,308.7 305.0,308.7 305.2,308.7 305.3,308.7 305.5,308.7 305.6,308.7 305.8,308.7 305.9,308.7 306.1,308.7 306.2,308.7 306.4,308.7 306.5,308.7 306.7,308.7 306.8,308.7 307.0,308.7 307.1,308.7 307.3,308.7 307.4,308.7 307.6,308.7 307.7,308.7 307.9,308.7 308.0,308.7 308.2,308.7 308.3,308.7 308.5,308.7 308.6,308.7 308.7,308.7 308.9,308.7 309.0,308.7 309.2,308.7 309.3,308.7 309.5,308.7 309.6,308.7 309.8,308.7 309.9,308.7 310.1,308.7 310.2,308.7 310.4,308.7 310.5,308.7 310.7,308.7 310.8,308.7 311.0,308.7 311.1,308.7 311.3,308.7 311.4,308.7 311.6,308.7 311.7,308.7 311.9,308.7 312.0,308.7 312.2,308.7 312.3,308.7 312.5,308.7 312.6,308.7 312.8,308.7 312.9,308.7 313.1,308.7 313.2,308.7 313.4,308.7 313.5,308.7 313.7,308.7 313.8,308.7 314.0,308.7 314.1,308.7 314.3,308.7 314.4,308.7 314.6,308.7 314.7,308.7 314.9,308.7 315.0,308.7 315.1,308.7 315.3,308.7 315.4,308.7 315.6,308.7 315.7,308.7 315.9,308.7 316.0,308.7 316.2,308.7 316.3,308.7 316.5,308.7 316.6,308.7 316.8,308.7 316.9,308.7 317.1,308.7 317.2,308.7 317.4,308.7 317.5,308.7 317.7,308.7 317.8,308.7 318.0,308.7 318.1,308.7 318.3,308.7 318.4,308.7 318.6,308.7 318.7,308.7 318.9,308.7 319.0,308.7 319.2,308.7 319.3,308.7 319.5,308.7 319.6,308.7 319.8,308.7 319.9,308.7 320.1,308.7 320.2,308.7 320.4,308.7 320.5,308.7 320.7,308.7 320.8,308.7 321.0,308.7 321.1,308.7 321.2,308.7" fill="none" stroke="#0000ff" stroke-width="1.15" stroke-linejoin="round"/><rect x="276.75" y="294.20" width="44.50" height="43.40" fill="none" stroke="#222" stroke-width="1.15"/><path d="M299.00 337.60v-1.4M299.00 294.20v1.4M276.75 308.67h1.4M321.25 308.67h-1.4M276.75 323.13h1.4M321.25 323.13h-1.4" stroke="#2a2a2a" stroke-width="0.7" fill="none"/><text x="274.9" y="296.6" text-anchor="end">1.5</text><text x="274.9" y="311.1" text-anchor="end">1</text><text x="274.9" y="325.5" text-anchor="end">0.5</text><text x="274.9" y="341.5" text-anchor="end">0</text><text x="299.0" y="345.3" text-anchor="middle">π</text><text x="322.4" y="345.3" text-anchor="end">2π</text><polyline points="337.2,314.4 337.3,314.4 337.5,315.1 337.6,314.8 337.8,314.4 337.9,314.4 338.1,315.0 338.2,315.4 338.4,314.7 338.5,314.7 338.7,314.5 338.8,314.2 339.0,314.3 339.1,314.5 339.3,315.0 339.4,314.3 339.6,314.4 339.7,315.0 339.9,315.1 340.0,315.5 340.2,315.1 340.3,314.9 340.5,315.0 340.6,314.7 340.8,314.9 340.9,315.3 341.1,314.4 341.2,315.7 341.4,314.5 341.5,314.9 341.7,314.9 341.8,315.3 342.0,314.9 342.1,314.3 342.3,315.3 342.4,314.9 342.6,314.9 342.7,316.3 342.9,315.3 343.0,314.9 343.2,315.3 343.3,315.1 343.5,315.5 343.6,314.3 343.7,314.9 343.9,315.1 344.0,315.3 344.2,314.6 344.3,314.9 344.5,314.6 344.6,314.7 344.8,315.6 344.9,314.8 345.1,316.0 345.2,316.1 345.4,315.1 345.5,314.2 345.7,314.7 345.8,314.7 346.0,315.3 346.1,315.0 346.3,314.7 346.4,315.9 346.6,315.3 346.7,315.1 346.9,314.5 347.0,314.4 347.2,315.2 347.3,314.3 347.5,314.8 347.6,314.9 347.8,314.1 347.9,314.7 348.1,313.9 348.2,313.5 348.4,313.1 348.5,314.3 348.7,313.0 348.8,314.3 349.0,314.1 349.1,315.7 349.3,315.8 349.4,314.4 349.6,315.2 349.7,315.3 349.9,315.4 350.0,315.9 350.1,315.7 350.3,314.5 350.4,316.0 350.6,314.9 350.7,315.5 350.9,315.4 351.0,315.3 351.2,316.4 351.3,315.7 351.5,316.0 351.6,315.1 351.8,316.2 351.9,316.0 352.1,316.5 352.2,316.6 352.4,316.7 352.5,317.0 352.7,316.6 352.8,317.0 353.0,317.0 353.1,317.0 353.3,317.7 353.4,317.6 353.6,317.4 353.7,317.4 353.9,316.9 354.0,318.6 354.2,318.0 354.3,318.1 354.5,317.6 354.6,317.8 354.8,318.4 354.9,318.0 355.1,317.9 355.2,318.2 355.4,317.9 355.5,317.6 355.7,316.8 355.8,317.1 356.0,317.3 356.1,317.3 356.3,317.0 356.4,316.2 356.5,316.1 356.7,316.9 356.8,316.6 357.0,316.3 357.1,316.2 357.3,316.7 357.4,315.9 357.6,315.7 357.7,315.6 357.9,315.1 358.0,315.4 358.2,315.8 358.3,316.3 358.5,315.7 358.6,315.9 358.8,315.1 358.9,315.6 359.1,316.1 359.2,315.7 359.4,314.8 359.5,315.7 359.7,315.4 359.8,315.0 360.0,315.3 360.1,316.0 360.3,316.0 360.4,315.7 360.6,315.2 360.7,315.2 360.9,315.7 361.0,315.3 361.2,315.2 361.3,316.1 361.5,315.9 361.6,315.3 361.8,314.8 361.9,315.4 362.1,315.2 362.2,314.6 362.4,315.6 362.5,315.3 362.6,315.4 362.8,314.5 362.9,315.5 363.1,315.6 363.2,314.8 363.4,314.0 363.5,314.8 363.7,314.6 363.8,314.6 364.0,315.0 364.1,315.3 364.3,314.4 364.4,314.9 364.6,315.6 364.7,315.4 364.9,315.1 365.0,315.5 365.2,315.1 365.3,315.3 365.5,315.3 365.6,315.8 365.8,314.5 365.9,315.6 366.1,315.7 366.2,314.8 366.4,315.2 366.5,315.2 366.7,314.3 366.8,315.4 367.0,315.7 367.1,315.5 367.3,315.4 367.4,315.0 367.6,314.8 367.7,314.6 367.9,315.3 368.0,314.9 368.2,315.5 368.3,315.3 368.5,315.0 368.6,315.6 368.8,314.3 368.9,315.3 369.0,315.5 369.2,315.5 369.3,315.0 369.5,314.3 369.6,315.7 369.8,315.0 369.9,315.5 370.1,314.7 370.2,315.3 370.4,316.1 370.5,315.6 370.7,315.2 370.8,315.2 371.0,314.4 371.1,314.9 371.3,315.6 371.4,314.8 371.6,315.2 371.7,314.2 371.9,315.2 372.0,315.4 372.2,315.1 372.3,314.8 372.5,316.5 372.6,316.6 372.8,317.8 372.9,317.4 373.1,316.1 373.2,315.3 373.4,315.1 373.5,314.4 373.7,315.3 373.8,316.2 374.0,314.8 374.1,315.0 374.3,315.2 374.4,314.6 374.6,316.1 374.7,315.3 374.9,314.6 375.0,315.0 375.2,314.6 375.3,315.0 375.4,315.7 375.6,315.6 375.7,315.0 375.9,315.7 376.0,314.4 376.2,315.5 376.3,315.9 376.5,315.2 376.6,314.9 376.8,315.1 376.9,315.2 377.1,315.3 377.2,315.9 377.4,315.0 377.5,314.7 377.7,315.5 377.8,314.9 378.0,315.8 378.1,315.0 378.3,315.5 378.4,314.7 378.6,315.7 378.7,315.6 378.9,315.2 379.0,315.1 379.2,315.2 379.3,314.7 379.5,315.0 379.6,315.2 379.8,314.3 379.9,314.6 380.1,314.9 380.2,314.9 380.4,315.8 380.5,315.6 380.7,314.1 380.8,315.6 381.0,314.6 381.1,314.8 381.3,315.2 381.4,313.9 381.6,315.1 381.7,314.3" fill="none" stroke="#0000ff" stroke-width="1.4" stroke-linejoin="round"/><rect x="337.20" y="294.20" width="44.50" height="43.40" fill="none" stroke="#222" stroke-width="1.15"/><path d="M359.45 337.60v-1.4M359.45 294.20v1.4M337.20 315.90h1.4M381.70 315.90h-1.4" stroke="#2a2a2a" stroke-width="0.7" fill="none"/><text x="335.3" y="296.6" text-anchor="end">0.4</text><text x="335.3" y="318.3" text-anchor="end">0</text><text x="335.7" y="341.3" text-anchor="end">-0.4</text><text x="337.8" y="345.3" text-anchor="middle">0</text><text x="359.4" y="345.3" text-anchor="middle">π</text><text x="382.9" y="345.3" text-anchor="end">2π</text><polyline points="398.5,317.2 398.6,316.9 398.8,318.2 398.9,317.4 399.1,317.0 399.2,318.2 399.4,317.0 399.5,317.3 399.7,316.9 399.8,317.4 400.0,316.4 400.1,317.1 400.3,316.4 400.4,316.6 400.6,317.6 400.7,318.1 400.9,317.2 401.0,316.9 401.2,316.8 401.3,317.2 401.5,315.9 401.6,317.1 401.8,316.3 401.9,317.8 402.1,316.7 402.2,317.1 402.4,316.5 402.5,315.7 402.7,317.3 402.8,317.3 403.0,317.0 403.1,317.1 403.3,317.0 403.4,316.9 403.6,317.3 403.7,317.0 403.9,317.1 404.0,316.3 404.2,317.3 404.3,316.6 404.5,316.7 404.6,316.9 404.8,316.4 404.9,317.9 405.0,316.8 405.2,317.3 405.3,318.1 405.5,317.2 405.6,316.8 405.8,318.0 405.9,316.9 406.1,317.5 406.2,317.4 406.4,316.3 406.5,316.4 406.7,316.7 406.8,316.8 407.0,317.5 407.1,316.1 407.3,316.5 407.4,316.7 407.6,316.3 407.7,316.9 407.9,317.0 408.0,316.6 408.2,316.6 408.3,316.2 408.5,317.2 408.6,316.1 408.8,317.0 408.9,316.5 409.1,316.9 409.2,317.9 409.4,317.1 409.5,317.1 409.7,317.2 409.8,315.8 410.0,317.2 410.1,316.8 410.3,316.7 410.4,317.3 410.6,317.8 410.7,317.5 410.9,316.3 411.0,317.4 411.2,316.9 411.3,316.9 411.4,317.6 411.6,316.7 411.7,316.8 411.9,317.8 412.0,317.6 412.2,317.3 412.3,316.6 412.5,317.5 412.6,318.1 412.8,316.3 412.9,317.7 413.1,317.5 413.2,317.5 413.4,318.2 413.5,316.5 413.7,316.7 413.8,316.7 414.0,317.1 414.1,315.6 414.3,317.9 414.4,317.2 414.6,317.4 414.7,318.4 414.9,317.7 415.0,317.4 415.2,317.4 415.3,317.5 415.5,317.3 415.6,317.2 415.8,317.5 415.9,316.7 416.1,317.4 416.2,316.7 416.4,316.6 416.5,317.3 416.7,317.8 416.8,317.2 417.0,316.8 417.1,318.6 417.3,317.6 417.4,316.3 417.6,317.6 417.7,317.9 417.8,317.9 418.0,317.9 418.1,317.8 418.3,318.3 418.4,317.6 418.6,317.7 418.7,318.4 418.9,317.1 419.0,317.2 419.2,318.0 419.3,317.9 419.5,317.6 419.6,317.8 419.8,317.6 419.9,317.3 420.1,317.1 420.2,317.4 420.4,318.0 420.5,318.1 420.7,318.7 420.8,317.9 421.0,317.2 421.1,317.7 421.3,318.4 421.4,317.9 421.6,318.3 421.7,318.1 421.9,318.5 422.0,317.4 422.2,319.3 422.3,318.8 422.5,317.9 422.6,319.4 422.8,318.5 422.9,319.0 423.1,318.2 423.2,318.4 423.4,318.4 423.5,318.4 423.7,318.5 423.8,317.5 423.9,318.6 424.1,319.0 424.2,318.5 424.4,319.3 424.5,319.1 424.7,318.0 424.8,318.5 425.0,318.6 425.1,318.0 425.3,319.1 425.4,319.6 425.6,318.1 425.7,318.8 425.9,317.4 426.0,319.4 426.2,318.6 426.3,318.9 426.5,318.5 426.6,318.7 426.8,318.9 426.9,317.9 427.1,318.1 427.2,318.5 427.4,318.3 427.5,318.5 427.7,319.6 427.8,319.1 428.0,318.5 428.1,318.6 428.3,317.8 428.4,319.0 428.6,318.7 428.7,318.6 428.9,318.5 429.0,318.0 429.2,319.1 429.3,318.1 429.5,318.4 429.6,319.3 429.8,319.3 429.9,318.6 430.1,317.7 430.2,318.4 430.3,318.3 430.5,318.4 430.6,319.1 430.8,318.9 430.9,319.3 431.1,318.1 431.2,318.7 431.4,317.8 431.5,318.5 431.7,319.2 431.8,318.7 432.0,317.9 432.1,318.6 432.3,318.4 432.4,319.2 432.6,318.6 432.7,318.0 432.9,318.4 433.0,318.2 433.2,318.2 433.3,318.7 433.5,318.2 433.6,318.3 433.8,318.6 433.9,317.3 434.1,317.4 434.2,317.5 434.4,318.2 434.5,318.9 434.7,317.7 434.8,318.5 435.0,317.7 435.1,318.3 435.3,318.4 435.4,319.0 435.6,317.9 435.7,317.7 435.9,317.7 436.0,317.5 436.2,318.8 436.3,317.9 436.5,317.5 436.6,317.4 436.7,318.7 436.9,317.7 437.0,317.3 437.2,317.5 437.3,318.3 437.5,317.3 437.6,317.6 437.8,317.1 437.9,318.3 438.1,318.2 438.2,319.2 438.4,320.0 438.5,321.6 438.7,320.5 438.8,320.0 439.0,318.5 439.1,318.1 439.3,317.6 439.4,317.2 439.6,317.3 439.7,317.3 439.9,317.3 440.0,317.5 440.2,317.8 440.3,317.3 440.5,318.3 440.6,317.3 440.8,317.6 440.9,317.7 441.1,317.3 441.2,317.2 441.4,317.8 441.5,317.3 441.7,316.9 441.8,317.6 442.0,316.8 442.1,317.9 442.3,317.6 442.4,316.7 442.6,317.2 442.7,317.3 442.9,316.8 443.0,316.6" fill="none" stroke="#0000ff" stroke-width="1.4" stroke-linejoin="round"/><rect x="398.50" y="294.20" width="44.50" height="43.40" fill="none" stroke="#222" stroke-width="1.15"/><path d="M420.75 337.60v-1.4M420.75 294.20v1.4M398.50 315.90h1.4M443.00 315.90h-1.4" stroke="#2a2a2a" stroke-width="0.7" fill="none"/><text x="396.6" y="296.6" text-anchor="end">0.4</text><text x="396.6" y="318.3" text-anchor="end">0</text><text x="397.0" y="341.3" text-anchor="end">-0.4</text><text x="399.1" y="345.3" text-anchor="middle">0</text><text x="420.8" y="345.3" text-anchor="middle">π</text><text x="444.2" y="345.3" text-anchor="end">2π</text><polyline points="459.3,316.7 459.4,316.4 459.6,316.6 459.7,316.7 459.9,315.7 460.0,316.2 460.2,316.5 460.3,315.7 460.5,315.6 460.6,316.7 460.8,315.6 460.9,316.6 461.1,314.7 461.2,315.8 461.4,317.0 461.5,315.4 461.7,316.5 461.8,315.8 462.0,315.1 462.1,315.5 462.3,316.8 462.4,315.9 462.6,316.3 462.7,315.9 462.9,316.2 463.0,316.1 463.2,315.3 463.3,316.3 463.5,315.4 463.6,316.5 463.8,316.1 463.9,316.8 464.1,315.5 464.2,316.0 464.4,316.7 464.5,316.0 464.7,316.2 464.8,316.3 465.0,316.3 465.1,315.7 465.3,316.4 465.4,315.5 465.6,315.7 465.7,315.6 465.8,315.5 466.0,315.8 466.1,316.4 466.3,315.6 466.4,316.7 466.6,316.3 466.7,315.5 466.9,316.9 467.0,316.4 467.2,316.7 467.3,315.8 467.5,316.5 467.6,315.9 467.8,316.0 467.9,315.0 468.1,315.0 468.2,316.4 468.4,316.3 468.5,316.0 468.7,316.1 468.8,316.1 469.0,316.0 469.1,315.5 469.3,315.3 469.4,316.6 469.6,315.6 469.7,315.9 469.9,316.3 470.0,315.4 470.2,314.1 470.3,311.3 470.5,310.5 470.6,313.4 470.8,315.0 470.9,315.6 471.1,316.2 471.2,317.4 471.4,315.2 471.5,315.9 471.7,315.6 471.8,316.2 472.0,316.3 472.1,315.4 472.2,315.8 472.4,316.1 472.5,315.7 472.7,316.0 472.8,315.7 473.0,315.4 473.1,315.8 473.3,316.0 473.4,315.5 473.6,315.2 473.7,315.7 473.9,315.8 474.0,315.8 474.2,316.1 474.3,315.5 474.5,316.0 474.6,316.0 474.8,315.6 474.9,315.1 475.1,315.2 475.2,316.3 475.4,315.1 475.5,315.4 475.7,315.7 475.8,315.3 476.0,315.6 476.1,314.9 476.3,316.1 476.4,315.1 476.6,316.0 476.7,315.9 476.9,315.4 477.0,316.8 477.2,315.4 477.3,315.2 477.5,316.6 477.6,316.1 477.8,315.3 477.9,316.3 478.1,316.5 478.2,314.9 478.4,316.0 478.5,315.0 478.6,315.3 478.8,315.6 478.9,316.2 479.1,315.3 479.2,315.6 479.4,316.1 479.5,316.2 479.7,316.0 479.8,316.4 480.0,316.1 480.1,315.6 480.3,316.3 480.4,316.0 480.6,316.0 480.7,315.9 480.9,316.2 481.0,315.7 481.2,315.3 481.3,316.5 481.5,316.2 481.6,316.0 481.8,315.3 481.9,316.0 482.1,316.2 482.2,315.5 482.4,316.0 482.5,316.5 482.7,315.8 482.8,315.9 483.0,316.3 483.1,316.8 483.3,316.2 483.4,315.8 483.6,315.8 483.7,316.7 483.9,316.5 484.0,315.5 484.2,316.9 484.3,315.5 484.5,315.7 484.6,315.0 484.7,316.8 484.9,315.6 485.0,316.3 485.2,316.0 485.3,316.5 485.5,315.5 485.6,315.7 485.8,316.6 485.9,316.7 486.1,315.8 486.2,316.2 486.4,315.9 486.5,315.9 486.7,315.8 486.8,316.0 487.0,316.3 487.1,315.5 487.3,315.6 487.4,316.0 487.6,315.8 487.7,316.0 487.9,316.1 488.0,316.2 488.2,315.3 488.3,316.3 488.5,315.3 488.6,315.7 488.8,315.7 488.9,315.6 489.1,315.8 489.2,316.6 489.4,316.7 489.5,316.4 489.7,316.3 489.8,316.0 490.0,316.1 490.1,315.8 490.3,316.8 490.4,315.9 490.6,316.3 490.7,316.3 490.9,316.3 491.0,316.0 491.1,316.4 491.3,315.6 491.4,315.6 491.6,316.3 491.7,316.3 491.9,316.0 492.0,315.4 492.2,315.7 492.3,316.3 492.5,316.0 492.6,316.6 492.8,316.2 492.9,316.5 493.1,315.7 493.2,316.1 493.4,316.0 493.5,316.7 493.7,316.2 493.8,316.1 494.0,315.4 494.1,316.7 494.3,316.4 494.4,316.4 494.6,315.7 494.7,316.2 494.9,315.3 495.0,315.1 495.2,316.8 495.3,315.3 495.5,315.5 495.6,315.5 495.8,315.6 495.9,316.0 496.1,316.1 496.2,316.1 496.4,316.3 496.5,315.7 496.7,315.9 496.8,315.7 497.0,315.7 497.1,316.6 497.3,315.8 497.4,316.2 497.5,316.2 497.7,315.8 497.8,315.4 498.0,315.9 498.1,315.7 498.3,315.0 498.4,315.5 498.6,315.5 498.7,316.1 498.9,315.4 499.0,315.9 499.2,315.0 499.3,314.8 499.5,316.1 499.6,315.6 499.8,315.7 499.9,315.0 500.1,316.4 500.2,315.2 500.4,315.8 500.5,318.0 500.7,319.3 500.8,318.4 501.0,316.3 501.1,315.9 501.3,316.4 501.4,316.0 501.6,316.0 501.7,315.5 501.9,316.0 502.0,315.5 502.2,315.3 502.3,316.0 502.5,315.5 502.6,316.4 502.8,315.7 502.9,315.3 503.1,315.3 503.2,314.1 503.4,316.1 503.5,315.8 503.7,315.8 503.8,316.1" fill="none" stroke="#0000ff" stroke-width="1.4" stroke-linejoin="round"/><rect x="459.30" y="294.20" width="44.50" height="43.40" fill="none" stroke="#222" stroke-width="1.15"/><path d="M481.55 337.60v-1.4M481.55 294.20v1.4M459.30 315.90h1.4M503.80 315.90h-1.4" stroke="#2a2a2a" stroke-width="0.7" fill="none"/><text x="457.4" y="296.6" text-anchor="end">0.4</text><text x="457.4" y="318.3" text-anchor="end">0</text><text x="457.8" y="341.3" text-anchor="end">-0.4</text><text x="459.9" y="345.3" text-anchor="middle">0</text><text x="481.6" y="345.3" text-anchor="middle">π</text><text x="505.0" y="345.3" text-anchor="end">2π</text><polyline points="276.8,377.8 276.9,379.2 277.0,378.2 277.2,374.7 277.3,378.7 277.5,377.0 277.6,376.6 277.8,376.5 277.9,377.4 278.1,377.8 278.2,377.3 278.4,377.2 278.5,380.0 278.7,376.9 278.8,378.4 279.0,377.6 279.1,377.7 279.3,378.5 279.4,380.2 279.6,381.0 279.7,378.2 279.9,380.0 280.0,381.0 280.2,380.1 280.3,379.7 280.5,378.1 280.6,381.1 280.8,379.5 280.9,379.9 281.1,380.6 281.2,381.3 281.4,378.7 281.5,380.6 281.7,380.1 281.8,380.7 282.0,378.5 282.1,380.1 282.3,380.9 282.4,379.4 282.6,380.2 282.7,381.4 282.9,381.9 283.0,380.9 283.1,380.7 283.3,381.8 283.4,382.3 283.6,379.8 283.7,379.8 283.9,379.1 284.0,380.9 284.2,379.6 284.3,379.3 284.5,379.7 284.6,380.2 284.8,379.1 284.9,379.6 285.1,379.6 285.2,379.2 285.4,379.8 285.5,379.7 285.7,378.7 285.8,378.5 286.0,377.6 286.1,378.6 286.3,379.2 286.4,379.5 286.6,377.2 286.7,378.7 286.9,379.3 287.0,376.4 287.2,376.2 287.3,376.1 287.5,372.4 287.6,370.9 287.8,371.0 287.9,372.4 288.1,376.7 288.2,376.6 288.4,376.6 288.5,380.0 288.7,378.9 288.8,376.7 289.0,378.8 289.1,378.9 289.3,379.1 289.4,377.4 289.5,378.6 289.7,375.9 289.8,378.3 290.0,381.0 290.1,380.2 290.3,378.8 290.4,377.0 290.6,378.1 290.7,380.0 290.9,380.0 291.0,381.3 291.2,378.6 291.3,381.6 291.5,379.1 291.6,379.0 291.8,379.7 291.9,379.0 292.1,377.9 292.2,381.2 292.4,378.5 292.5,382.7 292.7,380.9 292.8,380.7 293.0,380.5 293.1,379.2 293.3,380.6 293.4,381.3 293.6,381.3 293.7,380.6 293.9,379.5 294.0,381.1 294.2,380.6 294.3,380.4 294.5,379.1 294.6,379.1 294.8,380.5 294.9,380.5 295.1,379.9 295.2,378.6 295.4,377.4 295.5,378.6 295.7,379.4 295.8,376.2 295.9,377.5 296.1,380.9 296.2,377.5 296.4,376.9 296.5,376.9 296.7,378.6 296.8,379.7 297.0,377.9 297.1,377.2 297.3,377.3 297.4,377.5 297.6,378.6 297.7,377.7 297.9,377.8 298.0,378.3 298.2,375.8 298.3,378.1 298.5,378.0 298.6,375.7 298.8,378.1 298.9,378.2 299.1,377.8 299.2,379.1 299.4,377.0 299.5,378.1 299.7,377.4 299.8,376.5 300.0,378.3 300.1,378.2 300.3,379.4 300.4,376.8 300.6,378.1 300.7,376.7 300.9,377.7 301.0,378.2 301.2,378.5 301.3,376.2 301.5,376.8 301.6,376.4 301.8,377.6 301.9,379.0 302.1,377.6 302.2,376.7 302.3,376.6 302.5,376.4 302.6,376.1 302.8,376.2 302.9,375.4 303.1,379.1 303.2,376.4 303.4,376.5 303.5,376.2 303.7,377.0 303.8,377.9 304.0,376.7 304.1,376.1 304.3,376.8 304.4,375.7 304.6,375.9 304.7,379.1 304.9,374.3 305.0,378.0 305.2,374.1 305.3,375.9 305.5,377.4 305.6,376.3 305.8,376.7 305.9,376.0 306.1,378.2 306.2,377.0 306.4,379.3 306.5,376.8 306.7,377.6 306.8,378.5 307.0,378.8 307.1,378.3 307.3,379.3 307.4,379.3 307.6,380.2 307.7,380.6 307.9,380.8 308.0,378.8 308.2,380.2 308.3,379.3 308.5,378.0 308.6,376.8 308.7,379.2 308.9,377.6 309.0,377.9 309.2,376.4 309.3,376.2 309.5,378.1 309.6,377.3 309.8,377.0 309.9,375.1 310.1,378.4 310.2,375.5 310.4,376.1 310.5,376.8 310.7,375.9 310.8,376.9 311.0,374.0 311.1,376.0 311.3,376.7 311.4,374.9 311.6,376.1 311.7,377.1 311.9,376.4 312.0,375.8 312.2,376.1 312.3,376.0 312.5,376.0 312.6,375.5 312.8,376.4 312.9,374.3 313.1,375.7 313.2,375.1 313.4,376.4 313.5,377.2 313.7,376.5 313.8,376.3 314.0,377.1 314.1,379.7 314.3,377.2 314.4,375.4 314.6,375.0 314.7,375.1 314.9,377.1 315.0,377.2 315.1,374.9 315.3,376.0 315.4,378.1 315.6,378.1 315.7,377.9 315.9,377.7 316.0,379.9 316.2,378.6 316.3,379.4 316.5,379.3 316.6,381.7 316.8,383.9 316.9,381.2 317.1,379.4 317.2,377.2 317.4,377.0 317.5,376.6 317.7,375.5 317.8,378.6 318.0,375.4 318.1,375.3 318.3,378.1 318.4,376.1 318.6,378.9 318.7,374.2 318.9,376.5 319.0,377.4 319.2,378.4 319.3,377.3 319.5,376.6 319.6,377.4 319.8,376.3 319.9,377.1 320.1,378.1 320.2,376.4 320.4,374.1 320.5,379.8 320.7,377.5 320.8,376.4 321.0,378.2 321.1,378.7 321.2,378.4" fill="none" stroke="#0000ff" stroke-width="1.55" stroke-linejoin="round"/><rect x="276.75" y="355.70" width="44.50" height="43.50" fill="none" stroke="#222" stroke-width="1.15"/><path d="M299.00 399.20v-1.4M299.00 355.70v1.4M276.75 377.45h1.4M321.25 377.45h-1.4" stroke="#2a2a2a" stroke-width="0.7" fill="none"/><text x="274.9" y="358.1" text-anchor="end">0.4</text><text x="274.9" y="379.8" text-anchor="end">0</text><text x="275.2" y="402.9" text-anchor="end">-0.4</text><text x="277.4" y="406.9" text-anchor="middle">0</text><text x="299.0" y="406.9" text-anchor="middle">π</text><text x="322.4" y="406.9" text-anchor="end">2π</text><polyline points="337.2,356.5 337.3,356.9 337.5,357.3 337.6,357.5 337.8,357.5 337.9,358.2 338.1,358.6 338.2,359.6 338.4,360.8 338.5,361.7 338.7,362.8 338.8,363.5 339.0,365.0 339.1,366.3 339.3,367.6 339.4,368.9 339.6,370.7 339.7,372.4 339.9,373.6 340.0,375.2 340.2,376.5 340.3,378.4 340.5,379.2 340.6,381.0 340.8,382.0 340.9,383.5 341.1,385.0 341.2,386.4 341.4,387.3 341.5,388.5 341.7,388.7 341.8,390.2 342.0,390.7 342.1,391.5 342.3,392.0 342.4,392.1 342.6,391.8 342.7,392.8 342.9,392.4 343.0,392.0 343.2,392.0 343.3,391.7 343.5,390.3 343.6,390.3 343.7,389.8 343.9,389.3 344.0,388.1 344.2,386.9 344.3,385.4 344.5,384.4 344.6,383.3 344.8,381.3 344.9,380.0 345.1,379.0 345.2,377.1 345.4,375.8 345.5,374.5 345.7,373.1 345.8,371.3 346.0,369.7 346.1,368.2 346.3,366.8 346.4,365.2 346.6,363.8 346.7,363.0 346.9,361.6 347.0,360.4 347.2,359.8 347.3,359.0 347.5,358.6 347.6,357.5 347.8,357.4 347.9,356.7 348.1,356.0 348.2,355.7 348.4,356.3 348.5,356.5 348.7,356.6 348.8,356.5 349.0,356.5 349.1,357.6 349.3,358.8 349.4,359.4 349.6,359.7 349.7,360.9 349.9,361.9 350.0,363.3 350.1,364.5 350.3,366.4 350.4,367.0 350.6,368.2 350.7,370.2 350.9,371.8 351.0,373.1 351.2,374.7 351.3,376.4 351.5,377.8 351.6,378.9 351.8,380.1 351.9,381.9 352.1,383.5 352.2,384.2 352.4,385.2 352.5,386.8 352.7,387.9 352.8,388.6 353.0,389.4 353.1,389.6 353.3,390.8 353.4,390.9 353.6,391.2 353.7,391.6 353.9,391.1 354.0,391.3 354.2,391.5 354.3,391.1 354.5,390.6 354.6,389.6 354.8,389.4 354.9,388.4 355.1,387.6 355.2,387.0 355.4,385.5 355.5,384.7 355.7,383.3 355.8,381.9 356.0,380.3 356.1,379.1 356.3,377.7 356.4,376.3 356.5,374.7 356.7,373.0 356.8,371.9 357.0,370.2 357.1,368.6 357.3,367.8 357.4,365.6 357.6,364.1 357.7,363.3 357.9,361.9 358.0,360.8 358.2,359.8 358.3,358.7 358.5,358.2 358.6,357.0 358.8,356.7 358.9,355.8 359.1,355.7 359.2,355.7 359.4,355.7 359.5,355.7 359.7,355.7 359.8,355.7 360.0,355.8 360.1,356.7 360.3,356.8 360.4,358.0 360.6,358.4 360.7,359.7 360.9,361.3 361.0,362.0 361.2,363.3 361.3,364.4 361.5,365.5 361.6,367.3 361.8,368.7 361.9,370.0 362.1,371.9 362.2,373.2 362.4,374.3 362.5,375.7 362.6,377.8 362.8,379.2 362.9,380.3 363.1,381.6 363.2,383.3 363.4,384.7 363.5,385.8 363.7,386.4 363.8,387.5 364.0,388.8 364.1,388.9 364.3,390.1 364.4,390.8 364.6,390.7 364.7,391.0 364.9,391.7 365.0,391.7 365.2,391.3 365.3,391.4 365.5,390.6 365.6,390.3 365.8,390.1 365.9,390.0 366.1,388.5 366.2,387.6 366.4,386.0 366.5,385.8 366.7,384.4 366.8,382.7 367.0,381.8 367.1,380.2 367.3,378.9 367.4,377.6 367.6,375.9 367.7,374.7 367.9,373.3 368.0,371.4 368.2,370.2 368.3,368.5 368.5,366.8 368.6,365.6 368.8,364.8 368.9,363.5 369.0,362.4 369.2,361.1 369.3,360.2 369.5,358.9 369.6,357.9 369.8,357.5 369.9,357.5 370.1,356.6 370.2,356.2 370.4,355.7 370.5,355.8 370.7,355.8 370.8,356.1 371.0,356.8 371.1,356.7 371.3,357.1 371.4,358.3 371.6,358.4 371.7,359.1 371.9,360.9 372.0,361.9 372.2,363.2 372.3,364.1 372.5,365.7 372.6,366.4 372.8,368.4 372.9,369.8 373.1,371.1 373.2,372.9 373.4,373.9 373.5,375.8 373.7,377.3 373.8,378.6 374.0,380.6 374.1,381.7 374.3,383.3 374.4,384.3 374.6,385.9 374.7,386.4 374.9,387.7 375.0,388.9 375.2,389.7 375.3,390.9 375.4,391.0 375.6,391.9 375.7,391.8 375.9,392.5 376.0,392.0 376.2,392.5 376.3,392.5 376.5,391.8 376.6,391.8 376.8,390.8 376.9,390.2 377.1,390.2 377.2,388.9 377.4,388.1 377.5,387.2 377.7,386.6 377.8,385.0 378.0,383.8 378.1,382.0 378.3,380.6 378.4,379.8 378.6,378.4 378.7,376.5 378.9,375.1 379.0,373.3 379.2,372.2 379.3,370.2 379.5,368.6 379.6,368.0 379.8,366.5 379.9,364.9 380.1,363.8 380.2,362.1 380.4,361.5 380.5,360.5 380.7,360.0 380.8,358.7 381.0,358.4 381.1,357.7 381.3,357.7 381.4,356.9 381.6,356.6 381.7,356.5" fill="none" stroke="#0000ff" stroke-width="1.4" stroke-linejoin="round"/><rect x="337.20" y="355.70" width="44.50" height="43.50" fill="none" stroke="#222" stroke-width="1.15"/><path d="M359.45 399.20v-1.4M359.45 355.70v1.4M337.20 377.45h1.4M381.70 377.45h-1.4" stroke="#2a2a2a" stroke-width="0.7" fill="none"/><text x="335.3" y="358.1" text-anchor="end">1</text><text x="335.3" y="379.8" text-anchor="end">0</text><text x="335.7" y="402.9" text-anchor="end">-1</text><text x="337.8" y="406.9" text-anchor="middle">0</text><text x="359.4" y="406.9" text-anchor="middle">π</text><text x="382.9" y="406.9" text-anchor="end">2π</text><polyline points="398.5,378.7 398.6,376.8 398.8,375.4 398.9,373.9 399.1,373.1 399.2,371.3 399.4,370.0 399.5,368.8 399.7,367.5 399.8,366.8 400.0,365.7 400.1,363.9 400.3,363.3 400.4,362.6 400.6,362.0 400.7,361.6 400.9,361.2 401.0,361.1 401.2,360.5 401.3,360.8 401.5,360.4 401.6,360.7 401.8,360.8 401.9,361.2 402.1,361.1 402.2,361.6 402.4,363.1 402.5,363.1 402.7,364.3 402.8,365.4 403.0,366.3 403.1,368.4 403.3,369.0 403.4,369.9 403.6,371.8 403.7,372.7 403.9,374.7 404.0,376.2 404.2,377.3 404.3,379.0 404.5,380.6 404.6,381.9 404.8,383.2 404.9,384.5 405.0,386.0 405.2,387.3 405.3,388.6 405.5,389.9 405.6,391.0 405.8,391.9 405.9,392.9 406.1,393.7 406.2,394.1 406.4,394.8 406.5,395.3 406.7,395.9 406.8,396.0 407.0,396.1 407.1,396.2 407.3,395.8 407.4,395.2 407.6,395.1 407.7,395.1 407.9,394.4 408.0,393.4 408.2,392.9 408.3,391.9 408.5,391.2 408.6,390.2 408.8,388.6 408.9,387.7 409.1,386.1 409.2,384.7 409.4,383.7 409.5,382.4 409.7,380.3 409.8,379.3 410.0,377.8 410.1,376.4 410.3,375.1 410.4,373.7 410.6,372.2 410.7,371.1 410.9,370.3 411.0,368.8 411.2,367.7 411.3,366.7 411.4,365.4 411.6,365.3 411.7,363.9 411.9,363.8 412.0,363.1 412.2,362.4 412.3,362.5 412.5,361.8 412.6,361.8 412.8,362.2 412.9,362.4 413.1,362.7 413.2,363.7 413.4,363.8 413.5,364.4 413.7,364.9 413.8,365.6 414.0,367.5 414.1,367.9 414.3,368.6 414.4,369.7 414.6,370.7 414.7,372.5 414.9,374.0 415.0,375.0 415.2,376.2 415.3,378.0 415.5,379.3 415.6,380.8 415.8,381.7 415.9,383.5 416.1,384.4 416.2,385.7 416.4,386.9 416.5,387.9 416.7,389.0 416.8,390.3 417.0,391.1 417.1,391.6 417.3,391.9 417.4,392.7 417.6,393.4 417.7,393.7 417.8,394.2 418.0,393.8 418.1,393.9 418.3,394.6 418.4,393.7 418.6,394.0 418.7,393.0 418.9,392.1 419.0,392.0 419.2,391.0 419.3,390.2 419.5,390.0 419.6,387.6 419.8,386.8 419.9,386.5 420.1,384.1 420.2,383.4 420.4,382.0 420.5,380.6 420.7,378.7 420.8,377.4 421.0,376.4 421.1,374.7 421.3,373.5 421.4,371.5 421.6,370.4 421.7,368.9 421.9,368.2 422.0,366.7 422.2,365.0 422.3,364.6 422.5,363.5 422.6,362.8 422.8,362.0 422.9,361.1 423.1,360.6 423.2,360.4 423.4,360.0 423.5,359.4 423.7,359.1 423.8,359.4 423.9,359.5 424.1,360.1 424.2,360.4 424.4,361.0 424.5,361.4 424.7,362.1 424.8,362.6 425.0,363.5 425.1,364.9 425.3,365.7 425.4,367.1 425.6,368.6 425.7,369.8 425.9,370.9 426.0,372.2 426.2,373.6 426.3,375.4 426.5,376.7 426.6,378.5 426.8,379.3 426.9,380.0 427.1,382.2 427.2,384.2 427.4,384.9 427.5,386.2 427.7,387.2 427.8,388.3 428.0,389.1 428.1,390.1 428.3,391.1 428.4,392.2 428.6,392.8 428.7,393.1 428.9,393.7 429.0,393.5 429.2,393.8 429.3,393.8 429.5,394.6 429.6,394.0 429.8,393.2 429.9,393.0 430.1,392.5 430.2,391.6 430.3,391.2 430.5,390.4 430.6,389.4 430.8,388.6 430.9,387.2 431.1,386.5 431.2,384.3 431.4,383.0 431.5,381.9 431.7,380.6 431.8,379.8 432.0,377.3 432.1,376.3 432.3,375.2 432.4,373.8 432.6,372.2 432.7,371.1 432.9,369.4 433.0,368.1 433.2,367.5 433.3,366.4 433.5,365.1 433.6,363.7 433.8,363.1 433.9,362.3 434.1,361.8 434.2,360.8 434.4,361.0 434.5,360.0 434.7,360.4 434.8,360.2 435.0,360.0 435.1,359.9 435.3,360.5 435.4,361.2 435.6,361.4 435.7,362.4 435.9,362.5 436.0,363.5 436.2,364.4 436.3,365.2 436.5,366.8 436.6,368.1 436.7,368.9 436.9,370.2 437.0,371.9 437.2,372.7 437.3,373.9 437.5,375.1 437.6,376.7 437.8,378.3 437.9,380.4 438.1,381.7 438.2,382.2 438.4,383.3 438.5,385.2 438.7,386.1 438.8,387.1 439.0,388.2 439.1,389.1 439.3,390.4 439.4,391.4 439.6,391.7 439.7,392.2 439.9,393.4 440.0,393.0 440.2,392.5 440.3,393.1 440.5,393.4 440.6,393.1 440.8,392.8 440.9,392.6 441.1,392.3 441.2,392.0 441.4,391.2 441.5,390.0 441.7,389.4 441.8,388.4 442.0,387.1 442.1,385.9 442.3,385.1 442.4,384.1 442.6,382.5 442.7,381.3 442.9,379.5 443.0,378.7" fill="none" stroke="#0000ff" stroke-width="1.4" stroke-linejoin="round"/><rect x="398.50" y="355.70" width="44.50" height="43.50" fill="none" stroke="#222" stroke-width="1.15"/><path d="M420.75 399.20v-1.4M420.75 355.70v1.4M398.50 377.45h1.4M443.00 377.45h-1.4" stroke="#2a2a2a" stroke-width="0.7" fill="none"/><text x="396.6" y="358.1" text-anchor="end">1</text><text x="396.6" y="379.8" text-anchor="end">0</text><text x="397.0" y="402.9" text-anchor="end">-1</text><text x="399.1" y="406.9" text-anchor="middle">0</text><text x="420.8" y="406.9" text-anchor="middle">π</text><text x="444.2" y="406.9" text-anchor="end">2π</text><polyline points="459.3,379.6 459.4,378.9 459.6,378.9 459.7,377.8 459.9,377.2 460.0,376.2 460.2,375.9 460.3,375.3 460.5,374.8 460.6,373.9 460.8,373.9 460.9,372.7 461.1,372.3 461.2,372.5 461.4,371.7 461.5,370.6 461.7,370.1 461.8,370.0 462.0,369.5 462.1,368.8 462.3,368.9 462.4,368.0 462.6,367.2 462.7,367.6 462.9,366.3 463.0,365.9 463.2,366.2 463.3,366.0 463.5,365.4 463.6,364.9 463.8,364.6 463.9,364.6 464.1,364.6 464.2,363.8 464.4,364.1 464.5,364.0 464.7,363.8 464.8,363.3 465.0,363.6 465.1,363.5 465.3,363.1 465.4,363.6 465.6,364.0 465.7,363.3 465.8,363.3 466.0,363.4 466.1,363.8 466.3,364.1 466.4,364.1 466.6,364.4 466.7,364.1 466.9,364.5 467.0,364.3 467.2,364.9 467.3,365.5 467.5,365.3 467.6,366.3 467.8,366.1 467.9,366.5 468.1,367.3 468.2,367.8 468.4,368.1 468.5,368.6 468.7,369.0 468.8,369.3 469.0,369.9 469.1,370.5 469.3,370.8 469.4,371.5 469.6,371.6 469.7,373.1 469.9,373.1 470.0,373.9 470.2,374.0 470.3,374.9 470.5,375.2 470.6,375.7 470.8,376.7 470.9,377.0 471.1,377.6 471.2,378.7 471.4,379.2 471.5,379.4 471.7,380.7 471.8,380.9 472.0,381.5 472.1,382.0 472.2,382.5 472.4,382.5 472.5,383.7 472.7,384.4 472.8,384.6 473.0,385.4 473.1,385.4 473.3,385.8 473.4,386.9 473.6,387.3 473.7,387.3 473.9,387.9 474.0,388.2 474.2,388.1 474.3,388.9 474.5,389.1 474.6,389.8 474.8,390.1 474.9,390.3 475.1,390.4 475.2,390.3 475.4,390.4 475.5,390.3 475.7,391.1 475.8,390.8 476.0,391.3 476.1,391.6 476.3,390.7 476.4,391.0 476.6,391.3 476.7,391.1 476.9,390.8 477.0,390.4 477.2,390.5 477.3,390.4 477.5,390.6 477.6,390.7 477.8,390.0 477.9,390.1 478.1,389.6 478.2,388.9 478.4,388.8 478.5,388.8 478.6,388.7 478.8,388.1 478.9,387.2 479.1,387.6 479.2,386.9 479.4,385.9 479.5,385.8 479.7,385.1 479.8,384.9 480.0,383.8 480.1,382.9 480.3,382.8 480.4,382.0 480.6,381.9 480.7,381.1 480.9,380.6 481.0,380.5 481.2,379.5 481.3,378.8 481.5,378.3 481.6,377.7 481.8,377.4 481.9,376.2 482.1,375.9 482.2,375.0 482.4,374.6 482.5,373.5 482.7,373.2 482.8,372.4 483.0,372.3 483.1,371.2 483.3,370.6 483.4,370.2 483.6,369.7 483.7,368.9 483.9,368.3 484.0,367.9 484.2,367.3 484.3,367.0 484.5,366.5 484.6,366.2 484.7,365.1 484.9,364.8 485.0,364.5 485.2,364.2 485.3,363.8 485.5,363.5 485.6,362.8 485.8,362.6 485.9,362.4 486.1,362.2 486.2,362.1 486.4,361.3 486.5,361.5 486.7,361.0 486.8,361.3 487.0,360.9 487.1,360.6 487.3,361.1 487.4,360.9 487.6,361.0 487.7,360.6 487.9,361.2 488.0,360.9 488.2,361.3 488.3,361.4 488.5,360.5 488.6,361.4 488.8,361.1 488.9,361.3 489.1,361.5 489.2,362.2 489.4,362.7 489.5,362.1 489.7,363.5 489.8,363.9 490.0,363.6 490.1,363.9 490.3,364.4 490.4,365.1 490.6,365.8 490.7,365.9 490.9,366.1 491.0,366.9 491.1,367.1 491.3,368.0 491.4,368.3 491.6,369.3 491.7,369.5 491.9,369.8 492.0,370.5 492.2,371.2 492.3,372.0 492.5,372.8 492.6,373.3 492.8,373.6 492.9,374.3 493.1,375.4 493.2,375.4 493.4,376.0 493.5,377.2 493.7,377.5 493.8,378.6 494.0,378.9 494.1,379.6 494.3,380.1 494.4,380.8 494.6,381.5 494.7,381.8 494.9,383.2 495.0,383.4 495.2,383.6 495.3,384.2 495.5,384.5 495.6,385.4 495.8,386.1 495.9,386.2 496.1,386.8 496.2,387.6 496.4,387.2 496.5,387.8 496.7,388.3 496.8,388.0 497.0,389.2 497.1,389.2 497.3,389.4 497.4,389.8 497.5,390.2 497.7,390.3 497.8,390.4 498.0,390.5 498.1,391.0 498.3,391.1 498.4,391.3 498.6,391.3 498.7,391.3 498.9,391.4 499.0,390.7 499.2,391.3 499.3,391.2 499.5,390.4 499.6,390.7 499.8,391.5 499.9,390.6 500.1,390.5 500.2,390.6 500.4,390.3 500.5,389.5 500.7,389.4 500.8,389.1 501.0,389.1 501.1,388.2 501.3,388.1 501.4,387.7 501.6,387.3 501.7,387.4 501.9,386.4 502.0,385.7 502.2,385.5 502.3,385.2 502.5,384.3 502.6,384.4 502.8,383.7 502.9,382.9 503.1,382.3 503.2,381.8 503.4,381.8 503.5,380.6 503.7,380.1 503.8,379.8" fill="none" stroke="#0000ff" stroke-width="1.4" stroke-linejoin="round"/><rect x="459.30" y="355.70" width="44.50" height="43.50" fill="none" stroke="#222" stroke-width="1.15"/><path d="M481.55 399.20v-1.4M481.55 355.70v1.4M459.30 377.45h1.4M503.80 377.45h-1.4" stroke="#2a2a2a" stroke-width="0.7" fill="none"/><text x="457.4" y="358.1" text-anchor="end">1</text><text x="457.4" y="379.8" text-anchor="end">0</text><text x="457.8" y="402.9" text-anchor="end">-1</text><text x="459.9" y="406.9" text-anchor="middle">0</text><text x="481.6" y="406.9" text-anchor="middle">π</text><text x="505.0" y="406.9" text-anchor="end">2π</text><polyline points="276.8,440.8 276.9,440.7 277.0,440.0 277.2,440.2 277.3,441.1 277.5,440.1 277.6,440.0 277.8,440.4 277.9,440.6 278.1,440.4 278.2,440.8 278.4,441.0 278.5,440.3 278.7,439.7 278.8,440.0 279.0,440.3 279.1,440.2 279.3,440.3 279.4,440.2 279.6,440.2 279.7,441.2 279.9,441.0 280.0,440.1 280.2,441.2 280.3,441.7 280.5,440.4 280.6,441.0 280.8,440.8 280.9,440.6 281.1,441.6 281.2,441.2 281.4,441.2 281.5,441.5 281.7,441.5 281.8,441.7 282.0,441.4 282.1,442.1 282.3,441.9 282.4,442.4 282.6,441.9 282.7,441.6 282.9,442.4 283.0,442.3 283.1,442.7 283.3,441.5 283.4,442.3 283.6,442.2 283.7,441.4 283.9,442.5 284.0,442.5 284.2,442.8 284.3,443.0 284.5,441.7 284.6,442.3 284.8,442.4 284.9,442.2 285.1,442.7 285.2,442.2 285.4,442.0 285.5,441.8 285.7,442.2 285.8,442.3 286.0,442.0 286.1,441.7 286.3,441.5 286.4,442.0 286.6,442.0 286.7,442.3 286.9,441.9 287.0,441.5 287.2,441.2 287.3,441.7 287.5,441.4 287.6,439.7 287.8,437.1 287.9,437.0 288.1,438.4 288.2,438.9 288.4,440.5 288.5,440.9 288.7,440.7 288.8,440.8 289.0,440.8 289.1,440.3 289.3,440.7 289.4,440.6 289.5,440.4 289.7,440.1 289.8,441.2 290.0,440.9 290.1,440.7 290.3,440.8 290.4,440.5 290.6,440.9 290.7,440.9 290.9,441.0 291.0,440.3 291.2,439.7 291.3,440.8 291.5,439.7 291.6,439.8 291.8,441.2 291.9,440.2 292.1,440.1 292.2,441.2 292.4,440.1 292.5,440.3 292.7,440.1 292.8,439.5 293.0,440.1 293.1,439.9 293.3,440.6 293.4,439.7 293.6,439.6 293.7,439.5 293.9,438.4 294.0,439.8 294.2,439.3 294.3,439.7 294.5,439.2 294.6,438.4 294.8,439.5 294.9,439.7 295.1,438.6 295.2,439.2 295.4,439.0 295.5,438.6 295.7,438.8 295.8,438.5 295.9,438.1 296.1,437.8 296.2,438.7 296.4,437.2 296.5,438.1 296.7,438.4 296.8,438.4 297.0,437.8 297.1,437.2 297.3,438.2 297.4,438.5 297.6,437.4 297.7,438.5 297.9,437.9 298.0,437.9 298.2,438.3 298.3,438.9 298.5,438.1 298.6,438.3 298.8,438.6 298.9,438.3 299.1,439.0 299.2,439.6 299.4,440.0 299.5,439.0 299.7,439.5 299.8,439.0 300.0,439.3 300.1,439.4 300.3,439.9 300.4,439.6 300.6,439.3 300.7,440.2 300.9,439.2 301.0,440.0 301.2,439.6 301.3,440.3 301.5,439.6 301.6,440.1 301.8,440.0 301.9,439.9 302.1,439.3 302.2,439.8 302.3,440.0 302.5,440.6 302.6,440.1 302.8,440.7 302.9,440.0 303.1,440.3 303.2,440.1 303.4,440.5 303.5,440.1 303.7,440.0 303.8,439.4 304.0,439.9 304.1,439.8 304.3,440.5 304.4,439.7 304.6,440.4 304.7,440.5 304.9,440.3 305.0,440.0 305.2,440.3 305.3,440.3 305.5,439.8 305.6,440.4 305.8,440.2 305.9,440.3 306.1,440.0 306.2,440.0 306.4,440.4 306.5,439.6 306.7,441.3 306.8,439.8 307.0,439.4 307.1,439.3 307.3,439.7 307.4,439.8 307.6,440.6 307.7,441.4 307.9,442.5 308.0,442.1 308.2,441.5 308.3,441.1 308.5,439.5 308.6,439.7 308.7,439.3 308.9,440.0 309.0,440.5 309.2,439.7 309.3,439.3 309.5,440.7 309.6,440.0 309.8,439.8 309.9,438.9 310.1,439.7 310.2,440.4 310.4,440.3 310.5,440.3 310.7,440.2 310.8,439.5 311.0,439.9 311.1,439.7 311.3,440.5 311.4,438.8 311.6,440.1 311.7,440.4 311.9,440.0 312.0,439.5 312.2,439.9 312.3,439.8 312.5,438.8 312.6,440.2 312.8,439.4 312.9,440.9 313.1,439.7 313.2,440.0 313.4,439.4 313.5,439.7 313.7,440.1 313.8,439.8 314.0,439.8 314.1,439.9 314.3,440.1 314.4,440.3 314.6,440.1 314.7,440.0 314.9,440.2 315.0,439.5 315.1,440.4 315.3,440.7 315.4,440.4 315.6,440.3 315.7,440.0 315.9,439.5 316.0,439.9 316.2,439.4 316.3,439.8 316.5,439.7 316.6,439.3 316.8,439.8 316.9,439.6 317.1,440.0 317.2,440.3 317.4,440.0 317.5,439.1 317.7,439.7 317.8,440.9 318.0,440.4 318.1,439.6 318.3,440.1 318.4,439.5 318.6,439.7 318.7,440.0 318.9,439.0 319.0,439.9 319.2,438.9 319.3,439.6 319.5,439.5 319.6,439.7 319.8,440.3 319.9,439.9 320.1,439.6 320.2,440.2 320.4,439.3 320.5,439.7 320.7,439.7 320.8,439.8 321.0,440.9 321.1,439.6 321.2,439.4" fill="none" stroke="#0000ff" stroke-width="1.4" stroke-linejoin="round"/><rect x="276.75" y="417.30" width="44.50" height="44.20" fill="none" stroke="#222" stroke-width="1.15"/><path d="M299.00 461.50v-1.4M299.00 417.30v1.4M276.75 439.40h1.4M321.25 439.40h-1.4" stroke="#2a2a2a" stroke-width="0.7" fill="none"/><text x="274.9" y="419.7" text-anchor="end">0.4</text><text x="274.9" y="441.8" text-anchor="end">0</text><text x="275.2" y="465.2" text-anchor="end">-0.4</text><text x="277.4" y="469.2" text-anchor="middle">0</text><text x="299.0" y="469.2" text-anchor="middle">π</text><text x="322.4" y="469.2" text-anchor="end">2π</text><polyline points="337.2,438.4 337.3,437.2 337.5,436.0 337.6,434.4 337.8,433.1 337.9,431.6 338.1,430.6 338.2,428.8 338.4,427.2 338.5,426.3 338.7,425.5 338.8,424.4 339.0,423.0 339.1,422.2 339.3,422.2 339.4,421.5 339.6,420.8 339.7,420.3 339.9,420.2 340.0,420.1 340.2,419.9 340.3,420.2 340.5,421.0 340.6,421.0 340.8,421.8 340.9,422.4 341.1,423.1 341.2,424.1 341.4,425.1 341.5,425.9 341.7,426.7 341.8,428.6 342.0,429.8 342.1,431.5 342.3,433.1 342.4,434.5 342.6,436.1 342.7,437.3 342.9,438.9 343.0,440.0 343.2,441.8 343.3,443.3 343.5,445.0 343.6,446.5 343.7,447.5 343.9,449.0 344.0,450.1 344.2,451.3 344.3,452.8 344.5,453.6 344.6,454.0 344.8,455.0 344.9,455.4 345.1,456.4 345.2,456.7 345.4,456.7 345.5,456.5 345.7,457.2 345.8,457.4 346.0,457.0 346.1,456.9 346.3,456.3 346.4,455.6 346.6,455.1 346.7,454.0 346.9,453.6 347.0,452.1 347.2,451.3 347.3,450.0 347.5,448.2 347.6,447.4 347.8,445.8 347.9,444.3 348.1,442.7 348.2,441.2 348.4,440.0 348.5,438.6 348.7,436.6 348.8,435.0 349.0,434.2 349.1,432.2 349.3,431.1 349.4,429.6 349.6,428.7 349.7,427.0 349.9,425.9 350.0,425.7 350.1,423.9 350.3,423.4 350.4,423.0 350.6,421.9 350.7,422.0 350.9,421.2 351.0,420.8 351.2,421.2 351.3,421.3 351.5,421.7 351.6,421.7 351.8,421.5 351.9,422.8 352.1,422.8 352.2,423.7 352.4,424.9 352.5,425.6 352.7,426.8 352.8,427.9 353.0,429.0 353.1,430.3 353.3,432.0 353.4,433.2 353.6,434.6 353.7,436.2 353.9,437.8 354.0,439.2 354.2,440.7 354.3,442.1 354.5,443.9 354.6,445.5 354.8,446.1 354.9,447.6 355.1,449.2 355.2,449.9 355.4,451.3 355.5,452.4 355.7,452.8 355.8,453.7 356.0,454.7 356.1,455.0 356.3,455.6 356.4,456.4 356.5,456.7 356.7,456.3 356.8,456.5 357.0,456.5 357.1,456.0 357.3,455.4 357.4,454.8 357.6,454.4 357.7,453.8 357.9,452.5 358.0,452.0 358.2,451.0 358.3,449.7 358.5,448.5 358.6,446.9 358.8,445.8 358.9,444.0 359.1,442.9 359.2,441.4 359.4,439.3 359.5,438.3 359.7,436.9 359.8,435.1 360.0,433.4 360.1,431.9 360.3,431.0 360.4,429.9 360.6,428.5 360.7,427.1 360.9,425.5 361.0,424.4 361.2,424.0 361.3,423.2 361.5,421.9 361.6,421.6 361.8,421.0 361.9,420.2 362.1,420.1 362.2,420.5 362.4,420.1 362.5,420.3 362.6,420.3 362.8,421.3 362.9,421.4 363.1,422.2 363.2,422.7 363.4,423.8 363.5,424.3 363.7,425.8 363.8,426.4 364.0,427.6 364.1,429.2 364.3,430.2 364.4,431.6 364.6,433.5 364.7,435.2 364.9,436.6 365.0,438.2 365.2,439.3 365.3,440.9 365.5,442.6 365.6,444.0 365.8,445.4 365.9,447.2 366.1,448.5 366.2,450.0 366.4,450.7 366.5,451.9 366.7,452.8 366.8,453.9 367.0,454.8 367.1,455.7 367.3,456.4 367.4,456.3 367.6,457.5 367.7,456.9 367.9,457.7 368.0,457.5 368.2,456.9 368.3,457.1 368.5,457.0 368.6,455.8 368.8,455.1 368.9,454.4 369.0,454.0 369.2,452.6 369.3,451.6 369.5,450.6 369.6,449.2 369.8,448.2 369.9,446.2 370.1,445.3 370.2,443.6 370.4,442.1 370.5,440.7 370.7,439.0 370.8,437.6 371.0,436.0 371.1,435.0 371.3,433.1 371.4,431.8 371.6,430.8 371.7,429.1 371.9,428.1 372.0,426.9 372.2,426.1 372.3,425.0 372.5,424.1 372.6,423.1 372.8,422.4 372.9,422.0 373.1,421.8 373.2,421.2 373.4,420.8 373.5,420.9 373.7,421.1 373.8,421.3 374.0,421.8 374.1,422.2 374.3,422.7 374.4,423.5 374.6,424.2 374.7,425.0 374.9,426.0 375.0,427.3 375.2,428.7 375.3,430.1 375.4,431.6 375.6,432.3 375.7,433.8 375.9,435.4 376.0,437.2 376.2,438.3 376.3,439.5 376.5,441.0 376.6,442.2 376.8,444.0 376.9,445.4 377.1,446.7 377.2,448.7 377.4,449.3 377.5,450.9 377.7,451.6 377.8,453.1 378.0,453.8 378.1,454.6 378.3,455.1 378.4,455.3 378.6,456.2 378.7,456.0 378.9,456.1 379.0,456.7 379.2,456.0 379.3,455.6 379.5,455.9 379.6,455.1 379.8,454.3 379.9,454.1 380.1,453.3 380.2,452.3 380.4,451.2 380.5,450.4 380.7,449.0 380.8,447.9 381.0,446.2 381.1,444.3 381.3,443.2 381.4,442.4 381.6,440.2 381.7,439.2" fill="none" stroke="#0000ff" stroke-width="1.4" stroke-linejoin="round"/><rect x="337.20" y="417.30" width="44.50" height="44.20" fill="none" stroke="#222" stroke-width="1.15"/><path d="M359.45 461.50v-1.4M359.45 417.30v1.4M337.20 439.40h1.4M381.70 439.40h-1.4" stroke="#2a2a2a" stroke-width="0.7" fill="none"/><text x="335.3" y="419.7" text-anchor="end">1</text><text x="335.3" y="441.8" text-anchor="end">0</text><text x="335.7" y="465.2" text-anchor="end">-1</text><text x="337.8" y="469.2" text-anchor="middle">0</text><text x="359.4" y="469.2" text-anchor="middle">π</text><text x="382.9" y="469.2" text-anchor="end">2π</text><polyline points="398.5,452.5 398.6,452.7 398.8,452.0 398.9,452.1 399.1,451.6 399.2,451.1 399.4,450.5 399.5,449.6 399.7,448.3 399.8,447.4 400.0,446.6 400.1,445.6 400.3,444.4 400.4,442.8 400.6,442.0 400.7,440.7 400.9,439.1 401.0,437.4 401.2,436.0 401.3,434.4 401.5,433.1 401.6,431.8 401.8,430.7 401.9,428.7 402.1,427.6 402.2,425.8 402.4,425.2 402.5,423.7 402.7,422.5 402.8,421.5 403.0,420.5 403.1,419.7 403.3,419.1 403.4,418.4 403.6,418.2 403.7,417.8 403.9,417.3 404.0,417.5 404.2,417.6 404.3,418.2 404.5,418.2 404.6,418.3 404.8,419.1 404.9,419.5 405.0,420.6 405.2,420.8 405.3,422.0 405.5,423.2 405.6,424.3 405.8,425.5 405.9,426.5 406.1,428.2 406.2,429.3 406.4,430.9 406.5,432.7 406.7,433.9 406.8,435.3 407.0,436.7 407.1,437.9 407.3,440.0 407.4,441.4 407.6,442.5 407.7,444.0 407.9,445.6 408.0,446.2 408.2,447.9 408.3,449.0 408.5,449.9 408.6,451.0 408.8,451.4 408.9,451.8 409.1,452.1 409.2,452.9 409.4,453.3 409.5,453.3 409.7,453.5 409.8,452.5 410.0,452.6 410.1,452.6 410.3,452.3 410.4,451.6 410.6,450.8 410.7,450.3 410.9,449.1 411.0,447.6 411.2,447.8 411.3,446.1 411.4,444.7 411.6,443.8 411.7,442.6 411.9,440.8 412.0,439.5 412.2,438.1 412.3,436.8 412.5,434.7 412.6,433.7 412.8,431.9 412.9,430.7 413.1,429.7 413.2,428.0 413.4,427.2 413.5,425.4 413.7,424.3 413.8,423.7 414.0,422.2 414.1,421.1 414.3,420.9 414.4,420.5 414.6,419.9 414.7,419.2 414.9,418.3 415.0,418.8 415.2,417.9 415.3,418.8 415.5,418.6 415.6,419.4 415.8,419.2 415.9,420.0 416.1,420.3 416.2,421.3 416.4,422.1 416.5,423.0 416.7,424.1 416.8,425.3 417.0,426.7 417.1,428.0 417.3,429.4 417.4,430.3 417.6,432.2 417.7,434.1 417.8,434.9 418.0,436.3 418.1,438.2 418.3,439.5 418.4,441.1 418.6,442.2 418.7,443.4 418.9,445.0 419.0,446.3 419.2,447.2 419.3,448.5 419.5,449.8 419.6,450.6 419.8,451.0 419.9,452.1 420.1,452.6 420.2,453.5 420.4,453.2 420.5,454.0 420.7,453.9 420.8,453.9 421.0,454.1 421.1,453.9 421.3,452.9 421.4,452.7 421.6,451.9 421.7,450.8 421.9,450.8 422.0,449.6 422.2,448.6 422.3,447.9 422.5,446.5 422.6,444.5 422.8,443.7 422.9,442.1 423.1,440.4 423.2,439.6 423.4,437.6 423.5,436.2 423.7,435.1 423.8,433.4 423.9,431.8 424.1,430.7 424.2,429.0 424.4,427.7 424.5,427.3 424.7,425.3 424.8,424.5 425.0,423.0 425.1,422.2 425.3,421.1 425.4,420.7 425.6,420.3 425.7,418.9 425.9,419.1 426.0,418.4 426.2,418.5 426.3,418.7 426.5,418.8 426.6,418.3 426.8,418.9 426.9,419.4 427.1,420.5 427.2,420.6 427.4,421.5 427.5,422.2 427.7,423.3 427.8,424.4 428.0,425.5 428.1,426.8 428.3,427.7 428.4,429.5 428.6,430.8 428.7,431.8 428.9,433.4 429.0,435.0 429.2,436.5 429.3,437.8 429.5,439.5 429.6,441.2 429.8,442.0 429.9,443.7 430.1,445.4 430.2,446.4 430.3,447.5 430.5,448.4 430.6,449.0 430.8,450.3 430.9,451.1 431.1,452.0 431.2,452.0 431.4,452.7 431.5,453.3 431.7,453.1 431.8,452.9 432.0,453.4 432.1,453.2 432.3,452.5 432.4,451.8 432.6,452.2 432.7,450.8 432.9,450.6 433.0,450.2 433.2,448.4 433.3,448.0 433.5,446.7 433.6,444.7 433.8,444.2 433.9,442.3 434.1,441.5 434.2,439.8 434.4,438.2 434.5,437.4 434.7,435.5 434.8,433.3 435.0,432.5 435.1,430.9 435.3,429.4 435.4,428.2 435.6,426.1 435.7,425.9 435.9,423.8 436.0,422.8 436.2,422.0 436.3,420.8 436.5,420.6 436.6,419.5 436.7,418.6 436.9,418.2 437.0,418.2 437.2,417.6 437.3,417.3 437.5,417.8 437.6,417.6 437.8,418.2 437.9,418.4 438.1,419.0 438.2,419.1 438.4,420.1 438.5,421.0 438.7,421.5 438.8,422.9 439.0,423.8 439.1,425.2 439.3,426.4 439.4,427.0 439.6,428.8 439.7,430.5 439.9,431.5 440.0,433.2 440.2,434.6 440.3,436.0 440.5,437.2 440.6,438.7 440.8,440.8 440.9,441.5 441.1,442.7 441.2,444.7 441.4,445.8 441.5,446.7 441.7,447.5 441.8,449.2 442.0,449.3 442.1,450.1 442.3,451.0 442.4,451.2 442.6,452.4 442.7,451.9 442.9,452.6 443.0,452.3" fill="none" stroke="#0000ff" stroke-width="1.4" stroke-linejoin="round"/><rect x="398.50" y="417.30" width="44.50" height="44.20" fill="none" stroke="#222" stroke-width="1.15"/><path d="M420.75 461.50v-1.4M420.75 417.30v1.4M398.50 439.40h1.4M443.00 439.40h-1.4" stroke="#2a2a2a" stroke-width="0.7" fill="none"/><text x="396.6" y="419.7" text-anchor="end">1</text><text x="396.6" y="441.8" text-anchor="end">0</text><text x="397.0" y="465.2" text-anchor="end">-1</text><text x="399.1" y="469.2" text-anchor="middle">0</text><text x="420.8" y="469.2" text-anchor="middle">π</text><text x="444.2" y="469.2" text-anchor="end">2π</text><polyline points="459.3,454.1 459.4,453.0 459.6,452.8 459.7,452.8 459.9,452.1 460.0,451.0 460.2,451.4 460.3,450.7 460.5,450.1 460.6,449.5 460.8,449.5 460.9,448.9 461.1,448.6 461.2,448.0 461.4,448.2 461.5,447.6 461.7,447.2 461.8,446.1 462.0,446.4 462.1,445.9 462.3,445.0 462.4,445.3 462.6,444.7 462.7,444.2 462.9,443.2 463.0,442.8 463.2,442.1 463.3,443.1 463.5,442.3 463.6,441.3 463.8,441.6 463.9,440.4 464.1,440.6 464.2,439.6 464.4,439.6 464.5,439.3 464.7,438.7 464.8,437.6 465.0,437.5 465.1,436.8 465.3,437.2 465.4,436.5 465.6,435.9 465.7,435.4 465.8,435.3 466.0,434.8 466.1,434.6 466.3,434.1 466.4,433.8 466.6,433.0 466.7,432.7 466.9,432.4 467.0,431.9 467.2,431.4 467.3,431.3 467.5,430.9 467.6,430.3 467.8,430.5 467.9,429.8 468.1,429.4 468.2,428.6 468.4,428.7 468.5,428.0 468.7,427.5 468.8,427.5 469.0,426.3 469.1,427.0 469.3,426.2 469.4,425.0 469.6,424.4 469.7,424.7 469.9,424.1 470.0,424.1 470.2,423.5 470.3,423.2 470.5,422.7 470.6,423.3 470.8,424.0 470.9,424.1 471.1,425.2 471.2,424.7 471.4,426.1 471.5,426.4 471.7,426.4 471.8,427.0 472.0,427.3 472.1,428.1 472.2,427.9 472.4,429.5 472.5,429.1 472.7,429.1 472.8,430.0 473.0,430.7 473.1,431.0 473.3,431.7 473.4,431.9 473.6,432.6 473.7,432.9 473.9,433.5 474.0,433.9 474.2,434.6 474.3,435.0 474.5,435.7 474.6,435.9 474.8,436.2 474.9,436.6 475.1,437.2 475.2,437.7 475.4,438.1 475.5,438.6 475.7,438.9 475.8,439.1 476.0,440.0 476.1,440.2 476.3,440.8 476.4,441.2 476.6,441.3 476.7,442.6 476.9,442.6 477.0,443.3 477.2,443.7 477.3,444.1 477.5,444.4 477.6,444.6 477.8,445.5 477.9,446.0 478.1,446.0 478.2,446.2 478.4,446.7 478.5,447.1 478.6,447.9 478.8,448.1 478.9,448.6 479.1,449.7 479.2,449.5 479.4,450.4 479.5,450.1 479.7,451.0 479.8,451.5 480.0,451.7 480.1,452.2 480.3,452.5 480.4,452.9 480.6,453.9 480.7,454.2 480.9,454.5 481.0,454.7 481.2,454.9 481.3,455.9 481.5,456.1 481.6,455.9 481.8,455.6 481.9,455.5 482.1,454.9 482.2,454.3 482.4,454.0 482.5,453.6 482.7,453.3 482.8,453.0 483.0,452.4 483.1,452.1 483.3,451.5 483.4,451.0 483.6,450.1 483.7,449.8 483.9,449.7 484.0,449.1 484.2,449.4 484.3,448.3 484.5,447.5 484.6,447.9 484.7,447.3 484.9,446.7 485.0,446.3 485.2,445.5 485.3,445.0 485.5,445.1 485.6,444.6 485.8,443.7 485.9,443.2 486.1,442.7 486.2,442.4 486.4,442.2 486.5,441.7 486.7,441.5 486.8,441.0 487.0,440.6 487.1,439.8 487.3,439.3 487.4,439.0 487.6,438.5 487.7,437.9 487.9,437.5 488.0,437.3 488.2,436.7 488.3,436.1 488.5,435.6 488.6,435.0 488.8,434.0 488.9,434.2 489.1,434.1 489.2,433.3 489.4,433.1 489.5,432.8 489.7,432.5 489.8,431.8 490.0,431.4 490.1,430.3 490.3,430.3 490.4,429.3 490.6,429.6 490.7,428.9 490.9,428.5 491.0,428.2 491.1,427.4 491.3,426.9 491.4,426.7 491.6,426.2 491.7,425.7 491.9,425.2 492.0,424.9 492.2,424.5 492.3,423.7 492.5,423.7 492.6,422.7 492.8,423.2 492.9,423.5 493.1,424.0 493.2,424.0 493.4,424.7 493.5,424.6 493.7,425.7 493.8,426.1 494.0,426.0 494.1,426.2 494.3,427.4 494.4,427.8 494.6,427.8 494.7,428.4 494.9,428.5 495.0,428.9 495.2,429.6 495.3,430.1 495.5,430.3 495.6,430.5 495.8,431.0 495.9,431.9 496.1,432.0 496.2,432.2 496.4,432.6 496.5,433.2 496.7,433.7 496.8,434.5 497.0,434.6 497.1,434.4 497.3,435.3 497.4,435.7 497.5,436.0 497.7,436.6 497.8,437.6 498.0,437.9 498.1,437.8 498.3,438.0 498.4,438.7 498.6,438.8 498.7,439.6 498.9,439.5 499.0,440.1 499.2,441.0 499.3,441.1 499.5,441.3 499.6,441.4 499.8,442.7 499.9,442.9 500.1,443.1 500.2,444.4 500.4,444.1 500.5,444.4 500.7,444.8 500.8,444.8 501.0,445.3 501.1,446.0 501.3,446.2 501.4,447.0 501.6,447.3 501.7,447.6 501.9,448.5 502.0,448.3 502.2,449.1 502.3,450.0 502.5,449.6 502.6,450.5 502.8,451.1 502.9,451.1 503.1,451.6 503.2,451.7 503.4,452.7 503.5,452.5 503.7,453.1 503.8,453.7" fill="none" stroke="#0000ff" stroke-width="1.4" stroke-linejoin="round"/><rect x="459.30" y="417.30" width="44.50" height="44.20" fill="none" stroke="#222" stroke-width="1.15"/><path d="M481.55 461.50v-1.4M481.55 417.30v1.4M459.30 439.40h1.4M503.80 439.40h-1.4" stroke="#2a2a2a" stroke-width="0.7" fill="none"/><text x="457.4" y="419.7" text-anchor="end">1</text><text x="457.4" y="441.8" text-anchor="end">0</text><text x="457.8" y="465.2" text-anchor="end">-1</text><text x="459.9" y="469.2" text-anchor="middle">0</text><text x="481.6" y="469.2" text-anchor="middle">π</text><text x="505.0" y="469.2" text-anchor="end">2π</text><polyline points="276.8,500.5 276.9,500.8 277.0,500.9 277.2,500.5 277.3,500.8 277.5,500.3 277.6,500.7 277.8,500.7 277.9,501.0 278.1,500.4 278.2,500.2 278.4,500.9 278.5,499.6 278.7,500.7 278.8,500.8 279.0,500.5 279.1,500.9 279.3,500.6 279.4,500.4 279.6,500.6 279.7,500.7 279.9,501.0 280.0,500.5 280.2,500.8 280.3,501.0 280.5,500.3 280.6,500.1 280.8,500.7 280.9,500.4 281.1,500.2 281.2,500.5 281.4,500.6 281.5,500.7 281.7,500.3 281.8,501.1 282.0,501.1 282.1,500.6 282.3,501.0 282.4,501.2 282.6,500.8 282.7,500.9 282.9,501.1 283.0,500.6 283.1,500.9 283.3,501.1 283.4,501.1 283.6,501.4 283.7,500.9 283.9,501.1 284.0,500.8 284.2,501.2 284.3,500.7 284.5,501.0 284.6,501.1 284.8,501.4 284.9,501.2 285.1,501.6 285.2,501.5 285.4,501.1 285.5,501.3 285.7,501.7 285.8,501.0 286.0,501.3 286.1,501.5 286.3,501.6 286.4,501.5 286.6,502.0 286.7,501.8 286.9,501.7 287.0,501.9 287.2,501.3 287.3,499.7 287.5,499.7 287.6,500.2 287.8,501.9 287.9,501.9 288.1,501.8 288.2,502.4 288.4,501.9 288.5,502.5 288.7,502.6 288.8,502.6 289.0,503.1 289.1,502.4 289.3,502.4 289.4,502.3 289.5,502.4 289.7,502.4 289.8,502.4 290.0,502.9 290.1,502.5 290.3,502.0 290.4,502.5 290.6,501.8 290.7,501.4 290.9,501.3 291.0,501.9 291.2,501.9 291.3,501.3 291.5,501.9 291.6,501.8 291.8,501.1 291.9,501.9 292.1,501.7 292.2,501.1 292.4,501.4 292.5,501.4 292.7,501.0 292.8,500.9 293.0,501.3 293.1,501.1 293.3,500.8 293.4,500.4 293.6,501.0 293.7,501.2 293.9,501.0 294.0,500.7 294.2,500.7 294.3,501.4 294.5,500.9 294.6,501.1 294.8,500.5 294.9,500.7 295.1,500.9 295.2,500.1 295.4,501.2 295.5,500.9 295.7,500.5 295.8,500.6 295.9,500.9 296.1,500.6 296.2,500.5 296.4,500.4 296.5,501.0 296.7,501.0 296.8,500.9 297.0,500.8 297.1,500.6 297.3,501.3 297.4,499.8 297.6,500.3 297.7,500.6 297.9,500.7 298.0,500.2 298.2,500.7 298.3,500.6 298.5,501.1 298.6,500.7 298.8,501.2 298.9,500.9 299.1,500.5 299.2,501.0 299.4,500.8 299.5,501.2 299.7,501.0 299.8,500.9 300.0,500.6 300.1,500.3 300.3,500.3 300.4,500.8 300.6,501.0 300.7,500.8 300.9,500.9 301.0,500.8 301.2,501.1 301.3,500.7 301.5,500.6 301.6,500.6 301.8,500.8 301.9,500.7 302.1,500.4 302.2,500.4 302.3,500.4 302.5,500.4 302.6,500.5 302.8,500.1 302.9,500.6 303.1,499.6 303.2,500.4 303.4,500.0 303.5,499.5 303.7,499.7 303.8,499.7 304.0,500.0 304.1,499.3 304.3,499.7 304.4,499.4 304.6,499.6 304.7,499.5 304.9,499.6 305.0,499.7 305.2,498.8 305.3,499.5 305.5,499.1 305.6,499.2 305.8,499.2 305.9,499.2 306.1,499.0 306.2,499.0 306.4,499.8 306.5,499.4 306.7,499.2 306.8,498.9 307.0,499.2 307.1,498.9 307.3,499.4 307.4,499.4 307.6,499.6 307.7,499.4 307.9,500.5 308.0,499.7 308.2,499.7 308.3,500.0 308.5,500.2 308.6,499.8 308.7,500.5 308.9,500.1 309.0,500.1 309.2,500.9 309.3,500.9 309.5,500.6 309.6,500.2 309.8,500.7 309.9,500.8 310.1,500.5 310.2,500.6 310.4,500.9 310.5,500.6 310.7,500.3 310.8,500.8 311.0,500.3 311.1,500.6 311.3,500.3 311.4,500.6 311.6,500.6 311.7,501.0 311.9,500.1 312.0,501.4 312.2,500.6 312.3,500.8 312.5,501.3 312.6,501.2 312.8,501.1 312.9,500.7 313.1,501.0 313.2,501.0 313.4,502.0 313.5,501.3 313.7,501.2 313.8,501.1 314.0,501.5 314.1,500.3 314.3,501.0 314.4,500.6 314.6,501.5 314.7,501.2 314.9,500.8 315.0,501.0 315.1,501.1 315.3,500.5 315.4,500.9 315.6,501.2 315.7,501.3 315.9,500.8 316.0,500.8 316.2,500.5 316.3,500.9 316.5,500.9 316.6,500.8 316.8,500.2 316.9,500.8 317.1,500.5 317.2,501.1 317.4,501.2 317.5,501.2 317.7,500.9 317.8,501.1 318.0,500.6 318.1,500.7 318.3,500.9 318.4,501.0 318.6,501.3 318.7,500.9 318.9,500.7 319.0,500.3 319.2,500.6 319.3,501.2 319.5,500.3 319.6,500.6 319.8,500.9 319.9,501.3 320.1,500.8 320.2,501.2 320.4,500.8 320.5,501.3 320.7,501.0 320.8,500.8 321.0,500.6 321.1,500.5 321.2,500.4" fill="none" stroke="#0000ff" stroke-width="1.4" stroke-linejoin="round"/><rect x="276.75" y="479.00" width="44.50" height="44.20" fill="none" stroke="#222" stroke-width="1.15"/><path d="M299.00 523.20v-1.4M299.00 479.00v1.4M276.75 501.10h1.4M321.25 501.10h-1.4" stroke="#2a2a2a" stroke-width="0.7" fill="none"/><text x="274.9" y="481.4" text-anchor="end">0.4</text><text x="274.9" y="503.5" text-anchor="end">0</text><text x="275.2" y="526.9" text-anchor="end">-0.4</text><text x="277.4" y="530.9" text-anchor="middle">0</text><text x="299.0" y="530.9" text-anchor="middle">π</text><text x="322.4" y="530.9" text-anchor="end">2π</text><polyline points="337.2,498.2 337.3,498.7 337.5,499.1 337.6,500.3 337.8,500.7 337.9,501.4 338.1,502.1 338.2,502.2 338.4,503.7 338.5,504.0 338.7,504.8 338.8,505.5 339.0,505.9 339.1,507.0 339.3,507.5 339.4,507.8 339.6,508.3 339.7,509.1 339.9,509.7 340.0,510.8 340.2,511.0 340.3,511.5 340.5,512.3 340.6,512.0 340.8,512.9 340.9,513.1 341.1,513.8 341.2,513.9 341.4,513.8 341.5,515.1 341.7,515.1 341.8,515.2 342.0,516.0 342.1,516.3 342.3,515.9 342.4,516.0 342.6,516.2 342.7,517.2 342.9,516.1 343.0,517.1 343.2,517.0 343.3,516.3 343.5,517.2 343.6,516.3 343.7,516.9 343.9,517.3 344.0,516.2 344.2,516.8 344.3,516.8 344.5,516.3 344.6,515.7 344.8,515.7 344.9,515.4 345.1,515.6 345.2,515.1 345.4,514.8 345.5,513.9 345.7,513.8 345.8,513.6 346.0,513.5 346.1,513.0 346.3,512.1 346.4,511.4 346.6,511.0 346.7,510.5 346.9,510.3 347.0,509.4 347.2,508.6 347.3,508.8 347.5,507.2 347.6,507.1 347.8,506.7 347.9,505.4 348.1,505.7 348.2,505.4 348.4,504.2 348.5,503.2 348.7,502.6 348.8,501.8 349.0,501.5 349.1,500.4 349.3,499.6 349.4,499.2 349.6,498.7 349.7,498.0 349.9,497.6 350.0,496.0 350.1,496.1 350.3,495.2 350.4,495.2 350.6,494.3 350.7,493.6 350.9,493.0 351.0,492.4 351.2,492.0 351.3,491.3 351.5,490.8 351.6,490.5 351.8,489.4 351.9,489.2 352.1,489.1 352.2,488.3 352.4,487.9 352.5,487.8 352.7,487.6 352.8,487.3 353.0,486.2 353.1,486.8 353.3,486.3 353.4,486.0 353.6,486.0 353.7,485.6 353.9,485.5 354.0,485.2 354.2,485.4 354.3,485.0 354.5,485.1 354.6,484.7 354.8,484.9 354.9,485.2 355.1,485.7 355.2,485.5 355.4,485.9 355.5,485.3 355.7,486.0 355.8,486.3 356.0,486.7 356.1,486.9 356.3,486.7 356.4,487.4 356.5,487.3 356.7,488.0 356.8,488.4 357.0,489.4 357.1,489.2 357.3,490.0 357.4,490.0 357.6,490.6 357.7,491.5 357.9,491.4 358.0,492.5 358.2,492.7 358.3,493.5 358.5,494.1 358.6,494.9 358.8,494.8 358.9,495.7 359.1,496.9 359.2,497.4 359.4,497.6 359.5,498.5 359.7,499.1 359.8,499.7 360.0,500.5 360.1,501.4 360.3,501.3 360.4,502.1 360.6,502.9 360.7,503.9 360.9,504.3 361.0,505.5 361.2,505.6 361.3,506.6 361.5,506.8 361.6,507.8 361.8,508.5 361.9,509.0 362.1,509.4 362.2,510.6 362.4,510.2 362.5,511.0 362.6,510.9 362.8,512.1 362.9,512.9 363.1,512.7 363.2,513.5 363.4,513.8 363.5,514.2 363.7,514.4 363.8,514.9 364.0,515.1 364.1,515.7 364.3,515.8 364.4,516.2 364.6,516.1 364.7,516.3 364.9,516.3 365.0,517.1 365.2,516.7 365.3,517.1 365.5,516.9 365.6,517.3 365.8,516.8 365.9,517.0 366.1,516.9 366.2,516.3 366.4,516.5 366.5,516.6 366.7,516.2 366.8,516.3 367.0,515.9 367.1,515.6 367.3,514.9 367.4,514.6 367.6,514.7 367.7,514.3 367.9,514.5 368.0,513.8 368.2,513.6 368.3,512.4 368.5,512.4 368.6,512.2 368.8,511.3 368.9,510.5 369.0,510.3 369.2,509.9 369.3,508.9 369.5,508.6 369.6,508.1 369.8,507.8 369.9,506.9 370.1,506.2 370.2,505.3 370.4,505.0 370.5,504.3 370.7,503.5 370.8,502.7 371.0,501.7 371.1,501.9 371.3,501.2 371.4,499.8 371.6,499.6 371.7,499.2 371.9,498.2 372.0,497.2 372.2,496.9 372.3,496.3 372.5,495.6 372.6,495.2 372.8,494.7 372.9,493.3 373.1,493.4 373.2,492.7 373.4,491.8 373.5,491.9 373.7,491.3 373.8,490.3 374.0,490.1 374.1,489.5 374.3,489.1 374.4,488.1 374.6,488.5 374.7,488.1 374.9,487.3 375.0,486.9 375.2,487.0 375.3,486.7 375.4,486.9 375.6,486.4 375.7,485.9 375.9,485.7 376.0,485.6 376.2,485.4 376.3,485.2 376.5,484.8 376.6,485.3 376.8,484.9 376.9,485.5 377.1,485.3 377.2,485.4 377.4,485.6 377.5,485.6 377.7,485.5 377.8,486.0 378.0,486.5 378.1,486.0 378.3,486.0 378.4,486.7 378.6,487.1 378.7,487.5 378.9,487.7 379.0,487.6 379.2,488.4 379.3,489.2 379.5,489.3 379.6,490.2 379.8,490.1 379.9,490.9 380.1,491.2 380.2,492.0 380.4,493.1 380.5,493.0 380.7,493.8 380.8,494.3 381.0,494.6 381.1,495.9 381.3,496.4 381.4,497.1 381.6,497.5 381.7,498.0" fill="none" stroke="#0000ff" stroke-width="1.4" stroke-linejoin="round"/><rect x="337.20" y="479.00" width="44.50" height="44.20" fill="none" stroke="#222" stroke-width="1.15"/><path d="M359.45 523.20v-1.4M359.45 479.00v1.4M337.20 501.10h1.4M381.70 501.10h-1.4" stroke="#2a2a2a" stroke-width="0.7" fill="none"/><text x="335.3" y="481.4" text-anchor="end">1</text><text x="335.3" y="503.5" text-anchor="end">0</text><text x="335.7" y="526.9" text-anchor="end">-1</text><text x="337.8" y="530.9" text-anchor="middle">0</text><text x="359.4" y="530.9" text-anchor="middle">π</text><text x="382.9" y="530.9" text-anchor="end">2π</text><polyline points="398.5,483.9 398.6,483.9 398.8,484.0 398.9,484.2 399.1,485.5 399.2,485.5 399.4,485.4 399.5,486.0 399.7,485.8 399.8,486.0 400.0,487.0 400.1,487.1 400.3,487.5 400.4,487.5 400.6,488.5 400.7,488.8 400.9,488.9 401.0,489.6 401.2,490.3 401.3,490.1 401.5,491.3 401.6,491.8 401.8,491.5 401.9,492.6 402.1,492.8 402.2,494.0 402.4,494.9 402.5,494.5 402.7,495.4 402.8,496.3 403.0,496.5 403.1,497.2 403.3,497.7 403.4,498.0 403.6,499.1 403.7,499.2 403.9,500.2 404.0,500.5 404.2,500.9 404.3,501.4 404.5,502.1 404.6,503.5 404.8,504.1 404.9,503.9 405.0,505.1 405.2,505.6 405.3,506.2 405.5,505.9 405.6,507.7 405.8,507.8 405.9,508.3 406.1,508.7 406.2,509.5 406.4,510.0 406.5,510.4 406.7,510.9 406.8,511.6 407.0,511.9 407.1,512.3 407.3,513.3 407.4,513.7 407.6,513.4 407.7,514.2 407.9,514.2 408.0,515.3 408.2,515.2 408.3,516.1 408.5,515.9 408.6,516.4 408.8,516.4 408.9,517.4 409.1,517.1 409.2,517.8 409.4,518.2 409.5,518.0 409.7,518.6 409.8,517.9 410.0,517.9 410.1,517.5 410.3,517.4 410.4,517.1 410.6,517.0 410.7,516.8 410.9,516.6 411.0,515.7 411.2,515.7 411.3,514.7 411.4,514.5 411.6,514.6 411.7,514.0 411.9,513.3 412.0,513.5 412.2,513.4 412.3,512.1 412.5,512.2 412.6,512.0 412.8,510.9 412.9,510.6 413.1,509.8 413.2,509.0 413.4,508.4 413.5,508.2 413.7,507.7 413.8,507.7 414.0,506.4 414.1,506.0 414.3,505.9 414.4,505.2 414.6,504.9 414.7,504.0 414.9,503.5 415.0,502.8 415.2,502.8 415.3,501.3 415.5,501.1 415.6,500.7 415.8,500.0 415.9,499.7 416.1,498.6 416.2,498.3 416.4,497.9 416.5,497.1 416.7,496.8 416.8,496.0 417.0,495.7 417.1,494.5 417.3,494.3 417.4,493.8 417.6,493.2 417.7,492.7 417.8,491.9 418.0,491.9 418.1,491.3 418.3,490.9 418.4,490.3 418.6,490.0 418.7,490.0 418.9,489.3 419.0,489.2 419.2,488.8 419.3,488.3 419.5,488.2 419.6,487.2 419.8,487.4 419.9,486.7 420.1,486.6 420.2,486.6 420.4,485.9 420.5,486.9 420.7,486.0 420.8,485.2 421.0,485.9 421.1,486.3 421.3,486.2 421.4,487.1 421.6,487.5 421.7,487.5 421.9,488.0 422.0,488.1 422.2,488.4 422.3,488.7 422.5,489.1 422.6,489.9 422.8,489.9 422.9,490.8 423.1,490.8 423.2,490.5 423.4,491.4 423.5,492.3 423.7,492.4 423.8,492.9 423.9,493.6 424.1,494.3 424.2,494.4 424.4,494.9 424.5,495.2 424.7,495.9 424.8,495.9 425.0,497.1 425.1,498.8 425.3,498.6 425.4,498.7 425.6,499.7 425.7,499.6 425.9,501.1 426.0,501.3 426.2,501.9 426.3,502.5 426.5,502.4 426.6,503.6 426.8,503.8 426.9,504.8 427.1,504.7 427.2,505.4 427.4,505.6 427.5,507.1 427.7,507.4 427.8,507.7 428.0,508.5 428.1,509.2 428.3,510.0 428.4,509.9 428.6,510.4 428.7,511.0 428.9,511.5 429.0,512.1 429.2,512.5 429.3,513.7 429.5,513.1 429.6,513.7 429.8,514.0 429.9,514.9 430.1,515.2 430.2,515.4 430.3,515.6 430.5,516.1 430.6,516.1 430.8,516.5 430.9,516.8 431.1,517.0 431.2,517.4 431.4,517.9 431.5,518.1 431.7,518.6 431.8,518.9 432.0,518.4 432.1,517.6 432.3,517.8 432.4,517.5 432.6,517.1 432.7,516.9 432.9,516.9 433.0,516.5 433.2,515.3 433.3,515.5 433.5,514.7 433.6,514.4 433.8,514.4 433.9,513.3 434.1,513.2 434.2,513.5 434.4,512.7 434.5,511.8 434.7,512.0 434.8,511.0 435.0,510.2 435.1,510.0 435.3,509.4 435.4,508.9 435.6,508.2 435.7,507.6 435.9,507.3 436.0,507.4 436.2,506.3 436.3,505.6 436.5,504.5 436.6,504.3 436.7,504.4 436.9,503.0 437.0,502.8 437.2,502.0 437.3,501.1 437.5,500.5 437.6,499.2 437.8,499.1 437.9,498.9 438.1,498.0 438.2,497.6 438.4,497.5 438.5,496.6 438.7,495.6 438.8,495.1 439.0,494.6 439.1,493.8 439.3,493.5 439.4,492.8 439.6,492.7 439.7,492.3 439.9,491.4 440.0,490.8 440.2,490.4 440.3,489.9 440.5,489.1 440.6,489.1 440.8,488.5 440.9,488.4 441.1,487.9 441.2,487.2 441.4,486.5 441.5,486.8 441.7,486.7 441.8,485.7 442.0,485.2 442.1,485.3 442.3,485.2 442.4,484.7 442.6,484.6 442.7,484.7 442.9,484.0 443.0,483.5" fill="none" stroke="#0000ff" stroke-width="1.4" stroke-linejoin="round"/><rect x="398.50" y="479.00" width="44.50" height="44.20" fill="none" stroke="#222" stroke-width="1.15"/><path d="M420.75 523.20v-1.4M420.75 479.00v1.4M398.50 501.10h1.4M443.00 501.10h-1.4" stroke="#2a2a2a" stroke-width="0.7" fill="none"/><text x="396.6" y="481.4" text-anchor="end">1</text><text x="396.6" y="503.5" text-anchor="end">0</text><text x="397.0" y="526.9" text-anchor="end">-1</text><text x="399.1" y="530.9" text-anchor="middle">0</text><text x="420.8" y="530.9" text-anchor="middle">π</text><text x="444.2" y="530.9" text-anchor="end">2π</text><polyline points="459.3,509.7 459.4,510.6 459.6,510.6 459.7,511.1 459.9,509.9 460.0,509.0 460.2,511.0 460.3,511.1 460.5,510.3 460.6,508.6 460.8,510.5 460.9,508.6 461.1,511.5 461.2,509.8 461.4,508.7 461.5,511.1 461.7,510.8 461.8,509.3 462.0,510.5 462.1,509.8 462.3,509.7 462.4,509.1 462.6,508.5 462.7,511.2 462.9,510.2 463.0,509.2 463.2,509.6 463.3,509.6 463.5,511.0 463.6,509.7 463.8,511.2 463.9,508.9 464.1,510.7 464.2,513.1 464.4,513.2 464.5,509.7 464.7,508.6 464.8,510.0 465.0,509.8 465.1,510.2 465.3,510.5 465.4,510.8 465.6,512.1 465.7,510.5 465.8,509.8 466.0,510.8 466.1,510.0 466.3,509.5 466.4,511.9 466.6,510.0 466.7,510.4 466.9,508.9 467.0,509.4 467.2,509.4 467.3,511.5 467.5,508.8 467.6,510.3 467.8,510.1 467.9,509.5 468.1,508.4 468.2,509.2 468.4,506.5 468.5,506.5 468.7,508.6 468.8,507.7 469.0,508.5 469.1,508.9 469.3,508.4 469.4,506.4 469.6,507.3 469.7,507.8 469.9,507.6 470.0,508.2 470.2,507.2 470.3,506.6 470.5,505.6 470.6,506.8 470.8,507.7 470.9,508.3 471.1,505.0 471.2,508.2 471.4,508.1 471.5,510.0 471.7,508.7 471.8,509.0 472.0,508.6 472.1,507.7 472.2,508.4 472.4,510.1 472.5,510.9 472.7,509.7 472.8,509.1 473.0,510.4 473.1,510.2 473.3,509.5 473.4,510.9 473.6,509.3 473.7,510.7 473.9,508.2 474.0,510.1 474.2,510.6 474.3,510.3 474.5,511.1 474.6,509.8 474.8,511.3 474.9,509.2 475.1,510.1 475.2,511.4 475.4,509.4 475.5,509.6 475.7,511.2 475.8,509.5 476.0,510.2 476.1,509.6 476.3,511.4 476.4,508.7 476.6,510.5 476.7,509.6 476.9,508.4 477.0,510.0 477.2,509.2 477.3,508.6 477.5,510.8 477.6,510.5 477.8,509.5 477.9,508.9 478.1,510.4 478.2,508.4 478.4,508.8 478.5,509.8 478.6,510.3 478.8,508.0 478.9,510.4 479.1,509.1 479.2,512.0 479.4,509.7 479.5,509.6 479.7,510.0 479.8,508.8 480.0,509.1 480.1,510.9 480.3,508.5 480.4,509.7 480.6,508.1 480.7,509.8 480.9,509.6 481.0,508.8 481.2,510.0 481.3,508.5 481.5,508.9 481.6,509.4 481.8,507.2 481.9,507.0 482.1,508.3 482.2,505.8 482.4,504.8 482.5,504.8 482.7,505.8 482.8,504.8 483.0,504.5 483.1,503.0 483.3,505.0 483.4,502.9 483.6,502.6 483.7,504.9 483.9,501.7 484.0,502.4 484.2,504.6 484.3,503.3 484.5,502.1 484.6,503.8 484.7,504.8 484.9,503.9 485.0,503.6 485.2,502.9 485.3,502.6 485.5,504.1 485.6,505.4 485.8,504.0 485.9,504.2 486.1,503.6 486.2,502.4 486.4,504.8 486.5,502.1 486.7,503.4 486.8,502.8 487.0,506.2 487.1,504.1 487.3,503.4 487.4,504.6 487.6,504.3 487.7,504.7 487.9,504.7 488.0,504.9 488.2,503.5 488.3,505.1 488.5,505.0 488.6,503.3 488.8,504.7 488.9,505.1 489.1,502.3 489.2,507.1 489.4,504.2 489.5,504.8 489.7,502.5 489.8,504.6 490.0,505.8 490.1,505.3 490.3,506.1 490.4,503.5 490.6,505.1 490.7,505.0 490.9,505.5 491.0,504.7 491.1,506.3 491.3,505.3 491.4,505.9 491.6,505.2 491.7,505.7 491.9,505.3 492.0,504.4 492.2,505.7 492.3,505.1 492.5,506.2 492.6,506.5 492.8,506.1 492.9,506.3 493.1,505.8 493.2,506.3 493.4,506.4 493.5,507.1 493.7,505.5 493.8,506.8 494.0,506.6 494.1,505.2 494.3,504.4 494.4,505.0 494.6,505.4 494.7,505.0 494.9,507.1 495.0,505.3 495.2,505.8 495.3,506.6 495.5,506.4 495.6,506.2 495.8,507.9 495.9,505.9 496.1,506.4 496.2,506.8 496.4,508.1 496.5,506.3 496.7,507.7 496.8,505.7 497.0,507.4 497.1,506.9 497.3,509.4 497.4,506.5 497.5,507.3 497.7,506.3 497.8,506.0 498.0,508.3 498.1,508.7 498.3,508.0 498.4,506.7 498.6,507.4 498.7,507.0 498.9,508.0 499.0,508.0 499.2,508.4 499.3,506.4 499.5,506.6 499.6,507.1 499.8,505.6 499.9,506.2 500.1,508.5 500.2,506.7 500.4,507.2 500.5,507.0 500.7,508.8 500.8,507.3 501.0,507.9 501.1,506.5 501.3,507.8 501.4,507.6 501.6,506.9 501.7,508.6 501.9,506.7 502.0,506.3 502.2,507.8 502.3,508.3 502.5,508.4 502.6,508.5 502.8,507.8 502.9,508.6 503.1,506.4 503.2,507.9 503.4,507.6 503.5,508.4 503.7,507.9 503.8,507.8" fill="none" stroke="#0000ff" stroke-width="1.55" stroke-linejoin="round"/><rect x="459.30" y="479.00" width="44.50" height="44.20" fill="none" stroke="#222" stroke-width="1.15"/><path d="M481.55 523.20v-1.4M481.55 479.00v1.4M459.30 501.10h1.4M503.80 501.10h-1.4" stroke="#2a2a2a" stroke-width="0.7" fill="none"/><text x="457.4" y="481.4" text-anchor="end">0</text><text x="457.4" y="503.5" text-anchor="end">0.5</text><text x="457.8" y="526.9" text-anchor="end">-1</text><text x="459.9" y="530.9" text-anchor="middle">0</text><text x="481.6" y="530.9" text-anchor="middle">π</text><text x="505.0" y="530.9" text-anchor="end">2π</text></g></svg></body></html>
